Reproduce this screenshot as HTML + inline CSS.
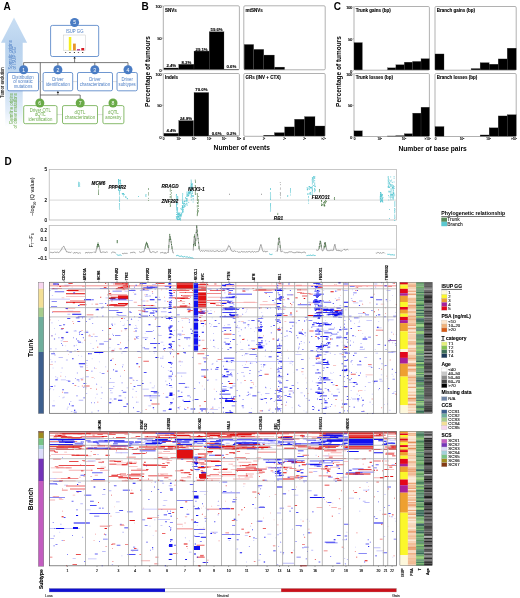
<!DOCTYPE html>
<html><head><meta charset="utf-8"><title>Figure</title>
<style>html,body{margin:0;padding:0;background:#fff;overflow:hidden}svg{display:block}text{font-family:"Liberation Sans", Arial, sans-serif}</style>
</head><body>
<svg width="520" height="598" viewBox="0 0 520 598">
<rect width="520" height="598" fill="#fff"/>
<text x="3.50" y="9.60" font-size="10" fill="#000" font-weight="bold">A</text>
<defs><linearGradient id="ag" x1="0" y1="0" x2="0" y2="1"><stop offset="0" stop-color="#cadff4"/><stop offset="0.25" stop-color="#b9d3ee"/><stop offset="0.6" stop-color="#c2d9f0"/><stop offset="0.85" stop-color="#e2edf9"/><stop offset="1" stop-color="#ffffff"/></linearGradient></defs>
<polygon points="14,17.4 27.1,42.8 22.7,42.8 22.7,127 5.2,127 5.2,42.8 1,42.8" fill="url(#ag)"/>
<text x="11.80" y="69.50" font-size="5.0" fill="#4a7cc4" transform="rotate(-90 11.8 69.5) translate(11.80 69.50) scale(0.86 1) translate(-11.80 -69.50)">Somatic origins</text>
<text x="16.20" y="69.50" font-size="5.0" fill="#4a7cc4" transform="rotate(-90 16.2 69.5) translate(16.20 69.50) scale(0.86 1) translate(-16.20 -69.50)">of ISUP GG</text>
<text x="12.60" y="124.30" font-size="5.0" fill="#6aaa48" transform="rotate(-90 12.6 124.3) translate(12.60 124.30) scale(0.86 1) translate(-12.60 -124.30)">Germline origins</text>
<text x="17.10" y="128.50" font-size="5.0" fill="#6aaa48" transform="rotate(-90 17.1 128.5) translate(17.10 128.50) scale(0.86 1) translate(-17.10 -128.50)">of driver mutations</text>
<text x="3.90" y="98.00" font-size="5.0" fill="#222" transform="rotate(-90 3.9 98.0) translate(3.90 98.00) scale(0.86 1) translate(-3.90 -98.00)" stroke="#222" stroke-width="0.14">Tumor evolution</text>
<line x1="23.60" y1="62.60" x2="128.00" y2="62.60" stroke="#444" stroke-width="0.7"/>
<line x1="23.60" y1="62.60" x2="23.60" y2="66.00" stroke="#444" stroke-width="0.7"/>
<line x1="57.90" y1="62.60" x2="57.90" y2="66.00" stroke="#444" stroke-width="0.7"/>
<line x1="94.80" y1="62.60" x2="94.80" y2="66.00" stroke="#444" stroke-width="0.7"/>
<line x1="128.00" y1="62.60" x2="128.00" y2="66.00" stroke="#444" stroke-width="0.7"/>
<line x1="74.60" y1="62.60" x2="74.60" y2="57.20" stroke="#444" stroke-width="0.7"/>
<polygon points="74.6,56.4 73.4,58.6 75.8,58.6" fill="#222"/>
<line x1="40.30" y1="62.60" x2="40.30" y2="99.50" stroke="#444" stroke-width="0.7"/>
<line x1="40.30" y1="95.00" x2="80.20" y2="95.00" stroke="#444" stroke-width="0.7"/>
<line x1="80.20" y1="95.00" x2="80.20" y2="99.50" stroke="#444" stroke-width="0.7"/>
<line x1="57.90" y1="95.00" x2="57.90" y2="91.60" stroke="#444" stroke-width="0.7"/>
<polygon points="57.9,90.9 56.7,93.0 59.1,93.0" fill="#222"/>
<line x1="38.50" y1="81.60" x2="43.10" y2="81.60" stroke="#c8c8c8" stroke-width="0.6"/>
<line x1="72.70" y1="81.60" x2="77.50" y2="81.60" stroke="#c8c8c8" stroke-width="0.6"/>
<line x1="112.50" y1="81.60" x2="117.00" y2="81.60" stroke="#c8c8c8" stroke-width="0.6"/>
<line x1="57.00" y1="114.60" x2="62.50" y2="114.60" stroke="#c8c8c8" stroke-width="0.6"/>
<line x1="97.50" y1="114.60" x2="102.90" y2="114.60" stroke="#c8c8c8" stroke-width="0.6"/>
<rect x="7.50" y="72.50" width="31.00" height="18.30" fill="#fff" stroke="#4a7cc4" stroke-width="0.8" rx="1.6"/>
<text x="23.00" y="79.05" font-size="5.0" fill="#4a7cc4" text-anchor="middle" transform="translate(23.00 79.05) scale(0.86 1) translate(-23.00 -79.05)">Distribution</text>
<text x="23.00" y="83.45" font-size="5.0" fill="#4a7cc4" text-anchor="middle" transform="translate(23.00 83.45) scale(0.86 1) translate(-23.00 -83.45)">of somatic</text>
<text x="23.00" y="87.85" font-size="5.0" fill="#4a7cc4" text-anchor="middle" transform="translate(23.00 87.85) scale(0.86 1) translate(-23.00 -87.85)">mutations</text>
<rect x="43.10" y="72.50" width="29.60" height="18.30" fill="#fff" stroke="#4a7cc4" stroke-width="0.8" rx="1.6"/>
<text x="57.90" y="81.25" font-size="5.0" fill="#4a7cc4" text-anchor="middle" transform="translate(57.90 81.25) scale(0.86 1) translate(-57.90 -81.25)">Driver</text>
<text x="57.90" y="85.65" font-size="5.0" fill="#4a7cc4" text-anchor="middle" transform="translate(57.90 85.65) scale(0.86 1) translate(-57.90 -85.65)">identification</text>
<rect x="77.50" y="72.50" width="35.00" height="18.30" fill="#fff" stroke="#4a7cc4" stroke-width="0.8" rx="1.6"/>
<text x="95.00" y="81.25" font-size="5.0" fill="#4a7cc4" text-anchor="middle" transform="translate(95.00 81.25) scale(0.86 1) translate(-95.00 -81.25)">Driver</text>
<text x="95.00" y="85.65" font-size="5.0" fill="#4a7cc4" text-anchor="middle" transform="translate(95.00 85.65) scale(0.86 1) translate(-95.00 -85.65)">characterization</text>
<rect x="117.00" y="72.50" width="20.30" height="18.30" fill="#fff" stroke="#4a7cc4" stroke-width="0.8" rx="1.6"/>
<text x="127.15" y="81.25" font-size="5.0" fill="#4a7cc4" text-anchor="middle" transform="translate(127.15 81.25) scale(0.86 1) translate(-127.15 -81.25)">Driver</text>
<text x="127.15" y="85.65" font-size="5.0" fill="#4a7cc4" text-anchor="middle" transform="translate(127.15 85.65) scale(0.86 1) translate(-127.15 -85.65)">subtypes</text>
<rect x="23.70" y="105.60" width="33.30" height="18.10" fill="#fff" stroke="#6aaa48" stroke-width="0.8" rx="1.6"/>
<text x="40.35" y="112.05" font-size="5.0" fill="#6aaa48" text-anchor="middle" transform="translate(40.35 112.05) scale(0.86 1) translate(-40.35 -112.05)">Driver QTL</text>
<text x="40.35" y="116.45" font-size="5.0" fill="#6aaa48" text-anchor="middle" transform="translate(40.35 116.45) scale(0.86 1) translate(-40.35 -116.45)">dQTL</text>
<text x="40.35" y="120.85" font-size="5.0" fill="#6aaa48" text-anchor="middle" transform="translate(40.35 120.85) scale(0.86 1) translate(-40.35 -120.85)">identification</text>
<rect x="62.50" y="105.60" width="35.00" height="18.10" fill="#fff" stroke="#6aaa48" stroke-width="0.8" rx="1.6"/>
<text x="80.00" y="114.25" font-size="5.0" fill="#6aaa48" text-anchor="middle" transform="translate(80.00 114.25) scale(0.86 1) translate(-80.00 -114.25)">dQTL</text>
<text x="80.00" y="118.65" font-size="5.0" fill="#6aaa48" text-anchor="middle" transform="translate(80.00 118.65) scale(0.86 1) translate(-80.00 -118.65)">characterization</text>
<rect x="102.90" y="105.60" width="21.00" height="18.10" fill="#fff" stroke="#6aaa48" stroke-width="0.8" rx="1.6"/>
<text x="113.40" y="114.25" font-size="5.0" fill="#6aaa48" text-anchor="middle" transform="translate(113.40 114.25) scale(0.86 1) translate(-113.40 -114.25)">dQTL</text>
<text x="113.40" y="118.65" font-size="5.0" fill="#6aaa48" text-anchor="middle" transform="translate(113.40 118.65) scale(0.86 1) translate(-113.40 -118.65)">ancestry</text>
<rect x="50.60" y="25.40" width="48.10" height="31.10" fill="#fff" stroke="#4a7cc4" stroke-width="0.8" rx="1.8"/>
<text x="74.60" y="33.20" font-size="5.0" fill="#4a7cc4" text-anchor="middle" transform="translate(74.60 33.20) scale(0.86 1) translate(-74.60 -33.20)">ISUP GG</text>
<rect x="63.50" y="35.00" width="22.10" height="15.40" fill="#fff" stroke="#bbb" stroke-width="0.4"/>
<rect x="64.60" y="49.60" width="2.00" height="0.80" fill="#f8f4d0"/>
<rect x="68.80" y="37.00" width="2.50" height="13.40" fill="#f5ee20"/>
<rect x="73.00" y="43.60" width="2.80" height="6.80" fill="#e8952a"/>
<rect x="77.00" y="49.20" width="3.00" height="1.20" fill="#a8208c"/>
<rect x="81.30" y="48.00" width="2.90" height="2.40" fill="#d8161e"/>
<text x="65.60" y="53.40" font-size="2.4" fill="#333" text-anchor="middle" stroke="#333" stroke-width="0.14">1</text>
<text x="70.00" y="53.40" font-size="2.4" fill="#333" text-anchor="middle" stroke="#333" stroke-width="0.14">2</text>
<text x="74.40" y="53.40" font-size="2.4" fill="#333" text-anchor="middle" stroke="#333" stroke-width="0.14">3</text>
<text x="78.50" y="53.40" font-size="2.4" fill="#333" text-anchor="middle" stroke="#333" stroke-width="0.14">4</text>
<text x="82.70" y="53.40" font-size="2.4" fill="#333" text-anchor="middle" stroke="#333" stroke-width="0.14">5</text>
<circle cx="23.6" cy="69.8" r="4.5" fill="#4a7cc4"/>
<text x="23.60" y="71.60" font-size="5.2" fill="#fff" text-anchor="middle">1</text>
<circle cx="57.9" cy="69.8" r="4.5" fill="#4a7cc4"/>
<text x="57.90" y="71.60" font-size="5.2" fill="#fff" text-anchor="middle">2</text>
<circle cx="94.8" cy="69.8" r="4.5" fill="#4a7cc4"/>
<text x="94.80" y="71.60" font-size="5.2" fill="#fff" text-anchor="middle">3</text>
<circle cx="128.0" cy="69.8" r="4.5" fill="#4a7cc4"/>
<text x="128.00" y="71.60" font-size="5.2" fill="#fff" text-anchor="middle">4</text>
<circle cx="74.6" cy="22.5" r="4.5" fill="#4a7cc4"/>
<text x="74.60" y="24.30" font-size="5.2" fill="#fff" text-anchor="middle">5</text>
<circle cx="39.8" cy="103.0" r="4.5" fill="#6aaa48"/>
<text x="39.80" y="104.80" font-size="5.2" fill="#fff" text-anchor="middle">6</text>
<circle cx="80.2" cy="103.0" r="4.5" fill="#6aaa48"/>
<text x="80.20" y="104.80" font-size="5.2" fill="#fff" text-anchor="middle">7</text>
<circle cx="113.0" cy="103.0" r="4.5" fill="#6aaa48"/>
<text x="113.00" y="104.80" font-size="5.2" fill="#fff" text-anchor="middle">8</text>
<text x="141.50" y="9.60" font-size="10" fill="#000" font-weight="bold">B</text>
<rect x="163.30" y="5.80" width="76.10" height="64.00" fill="#fff" stroke="#a8a8a8" stroke-width="0.9" rx="1.2"/>
<rect x="163.90" y="67.98" width="14.80" height="1.52" fill="#000" stroke="#555" stroke-width="0.25"/>
<rect x="178.70" y="64.24" width="15.30" height="5.26" fill="#000" stroke="#555" stroke-width="0.25"/>
<rect x="194.00" y="51.05" width="15.20" height="18.45" fill="#000" stroke="#555" stroke-width="0.25"/>
<rect x="209.20" y="31.71" width="14.80" height="37.79" fill="#000" stroke="#555" stroke-width="0.25"/>
<rect x="224.00" y="69.12" width="14.80" height="0.38" fill="#000" stroke="#555" stroke-width="0.25"/>
<text x="165.10" y="11.50" font-size="4.5" fill="#000" font-weight="bold" stroke="#000" stroke-width="0.1">SNVs</text>
<text x="171.30" y="66.80" font-size="4.3" fill="#000" font-weight="bold" text-anchor="middle" stroke="#000" stroke-width="0.1">2.4%</text>
<text x="186.40" y="63.80" font-size="4.3" fill="#000" font-weight="bold" text-anchor="middle" stroke="#000" stroke-width="0.1">8.3%</text>
<text x="201.60" y="50.50" font-size="4.3" fill="#000" font-weight="bold" text-anchor="middle" stroke="#000" stroke-width="0.1">29.1%</text>
<text x="216.60" y="31.00" font-size="4.3" fill="#000" font-weight="bold" text-anchor="middle" stroke="#000" stroke-width="0.1">59.6%</text>
<text x="231.40" y="67.60" font-size="4.3" fill="#000" font-weight="bold" text-anchor="middle" stroke="#000" stroke-width="0.1">0.6%</text>
<text x="161.50" y="7.90" font-size="3.6" fill="#000" text-anchor="end" stroke="#000" stroke-width="0.18">100</text>
<line x1="162.00" y1="6.00" x2="163.30" y2="6.00" stroke="#333" stroke-width="0.3"/>
<text x="161.50" y="40.10" font-size="3.6" fill="#000" text-anchor="end" stroke="#000" stroke-width="0.18">50</text>
<line x1="162.00" y1="38.20" x2="163.30" y2="38.20" stroke="#333" stroke-width="0.3"/>
<text x="161.50" y="72.10" font-size="3.6" fill="#000" text-anchor="end" stroke="#000" stroke-width="0.18">0</text>
<line x1="162.00" y1="70.20" x2="163.30" y2="70.20" stroke="#333" stroke-width="0.3"/>
<rect x="243.80" y="5.80" width="81.40" height="64.00" fill="#fff" stroke="#a8a8a8" stroke-width="0.9" rx="1.2"/>
<rect x="244.20" y="44.46" width="9.50" height="25.04" fill="#000" stroke="#555" stroke-width="0.25"/>
<rect x="253.70" y="49.34" width="10.10" height="20.16" fill="#000" stroke="#555" stroke-width="0.25"/>
<rect x="263.80" y="55.04" width="10.60" height="14.46" fill="#000" stroke="#555" stroke-width="0.25"/>
<rect x="274.40" y="67.09" width="10.20" height="2.41" fill="#000" stroke="#555" stroke-width="0.25"/>
<text x="245.60" y="11.50" font-size="4.5" fill="#000" font-weight="bold" stroke="#000" stroke-width="0.1">mtSNVs</text>
<rect x="163.30" y="73.50" width="76.10" height="62.80" fill="#fff" stroke="#a8a8a8" stroke-width="0.9" rx="1.2"/>
<rect x="163.90" y="133.26" width="14.80" height="2.74" fill="#000" stroke="#555" stroke-width="0.25"/>
<rect x="178.70" y="120.57" width="14.90" height="15.43" fill="#000" stroke="#555" stroke-width="0.25"/>
<rect x="194.00" y="92.46" width="14.80" height="43.54" fill="#000" stroke="#555" stroke-width="0.25"/>
<rect x="209.20" y="135.63" width="14.80" height="0.37" fill="#000" stroke="#555" stroke-width="0.25"/>
<rect x="224.00" y="135.88" width="14.80" height="0.12" fill="#000" stroke="#555" stroke-width="0.25"/>
<text x="165.10" y="79.20" font-size="4.5" fill="#000" font-weight="bold" stroke="#000" stroke-width="0.1">Indels</text>
<text x="171.30" y="131.60" font-size="4.3" fill="#000" font-weight="bold" text-anchor="middle" stroke="#000" stroke-width="0.1">4.4%</text>
<text x="186.00" y="119.80" font-size="4.3" fill="#000" font-weight="bold" text-anchor="middle" stroke="#000" stroke-width="0.1">24.8%</text>
<text x="201.40" y="91.00" font-size="4.3" fill="#000" font-weight="bold" text-anchor="middle" stroke="#000" stroke-width="0.1">70.0%</text>
<text x="216.60" y="134.60" font-size="4.3" fill="#000" font-weight="bold" text-anchor="middle" stroke="#000" stroke-width="0.1">0.6%</text>
<text x="231.40" y="134.80" font-size="4.3" fill="#000" font-weight="bold" text-anchor="middle" stroke="#000" stroke-width="0.1">0.2%</text>
<text x="161.50" y="75.60" font-size="3.6" fill="#000" text-anchor="end" stroke="#000" stroke-width="0.18">100</text>
<line x1="162.00" y1="73.70" x2="163.30" y2="73.70" stroke="#333" stroke-width="0.3"/>
<text x="161.50" y="107.20" font-size="3.6" fill="#000" text-anchor="end" stroke="#000" stroke-width="0.18">50</text>
<line x1="162.00" y1="105.30" x2="163.30" y2="105.30" stroke="#333" stroke-width="0.3"/>
<text x="161.50" y="138.60" font-size="3.6" fill="#000" text-anchor="end" stroke="#000" stroke-width="0.18">0</text>
<line x1="162.00" y1="136.70" x2="163.30" y2="136.70" stroke="#333" stroke-width="0.3"/>
<rect x="243.80" y="73.50" width="81.40" height="62.80" fill="#fff" stroke="#a8a8a8" stroke-width="0.9" rx="1.2"/>
<rect x="263.80" y="135.19" width="10.60" height="0.81" fill="#000" stroke="#555" stroke-width="0.25"/>
<rect x="274.40" y="132.64" width="10.20" height="3.36" fill="#000" stroke="#555" stroke-width="0.25"/>
<rect x="284.60" y="126.92" width="9.90" height="9.08" fill="#000" stroke="#555" stroke-width="0.25"/>
<rect x="294.50" y="119.21" width="10.00" height="16.79" fill="#000" stroke="#555" stroke-width="0.25"/>
<rect x="304.50" y="116.59" width="10.50" height="19.41" fill="#000" stroke="#555" stroke-width="0.25"/>
<rect x="315.00" y="125.99" width="9.90" height="10.01" fill="#000" stroke="#555" stroke-width="0.25"/>
<text x="245.60" y="79.20" font-size="4.5" fill="#000" font-weight="bold" stroke="#000" stroke-width="0.1">GRs (INV + CTX)</text>
<text x="163.50" y="140.20" font-size="3.0" fill="#000" text-anchor="middle" stroke="#000" stroke-width="0.14">0</text>
<text x="178.70" y="140.20" font-size="3.0" fill="#000" text-anchor="middle" stroke="#000" stroke-width="0.14">10<tspan dy="-1" font-size="1.8">1</tspan></text>
<text x="194.00" y="140.20" font-size="3.0" fill="#000" text-anchor="middle" stroke="#000" stroke-width="0.14">10<tspan dy="-1" font-size="1.8">2</tspan></text>
<text x="209.20" y="140.20" font-size="3.0" fill="#000" text-anchor="middle" stroke="#000" stroke-width="0.14">10<tspan dy="-1" font-size="1.8">3</tspan></text>
<text x="224.00" y="140.20" font-size="3.0" fill="#000" text-anchor="middle" stroke="#000" stroke-width="0.14">10<tspan dy="-1" font-size="1.8">4</tspan></text>
<text x="238.80" y="140.20" font-size="3.0" fill="#000" text-anchor="middle" stroke="#000" stroke-width="0.14">10<tspan dy="-1" font-size="1.8">5</tspan></text>
<text x="244.20" y="140.20" font-size="3.0" fill="#000" text-anchor="middle" stroke="#000" stroke-width="0.14">0</text>
<text x="264.00" y="140.20" font-size="3.0" fill="#000" text-anchor="middle" stroke="#000" stroke-width="0.14">2<tspan dy="-1" font-size="1.8">1</tspan></text>
<text x="284.50" y="140.20" font-size="3.0" fill="#000" text-anchor="middle" stroke="#000" stroke-width="0.14">2<tspan dy="-1" font-size="1.8">3</tspan></text>
<text x="304.50" y="140.20" font-size="3.0" fill="#000" text-anchor="middle" stroke="#000" stroke-width="0.14">2<tspan dy="-1" font-size="1.8">5</tspan></text>
<text x="323.50" y="140.20" font-size="3.0" fill="#000" text-anchor="middle" stroke="#000" stroke-width="0.14">&gt;2<tspan dy="-1" font-size="1.8">7</tspan></text>
<text x="241.80" y="150.00" font-size="6.7" fill="#000" font-weight="bold" text-anchor="middle">Number of events</text>
<text x="150.30" y="71.50" font-size="6.5" fill="#000" font-weight="bold" text-anchor="middle" transform="rotate(-90 150.3 71.5)">Percentage of tumours</text>
<text x="333.80" y="9.60" font-size="10" fill="#000" font-weight="bold">C</text>
<rect x="354.00" y="6.50" width="75.40" height="63.70" fill="#fff" stroke="#a8a8a8" stroke-width="0.9" rx="1.2"/>
<rect x="354.00" y="42.58" width="8.38" height="27.32" fill="#000" stroke="#555" stroke-width="0.25"/>
<rect x="387.51" y="67.82" width="8.38" height="2.08" fill="#000" stroke="#555" stroke-width="0.25"/>
<rect x="395.89" y="64.73" width="8.38" height="5.17" fill="#000" stroke="#555" stroke-width="0.25"/>
<rect x="404.27" y="62.14" width="8.38" height="7.76" fill="#000" stroke="#555" stroke-width="0.25"/>
<rect x="412.64" y="61.38" width="8.38" height="8.52" fill="#000" stroke="#555" stroke-width="0.25"/>
<rect x="421.02" y="58.67" width="8.38" height="11.23" fill="#000" stroke="#555" stroke-width="0.25"/>
<text x="355.80" y="12.20" font-size="4.5" fill="#000" font-weight="bold" stroke="#000" stroke-width="0.1">Trunk gains (bp)</text>
<text x="352.20" y="8.60" font-size="3.6" fill="#000" text-anchor="end" stroke="#000" stroke-width="0.18">100</text>
<line x1="352.70" y1="6.70" x2="354.00" y2="6.70" stroke="#333" stroke-width="0.3"/>
<text x="352.20" y="40.65" font-size="3.6" fill="#000" text-anchor="end" stroke="#000" stroke-width="0.18">50</text>
<line x1="352.70" y1="38.75" x2="354.00" y2="38.75" stroke="#333" stroke-width="0.3"/>
<text x="352.20" y="72.50" font-size="3.6" fill="#000" text-anchor="end" stroke="#000" stroke-width="0.18">0</text>
<line x1="352.70" y1="70.60" x2="354.00" y2="70.60" stroke="#333" stroke-width="0.3"/>
<rect x="435.00" y="6.50" width="81.20" height="63.70" fill="#fff" stroke="#a8a8a8" stroke-width="0.9" rx="1.2"/>
<rect x="435.00" y="53.94" width="9.02" height="15.96" fill="#000" stroke="#555" stroke-width="0.25"/>
<rect x="471.09" y="68.51" width="9.02" height="1.39" fill="#000" stroke="#555" stroke-width="0.25"/>
<rect x="480.11" y="62.64" width="9.02" height="7.26" fill="#000" stroke="#555" stroke-width="0.25"/>
<rect x="489.13" y="64.16" width="9.02" height="5.74" fill="#000" stroke="#555" stroke-width="0.25"/>
<rect x="498.16" y="58.92" width="9.02" height="10.98" fill="#000" stroke="#555" stroke-width="0.25"/>
<rect x="507.18" y="48.13" width="9.02" height="21.77" fill="#000" stroke="#555" stroke-width="0.25"/>
<text x="436.80" y="12.20" font-size="4.5" fill="#000" font-weight="bold" stroke="#000" stroke-width="0.1">Branch gains (bp)</text>
<rect x="354.00" y="73.50" width="75.40" height="63.00" fill="#fff" stroke="#a8a8a8" stroke-width="0.9" rx="1.2"/>
<rect x="354.00" y="130.83" width="8.38" height="5.37" fill="#000" stroke="#555" stroke-width="0.25"/>
<rect x="387.51" y="135.95" width="8.38" height="0.25" fill="#000" stroke="#555" stroke-width="0.25"/>
<rect x="395.89" y="135.58" width="8.38" height="0.62" fill="#000" stroke="#555" stroke-width="0.25"/>
<rect x="404.27" y="133.70" width="8.38" height="2.50" fill="#000" stroke="#555" stroke-width="0.25"/>
<rect x="412.64" y="113.11" width="8.38" height="23.09" fill="#000" stroke="#555" stroke-width="0.25"/>
<rect x="421.02" y="107.18" width="8.38" height="29.02" fill="#000" stroke="#555" stroke-width="0.25"/>
<text x="355.80" y="79.20" font-size="4.5" fill="#000" font-weight="bold" stroke="#000" stroke-width="0.1">Trunk losses (bp)</text>
<text x="352.20" y="75.60" font-size="3.6" fill="#000" text-anchor="end" stroke="#000" stroke-width="0.18">100</text>
<line x1="352.70" y1="73.70" x2="354.00" y2="73.70" stroke="#333" stroke-width="0.3"/>
<text x="352.20" y="107.30" font-size="3.6" fill="#000" text-anchor="end" stroke="#000" stroke-width="0.18">50</text>
<line x1="352.70" y1="105.40" x2="354.00" y2="105.40" stroke="#333" stroke-width="0.3"/>
<text x="352.20" y="138.80" font-size="3.6" fill="#000" text-anchor="end" stroke="#000" stroke-width="0.18">0</text>
<line x1="352.70" y1="136.90" x2="354.00" y2="136.90" stroke="#333" stroke-width="0.3"/>
<rect x="435.00" y="73.50" width="81.20" height="63.00" fill="#fff" stroke="#a8a8a8" stroke-width="0.9" rx="1.2"/>
<rect x="435.00" y="126.53" width="9.02" height="9.67" fill="#000" stroke="#555" stroke-width="0.25"/>
<rect x="480.11" y="134.95" width="9.02" height="1.25" fill="#000" stroke="#555" stroke-width="0.25"/>
<rect x="489.13" y="127.78" width="9.02" height="8.42" fill="#000" stroke="#555" stroke-width="0.25"/>
<rect x="498.16" y="115.92" width="9.02" height="20.28" fill="#000" stroke="#555" stroke-width="0.25"/>
<rect x="507.18" y="114.67" width="9.02" height="21.53" fill="#000" stroke="#555" stroke-width="0.25"/>
<text x="436.80" y="79.20" font-size="4.5" fill="#000" font-weight="bold" stroke="#000" stroke-width="0.1">Branch losses (bp)</text>
<text x="354.60" y="140.20" font-size="3.0" fill="#000" text-anchor="middle" stroke="#000" stroke-width="0.14">0</text>
<text x="379.70" y="140.20" font-size="3.0" fill="#000" text-anchor="middle" stroke="#000" stroke-width="0.14">10<tspan dy="-1" font-size="1.8">5</tspan></text>
<text x="404.00" y="140.20" font-size="3.0" fill="#000" text-anchor="middle" stroke="#000" stroke-width="0.14">10<tspan dy="-1" font-size="1.8">6</tspan></text>
<text x="427.60" y="140.20" font-size="3.0" fill="#000" text-anchor="middle" stroke="#000" stroke-width="0.14">&gt;10<tspan dy="-1" font-size="1.8">7</tspan></text>
<text x="435.60" y="140.20" font-size="3.0" fill="#000" text-anchor="middle" stroke="#000" stroke-width="0.14">0</text>
<text x="462.00" y="140.20" font-size="3.0" fill="#000" text-anchor="middle" stroke="#000" stroke-width="0.14">10<tspan dy="-1" font-size="1.8">5</tspan></text>
<text x="488.50" y="140.20" font-size="3.0" fill="#000" text-anchor="middle" stroke="#000" stroke-width="0.14">10<tspan dy="-1" font-size="1.8">6</tspan></text>
<text x="514.00" y="140.20" font-size="3.0" fill="#000" text-anchor="middle" stroke="#000" stroke-width="0.14">&gt;10<tspan dy="-1" font-size="1.8">7</tspan></text>
<text x="432.60" y="151.20" font-size="6.7" fill="#000" font-weight="bold" text-anchor="middle">Number of base pairs</text>
<text x="341.00" y="71.50" font-size="6.5" fill="#000" font-weight="bold" text-anchor="middle" transform="rotate(-90 341.0 71.5)">Percentage of tumours</text>
<text x="4.50" y="165.00" font-size="10" fill="#000" font-weight="bold">D</text>
<rect x="49.20" y="169.50" width="347.20" height="50.50" fill="none" stroke="#b0b0b0" stroke-width="0.7"/>
<line x1="49.20" y1="200.10" x2="396.40" y2="200.10" stroke="#bdbdbd" stroke-width="0.6"/>
<text x="47.00" y="171.10" font-size="4.6" fill="#000" text-anchor="end" stroke="#000" stroke-width="0.14">5</text>
<text x="47.00" y="201.70" font-size="4.6" fill="#000" text-anchor="end" stroke="#000" stroke-width="0.14">2</text>
<text x="47.00" y="221.60" font-size="4.6" fill="#000" text-anchor="end" stroke="#000" stroke-width="0.14">0</text>
<text x="34.50" y="196.70" font-size="5.6" fill="#000" text-anchor="middle" transform="rotate(-90 34.5 196.7)">−log<tspan dy="1.2" font-size="3.2">10</tspan><tspan dy="-1.2"> (Q value)</tspan></text>
<rect x="49.20" y="225.50" width="347.20" height="33.00" fill="none" stroke="#b0b0b0" stroke-width="0.7"/>
<line x1="49.20" y1="249.20" x2="396.40" y2="249.20" stroke="#c8c8c8" stroke-width="0.5"/>
<text x="47.00" y="231.80" font-size="4.6" fill="#000" text-anchor="end" stroke="#000" stroke-width="0.14">0.2</text>
<text x="47.00" y="241.30" font-size="4.6" fill="#000" text-anchor="end" stroke="#000" stroke-width="0.14">0.1</text>
<text x="47.00" y="250.80" font-size="4.6" fill="#000" text-anchor="end" stroke="#000" stroke-width="0.14">0</text>
<text x="47.00" y="260.20" font-size="4.6" fill="#000" text-anchor="end" stroke="#000" stroke-width="0.14">−0.1</text>
<text x="32.80" y="240.30" font-size="5.6" fill="#000" text-anchor="middle" transform="rotate(-90 32.8 240.3)">F<tspan dy="1.2" font-size="3.2">T</tspan><tspan dy="-1.2">−F</tspan><tspan dy="1.2" font-size="3.2">B</tspan></text>
<rect x="78.15" y="181.80" width="0.90" height="0.80" fill="#4fc3cf"/>
<rect x="78.12" y="182.90" width="0.90" height="0.80" fill="#4fc3cf"/>
<rect x="78.21" y="184.00" width="0.90" height="0.80" fill="#4fc3cf"/>
<rect x="78.25" y="185.10" width="0.90" height="0.80" fill="#4fc3cf"/>
<rect x="78.23" y="186.20" width="0.90" height="0.80" fill="#4fc3cf"/>
<rect x="79.03" y="182.50" width="0.90" height="0.80" fill="#4fc3cf"/>
<rect x="79.25" y="183.60" width="0.90" height="0.80" fill="#4fc3cf"/>
<rect x="79.07" y="184.70" width="0.90" height="0.80" fill="#4fc3cf"/>
<rect x="79.28" y="185.80" width="0.90" height="0.80" fill="#4fc3cf"/>
<rect x="98.12" y="183.00" width="0.90" height="0.80" fill="#4d7a45"/>
<rect x="98.26" y="185.20" width="0.90" height="0.80" fill="#4d7a45"/>
<rect x="98.04" y="186.30" width="0.90" height="0.80" fill="#4d7a45"/>
<rect x="98.09" y="187.40" width="0.90" height="0.80" fill="#4d7a45"/>
<rect x="98.17" y="189.60" width="0.90" height="0.80" fill="#4d7a45"/>
<rect x="98.11" y="190.70" width="0.90" height="0.80" fill="#4d7a45"/>
<rect x="98.02" y="191.80" width="0.90" height="0.80" fill="#4d7a45"/>
<rect x="98.06" y="192.90" width="0.90" height="0.80" fill="#4d7a45"/>
<rect x="98.13" y="194.00" width="0.90" height="0.80" fill="#4d7a45"/>
<rect x="118.13" y="179.00" width="1.00" height="0.80" fill="#4fc3cf"/>
<rect x="118.04" y="180.10" width="1.00" height="0.80" fill="#4fc3cf"/>
<rect x="118.16" y="181.20" width="1.00" height="0.80" fill="#4fc3cf"/>
<rect x="118.12" y="182.30" width="1.00" height="0.80" fill="#4fc3cf"/>
<rect x="118.21" y="183.40" width="1.00" height="0.80" fill="#4fc3cf"/>
<rect x="118.04" y="184.50" width="1.00" height="0.80" fill="#4fc3cf"/>
<rect x="118.08" y="186.70" width="1.00" height="0.80" fill="#4fc3cf"/>
<rect x="118.00" y="187.80" width="1.00" height="0.80" fill="#4fc3cf"/>
<rect x="117.96" y="188.90" width="1.00" height="0.80" fill="#4fc3cf"/>
<rect x="118.18" y="190.00" width="1.00" height="0.80" fill="#4fc3cf"/>
<rect x="119.81" y="180.00" width="1.00" height="0.80" fill="#4fc3cf"/>
<rect x="119.76" y="181.10" width="1.00" height="0.80" fill="#4fc3cf"/>
<rect x="119.72" y="182.20" width="1.00" height="0.80" fill="#4fc3cf"/>
<rect x="119.80" y="183.30" width="1.00" height="0.80" fill="#4fc3cf"/>
<rect x="119.75" y="185.50" width="1.00" height="0.80" fill="#4fc3cf"/>
<rect x="119.76" y="186.60" width="1.00" height="0.80" fill="#4fc3cf"/>
<rect x="119.85" y="187.70" width="1.00" height="0.80" fill="#4fc3cf"/>
<rect x="119.67" y="189.90" width="1.00" height="0.80" fill="#4fc3cf"/>
<rect x="118.91" y="190.00" width="0.90" height="0.80" fill="#4fc3cf"/>
<rect x="118.95" y="191.10" width="0.90" height="0.80" fill="#4fc3cf"/>
<rect x="118.92" y="192.20" width="0.90" height="0.80" fill="#4fc3cf"/>
<rect x="118.94" y="193.30" width="0.90" height="0.80" fill="#4fc3cf"/>
<rect x="119.02" y="194.40" width="0.90" height="0.80" fill="#4fc3cf"/>
<rect x="119.03" y="196.60" width="0.90" height="0.80" fill="#4fc3cf"/>
<rect x="119.17" y="197.70" width="0.90" height="0.80" fill="#4fc3cf"/>
<rect x="119.16" y="198.80" width="0.90" height="0.80" fill="#4fc3cf"/>
<rect x="119.02" y="199.90" width="0.90" height="0.80" fill="#4fc3cf"/>
<rect x="119.17" y="201.00" width="0.90" height="0.80" fill="#4fc3cf"/>
<rect x="118.95" y="203.20" width="0.90" height="0.80" fill="#4fc3cf"/>
<rect x="118.97" y="204.30" width="0.90" height="0.80" fill="#4fc3cf"/>
<rect x="119.08" y="205.40" width="0.90" height="0.80" fill="#4fc3cf"/>
<rect x="118.90" y="206.50" width="0.90" height="0.80" fill="#4fc3cf"/>
<rect x="119.01" y="207.60" width="0.90" height="0.80" fill="#4fc3cf"/>
<rect x="119.19" y="208.70" width="0.90" height="0.80" fill="#4fc3cf"/>
<rect x="120.07" y="184.67" width="0.90" height="0.80" fill="#4fc3cf"/>
<rect x="119.85" y="186.44" width="0.90" height="0.80" fill="#4fc3cf"/>
<rect x="118.16" y="188.89" width="0.90" height="0.80" fill="#4fc3cf"/>
<rect x="120.34" y="188.62" width="0.90" height="0.80" fill="#4fc3cf"/>
<rect x="120.39" y="183.32" width="0.90" height="0.80" fill="#4fc3cf"/>
<rect x="119.20" y="180.14" width="0.90" height="0.80" fill="#4fc3cf"/>
<rect x="119.90" y="179.68" width="0.90" height="0.80" fill="#4fc3cf"/>
<rect x="118.20" y="181.30" width="0.90" height="0.80" fill="#4fc3cf"/>
<rect x="118.49" y="182.74" width="0.90" height="0.80" fill="#4fc3cf"/>
<rect x="118.16" y="179.00" width="0.90" height="0.80" fill="#4fc3cf"/>
<rect x="122.12" y="193.61" width="0.90" height="0.80" fill="#4fc3cf"/>
<rect x="122.73" y="193.32" width="0.90" height="0.80" fill="#4fc3cf"/>
<rect x="122.35" y="193.57" width="0.90" height="0.80" fill="#4fc3cf"/>
<rect x="123.22" y="195.56" width="0.90" height="0.80" fill="#4fc3cf"/>
<rect x="126.91" y="198.44" width="0.90" height="0.80" fill="#4fc3cf"/>
<rect x="121.79" y="193.22" width="0.90" height="0.80" fill="#4fc3cf"/>
<rect x="123.85" y="193.91" width="0.90" height="0.80" fill="#4fc3cf"/>
<rect x="122.84" y="193.17" width="0.90" height="0.80" fill="#4fc3cf"/>
<rect x="122.80" y="193.05" width="0.90" height="0.80" fill="#4fc3cf"/>
<rect x="125.41" y="196.49" width="0.90" height="0.80" fill="#4fc3cf"/>
<rect x="125.10" y="196.62" width="0.90" height="0.80" fill="#4fc3cf"/>
<rect x="123.27" y="193.97" width="0.90" height="0.80" fill="#4fc3cf"/>
<rect x="125.62" y="196.84" width="0.90" height="0.80" fill="#4fc3cf"/>
<rect x="126.83" y="198.03" width="0.90" height="0.80" fill="#4fc3cf"/>
<rect x="138.07" y="196.20" width="0.90" height="0.80" fill="#4fc3cf"/>
<rect x="145.51" y="194.00" width="0.90" height="0.80" fill="#4fc3cf"/>
<rect x="145.41" y="195.10" width="0.90" height="0.80" fill="#4fc3cf"/>
<rect x="145.48" y="196.20" width="0.90" height="0.80" fill="#4fc3cf"/>
<rect x="148.29" y="188.00" width="0.70" height="0.80" fill="#4d7a45"/>
<rect x="148.28" y="189.10" width="0.70" height="0.80" fill="#4d7a45"/>
<rect x="148.07" y="192.40" width="0.70" height="0.80" fill="#4d7a45"/>
<rect x="148.06" y="193.50" width="0.70" height="0.80" fill="#4d7a45"/>
<rect x="148.19" y="194.60" width="0.70" height="0.80" fill="#4d7a45"/>
<rect x="148.20" y="197.90" width="0.70" height="0.80" fill="#4d7a45"/>
<rect x="148.20" y="200.10" width="0.70" height="0.80" fill="#4d7a45"/>
<rect x="169.93" y="188.50" width="0.90" height="0.80" fill="#4d7a45"/>
<rect x="169.75" y="189.60" width="0.90" height="0.80" fill="#4d7a45"/>
<rect x="169.80" y="190.70" width="0.90" height="0.80" fill="#4d7a45"/>
<rect x="169.82" y="194.00" width="0.90" height="0.80" fill="#4d7a45"/>
<rect x="169.75" y="196.20" width="0.90" height="0.80" fill="#4d7a45"/>
<rect x="169.75" y="197.30" width="0.90" height="0.80" fill="#4d7a45"/>
<rect x="169.95" y="200.60" width="0.90" height="0.80" fill="#4d7a45"/>
<rect x="169.81" y="202.80" width="0.90" height="0.80" fill="#4d7a45"/>
<rect x="169.74" y="203.90" width="0.90" height="0.80" fill="#4d7a45"/>
<rect x="169.99" y="205.00" width="0.90" height="0.80" fill="#4d7a45"/>
<rect x="169.86" y="206.10" width="0.90" height="0.80" fill="#4d7a45"/>
<rect x="171.06" y="190.00" width="0.70" height="0.80" fill="#4d7a45"/>
<rect x="170.88" y="192.20" width="0.70" height="0.80" fill="#4d7a45"/>
<rect x="170.87" y="193.30" width="0.70" height="0.80" fill="#4d7a45"/>
<rect x="170.93" y="195.50" width="0.70" height="0.80" fill="#4d7a45"/>
<rect x="171.07" y="196.60" width="0.70" height="0.80" fill="#4d7a45"/>
<rect x="170.94" y="197.70" width="0.70" height="0.80" fill="#4d7a45"/>
<rect x="171.08" y="201.00" width="0.70" height="0.80" fill="#4d7a45"/>
<rect x="175.98" y="194.20" width="1.00" height="0.80" fill="#4fc3cf"/>
<rect x="175.85" y="195.30" width="1.00" height="0.80" fill="#4fc3cf"/>
<rect x="175.90" y="196.40" width="1.00" height="0.80" fill="#4fc3cf"/>
<rect x="176.07" y="197.50" width="1.00" height="0.80" fill="#4fc3cf"/>
<rect x="175.95" y="198.60" width="1.00" height="0.80" fill="#4fc3cf"/>
<rect x="176.02" y="199.70" width="1.00" height="0.80" fill="#4fc3cf"/>
<rect x="175.88" y="200.80" width="1.00" height="0.80" fill="#4fc3cf"/>
<rect x="175.92" y="201.90" width="1.00" height="0.80" fill="#4fc3cf"/>
<rect x="176.08" y="203.00" width="1.00" height="0.80" fill="#4fc3cf"/>
<rect x="176.02" y="204.10" width="1.00" height="0.80" fill="#4fc3cf"/>
<rect x="176.12" y="205.20" width="1.00" height="0.80" fill="#4fc3cf"/>
<rect x="176.03" y="206.30" width="1.00" height="0.80" fill="#4fc3cf"/>
<rect x="176.00" y="207.40" width="1.00" height="0.80" fill="#4fc3cf"/>
<rect x="175.99" y="208.50" width="1.00" height="0.80" fill="#4fc3cf"/>
<rect x="175.99" y="209.60" width="1.00" height="0.80" fill="#4fc3cf"/>
<rect x="176.11" y="211.80" width="1.00" height="0.80" fill="#4fc3cf"/>
<rect x="176.02" y="214.00" width="1.00" height="0.80" fill="#4fc3cf"/>
<rect x="175.89" y="216.20" width="1.00" height="0.80" fill="#4fc3cf"/>
<rect x="175.98" y="217.30" width="1.00" height="0.80" fill="#4fc3cf"/>
<rect x="175.92" y="218.40" width="1.00" height="0.80" fill="#4fc3cf"/>
<rect x="177.15" y="196.00" width="1.00" height="0.80" fill="#4fc3cf"/>
<rect x="177.22" y="197.10" width="1.00" height="0.80" fill="#4fc3cf"/>
<rect x="177.16" y="198.20" width="1.00" height="0.80" fill="#4fc3cf"/>
<rect x="176.99" y="199.30" width="1.00" height="0.80" fill="#4fc3cf"/>
<rect x="177.24" y="202.60" width="1.00" height="0.80" fill="#4fc3cf"/>
<rect x="177.10" y="203.70" width="1.00" height="0.80" fill="#4fc3cf"/>
<rect x="177.08" y="207.00" width="1.00" height="0.80" fill="#4fc3cf"/>
<rect x="177.05" y="208.10" width="1.00" height="0.80" fill="#4fc3cf"/>
<rect x="177.05" y="209.20" width="1.00" height="0.80" fill="#4fc3cf"/>
<rect x="176.96" y="210.30" width="1.00" height="0.80" fill="#4fc3cf"/>
<rect x="177.08" y="211.40" width="1.00" height="0.80" fill="#4fc3cf"/>
<rect x="177.05" y="212.50" width="1.00" height="0.80" fill="#4fc3cf"/>
<rect x="177.10" y="213.60" width="1.00" height="0.80" fill="#4fc3cf"/>
<rect x="177.25" y="214.70" width="1.00" height="0.80" fill="#4fc3cf"/>
<rect x="177.24" y="215.80" width="1.00" height="0.80" fill="#4fc3cf"/>
<rect x="177.03" y="216.90" width="1.00" height="0.80" fill="#4fc3cf"/>
<rect x="177.18" y="218.00" width="1.00" height="0.80" fill="#4fc3cf"/>
<rect x="176.99" y="219.10" width="1.00" height="0.80" fill="#4fc3cf"/>
<rect x="179.02" y="219.15" width="0.90" height="0.80" fill="#4fc3cf"/>
<rect x="180.72" y="214.39" width="0.90" height="0.80" fill="#4fc3cf"/>
<rect x="177.84" y="219.21" width="0.90" height="0.80" fill="#4fc3cf"/>
<rect x="179.65" y="217.61" width="0.90" height="0.80" fill="#4fc3cf"/>
<rect x="177.58" y="212.92" width="0.90" height="0.80" fill="#4fc3cf"/>
<rect x="180.16" y="215.60" width="0.90" height="0.80" fill="#4fc3cf"/>
<rect x="177.51" y="219.35" width="0.90" height="0.80" fill="#4fc3cf"/>
<rect x="179.93" y="218.35" width="0.90" height="0.80" fill="#4fc3cf"/>
<rect x="177.56" y="218.75" width="0.90" height="0.80" fill="#4fc3cf"/>
<rect x="177.49" y="218.80" width="0.90" height="0.80" fill="#4fc3cf"/>
<rect x="179.15" y="214.98" width="0.90" height="0.80" fill="#4fc3cf"/>
<rect x="179.58" y="219.26" width="0.90" height="0.80" fill="#4fc3cf"/>
<rect x="178.35" y="213.44" width="0.90" height="0.80" fill="#4fc3cf"/>
<rect x="179.47" y="214.24" width="0.90" height="0.80" fill="#4fc3cf"/>
<rect x="177.67" y="213.68" width="0.90" height="0.80" fill="#4fc3cf"/>
<rect x="177.42" y="213.97" width="0.90" height="0.80" fill="#4fc3cf"/>
<rect x="178.54" y="214.73" width="0.90" height="0.80" fill="#4fc3cf"/>
<rect x="180.47" y="214.62" width="0.90" height="0.80" fill="#4fc3cf"/>
<rect x="179.35" y="213.80" width="0.90" height="0.80" fill="#4fc3cf"/>
<rect x="178.69" y="212.63" width="0.90" height="0.80" fill="#4fc3cf"/>
<rect x="178.28" y="212.61" width="0.90" height="0.80" fill="#4fc3cf"/>
<rect x="180.35" y="216.52" width="0.90" height="0.80" fill="#4fc3cf"/>
<rect x="178.01" y="215.97" width="0.90" height="0.80" fill="#4fc3cf"/>
<rect x="181.22" y="213.28" width="0.90" height="0.80" fill="#4fc3cf"/>
<rect x="180.72" y="215.65" width="0.90" height="0.80" fill="#4fc3cf"/>
<rect x="179.33" y="218.59" width="0.90" height="0.80" fill="#4fc3cf"/>
<rect x="178.89" y="216.20" width="0.90" height="0.80" fill="#4fc3cf"/>
<rect x="180.16" y="219.67" width="0.90" height="0.80" fill="#4fc3cf"/>
<rect x="184.06" y="206.27" width="0.90" height="0.80" fill="#4fc3cf"/>
<rect x="186.82" y="195.59" width="0.90" height="0.80" fill="#4fc3cf"/>
<rect x="178.20" y="214.00" width="0.90" height="0.80" fill="#4fc3cf"/>
<rect x="187.82" y="191.61" width="0.90" height="0.80" fill="#4fc3cf"/>
<rect x="180.60" y="215.25" width="0.90" height="0.80" fill="#4fc3cf"/>
<rect x="186.94" y="194.15" width="0.90" height="0.80" fill="#4fc3cf"/>
<rect x="182.34" y="206.37" width="0.90" height="0.80" fill="#4fc3cf"/>
<rect x="183.86" y="203.58" width="0.90" height="0.80" fill="#4fc3cf"/>
<rect x="191.76" y="184.19" width="0.90" height="0.80" fill="#4fc3cf"/>
<rect x="191.00" y="184.73" width="0.90" height="0.80" fill="#4fc3cf"/>
<rect x="178.18" y="216.89" width="0.90" height="0.80" fill="#4fc3cf"/>
<rect x="184.45" y="200.42" width="0.90" height="0.80" fill="#4fc3cf"/>
<rect x="177.91" y="215.69" width="0.90" height="0.80" fill="#4fc3cf"/>
<rect x="182.61" y="202.48" width="0.90" height="0.80" fill="#4fc3cf"/>
<rect x="181.86" y="207.20" width="0.90" height="0.80" fill="#4fc3cf"/>
<rect x="186.35" y="199.98" width="0.90" height="0.80" fill="#4fc3cf"/>
<rect x="189.23" y="193.06" width="0.90" height="0.80" fill="#4fc3cf"/>
<rect x="184.26" y="205.26" width="0.90" height="0.80" fill="#4fc3cf"/>
<rect x="188.68" y="191.83" width="0.90" height="0.80" fill="#4fc3cf"/>
<rect x="190.87" y="189.79" width="0.90" height="0.80" fill="#4fc3cf"/>
<rect x="189.28" y="191.77" width="0.90" height="0.80" fill="#4fc3cf"/>
<rect x="185.58" y="200.65" width="0.90" height="0.80" fill="#4fc3cf"/>
<rect x="190.28" y="190.68" width="0.90" height="0.80" fill="#4fc3cf"/>
<rect x="191.07" y="188.08" width="0.90" height="0.80" fill="#4fc3cf"/>
<rect x="180.29" y="208.38" width="0.90" height="0.80" fill="#4fc3cf"/>
<rect x="182.26" y="206.04" width="0.90" height="0.80" fill="#4fc3cf"/>
<rect x="186.40" y="198.92" width="0.90" height="0.80" fill="#4fc3cf"/>
<rect x="187.66" y="193.15" width="0.90" height="0.80" fill="#4fc3cf"/>
<rect x="189.96" y="190.68" width="0.90" height="0.80" fill="#4fc3cf"/>
<rect x="186.17" y="198.12" width="0.90" height="0.80" fill="#4fc3cf"/>
<rect x="187.75" y="191.49" width="0.90" height="0.80" fill="#4fc3cf"/>
<rect x="182.73" y="207.41" width="0.90" height="0.80" fill="#4fc3cf"/>
<rect x="189.82" y="192.57" width="0.90" height="0.80" fill="#4fc3cf"/>
<rect x="183.61" y="204.89" width="0.90" height="0.80" fill="#4fc3cf"/>
<rect x="189.18" y="192.09" width="0.90" height="0.80" fill="#4fc3cf"/>
<rect x="178.56" y="213.75" width="0.90" height="0.80" fill="#4fc3cf"/>
<rect x="187.99" y="192.66" width="0.90" height="0.80" fill="#4fc3cf"/>
<rect x="177.44" y="215.94" width="0.90" height="0.80" fill="#4fc3cf"/>
<rect x="188.11" y="195.32" width="0.90" height="0.80" fill="#4fc3cf"/>
<rect x="182.47" y="207.30" width="0.90" height="0.80" fill="#4fc3cf"/>
<rect x="183.73" y="202.71" width="0.90" height="0.80" fill="#4fc3cf"/>
<rect x="182.53" y="211.65" width="0.90" height="0.80" fill="#4fc3cf"/>
<rect x="178.62" y="217.32" width="0.90" height="0.80" fill="#4fc3cf"/>
<rect x="191.43" y="184.40" width="0.90" height="0.80" fill="#4fc3cf"/>
<rect x="182.58" y="209.27" width="0.90" height="0.80" fill="#4fc3cf"/>
<rect x="185.35" y="197.88" width="0.90" height="0.80" fill="#4fc3cf"/>
<rect x="190.33" y="186.46" width="0.90" height="0.80" fill="#4fc3cf"/>
<rect x="186.45" y="200.78" width="0.90" height="0.80" fill="#4fc3cf"/>
<rect x="182.74" y="209.33" width="0.90" height="0.80" fill="#4fc3cf"/>
<rect x="177.45" y="216.16" width="0.90" height="0.80" fill="#4fc3cf"/>
<rect x="184.03" y="201.12" width="0.90" height="0.80" fill="#4fc3cf"/>
<rect x="182.63" y="206.60" width="0.90" height="0.80" fill="#4fc3cf"/>
<rect x="179.23" y="217.89" width="0.90" height="0.80" fill="#4fc3cf"/>
<rect x="181.31" y="213.64" width="0.90" height="0.80" fill="#4fc3cf"/>
<rect x="190.08" y="186.89" width="0.90" height="0.80" fill="#4fc3cf"/>
<rect x="185.20" y="204.28" width="0.90" height="0.80" fill="#4fc3cf"/>
<rect x="183.17" y="204.47" width="0.90" height="0.80" fill="#4fc3cf"/>
<rect x="178.04" y="216.34" width="0.90" height="0.80" fill="#4fc3cf"/>
<rect x="183.58" y="206.87" width="0.90" height="0.80" fill="#4fc3cf"/>
<rect x="182.12" y="207.36" width="0.90" height="0.80" fill="#4fc3cf"/>
<rect x="184.82" y="205.76" width="0.90" height="0.80" fill="#4fc3cf"/>
<rect x="189.83" y="191.36" width="0.90" height="0.80" fill="#4fc3cf"/>
<rect x="191.34" y="186.57" width="0.90" height="0.80" fill="#4fc3cf"/>
<rect x="179.82" y="215.23" width="0.90" height="0.80" fill="#4fc3cf"/>
<rect x="189.07" y="191.56" width="0.90" height="0.80" fill="#4fc3cf"/>
<rect x="180.36" y="214.34" width="0.90" height="0.80" fill="#4fc3cf"/>
<rect x="184.44" y="200.85" width="0.90" height="0.80" fill="#4fc3cf"/>
<rect x="189.81" y="191.94" width="0.90" height="0.80" fill="#4fc3cf"/>
<rect x="186.80" y="195.51" width="0.90" height="0.80" fill="#4fc3cf"/>
<rect x="182.89" y="203.04" width="0.90" height="0.80" fill="#4fc3cf"/>
<rect x="182.44" y="210.13" width="0.90" height="0.80" fill="#4fc3cf"/>
<rect x="182.61" y="211.13" width="0.90" height="0.80" fill="#4fc3cf"/>
<rect x="183.57" y="201.29" width="0.90" height="0.80" fill="#4fc3cf"/>
<rect x="179.28" y="212.86" width="0.90" height="0.80" fill="#4fc3cf"/>
<rect x="181.05" y="209.30" width="0.90" height="0.80" fill="#4fc3cf"/>
<rect x="191.18" y="187.48" width="0.90" height="0.80" fill="#4fc3cf"/>
<rect x="184.16" y="203.00" width="0.90" height="0.80" fill="#4fc3cf"/>
<rect x="181.84" y="205.22" width="0.90" height="0.80" fill="#4fc3cf"/>
<rect x="190.52" y="185.08" width="0.90" height="0.80" fill="#4fc3cf"/>
<rect x="188.02" y="195.43" width="0.90" height="0.80" fill="#4fc3cf"/>
<rect x="181.45" y="207.78" width="0.90" height="0.80" fill="#4fc3cf"/>
<rect x="185.79" y="203.26" width="0.90" height="0.80" fill="#4fc3cf"/>
<rect x="188.95" y="186.88" width="0.90" height="0.80" fill="#4fc3cf"/>
<rect x="189.19" y="193.51" width="0.90" height="0.80" fill="#4fc3cf"/>
<rect x="185.03" y="197.32" width="0.90" height="0.80" fill="#4fc3cf"/>
<rect x="191.92" y="187.41" width="0.90" height="0.80" fill="#4fc3cf"/>
<rect x="190.92" y="183.82" width="0.90" height="0.80" fill="#4fc3cf"/>
<rect x="180.65" y="212.42" width="0.90" height="0.80" fill="#4fc3cf"/>
<rect x="191.83" y="186.34" width="0.90" height="0.80" fill="#4fc3cf"/>
<rect x="188.71" y="191.91" width="0.90" height="0.80" fill="#4fc3cf"/>
<rect x="182.23" y="193.30" width="0.90" height="0.80" fill="#4fc3cf"/>
<rect x="182.28" y="194.40" width="0.90" height="0.80" fill="#4fc3cf"/>
<rect x="182.09" y="195.50" width="0.90" height="0.80" fill="#4fc3cf"/>
<rect x="182.08" y="196.60" width="0.90" height="0.80" fill="#4fc3cf"/>
<rect x="182.21" y="197.70" width="0.90" height="0.80" fill="#4fc3cf"/>
<rect x="182.02" y="198.80" width="0.90" height="0.80" fill="#4fc3cf"/>
<rect x="182.17" y="199.90" width="0.90" height="0.80" fill="#4fc3cf"/>
<rect x="182.07" y="201.00" width="0.90" height="0.80" fill="#4fc3cf"/>
<rect x="182.00" y="202.10" width="0.90" height="0.80" fill="#4fc3cf"/>
<rect x="182.14" y="203.20" width="0.90" height="0.80" fill="#4fc3cf"/>
<rect x="182.27" y="205.40" width="0.90" height="0.80" fill="#4fc3cf"/>
<rect x="182.07" y="206.50" width="0.90" height="0.80" fill="#4fc3cf"/>
<rect x="182.29" y="207.60" width="0.90" height="0.80" fill="#4fc3cf"/>
<rect x="182.09" y="208.70" width="0.90" height="0.80" fill="#4fc3cf"/>
<rect x="182.15" y="209.80" width="0.90" height="0.80" fill="#4fc3cf"/>
<rect x="182.13" y="210.90" width="0.90" height="0.80" fill="#4fc3cf"/>
<rect x="182.20" y="212.00" width="0.90" height="0.80" fill="#4fc3cf"/>
<rect x="186.41" y="191.70" width="0.90" height="0.80" fill="#4fc3cf"/>
<rect x="186.53" y="192.80" width="0.90" height="0.80" fill="#4fc3cf"/>
<rect x="186.46" y="193.90" width="0.90" height="0.80" fill="#4fc3cf"/>
<rect x="186.62" y="195.00" width="0.90" height="0.80" fill="#4fc3cf"/>
<rect x="186.46" y="196.10" width="0.90" height="0.80" fill="#4fc3cf"/>
<rect x="186.65" y="198.30" width="0.90" height="0.80" fill="#4fc3cf"/>
<rect x="186.47" y="199.40" width="0.90" height="0.80" fill="#4fc3cf"/>
<rect x="186.49" y="200.50" width="0.90" height="0.80" fill="#4fc3cf"/>
<rect x="186.46" y="202.70" width="0.90" height="0.80" fill="#4fc3cf"/>
<rect x="186.53" y="203.80" width="0.90" height="0.80" fill="#4fc3cf"/>
<rect x="186.68" y="204.90" width="0.90" height="0.80" fill="#4fc3cf"/>
<rect x="188.32" y="192.00" width="0.90" height="0.80" fill="#4fc3cf"/>
<rect x="188.49" y="193.10" width="0.90" height="0.80" fill="#4fc3cf"/>
<rect x="188.22" y="194.20" width="0.90" height="0.80" fill="#4fc3cf"/>
<rect x="188.32" y="195.30" width="0.90" height="0.80" fill="#4fc3cf"/>
<rect x="188.26" y="201.90" width="0.90" height="0.80" fill="#4fc3cf"/>
<rect x="190.66" y="179.70" width="1.00" height="0.80" fill="#4fc3cf"/>
<rect x="190.76" y="180.80" width="1.00" height="0.80" fill="#4fc3cf"/>
<rect x="190.75" y="181.90" width="1.00" height="0.80" fill="#4fc3cf"/>
<rect x="190.65" y="183.00" width="1.00" height="0.80" fill="#4fc3cf"/>
<rect x="190.76" y="184.10" width="1.00" height="0.80" fill="#4fc3cf"/>
<rect x="190.94" y="186.30" width="1.00" height="0.80" fill="#4fc3cf"/>
<rect x="190.76" y="187.40" width="1.00" height="0.80" fill="#4fc3cf"/>
<rect x="190.90" y="188.50" width="1.00" height="0.80" fill="#4fc3cf"/>
<rect x="190.66" y="189.60" width="1.00" height="0.80" fill="#4fc3cf"/>
<rect x="190.76" y="190.70" width="1.00" height="0.80" fill="#4fc3cf"/>
<rect x="190.76" y="192.90" width="1.00" height="0.80" fill="#4fc3cf"/>
<rect x="190.66" y="194.00" width="1.00" height="0.80" fill="#4fc3cf"/>
<rect x="190.89" y="195.10" width="1.00" height="0.80" fill="#4fc3cf"/>
<rect x="190.66" y="196.20" width="1.00" height="0.80" fill="#4fc3cf"/>
<rect x="190.67" y="197.30" width="1.00" height="0.80" fill="#4fc3cf"/>
<rect x="190.87" y="199.50" width="1.00" height="0.80" fill="#4fc3cf"/>
<rect x="191.78" y="183.10" width="0.90" height="0.80" fill="#4fc3cf"/>
<rect x="191.78" y="185.30" width="0.90" height="0.80" fill="#4fc3cf"/>
<rect x="191.78" y="187.50" width="0.90" height="0.80" fill="#4fc3cf"/>
<rect x="191.93" y="188.60" width="0.90" height="0.80" fill="#4fc3cf"/>
<rect x="191.98" y="190.80" width="0.90" height="0.80" fill="#4fc3cf"/>
<rect x="191.77" y="191.90" width="0.90" height="0.80" fill="#4fc3cf"/>
<rect x="191.99" y="193.00" width="0.90" height="0.80" fill="#4fc3cf"/>
<rect x="191.78" y="195.20" width="0.90" height="0.80" fill="#4fc3cf"/>
<rect x="191.85" y="196.30" width="0.90" height="0.80" fill="#4fc3cf"/>
<rect x="192.84" y="195.00" width="0.90" height="0.80" fill="#4fc3cf"/>
<rect x="192.85" y="196.10" width="0.90" height="0.80" fill="#4fc3cf"/>
<rect x="192.70" y="198.30" width="0.90" height="0.80" fill="#4fc3cf"/>
<rect x="192.71" y="199.40" width="0.90" height="0.80" fill="#4fc3cf"/>
<rect x="192.66" y="201.60" width="0.90" height="0.80" fill="#4fc3cf"/>
<rect x="194.82" y="179.70" width="0.90" height="0.80" fill="#4d7a45"/>
<rect x="194.97" y="180.80" width="0.90" height="0.80" fill="#4d7a45"/>
<rect x="195.09" y="181.90" width="0.90" height="0.80" fill="#4d7a45"/>
<rect x="194.83" y="185.20" width="0.90" height="0.80" fill="#4d7a45"/>
<rect x="194.95" y="186.30" width="0.90" height="0.80" fill="#4d7a45"/>
<rect x="194.93" y="187.40" width="0.90" height="0.80" fill="#4d7a45"/>
<rect x="194.93" y="188.50" width="0.90" height="0.80" fill="#4d7a45"/>
<rect x="195.00" y="189.60" width="0.90" height="0.80" fill="#4d7a45"/>
<rect x="195.05" y="190.70" width="0.90" height="0.80" fill="#4d7a45"/>
<rect x="194.84" y="191.80" width="0.90" height="0.80" fill="#4d7a45"/>
<rect x="194.89" y="192.90" width="0.90" height="0.80" fill="#4d7a45"/>
<rect x="194.91" y="194.00" width="0.90" height="0.80" fill="#4d7a45"/>
<rect x="196.81" y="193.30" width="1.00" height="0.80" fill="#4d7a45"/>
<rect x="196.82" y="194.40" width="1.00" height="0.80" fill="#4d7a45"/>
<rect x="197.02" y="195.50" width="1.00" height="0.80" fill="#4d7a45"/>
<rect x="196.85" y="196.60" width="1.00" height="0.80" fill="#4d7a45"/>
<rect x="197.05" y="197.70" width="1.00" height="0.80" fill="#4d7a45"/>
<rect x="196.82" y="198.80" width="1.00" height="0.80" fill="#4d7a45"/>
<rect x="196.95" y="199.90" width="1.00" height="0.80" fill="#4d7a45"/>
<rect x="196.89" y="202.10" width="1.00" height="0.80" fill="#4d7a45"/>
<rect x="197.00" y="203.20" width="1.00" height="0.80" fill="#4d7a45"/>
<rect x="196.84" y="205.40" width="1.00" height="0.80" fill="#4d7a45"/>
<rect x="196.81" y="206.50" width="1.00" height="0.80" fill="#4d7a45"/>
<rect x="197.03" y="208.70" width="1.00" height="0.80" fill="#4d7a45"/>
<rect x="197.01" y="209.80" width="1.00" height="0.80" fill="#4d7a45"/>
<rect x="196.83" y="210.90" width="1.00" height="0.80" fill="#4d7a45"/>
<rect x="197.03" y="212.00" width="1.00" height="0.80" fill="#4d7a45"/>
<rect x="196.93" y="213.10" width="1.00" height="0.80" fill="#4d7a45"/>
<rect x="196.82" y="214.20" width="1.00" height="0.80" fill="#4d7a45"/>
<rect x="196.79" y="215.30" width="1.00" height="0.80" fill="#4d7a45"/>
<rect x="197.93" y="196.00" width="0.80" height="0.80" fill="#4d7a45"/>
<rect x="197.85" y="199.30" width="0.80" height="0.80" fill="#4d7a45"/>
<rect x="198.05" y="200.40" width="0.80" height="0.80" fill="#4d7a45"/>
<rect x="197.94" y="201.50" width="0.80" height="0.80" fill="#4d7a45"/>
<rect x="198.09" y="202.60" width="0.80" height="0.80" fill="#4d7a45"/>
<rect x="197.88" y="204.80" width="0.80" height="0.80" fill="#4d7a45"/>
<rect x="198.02" y="205.90" width="0.80" height="0.80" fill="#4d7a45"/>
<rect x="197.90" y="208.10" width="0.80" height="0.80" fill="#4d7a45"/>
<rect x="197.93" y="210.30" width="0.80" height="0.80" fill="#4d7a45"/>
<rect x="198.14" y="211.40" width="0.80" height="0.80" fill="#4d7a45"/>
<rect x="229.00" y="193.80" width="0.80" height="0.80" fill="#555"/>
<rect x="261.00" y="193.80" width="0.80" height="0.80" fill="#555"/>
<rect x="270.07" y="188.00" width="0.90" height="0.80" fill="#4fc3cf"/>
<rect x="270.02" y="189.10" width="0.90" height="0.80" fill="#4fc3cf"/>
<rect x="269.96" y="192.40" width="0.90" height="0.80" fill="#4fc3cf"/>
<rect x="269.96" y="193.50" width="0.90" height="0.80" fill="#4fc3cf"/>
<rect x="270.17" y="194.60" width="0.90" height="0.80" fill="#4fc3cf"/>
<rect x="270.15" y="195.70" width="0.90" height="0.80" fill="#4fc3cf"/>
<rect x="270.16" y="196.80" width="0.90" height="0.80" fill="#4fc3cf"/>
<rect x="269.95" y="197.90" width="0.90" height="0.80" fill="#4fc3cf"/>
<rect x="270.07" y="199.00" width="0.90" height="0.80" fill="#4fc3cf"/>
<rect x="270.17" y="203.00" width="0.90" height="0.80" fill="#4fc3cf"/>
<rect x="270.09" y="204.10" width="0.90" height="0.80" fill="#4fc3cf"/>
<rect x="270.05" y="205.20" width="0.90" height="0.80" fill="#4fc3cf"/>
<rect x="269.98" y="206.30" width="0.90" height="0.80" fill="#4fc3cf"/>
<rect x="270.18" y="207.40" width="0.90" height="0.80" fill="#4fc3cf"/>
<rect x="270.05" y="208.50" width="0.90" height="0.80" fill="#4fc3cf"/>
<rect x="270.19" y="209.60" width="0.90" height="0.80" fill="#4fc3cf"/>
<rect x="269.94" y="210.70" width="0.90" height="0.80" fill="#4fc3cf"/>
<rect x="279.87" y="182.10" width="0.60" height="0.80" fill="#666"/>
<rect x="280.12" y="184.30" width="0.60" height="0.80" fill="#666"/>
<rect x="280.09" y="187.60" width="0.60" height="0.80" fill="#666"/>
<rect x="279.97" y="188.70" width="0.60" height="0.80" fill="#666"/>
<rect x="279.92" y="192.00" width="0.60" height="0.80" fill="#666"/>
<rect x="280.01" y="193.10" width="0.60" height="0.80" fill="#666"/>
<rect x="279.89" y="194.20" width="0.60" height="0.80" fill="#666"/>
<rect x="280.07" y="195.30" width="0.60" height="0.80" fill="#666"/>
<rect x="280.02" y="197.50" width="0.60" height="0.80" fill="#666"/>
<rect x="277.35" y="212.90" width="0.90" height="0.80" fill="#4d7a45"/>
<rect x="277.28" y="214.00" width="0.90" height="0.80" fill="#4d7a45"/>
<rect x="287.29" y="195.00" width="0.90" height="0.80" fill="#4fc3cf"/>
<rect x="287.23" y="196.10" width="0.90" height="0.80" fill="#4fc3cf"/>
<rect x="290.08" y="188.00" width="0.80" height="0.80" fill="#4fc3cf"/>
<rect x="290.08" y="189.10" width="0.80" height="0.80" fill="#4fc3cf"/>
<rect x="289.96" y="190.20" width="0.80" height="0.80" fill="#4fc3cf"/>
<rect x="290.10" y="191.30" width="0.80" height="0.80" fill="#4fc3cf"/>
<rect x="290.18" y="192.40" width="0.80" height="0.80" fill="#4fc3cf"/>
<rect x="290.00" y="194.60" width="0.80" height="0.80" fill="#4fc3cf"/>
<rect x="308.63" y="186.68" width="0.90" height="0.80" fill="#4fc3cf"/>
<rect x="307.08" y="189.33" width="0.90" height="0.80" fill="#4fc3cf"/>
<rect x="306.91" y="189.42" width="0.90" height="0.80" fill="#4fc3cf"/>
<rect x="308.80" y="186.13" width="0.90" height="0.80" fill="#4fc3cf"/>
<rect x="309.36" y="186.47" width="0.90" height="0.80" fill="#4fc3cf"/>
<rect x="309.80" y="192.18" width="0.90" height="0.80" fill="#4fc3cf"/>
<rect x="308.80" y="186.24" width="0.90" height="0.80" fill="#4fc3cf"/>
<rect x="308.77" y="188.90" width="0.90" height="0.80" fill="#4fc3cf"/>
<rect x="310.78" y="186.92" width="0.90" height="0.80" fill="#4fc3cf"/>
<rect x="310.36" y="193.97" width="0.90" height="0.80" fill="#4fc3cf"/>
<rect x="309.79" y="192.48" width="0.90" height="0.80" fill="#4fc3cf"/>
<rect x="307.37" y="193.85" width="0.90" height="0.80" fill="#4fc3cf"/>
<rect x="308.71" y="193.64" width="0.90" height="0.80" fill="#4fc3cf"/>
<rect x="310.62" y="187.15" width="0.90" height="0.80" fill="#4fc3cf"/>
<rect x="310.05" y="193.43" width="0.90" height="0.80" fill="#4fc3cf"/>
<rect x="306.79" y="188.68" width="0.90" height="0.80" fill="#4fc3cf"/>
<rect x="309.90" y="187.10" width="0.90" height="0.80" fill="#4fc3cf"/>
<rect x="310.53" y="188.05" width="0.90" height="0.80" fill="#4fc3cf"/>
<rect x="310.17" y="186.98" width="0.90" height="0.80" fill="#4fc3cf"/>
<rect x="308.76" y="193.34" width="0.90" height="0.80" fill="#4fc3cf"/>
<rect x="307.44" y="187.96" width="0.90" height="0.80" fill="#4fc3cf"/>
<rect x="308.78" y="188.42" width="0.90" height="0.80" fill="#4fc3cf"/>
<rect x="306.67" y="187.29" width="0.90" height="0.80" fill="#4fc3cf"/>
<rect x="307.23" y="193.48" width="0.90" height="0.80" fill="#4fc3cf"/>
<rect x="308.19" y="196.20" width="0.80" height="0.80" fill="#4fc3cf"/>
<rect x="308.11" y="197.30" width="0.80" height="0.80" fill="#4fc3cf"/>
<rect x="308.21" y="199.50" width="0.80" height="0.80" fill="#4fc3cf"/>
<rect x="308.12" y="200.60" width="0.80" height="0.80" fill="#4fc3cf"/>
<rect x="308.25" y="202.80" width="0.80" height="0.80" fill="#4fc3cf"/>
<rect x="311.89" y="177.00" width="1.00" height="0.80" fill="#4fc3cf"/>
<rect x="311.95" y="178.10" width="1.00" height="0.80" fill="#4fc3cf"/>
<rect x="311.76" y="179.20" width="1.00" height="0.80" fill="#4fc3cf"/>
<rect x="311.78" y="180.30" width="1.00" height="0.80" fill="#4fc3cf"/>
<rect x="311.87" y="181.40" width="1.00" height="0.80" fill="#4fc3cf"/>
<rect x="311.90" y="182.50" width="1.00" height="0.80" fill="#4fc3cf"/>
<rect x="311.84" y="183.60" width="1.00" height="0.80" fill="#4fc3cf"/>
<rect x="311.85" y="185.80" width="1.00" height="0.80" fill="#4fc3cf"/>
<rect x="311.65" y="186.90" width="1.00" height="0.80" fill="#4fc3cf"/>
<rect x="311.69" y="188.00" width="1.00" height="0.80" fill="#4fc3cf"/>
<rect x="311.78" y="189.10" width="1.00" height="0.80" fill="#4fc3cf"/>
<rect x="311.92" y="190.20" width="1.00" height="0.80" fill="#4fc3cf"/>
<rect x="311.72" y="191.30" width="1.00" height="0.80" fill="#4fc3cf"/>
<rect x="311.66" y="192.40" width="1.00" height="0.80" fill="#4fc3cf"/>
<rect x="311.76" y="193.50" width="1.00" height="0.80" fill="#4fc3cf"/>
<rect x="311.76" y="194.60" width="1.00" height="0.80" fill="#4fc3cf"/>
<rect x="313.08" y="176.20" width="0.90" height="0.80" fill="#4fc3cf"/>
<rect x="312.96" y="177.30" width="0.90" height="0.80" fill="#4fc3cf"/>
<rect x="313.04" y="178.40" width="0.90" height="0.80" fill="#4fc3cf"/>
<rect x="313.18" y="179.50" width="0.90" height="0.80" fill="#4fc3cf"/>
<rect x="312.94" y="180.60" width="0.90" height="0.80" fill="#4fc3cf"/>
<rect x="313.09" y="181.70" width="0.90" height="0.80" fill="#4fc3cf"/>
<rect x="312.98" y="185.00" width="0.90" height="0.80" fill="#4fc3cf"/>
<rect x="314.24" y="176.00" width="1.00" height="0.80" fill="#4fc3cf"/>
<rect x="314.16" y="177.10" width="1.00" height="0.80" fill="#4fc3cf"/>
<rect x="314.18" y="178.20" width="1.00" height="0.80" fill="#4fc3cf"/>
<rect x="314.12" y="180.40" width="1.00" height="0.80" fill="#4fc3cf"/>
<rect x="314.21" y="182.60" width="1.00" height="0.80" fill="#4fc3cf"/>
<rect x="314.12" y="183.70" width="1.00" height="0.80" fill="#4fc3cf"/>
<rect x="314.28" y="184.80" width="1.00" height="0.80" fill="#4fc3cf"/>
<rect x="314.22" y="185.90" width="1.00" height="0.80" fill="#4fc3cf"/>
<rect x="314.11" y="188.10" width="1.00" height="0.80" fill="#4fc3cf"/>
<rect x="314.20" y="189.20" width="1.00" height="0.80" fill="#4fc3cf"/>
<rect x="314.29" y="190.30" width="1.00" height="0.80" fill="#4fc3cf"/>
<rect x="314.14" y="191.40" width="1.00" height="0.80" fill="#4fc3cf"/>
<rect x="315.11" y="186.30" width="0.90" height="0.80" fill="#4fc3cf"/>
<rect x="315.10" y="189.60" width="0.90" height="0.80" fill="#4fc3cf"/>
<rect x="319.04" y="189.20" width="0.90" height="0.80" fill="#4d7a45"/>
<rect x="319.04" y="190.30" width="0.90" height="0.80" fill="#4d7a45"/>
<rect x="318.93" y="191.40" width="0.90" height="0.80" fill="#4d7a45"/>
<rect x="321.01" y="199.93" width="0.90" height="1.10" fill="#4d7a45"/>
<rect x="321.68" y="204.05" width="0.90" height="1.10" fill="#4d7a45"/>
<rect x="324.02" y="204.60" width="0.90" height="1.10" fill="#4d7a45"/>
<rect x="324.13" y="201.24" width="0.90" height="1.10" fill="#4d7a45"/>
<rect x="323.10" y="202.23" width="0.90" height="1.10" fill="#4d7a45"/>
<rect x="324.62" y="202.73" width="0.90" height="1.10" fill="#4d7a45"/>
<rect x="321.22" y="203.42" width="0.90" height="1.10" fill="#4d7a45"/>
<rect x="325.77" y="200.96" width="0.90" height="1.10" fill="#4d7a45"/>
<rect x="325.22" y="199.79" width="0.90" height="1.10" fill="#4d7a45"/>
<rect x="321.19" y="201.07" width="0.90" height="1.10" fill="#4d7a45"/>
<rect x="324.34" y="205.18" width="0.90" height="1.10" fill="#4d7a45"/>
<rect x="324.35" y="201.60" width="0.90" height="1.10" fill="#4d7a45"/>
<rect x="325.22" y="201.61" width="0.90" height="1.10" fill="#4d7a45"/>
<rect x="321.05" y="204.96" width="0.90" height="1.10" fill="#4d7a45"/>
<rect x="323.60" y="203.72" width="0.90" height="1.10" fill="#4d7a45"/>
<rect x="323.82" y="205.38" width="0.90" height="1.10" fill="#4d7a45"/>
<rect x="322.55" y="204.57" width="0.90" height="1.10" fill="#4d7a45"/>
<rect x="324.03" y="204.67" width="0.90" height="1.10" fill="#4d7a45"/>
<rect x="334.02" y="197.00" width="0.90" height="0.80" fill="#4d7a45"/>
<rect x="333.89" y="198.10" width="0.90" height="0.80" fill="#4d7a45"/>
<rect x="333.99" y="199.20" width="0.90" height="0.80" fill="#4d7a45"/>
<rect x="380.11" y="201.37" width="0.90" height="0.80" fill="#4fc3cf"/>
<rect x="380.29" y="192.18" width="0.90" height="0.80" fill="#4fc3cf"/>
<rect x="380.19" y="201.56" width="0.90" height="0.80" fill="#4fc3cf"/>
<rect x="380.83" y="193.38" width="0.90" height="0.80" fill="#4fc3cf"/>
<rect x="379.98" y="192.33" width="0.90" height="0.80" fill="#4fc3cf"/>
<rect x="381.77" y="198.49" width="0.90" height="0.80" fill="#4fc3cf"/>
<rect x="381.78" y="199.56" width="0.90" height="0.80" fill="#4fc3cf"/>
<rect x="380.08" y="198.04" width="0.90" height="0.80" fill="#4fc3cf"/>
<rect x="380.88" y="200.40" width="0.90" height="0.80" fill="#4fc3cf"/>
<rect x="382.11" y="201.17" width="0.90" height="0.80" fill="#4fc3cf"/>
<rect x="380.08" y="200.93" width="0.90" height="0.80" fill="#4fc3cf"/>
<rect x="382.37" y="201.72" width="0.90" height="0.80" fill="#4fc3cf"/>
<rect x="380.19" y="194.04" width="0.90" height="0.80" fill="#4fc3cf"/>
<rect x="380.20" y="192.26" width="0.90" height="0.80" fill="#4fc3cf"/>
<rect x="382.19" y="200.34" width="0.90" height="0.80" fill="#4fc3cf"/>
<rect x="381.61" y="200.48" width="0.90" height="0.80" fill="#4fc3cf"/>
<rect x="381.61" y="194.89" width="0.90" height="0.80" fill="#4fc3cf"/>
<rect x="380.17" y="192.92" width="0.90" height="0.80" fill="#4fc3cf"/>
<rect x="381.94" y="194.03" width="0.90" height="0.80" fill="#4fc3cf"/>
<rect x="380.76" y="196.31" width="0.90" height="0.80" fill="#4fc3cf"/>
<rect x="379.96" y="194.57" width="0.90" height="0.80" fill="#4fc3cf"/>
<rect x="380.66" y="199.34" width="0.90" height="0.80" fill="#4fc3cf"/>
<rect x="380.89" y="195.24" width="0.90" height="0.80" fill="#4fc3cf"/>
<rect x="382.50" y="197.14" width="0.90" height="0.80" fill="#4fc3cf"/>
<rect x="382.20" y="198.33" width="0.90" height="0.80" fill="#4fc3cf"/>
<rect x="379.98" y="196.19" width="0.90" height="0.80" fill="#4fc3cf"/>
<rect x="379.98" y="194.00" width="1.20" height="0.80" fill="#4fc3cf"/>
<rect x="379.96" y="195.10" width="1.20" height="0.80" fill="#4fc3cf"/>
<rect x="379.81" y="196.20" width="1.20" height="0.80" fill="#4fc3cf"/>
<rect x="379.78" y="197.30" width="1.20" height="0.80" fill="#4fc3cf"/>
<rect x="379.80" y="198.40" width="1.20" height="0.80" fill="#4fc3cf"/>
<rect x="379.81" y="199.50" width="1.20" height="0.80" fill="#4fc3cf"/>
<rect x="380.04" y="200.60" width="1.20" height="0.80" fill="#4fc3cf"/>
<rect x="381.20" y="194.00" width="1.20" height="0.80" fill="#4fc3cf"/>
<rect x="381.29" y="195.10" width="1.20" height="0.80" fill="#4fc3cf"/>
<rect x="381.20" y="196.20" width="1.20" height="0.80" fill="#4fc3cf"/>
<rect x="381.30" y="197.30" width="1.20" height="0.80" fill="#4fc3cf"/>
<rect x="381.33" y="198.40" width="1.20" height="0.80" fill="#4fc3cf"/>
<rect x="381.11" y="199.50" width="1.20" height="0.80" fill="#4fc3cf"/>
<rect x="381.20" y="200.60" width="1.20" height="0.80" fill="#4fc3cf"/>
<rect x="388.35" y="191.49" width="0.90" height="0.80" fill="#4fc3cf"/>
<rect x="388.15" y="195.24" width="0.90" height="0.80" fill="#4fc3cf"/>
<rect x="392.34" y="195.22" width="0.90" height="0.80" fill="#4fc3cf"/>
<rect x="391.87" y="184.52" width="0.90" height="0.80" fill="#4fc3cf"/>
<rect x="390.33" y="185.49" width="0.90" height="0.80" fill="#4fc3cf"/>
<rect x="393.65" y="177.84" width="0.90" height="0.80" fill="#4fc3cf"/>
<rect x="393.64" y="176.32" width="0.90" height="0.80" fill="#4fc3cf"/>
<rect x="389.00" y="182.23" width="0.90" height="0.80" fill="#4fc3cf"/>
<rect x="393.73" y="188.13" width="0.90" height="0.80" fill="#4fc3cf"/>
<rect x="390.18" y="197.62" width="0.90" height="0.80" fill="#4fc3cf"/>
<rect x="389.19" y="187.13" width="0.90" height="0.80" fill="#4fc3cf"/>
<rect x="391.21" y="194.41" width="0.90" height="0.80" fill="#4fc3cf"/>
<rect x="392.72" y="191.73" width="0.90" height="0.80" fill="#4fc3cf"/>
<rect x="389.97" y="183.80" width="0.90" height="0.80" fill="#4fc3cf"/>
<rect x="388.66" y="196.61" width="0.90" height="0.80" fill="#4fc3cf"/>
<rect x="392.10" y="194.10" width="0.90" height="0.80" fill="#4fc3cf"/>
<rect x="388.75" y="186.58" width="0.90" height="0.80" fill="#4fc3cf"/>
<rect x="392.86" y="190.06" width="0.90" height="0.80" fill="#4fc3cf"/>
<rect x="388.46" y="187.16" width="0.90" height="0.80" fill="#4fc3cf"/>
<rect x="393.62" y="181.60" width="0.90" height="0.80" fill="#4fc3cf"/>
<rect x="388.90" y="183.18" width="0.90" height="0.80" fill="#4fc3cf"/>
<rect x="392.38" y="196.62" width="0.90" height="0.80" fill="#4fc3cf"/>
<rect x="388.65" y="179.57" width="0.90" height="0.80" fill="#4fc3cf"/>
<rect x="389.28" y="183.80" width="0.90" height="0.80" fill="#4fc3cf"/>
<rect x="391.15" y="179.69" width="0.90" height="0.80" fill="#4fc3cf"/>
<rect x="389.83" y="180.39" width="0.90" height="0.80" fill="#4fc3cf"/>
<rect x="394.23" y="193.77" width="0.90" height="0.80" fill="#4fc3cf"/>
<rect x="388.29" y="199.57" width="0.90" height="0.80" fill="#4fc3cf"/>
<rect x="388.29" y="185.23" width="0.90" height="0.80" fill="#4fc3cf"/>
<rect x="394.29" y="195.41" width="0.90" height="0.80" fill="#4fc3cf"/>
<rect x="392.59" y="186.49" width="0.90" height="0.80" fill="#4fc3cf"/>
<rect x="388.93" y="191.52" width="0.90" height="0.80" fill="#4fc3cf"/>
<rect x="388.33" y="180.82" width="0.90" height="0.80" fill="#4fc3cf"/>
<rect x="390.24" y="176.54" width="0.90" height="0.80" fill="#4fc3cf"/>
<rect x="390.31" y="195.32" width="0.90" height="0.80" fill="#4fc3cf"/>
<rect x="392.32" y="188.11" width="0.90" height="0.80" fill="#4fc3cf"/>
<rect x="391.90" y="187.19" width="0.90" height="0.80" fill="#4fc3cf"/>
<rect x="388.56" y="190.67" width="0.90" height="0.80" fill="#4fc3cf"/>
<rect x="390.35" y="194.08" width="0.90" height="0.80" fill="#4fc3cf"/>
<rect x="393.77" y="186.36" width="0.90" height="0.80" fill="#4fc3cf"/>
<rect x="391.50" y="194.28" width="0.90" height="0.80" fill="#4fc3cf"/>
<rect x="390.46" y="181.37" width="0.90" height="0.80" fill="#4fc3cf"/>
<rect x="392.51" y="197.53" width="0.90" height="0.80" fill="#4fc3cf"/>
<rect x="392.86" y="193.06" width="0.90" height="0.80" fill="#4fc3cf"/>
<rect x="393.40" y="192.55" width="0.90" height="0.80" fill="#4fc3cf"/>
<rect x="391.96" y="186.96" width="0.90" height="0.80" fill="#4fc3cf"/>
<rect x="389.73" y="191.28" width="0.90" height="0.80" fill="#4fc3cf"/>
<rect x="388.27" y="186.11" width="0.90" height="0.80" fill="#4fc3cf"/>
<rect x="392.92" y="193.39" width="0.90" height="0.80" fill="#4fc3cf"/>
<rect x="391.88" y="181.90" width="0.90" height="0.80" fill="#4fc3cf"/>
<rect x="387.74" y="176.00" width="0.90" height="0.80" fill="#4fc3cf"/>
<rect x="387.72" y="177.10" width="0.90" height="0.80" fill="#4fc3cf"/>
<rect x="387.88" y="178.20" width="0.90" height="0.80" fill="#4fc3cf"/>
<rect x="387.80" y="179.30" width="0.90" height="0.80" fill="#4fc3cf"/>
<rect x="387.72" y="180.40" width="0.90" height="0.80" fill="#4fc3cf"/>
<rect x="387.89" y="181.50" width="0.90" height="0.80" fill="#4fc3cf"/>
<rect x="387.76" y="182.60" width="0.90" height="0.80" fill="#4fc3cf"/>
<rect x="387.83" y="183.70" width="0.90" height="0.80" fill="#4fc3cf"/>
<rect x="387.63" y="185.90" width="0.90" height="0.80" fill="#4fc3cf"/>
<rect x="387.76" y="187.00" width="0.90" height="0.80" fill="#4fc3cf"/>
<rect x="390.50" y="184.00" width="1.00" height="0.80" fill="#4fc3cf"/>
<rect x="390.60" y="185.10" width="1.00" height="0.80" fill="#4fc3cf"/>
<rect x="390.47" y="186.20" width="1.00" height="0.80" fill="#4fc3cf"/>
<rect x="390.56" y="188.40" width="1.00" height="0.80" fill="#4fc3cf"/>
<rect x="390.58" y="189.50" width="1.00" height="0.80" fill="#4fc3cf"/>
<rect x="390.65" y="190.60" width="1.00" height="0.80" fill="#4fc3cf"/>
<rect x="390.37" y="191.70" width="1.00" height="0.80" fill="#4fc3cf"/>
<rect x="390.47" y="192.80" width="1.00" height="0.80" fill="#4fc3cf"/>
<rect x="390.48" y="193.90" width="1.00" height="0.80" fill="#4fc3cf"/>
<rect x="390.56" y="195.00" width="1.00" height="0.80" fill="#4fc3cf"/>
<rect x="390.43" y="196.10" width="1.00" height="0.80" fill="#4fc3cf"/>
<rect x="390.57" y="197.20" width="1.00" height="0.80" fill="#4fc3cf"/>
<rect x="390.42" y="199.40" width="1.00" height="0.80" fill="#4fc3cf"/>
<rect x="392.67" y="185.00" width="1.00" height="0.80" fill="#4fc3cf"/>
<rect x="392.59" y="186.10" width="1.00" height="0.80" fill="#4fc3cf"/>
<rect x="392.79" y="187.20" width="1.00" height="0.80" fill="#4fc3cf"/>
<rect x="392.69" y="188.30" width="1.00" height="0.80" fill="#4fc3cf"/>
<rect x="392.62" y="189.40" width="1.00" height="0.80" fill="#4fc3cf"/>
<rect x="392.74" y="191.60" width="1.00" height="0.80" fill="#4fc3cf"/>
<rect x="392.79" y="192.70" width="1.00" height="0.80" fill="#4fc3cf"/>
<rect x="392.64" y="193.80" width="1.00" height="0.80" fill="#4fc3cf"/>
<rect x="392.59" y="194.90" width="1.00" height="0.80" fill="#4fc3cf"/>
<rect x="392.66" y="196.00" width="1.00" height="0.80" fill="#4fc3cf"/>
<rect x="392.63" y="197.10" width="1.00" height="0.80" fill="#4fc3cf"/>
<rect x="392.63" y="198.20" width="1.00" height="0.80" fill="#4fc3cf"/>
<rect x="392.61" y="199.30" width="1.00" height="0.80" fill="#4fc3cf"/>
<rect x="394.37" y="201.40" width="1.00" height="0.80" fill="#4fc3cf"/>
<rect x="394.22" y="202.50" width="1.00" height="0.80" fill="#4fc3cf"/>
<rect x="394.29" y="203.60" width="1.00" height="0.80" fill="#4fc3cf"/>
<rect x="394.34" y="204.70" width="1.00" height="0.80" fill="#4fc3cf"/>
<rect x="394.26" y="205.80" width="1.00" height="0.80" fill="#4fc3cf"/>
<rect x="394.17" y="208.00" width="1.00" height="0.80" fill="#4fc3cf"/>
<rect x="394.42" y="209.10" width="1.00" height="0.80" fill="#4fc3cf"/>
<rect x="394.19" y="210.20" width="1.00" height="0.80" fill="#4fc3cf"/>
<rect x="394.34" y="211.30" width="1.00" height="0.80" fill="#4fc3cf"/>
<rect x="394.15" y="212.40" width="1.00" height="0.80" fill="#4fc3cf"/>
<rect x="394.23" y="214.60" width="1.00" height="0.80" fill="#4fc3cf"/>
<rect x="394.19" y="215.70" width="1.00" height="0.80" fill="#4fc3cf"/>
<rect x="394.38" y="216.80" width="1.00" height="0.80" fill="#4fc3cf"/>
<rect x="394.20" y="217.90" width="1.00" height="0.80" fill="#4fc3cf"/>
<rect x="394.20" y="220.10" width="1.00" height="0.80" fill="#4fc3cf"/>
<rect x="389.00" y="209.00" width="0.80" height="0.80" fill="#4fc3cf"/>
<rect x="389.00" y="218.00" width="0.80" height="0.80" fill="#4fc3cf"/>
<text x="91.60" y="185.00" font-size="4.65" fill="#000" font-weight="bold" font-style="italic" stroke="#000" stroke-width="0.1">MCM6</text>
<text x="108.40" y="189.40" font-size="4.65" fill="#000" font-weight="bold" font-style="italic" stroke="#000" stroke-width="0.1">PPP4R2</text>
<text x="161.50" y="187.80" font-size="4.65" fill="#000" font-weight="bold" font-style="italic" stroke="#000" stroke-width="0.1">RRAGD</text>
<text x="161.50" y="203.10" font-size="4.65" fill="#000" font-weight="bold" font-style="italic" stroke="#000" stroke-width="0.1">ZNF292</text>
<text x="188.00" y="190.80" font-size="4.65" fill="#000" font-weight="bold" font-style="italic" stroke="#000" stroke-width="0.1">NKX3-1</text>
<text x="273.80" y="220.20" font-size="4.65" fill="#000" font-weight="bold" font-style="italic" stroke="#000" stroke-width="0.1">RB1</text>
<text x="311.80" y="198.50" font-size="4.65" fill="#000" font-weight="bold" font-style="italic" stroke="#000" stroke-width="0.1">FBXO31</text>
<polyline points="49.8,252.7 50.5,252.3 51.2,252.5 51.9,252.4 52.6,252.7 53.3,252.5 54.0,252.6 54.7,251.8 55.4,252.4 56.1,252.2 56.8,252.5 57.5,252.1 58.2,252.7 58.9,252.3 59.6,251.9 60.3,251.3 61.0,250.0 61.7,249.2 62.4,247.4 63.1,246.7 63.8,246.1 64.5,247.8 65.2,249.0 65.9,250.3 66.6,251.9 67.3,251.6 68.0,252.6 68.7,252.2 69.4,252.3 70.1,252.4 70.8,252.6 71.5,252.0" fill="none" stroke="#8c8c8c" stroke-width="0.8" stroke-linejoin="round"/>
<polyline points="73.0,252.7 73.7,253.4 74.4,252.3 75.1,253.0 75.8,253.0 76.5,252.2 77.2,252.9 77.9,253.0 78.6,253.3 79.3,252.6 80.0,253.4 80.7,252.8" fill="none" stroke="#8c8c8c" stroke-width="0.8" stroke-linejoin="round"/>
<polyline points="85.0,252.6 85.7,253.1 86.4,252.0 87.1,252.9 87.8,252.8 88.5,252.4 89.2,253.0 89.9,252.4 90.6,252.6 91.3,252.6 92.0,252.9 92.7,252.3" fill="none" stroke="#8c8c8c" stroke-width="0.8" stroke-linejoin="round"/>
<polyline points="93.5,252.1 94.2,252.1 94.9,252.3 95.6,252.6 96.3,249.8 97.0,247.5 97.7,244.0 98.4,244.3 99.1,246.5 99.8,249.3 100.5,252.4 101.2,252.4 101.9,252.6 102.6,252.0 103.3,252.0 104.0,252.0 104.7,252.3 105.4,252.4 106.1,252.5 106.8,251.6 107.5,252.5" fill="none" stroke="#8c8c8c" stroke-width="0.8" stroke-linejoin="round"/>
<polyline points="111.0,253.1 111.7,252.7 112.4,252.1 113.1,252.4 113.8,252.0 114.5,252.2 115.2,253.1 115.9,252.7" fill="none" stroke="#8c8c8c" stroke-width="0.8" stroke-linejoin="round"/>
<polyline points="122.0,253.4 122.7,253.5 123.4,253.7 124.1,253.3 124.8,253.3 125.5,253.4 126.2,253.4 126.9,253.3 127.6,253.4" fill="none" stroke="#8c8c8c" stroke-width="0.8" stroke-linejoin="round"/>
<polyline points="130.0,252.3 130.7,252.8 131.4,252.5 132.1,252.9 132.8,252.1 133.5,252.2 134.2,252.0 134.9,252.9 135.6,253.1" fill="none" stroke="#8c8c8c" stroke-width="0.8" stroke-linejoin="round"/>
<polyline points="139.0,252.2 139.7,251.8 140.4,252.4 141.1,252.3 141.8,252.1 142.5,251.7 143.2,251.8 143.9,251.9 144.6,249.1 145.3,246.5 146.0,244.1 146.7,243.1 147.4,244.0 148.1,246.7 148.8,248.0 149.5,250.1 150.2,252.4 150.9,252.1 151.6,252.5 152.3,251.9 153.0,251.4 153.7,251.9 154.4,252.1 155.1,252.5 155.8,252.6 156.5,252.0 157.2,251.9 157.9,251.5" fill="none" stroke="#8c8c8c" stroke-width="0.8" stroke-linejoin="round"/>
<polyline points="160.0,253.2 160.7,252.7 161.4,252.6 162.1,252.4 162.8,252.4 163.5,253.2 164.2,252.5 164.9,253.6 165.6,252.5 166.3,253.4 167.0,252.6" fill="none" stroke="#8c8c8c" stroke-width="0.8" stroke-linejoin="round"/>
<polyline points="167.5,252.0 168.2,252.9 168.9,245.2 169.6,235.8 170.3,237.2 171.0,241.1 171.7,246.0 172.4,250.0 173.1,253.0 173.8,252.9" fill="none" stroke="#8c8c8c" stroke-width="0.8" stroke-linejoin="round"/>
<polyline points="193.2,250.7 193.9,240.2 194.6,236.1 195.3,245.6 196.0,236.3 196.7,225.7 197.4,232.9 198.1,238.9 198.8,244.3 199.5,250.6" fill="none" stroke="#8c8c8c" stroke-width="0.8" stroke-linejoin="round"/>
<polyline points="200.0,251.2 200.7,251.4 201.4,250.5 202.1,250.8 202.8,251.3 203.5,250.6 204.2,251.4 204.9,251.0 205.6,250.5 206.3,250.8 207.0,251.1 207.7,250.9 208.4,251.2 209.1,250.6 209.8,251.4 210.5,250.8 211.2,251.2 211.9,251.2 212.6,250.9 213.3,250.9 214.0,251.3 214.7,251.5 215.4,251.3 216.1,251.1 216.8,250.8 217.5,250.5 218.2,251.6 218.9,251.2 219.6,251.4 220.3,250.8 221.0,251.1 221.7,251.6 222.4,251.4 223.1,251.1 223.8,250.8 224.5,250.9 225.2,251.5 225.9,250.9 226.6,250.5 227.3,248.6 228.0,247.3 228.7,245.4 229.4,246.0 230.1,247.4 230.8,249.5 231.5,250.9 232.2,251.1 232.9,251.4 233.6,251.5 234.3,250.5 235.0,251.4 235.7,251.4 236.4,251.4" fill="none" stroke="#8c8c8c" stroke-width="0.8" stroke-linejoin="round"/>
<polyline points="237.0,251.9 237.7,251.5 238.4,252.2 239.1,252.2 239.8,252.0 240.5,252.3 241.2,251.6 241.9,251.3 242.6,251.9 243.3,252.2 244.0,251.4 244.7,252.1 245.4,252.3 246.1,251.5 246.8,251.9 247.5,252.0 248.2,251.8 248.9,251.4 249.6,251.5 250.3,252.1 251.0,252.1 251.7,251.8 252.4,251.3 253.1,252.2 253.8,252.1 254.5,251.5 255.2,251.9 255.9,252.3" fill="none" stroke="#8c8c8c" stroke-width="0.8" stroke-linejoin="round"/>
<polyline points="256.0,252.1 256.7,251.6 257.4,251.6 258.1,251.7 258.8,251.2 259.5,249.0 260.2,246.4 260.9,244.4 261.6,246.6 262.3,249.5 263.0,251.5 263.7,251.6 264.4,251.2 265.1,251.1 265.8,252.2 266.5,251.4 267.2,251.1 267.9,251.8" fill="none" stroke="#8c8c8c" stroke-width="0.8" stroke-linejoin="round"/>
<polyline points="276.0,251.5 276.7,250.8 277.4,251.3 278.1,244.5 278.8,238.1 279.5,239.8 280.2,245.6 280.9,251.8 281.6,251.6 282.3,251.2 283.0,251.3" fill="none" stroke="#8c8c8c" stroke-width="0.8" stroke-linejoin="round"/>
<polyline points="283.5,252.0 284.2,252.6 284.9,252.2 285.6,252.8 286.3,252.6 287.0,252.7 287.7,252.9 288.4,252.0 289.1,251.7 289.8,251.9 290.5,251.9 291.2,251.8 291.9,251.8 292.6,252.4 293.3,252.7 294.0,252.2 294.7,252.8 295.4,252.8 296.1,251.8 296.8,252.4 297.5,252.2 298.2,251.8 298.9,252.9 299.6,252.0 300.3,252.4 301.0,252.5 301.7,252.8 302.4,252.5 303.1,252.2 303.8,252.2 304.5,251.9 305.2,252.9 305.9,252.9" fill="none" stroke="#8c8c8c" stroke-width="0.8" stroke-linejoin="round"/>
<polyline points="316.0,250.3 316.7,250.0 317.4,250.3 318.1,250.4 318.8,249.0 319.5,245.3 320.2,241.5 320.9,242.8 321.6,248.3 322.3,250.9 323.0,250.8 323.7,249.6 324.4,244.7 325.1,242.0 325.8,245.7 326.5,249.0 327.2,250.8 327.9,250.4 328.6,250.7 329.3,250.9 330.0,250.1 330.7,250.4 331.4,250.3 332.1,250.1 332.8,250.6 333.5,250.2 334.2,246.3 334.9,244.2 335.6,247.8 336.3,250.0 337.0,250.9 337.7,250.2 338.4,250.0 339.1,251.1 339.8,250.3 340.5,251.1 341.2,251.0 341.9,251.1 342.6,250.2" fill="none" stroke="#8c8c8c" stroke-width="0.8" stroke-linejoin="round"/>
<polyline points="343.5,249.5 344.2,249.1 344.9,250.1 345.6,250.0 346.3,249.8 347.0,249.5 347.7,249.4 348.4,250.0" fill="none" stroke="#8c8c8c" stroke-width="0.8" stroke-linejoin="round"/>
<polyline points="375.8,253.0 376.5,253.2 377.2,252.6 377.9,252.7 378.6,252.5 379.3,253.3 380.0,253.1 380.7,252.6 381.4,253.4 382.1,252.7 382.8,252.9 383.5,252.6 384.2,252.7 384.9,253.4" fill="none" stroke="#8c8c8c" stroke-width="0.8" stroke-linejoin="round"/>
<rect x="96.70" y="245.85" width="0.90" height="1.10" fill="#3d6b3a"/>
<rect x="96.70" y="247.25" width="0.90" height="1.00" fill="#4a7a46"/>
<rect x="97.15" y="243.97" width="0.90" height="1.10" fill="#3d6b3a"/>
<rect x="97.15" y="245.37" width="0.90" height="1.00" fill="#4a7a46"/>
<rect x="97.60" y="242.48" width="0.90" height="1.10" fill="#3d6b3a"/>
<rect x="97.60" y="243.88" width="0.90" height="1.00" fill="#4a7a46"/>
<rect x="98.05" y="244.07" width="0.90" height="1.10" fill="#3d6b3a"/>
<rect x="98.05" y="245.47" width="0.90" height="1.00" fill="#4a7a46"/>
<rect x="98.50" y="245.66" width="0.90" height="1.10" fill="#3d6b3a"/>
<rect x="144.80" y="246.31" width="0.90" height="1.10" fill="#3d6b3a"/>
<rect x="144.80" y="247.71" width="0.90" height="1.00" fill="#4a7a46"/>
<rect x="145.25" y="244.58" width="0.90" height="1.10" fill="#3d6b3a"/>
<rect x="145.70" y="242.85" width="0.90" height="1.10" fill="#3d6b3a"/>
<rect x="145.70" y="244.25" width="0.90" height="1.00" fill="#4a7a46"/>
<rect x="146.15" y="241.79" width="0.90" height="1.10" fill="#3d6b3a"/>
<rect x="146.60" y="243.07" width="0.90" height="1.10" fill="#3d6b3a"/>
<rect x="147.05" y="244.36" width="0.90" height="1.10" fill="#3d6b3a"/>
<rect x="147.05" y="245.76" width="0.90" height="1.00" fill="#4a7a46"/>
<rect x="147.50" y="245.64" width="0.90" height="1.10" fill="#3d6b3a"/>
<rect x="147.50" y="247.04" width="0.90" height="1.00" fill="#4a7a46"/>
<rect x="168.40" y="245.30" width="0.90" height="1.10" fill="#3d6b3a"/>
<rect x="168.40" y="246.70" width="0.90" height="1.00" fill="#4a7a46"/>
<rect x="168.85" y="239.11" width="0.90" height="1.10" fill="#3d6b3a"/>
<rect x="168.85" y="240.51" width="0.90" height="1.00" fill="#4a7a46"/>
<rect x="169.30" y="233.88" width="0.90" height="1.10" fill="#3d6b3a"/>
<rect x="169.30" y="235.28" width="0.90" height="1.00" fill="#4a7a46"/>
<rect x="169.75" y="236.40" width="0.90" height="1.10" fill="#3d6b3a"/>
<rect x="169.75" y="237.80" width="0.90" height="1.00" fill="#4a7a46"/>
<rect x="170.20" y="238.91" width="0.90" height="1.10" fill="#3d6b3a"/>
<rect x="170.65" y="241.43" width="0.90" height="1.10" fill="#3d6b3a"/>
<rect x="171.10" y="243.95" width="0.90" height="1.10" fill="#3d6b3a"/>
<rect x="171.55" y="246.47" width="0.90" height="1.10" fill="#3d6b3a"/>
<rect x="171.55" y="247.87" width="0.90" height="1.00" fill="#4a7a46"/>
<rect x="193.20" y="244.00" width="0.90" height="1.10" fill="#3d6b3a"/>
<rect x="193.20" y="245.40" width="0.90" height="1.00" fill="#4a7a46"/>
<rect x="193.65" y="236.50" width="0.90" height="1.10" fill="#3d6b3a"/>
<rect x="194.10" y="234.50" width="0.90" height="1.10" fill="#3d6b3a"/>
<rect x="194.10" y="235.90" width="0.90" height="1.00" fill="#4a7a46"/>
<rect x="194.55" y="243.50" width="0.90" height="1.10" fill="#3d6b3a"/>
<rect x="194.45" y="241.50" width="0.90" height="1.10" fill="#3d6b3a"/>
<rect x="194.45" y="242.90" width="0.90" height="1.00" fill="#4a7a46"/>
<rect x="194.90" y="245.00" width="0.90" height="1.10" fill="#3d6b3a"/>
<rect x="195.35" y="238.50" width="0.90" height="1.10" fill="#3d6b3a"/>
<rect x="195.35" y="239.90" width="0.90" height="1.00" fill="#4a7a46"/>
<rect x="195.80" y="232.00" width="0.90" height="1.10" fill="#3d6b3a"/>
<rect x="196.25" y="225.50" width="0.90" height="1.10" fill="#3d6b3a"/>
<rect x="196.25" y="226.90" width="0.90" height="1.00" fill="#4a7a46"/>
<rect x="196.70" y="229.68" width="0.90" height="1.10" fill="#3d6b3a"/>
<rect x="196.70" y="231.08" width="0.90" height="1.00" fill="#4a7a46"/>
<rect x="197.15" y="233.86" width="0.90" height="1.10" fill="#3d6b3a"/>
<rect x="197.15" y="235.26" width="0.90" height="1.00" fill="#4a7a46"/>
<rect x="197.60" y="238.04" width="0.90" height="1.10" fill="#3d6b3a"/>
<rect x="198.05" y="242.21" width="0.90" height="1.10" fill="#3d6b3a"/>
<rect x="198.50" y="246.39" width="0.90" height="1.10" fill="#3d6b3a"/>
<rect x="198.50" y="247.79" width="0.90" height="1.00" fill="#4a7a46"/>
<rect x="277.85" y="242.61" width="0.90" height="1.10" fill="#3d6b3a"/>
<rect x="277.85" y="244.01" width="0.90" height="1.00" fill="#4a7a46"/>
<rect x="278.30" y="238.17" width="0.90" height="1.10" fill="#3d6b3a"/>
<rect x="278.75" y="237.46" width="0.90" height="1.10" fill="#3d6b3a"/>
<rect x="278.75" y="238.86" width="0.90" height="1.00" fill="#4a7a46"/>
<rect x="279.20" y="241.41" width="0.90" height="1.10" fill="#3d6b3a"/>
<rect x="279.65" y="245.36" width="0.90" height="1.10" fill="#3d6b3a"/>
<rect x="279.65" y="246.76" width="0.90" height="1.00" fill="#4a7a46"/>
<rect x="318.85" y="246.10" width="0.90" height="1.10" fill="#3d6b3a"/>
<rect x="318.85" y="247.50" width="0.90" height="1.00" fill="#4a7a46"/>
<rect x="319.30" y="243.40" width="0.90" height="1.10" fill="#3d6b3a"/>
<rect x="319.75" y="240.70" width="0.90" height="1.10" fill="#3d6b3a"/>
<rect x="320.20" y="241.37" width="0.90" height="1.10" fill="#3d6b3a"/>
<rect x="320.20" y="242.77" width="0.90" height="1.00" fill="#4a7a46"/>
<rect x="320.65" y="244.75" width="0.90" height="1.10" fill="#3d6b3a"/>
<rect x="320.65" y="246.15" width="0.90" height="1.00" fill="#4a7a46"/>
<rect x="323.85" y="245.88" width="0.90" height="1.10" fill="#3d6b3a"/>
<rect x="323.85" y="247.28" width="0.90" height="1.00" fill="#4a7a46"/>
<rect x="324.30" y="243.06" width="0.90" height="1.10" fill="#3d6b3a"/>
<rect x="324.75" y="242.50" width="0.90" height="1.10" fill="#3d6b3a"/>
<rect x="324.75" y="243.90" width="0.90" height="1.00" fill="#4a7a46"/>
<rect x="325.20" y="244.75" width="0.90" height="1.10" fill="#3d6b3a"/>
<rect x="325.20" y="246.15" width="0.90" height="1.00" fill="#4a7a46"/>
<rect x="116.75" y="240.00" width="0.90" height="3.20" fill="#3d6b3a"/>
<polyline points="116.5,254.3 117.2,254.8 117.9,255.1 118.6,255.3 119.3,255.2 120.0,254.9 120.7,254.9 121.4,255.7" fill="none" stroke="#4fc3cf" stroke-width="0.9" stroke-linejoin="round"/>
<polyline points="176.0,255.3 176.7,255.7 177.4,255.2 178.1,256.0 178.8,255.7 179.5,256.3 180.2,256.4 180.9,256.2 181.6,255.8 182.3,256.8 183.0,256.5 183.7,257.0 184.4,256.5 185.1,256.5 185.8,257.3 186.5,256.9 187.2,256.8 187.9,257.1 188.6,257.5 189.3,257.0 190.0,257.6 190.7,257.6 191.4,257.8 192.1,257.5 192.8,258.2 193.5,258.4" fill="none" stroke="#4fc3cf" stroke-width="0.9" stroke-linejoin="round"/>
<polyline points="269.0,254.4 269.7,253.9 270.4,254.5 271.1,254.2 271.8,254.7 272.5,254.2" fill="none" stroke="#4fc3cf" stroke-width="0.9" stroke-linejoin="round"/>
<polyline points="306.5,255.6 307.2,255.7 307.9,255.3 308.6,255.3 309.3,255.4 310.0,255.4 310.7,254.9 311.4,255.9 312.1,255.2 312.8,255.2 313.5,255.1 314.2,255.3 314.9,255.9 315.6,255.1" fill="none" stroke="#4fc3cf" stroke-width="0.9" stroke-linejoin="round"/>
<polyline points="387.3,254.1 388.0,254.7 388.7,254.3 389.4,254.1 390.1,254.8 390.8,254.8 391.5,254.8 392.2,255.0 392.9,254.4 393.6,255.2 394.3,255.1 395.0,254.5" fill="none" stroke="#4fc3cf" stroke-width="0.9" stroke-linejoin="round"/>
<text x="441.30" y="215.40" font-size="5.26" fill="#000" font-weight="bold" text-decoration="underline">Phylogenetic relationship</text>
<rect x="441.30" y="217.60" width="5.70" height="4.20" fill="#5a8a5a"/>
<text x="447.30" y="221.10" font-size="4.9" fill="#333" stroke="#333" stroke-width="0.14">Trunk</text>
<rect x="441.30" y="221.80" width="5.70" height="4.40" fill="#5cc8d0"/>
<text x="447.30" y="225.60" font-size="4.9" fill="#333" stroke="#333" stroke-width="0.14">Branch</text>
<g>
<path fill="#f6b4b4" d="M52.0 283.54h2.2v0.85h-2.2zM49.5 283.54h6.4v0.85h-6.4zM59.9 286.02h8.7v0.85h-8.7zM82.0 286.02h2.9v0.85h-2.9zM56.8 286.02h0.7v0.85h-0.7zM71.8 286.64h0.7v0.85h-0.7zM89.5 287.88h0.9v0.85h-0.9zM124.5 284.78h2.7v0.85h-2.7zM108.6 285.40h0.7v0.85h-0.7zM121.9 286.64h6.9v0.85h-6.9zM122.3 286.64h3.2v0.85h-3.2zM106.5 287.88h10.9v0.85h-10.9zM142.1 282.30h0.7v0.85h-0.7zM172.8 286.64h0.7v0.85h-0.7zM176.5 283.54h16.9v0.85h-16.9zM199.6 282.92h5.5v0.85h-5.5zM199.3 286.02h4.6v0.85h-4.6zM198.5 287.26h8.4v0.85h-8.4zM244.0 287.88h1.1v0.85h-1.1zM271.5 283.54h0.7v0.85h-0.7zM279.1 283.54h3.0v0.85h-3.0zM296.1 284.78h5.8v0.85h-5.8zM335.8 284.16h1.1v0.85h-1.1zM334.0 284.16h1.4v0.85h-1.4zM344.6 282.30h1.9v0.85h-1.9zM356.2 286.02h6.0v0.85h-6.0zM61.6 297.48h2.7v0.85h-2.7zM75.4 293.14h8.7v0.85h-8.7zM90.5 299.96h0.7v0.85h-0.7zM91.5 303.68h1.4v0.85h-1.4zM121.7 288.80h3.2v0.85h-3.2zM115.6 289.42h9.8v0.85h-9.8zM110.1 295.00h1.5v0.85h-1.5zM121.0 303.06h6.0v0.85h-6.0zM132.9 291.90h0.7v0.85h-0.7zM140.8 299.34h1.3v0.85h-1.3zM133.7 301.82h3.2v0.85h-3.2zM144.2 294.38h1.8v0.85h-1.8zM146.3 300.58h2.2v0.85h-2.2zM148.2 304.92h7.1v0.85h-7.1zM164.0 296.86h1.0v0.85h-1.0zM180.1 288.80h6.0v0.85h-6.0zM178.7 289.42h4.3v0.85h-4.3zM184.2 295.00h12.1v0.85h-12.1zM181.7 295.62h9.5v0.85h-9.5zM184.8 295.62h0.9v0.85h-0.9zM177.8 301.20h7.4v0.85h-7.4zM182.4 303.06h2.5v0.85h-2.5zM188.9 304.30h1.5v0.85h-1.5zM184.7 304.92h3.4v0.85h-3.4zM184.0 306.78h11.3v0.85h-11.3zM198.1 291.90h8.4v0.85h-8.4zM207.6 296.86h15.0v0.85h-15.0zM213.5 303.68h5.7v0.85h-5.7zM223.5 301.82h6.1v0.85h-6.1zM242.6 290.04h2.3v0.85h-2.3zM243.6 301.82h11.7v0.85h-11.7zM243.0 307.40h13.8v0.85h-13.8zM252.9 290.04h18.8v0.85h-18.8zM262.6 301.20h5.0v0.85h-5.0zM259.6 304.30h18.8v0.85h-18.8zM279.7 298.72h3.4v0.85h-3.4zM290.7 294.38h3.5v0.85h-3.5zM282.9 299.34h2.0v0.85h-2.0zM290.4 306.78h1.5v0.85h-1.5zM299.4 307.40h11.4v0.85h-11.4zM309.1 302.44h7.3v0.85h-7.3zM340.2 295.00h0.7v0.85h-0.7zM322.1 298.72h0.9v0.85h-0.9zM336.3 299.34h3.8v0.85h-3.8zM357.4 290.04h0.7v0.85h-0.7zM369.4 302.44h1.1v0.85h-1.1zM380.7 303.68h3.6v0.85h-3.6zM65.6 308.22h9.6v0.85h-9.6zM66.6 308.84h1.1v0.85h-1.1zM138.2 310.08h4.7v0.85h-4.7zM186.6 309.46h1.2v0.85h-1.2zM199.6 315.04h3.3v0.85h-3.3zM214.3 311.32h0.7v0.85h-0.7zM236.8 315.66h5.0v0.85h-5.0zM277.5 314.42h0.7v0.85h-0.7zM282.6 308.84h2.8v0.85h-2.8zM291.7 316.28h3.8v0.85h-3.8zM308.4 315.04h2.4v0.85h-2.4zM49.5 319.38h1.5v0.85h-1.5zM63.2 341.08h4.8v0.85h-4.8zM92.8 333.64h1.8v0.85h-1.8zM122.0 317.52h0.7v0.85h-0.7zM120.9 330.54h1.3v0.85h-1.3zM140.9 345.42h0.7v0.85h-0.7zM168.5 329.30h0.7v0.85h-0.7zM181.1 318.14h7.7v0.85h-7.7zM181.7 334.26h3.3v0.85h-3.3zM203.1 321.24h1.6v0.85h-1.6zM200.1 323.10h2.7v0.85h-2.7zM201.6 339.84h2.9v0.85h-2.9zM198.2 344.80h2.2v0.85h-2.2zM200.4 349.76h4.7v0.85h-4.7zM234.9 316.90h4.1v0.85h-4.1zM241.1 321.24h2.7v0.85h-2.7zM242.9 338.60h2.0v0.85h-2.0zM239.2 351.00h0.7v0.85h-0.7zM284.4 321.24h1.9v0.85h-1.9zM287.1 349.76h0.7v0.85h-0.7zM359.4 329.92h2.2v0.85h-2.2zM374.3 316.90h1.7v0.85h-1.7zM68.1 353.98h0.7v0.85h-0.7zM49.5 363.90h3.4v0.85h-3.4zM86.7 367.00h0.7v0.85h-0.7zM95.5 368.24h1.0v0.85h-1.0zM91.4 376.92h2.3v0.85h-2.3zM90.0 388.08h1.7v0.85h-1.7zM85.4 388.70h0.9v0.85h-0.9zM107.9 397.38h0.7v0.85h-0.7zM112.3 358.32h1.4v0.85h-1.4zM138.0 357.08h3.4v0.85h-3.4zM132.5 379.40h1.2v0.85h-1.2zM130.3 383.12h1.3v0.85h-1.3zM135.8 396.76h0.7v0.85h-0.7zM163.1 393.04h0.7v0.85h-0.7zM178.8 360.80h2.1v0.85h-2.1zM179.6 406.06h0.7v0.85h-0.7zM177.4 410.40h0.7v0.85h-0.7zM202.9 358.32h4.9v0.85h-4.9zM198.3 363.28h3.0v0.85h-3.0zM201.9 385.60h0.7v0.85h-0.7zM213.8 388.70h0.9v0.85h-0.9zM210.7 407.92h2.9v0.85h-2.9zM232.9 401.72h1.8v0.85h-1.8zM250.8 381.88h2.8v0.85h-2.8zM270.5 368.24h0.8v0.85h-0.8zM269.5 408.54h1.0v0.85h-1.0zM290.2 390.56h2.1v0.85h-2.1zM301.1 371.34h2.3v0.85h-2.3zM305.5 377.54h0.7v0.85h-0.7zM333.0 365.14h3.1v0.85h-3.1zM329.7 391.18h0.8v0.85h-0.8zM341.5 399.86h0.7v0.85h-0.7zM334.7 405.44h1.3v0.85h-1.3zM344.6 386.84h2.6v0.85h-2.6zM365.6 374.44h7.2v0.85h-7.2zM359.2 389.94h3.3v0.85h-3.3zM371.5 398.62h1.8v0.85h-1.8zM362.9 410.40h1.5v0.85h-1.5zM386.2 375.68h1.2v0.85h-1.2zM68.0 290.80h17.5v0.80h-17.5zM66.0 296.20h19.5v0.80h-19.5zM206.5 302.20h51.2v0.80h-51.2zM56.6 433.42h1.3v0.85h-1.3zM72.9 433.42h14.1v0.85h-14.1zM63.1 433.42h6.8v0.85h-6.8zM49.5 435.28h12.4v0.85h-12.4zM65.2 436.52h8.0v0.85h-8.0zM92.8 435.90h10.3v0.85h-10.3zM124.4 434.04h4.9v0.85h-4.9zM131.6 432.80h13.3v0.85h-13.3zM130.7 437.14h5.9v0.85h-5.9zM139.0 432.80h15.9v0.85h-15.9zM170.5 435.90h0.7v0.85h-0.7zM193.3 435.90h13.1v0.85h-13.1zM209.0 432.80h15.0v0.85h-15.0zM231.3 432.80h6.3v0.85h-6.3zM225.9 434.04h1.3v0.85h-1.3zM227.6 437.76h5.5v0.85h-5.5zM238.5 432.80h21.9v0.85h-21.9zM247.0 436.52h5.4v0.85h-5.4zM232.3 436.52h19.5v0.85h-19.5zM258.6 435.90h15.5v0.85h-15.5zM275.7 435.90h6.1v0.85h-6.1zM283.4 437.76h11.4v0.85h-11.4zM293.3 438.38h1.5v0.85h-1.5zM293.6 435.28h7.3v0.85h-7.3zM303.6 437.76h2.4v0.85h-2.4zM311.8 432.80h14.6v0.85h-14.6zM305.6 435.90h14.6v0.85h-14.6zM323.8 432.80h4.1v0.85h-4.1zM336.2 438.38h4.1v0.85h-4.1zM348.5 434.04h25.0v0.85h-25.0zM348.5 434.66h25.0v0.85h-25.0zM348.5 435.90h25.0v0.85h-25.0zM381.8 434.04h1.2v0.85h-1.2zM373.7 435.90h9.9v0.85h-9.9zM372.4 437.76h9.9v0.85h-9.9zM388.0 434.04h8.5v0.85h-8.5zM387.3 435.90h8.7v0.85h-8.7zM162.4 438.50h7.2v0.85h-7.2zM282.6 439.74h10.3v0.85h-10.3zM318.8 444.70h14.0v0.85h-14.0zM49.5 446.54h14.5v0.85h-14.5zM72.3 448.40h8.5v0.85h-8.5zM106.4 445.30h1.5v0.85h-1.5zM91.0 445.30h13.3v0.85h-13.3zM85.1 449.02h23.0v0.85h-23.0zM108.0 445.92h20.0v0.85h-20.0zM106.6 447.16h8.8v0.85h-8.8zM113.6 448.40h4.2v0.85h-4.2zM135.5 447.78h2.9v0.85h-2.9zM136.0 449.02h7.7v0.85h-7.7zM149.4 448.40h2.3v0.85h-2.3zM155.6 445.92h17.8v0.85h-17.8zM181.8 448.40h5.3v0.85h-5.3zM181.8 448.40h7.2v0.85h-7.2zM213.1 447.16h3.1v0.85h-3.1zM210.1 447.16h0.7v0.85h-0.7zM222.6 447.78h7.4v0.85h-7.4zM244.3 446.54h5.4v0.85h-5.4zM239.5 446.54h16.9v0.85h-16.9zM306.6 445.92h3.7v0.85h-3.7zM310.5 446.54h14.6v0.85h-14.6zM311.5 447.16h2.4v0.85h-2.4zM313.6 449.02h4.9v0.85h-4.9zM323.2 448.40h6.3v0.85h-6.3zM318.2 449.02h16.7v0.85h-16.7zM342.2 445.30h4.5v0.85h-4.5zM348.5 445.30h25.0v0.85h-25.0zM348.5 446.54h25.0v0.85h-25.0zM348.5 448.40h25.0v0.85h-25.0zM348.5 449.02h25.0v0.85h-25.0zM384.1 446.54h4.3v0.85h-4.3zM383.5 448.40h4.3v0.85h-4.3zM64.2 451.68h2.9v0.85h-2.9zM51.2 454.16h23.4v0.85h-23.4zM90.6 451.06h1.4v0.85h-1.4zM85.1 455.40h6.4v0.85h-6.4zM120.4 452.30h1.8v0.85h-1.8zM163.2 451.06h6.8v0.85h-6.8zM158.1 451.68h4.1v0.85h-4.1zM157.6 452.92h18.8v0.85h-18.8zM158.3 454.78h0.7v0.85h-0.7zM157.7 456.64h10.2v0.85h-10.2zM153.9 457.88h18.8v0.85h-18.8zM161.6 458.50h0.7v0.85h-0.7zM176.5 449.20h16.9v0.85h-16.9zM204.1 449.82h0.7v0.85h-0.7zM220.9 454.16h0.7v0.85h-0.7zM245.0 452.92h4.7v0.85h-4.7zM240.2 457.88h9.5v0.85h-9.5zM256.5 457.26h4.6v0.85h-4.6zM288.2 458.50h4.1v0.85h-4.1zM297.8 452.92h2.5v0.85h-2.5zM294.5 458.50h3.0v0.85h-3.0zM331.4 450.44h14.7v0.85h-14.7zM330.6 452.30h11.1v0.85h-11.1zM328.2 453.54h1.2v0.85h-1.2zM322.5 455.40h21.1v0.85h-21.1zM357.0 449.20h1.2v0.85h-1.2zM385.8 452.30h8.8v0.85h-8.8zM81.9 459.94h1.9v0.85h-1.9zM55.7 466.76h7.9v0.85h-7.9zM51.1 467.38h6.8v0.85h-6.8zM50.7 467.38h8.1v0.85h-8.1zM66.1 467.38h3.6v0.85h-3.6zM71.5 469.86h19.8v0.85h-19.8zM68.7 469.86h4.6v0.85h-4.6zM52.5 471.72h9.9v0.85h-9.9zM83.4 476.06h1.5v0.85h-1.5zM79.0 476.68h1.8v0.85h-1.8zM53.8 477.92h7.3v0.85h-7.3zM68.1 477.92h2.7v0.85h-2.7zM49.5 480.40h26.2v0.85h-26.2zM83.2 461.18h10.3v0.85h-10.3zM100.5 466.76h5.6v0.85h-5.6zM100.1 469.86h9.4v0.85h-9.4zM84.7 469.86h7.4v0.85h-7.4zM94.7 474.82h3.2v0.85h-3.2zM90.3 476.06h1.8v0.85h-1.8zM108.3 460.56h14.4v0.85h-14.4zM117.0 462.42h13.1v0.85h-13.1zM116.5 464.28h9.2v0.85h-9.2zM124.6 479.78h3.5v0.85h-3.5zM134.0 458.70h6.7v0.85h-6.7zM133.4 461.80h3.7v0.85h-3.7zM128.0 466.14h9.6v0.85h-9.6zM136.8 468.62h5.5v0.85h-5.5zM128.6 479.16h0.7v0.85h-0.7zM129.8 479.16h3.5v0.85h-3.5zM137.2 479.78h15.9v0.85h-15.9zM166.7 459.94h5.4v0.85h-5.4zM165.6 461.80h1.2v0.85h-1.2zM157.8 464.28h3.4v0.85h-3.4zM164.9 466.76h1.1v0.85h-1.1zM159.8 473.58h8.3v0.85h-8.3zM160.8 474.20h2.7v0.85h-2.7zM170.4 474.82h1.1v0.85h-1.1zM168.5 479.16h2.4v0.85h-2.4zM187.1 476.06h3.5v0.85h-3.5zM181.0 477.30h10.0v0.85h-10.0zM195.8 477.30h1.3v0.85h-1.3zM197.5 459.32h7.9v0.85h-7.9zM198.8 460.56h0.9v0.85h-0.9zM199.4 463.66h7.9v0.85h-7.9zM201.7 474.20h2.2v0.85h-2.2zM205.4 460.56h6.4v0.85h-6.4zM206.4 466.14h12.6v0.85h-12.6zM213.3 468.62h3.1v0.85h-3.1zM218.9 472.34h0.7v0.85h-0.7zM211.2 475.44h10.5v0.85h-10.5zM206.5 477.92h15.0v0.85h-15.0zM204.7 479.78h15.0v0.85h-15.0zM221.3 461.18h14.3v0.85h-14.3zM228.5 463.66h3.0v0.85h-3.0zM217.8 471.72h14.3v0.85h-14.3zM221.6 475.44h14.3v0.85h-14.3zM233.9 478.54h0.7v0.85h-0.7zM253.2 460.56h5.4v0.85h-5.4zM238.4 461.80h13.0v0.85h-13.0zM243.3 461.80h0.7v0.85h-0.7zM244.5 461.80h4.7v0.85h-4.7zM232.6 465.52h21.9v0.85h-21.9zM230.7 469.24h18.9v0.85h-18.9zM246.9 473.58h7.0v0.85h-7.0zM249.4 475.44h3.2v0.85h-3.2zM244.6 476.68h8.5v0.85h-8.5zM238.7 477.30h0.9v0.85h-0.9zM232.9 478.54h16.6v0.85h-16.6zM258.0 458.70h1.6v0.85h-1.6zM265.6 466.76h6.1v0.85h-6.1zM261.9 470.48h1.6v0.85h-1.6zM256.6 472.96h5.9v0.85h-5.9zM266.2 480.40h1.8v0.85h-1.8zM289.9 476.06h6.3v0.85h-6.3zM289.8 476.06h0.7v0.85h-0.7zM287.6 477.30h9.8v0.85h-9.8zM295.1 475.44h13.1v0.85h-13.1zM299.1 479.16h1.6v0.85h-1.6zM319.7 460.56h3.6v0.85h-3.6zM308.8 468.00h14.6v0.85h-14.6zM332.5 461.80h7.2v0.85h-7.2zM330.0 466.76h9.9v0.85h-9.9zM324.0 467.38h4.5v0.85h-4.5zM340.2 477.30h3.0v0.85h-3.0zM333.5 478.54h2.6v0.85h-2.6zM343.1 461.18h5.1v0.85h-5.1zM354.2 458.70h4.5v0.85h-4.5zM358.4 470.48h15.6v0.85h-15.6zM373.7 477.30h9.9v0.85h-9.9zM384.5 460.56h4.3v0.85h-4.3zM384.4 464.28h4.3v0.85h-4.3zM391.6 464.90h1.8v0.85h-1.8zM385.3 469.24h8.8v0.85h-8.8zM72.7 494.64h2.5v0.85h-2.5zM58.8 498.36h3.1v0.85h-3.1zM59.3 498.98h4.1v0.85h-4.1zM49.5 499.60h5.6v0.85h-5.6zM84.9 520.06h0.7v0.85h-0.7zM93.4 539.90h1.4v0.85h-1.4zM105.3 546.10h1.8v0.85h-1.8zM114.1 506.42h0.7v0.85h-0.7zM110.0 515.72h1.8v0.85h-1.8zM120.2 525.02h4.4v0.85h-4.4zM108.3 525.02h3.9v0.85h-3.9zM134.1 522.54h0.7v0.85h-0.7zM128.5 528.74h0.9v0.85h-0.9zM132.5 551.06h0.7v0.85h-0.7zM151.4 482.24h0.7v0.85h-0.7zM143.0 507.66h1.2v0.85h-1.2zM147.2 516.96h11.8v0.85h-11.8zM154.9 530.60h2.1v0.85h-2.1zM140.9 560.36h9.2v0.85h-9.2zM184.9 516.34h2.3v0.85h-2.3zM184.3 522.54h1.5v0.85h-1.5zM176.5 523.78h6.2v0.85h-6.2zM182.1 525.64h0.7v0.85h-0.7zM187.3 547.96h0.7v0.85h-0.7zM203.2 505.80h0.7v0.85h-0.7zM201.0 507.66h0.7v0.85h-0.7zM199.1 528.74h6.5v0.85h-6.5zM200.1 554.78h3.9v0.85h-3.9zM211.3 505.80h0.8v0.85h-0.8zM225.0 500.84h0.7v0.85h-0.7zM226.2 507.66h2.7v0.85h-2.7zM243.0 483.48h2.5v0.85h-2.5zM235.7 497.12h1.0v0.85h-1.0zM274.6 494.02h2.3v0.85h-2.3zM269.0 495.88h0.9v0.85h-0.9zM270.0 512.62h0.8v0.85h-0.8zM263.2 517.58h0.7v0.85h-0.7zM273.7 519.44h0.7v0.85h-0.7zM277.0 524.40h1.7v0.85h-1.7zM288.5 490.30h0.7v0.85h-0.7zM287.5 505.80h3.3v0.85h-3.3zM296.2 486.58h0.7v0.85h-0.7zM316.6 507.04h5.7v0.85h-5.7zM307.8 528.74h1.9v0.85h-1.9zM332.5 502.70h0.7v0.85h-0.7zM331.3 507.04h5.5v0.85h-5.5zM338.0 508.28h3.1v0.85h-3.1zM368.2 485.96h0.7v0.85h-0.7zM387.6 489.06h0.7v0.85h-0.7zM387.6 526.26h0.7v0.85h-0.7z"/>
<path fill="#bcbcfa" d="M64.4 284.78h6.1v0.85h-6.1zM110.7 282.30h7.3v0.85h-7.3zM152.0 284.16h4.3v0.85h-4.3zM150.0 286.02h2.9v0.85h-2.9zM150.4 286.64h2.4v0.85h-2.4zM155.5 287.26h1.0v0.85h-1.0zM142.5 287.26h15.2v0.85h-15.2zM169.1 282.30h2.3v0.85h-2.3zM193.4 283.54h4.7v0.85h-4.7zM220.8 287.26h0.7v0.85h-0.7zM219.9 288.50h1.9v0.85h-1.9zM233.8 284.16h0.7v0.85h-0.7zM259.3 286.64h3.0v0.85h-3.0zM277.1 282.92h6.1v0.85h-6.1zM277.7 282.92h6.1v0.85h-6.1zM288.5 282.30h1.3v0.85h-1.3zM283.6 287.88h2.3v0.85h-2.3zM315.3 287.26h4.8v0.85h-4.8zM313.4 287.88h7.3v0.85h-7.3zM320.8 288.50h1.2v0.85h-1.2zM370.5 287.88h2.1v0.85h-2.1zM374.3 283.54h3.0v0.85h-3.0zM392.2 282.92h0.7v0.85h-0.7zM51.9 295.00h1.2v0.85h-1.2zM66.0 302.44h1.6v0.85h-1.6zM105.4 297.48h2.6v0.85h-2.6zM99.3 303.06h3.8v0.85h-3.8zM96.7 307.40h0.9v0.85h-0.9zM124.4 290.66h4.0v0.85h-4.0zM107.8 299.96h20.0v0.85h-20.0zM130.9 289.42h4.2v0.85h-4.2zM128.8 299.96h4.0v0.85h-4.0zM154.5 288.80h1.7v0.85h-1.7zM139.9 290.04h9.3v0.85h-9.3zM148.6 295.62h2.4v0.85h-2.4zM144.9 296.24h3.5v0.85h-3.5zM142.3 300.58h3.2v0.85h-3.2zM155.0 301.82h1.7v0.85h-1.7zM149.5 306.78h6.7v0.85h-6.7zM159.2 296.86h0.7v0.85h-0.7zM164.3 300.58h1.3v0.85h-1.3zM169.9 288.80h0.7v0.85h-0.7zM169.1 294.38h2.9v0.85h-2.9zM169.9 296.24h3.0v0.85h-3.0zM169.6 300.58h0.7v0.85h-0.7zM171.3 295.00h3.3v0.85h-3.3zM175.4 298.72h0.7v0.85h-0.7zM193.4 293.14h4.7v0.85h-4.7zM193.4 295.00h4.7v0.85h-4.7zM193.4 299.34h4.7v0.85h-4.7zM207.9 288.80h3.7v0.85h-3.7zM224.1 292.52h1.5v0.85h-1.5zM229.6 300.58h3.6v0.85h-3.6zM228.7 303.06h4.7v0.85h-4.7zM233.0 304.30h1.5v0.85h-1.5zM242.0 289.42h7.0v0.85h-7.0zM273.6 302.44h2.0v0.85h-2.0zM265.0 307.40h4.2v0.85h-4.2zM278.4 303.06h5.1v0.85h-5.1zM282.1 306.16h4.1v0.85h-4.1zM307.8 301.82h2.9v0.85h-2.9zM321.0 303.06h0.7v0.85h-0.7zM319.4 304.30h3.6v0.85h-3.6zM321.6 306.78h0.7v0.85h-0.7zM342.1 288.80h0.7v0.85h-0.7zM323.4 290.04h0.7v0.85h-0.7zM335.1 290.66h2.3v0.85h-2.3zM338.2 297.48h1.9v0.85h-1.9zM334.9 298.10h0.7v0.85h-0.7zM339.4 304.92h1.8v0.85h-1.8zM333.9 306.16h0.7v0.85h-0.7zM324.5 306.16h1.9v0.85h-1.9zM342.6 290.04h5.1v0.85h-5.1zM352.1 289.42h0.7v0.85h-0.7zM350.9 298.10h1.3v0.85h-1.3zM359.1 300.58h3.3v0.85h-3.3zM353.2 302.44h5.1v0.85h-5.1zM386.7 301.20h1.4v0.85h-1.4zM386.6 290.04h3.9v0.85h-3.9zM392.2 295.00h0.7v0.85h-0.7zM389.6 299.96h0.8v0.85h-0.8zM67.5 310.70h5.8v0.85h-5.8zM67.4 313.80h2.9v0.85h-2.9zM96.5 316.28h1.3v0.85h-1.3zM118.1 315.04h8.3v0.85h-8.3zM140.5 310.70h0.7v0.85h-0.7zM144.6 308.22h4.3v0.85h-4.3zM155.8 310.08h2.2v0.85h-2.2zM152.1 310.08h4.9v0.85h-4.9zM146.2 311.32h1.3v0.85h-1.3zM160.9 311.32h5.7v0.85h-5.7zM162.3 311.32h0.7v0.85h-0.7zM164.8 315.66h2.6v0.85h-2.6zM174.6 307.60h1.3v0.85h-1.3zM188.5 307.60h0.7v0.85h-0.7zM188.6 308.84h0.7v0.85h-0.7zM193.4 315.04h4.7v0.85h-4.7zM210.6 310.08h0.7v0.85h-0.7zM225.9 311.94h6.4v0.85h-6.4zM231.7 315.04h5.7v0.85h-5.7zM224.0 316.28h14.3v0.85h-14.3zM246.7 308.84h0.7v0.85h-0.7zM246.2 310.70h0.8v0.85h-0.8zM245.5 311.94h0.7v0.85h-0.7zM261.3 311.94h0.9v0.85h-0.9zM277.7 308.84h6.1v0.85h-6.1zM280.0 313.18h2.7v0.85h-2.7zM292.7 309.46h0.7v0.85h-0.7zM319.3 310.70h0.7v0.85h-0.7zM318.3 311.32h5.3v0.85h-5.3zM316.1 311.94h4.9v0.85h-4.9zM322.6 307.60h3.2v0.85h-3.2zM326.7 307.60h1.1v0.85h-1.1zM333.3 312.56h0.7v0.85h-0.7zM333.2 314.42h2.0v0.85h-2.0zM336.1 315.04h8.4v0.85h-8.4zM332.7 316.28h7.7v0.85h-7.7zM345.1 309.46h1.4v0.85h-1.4zM358.0 313.18h5.8v0.85h-5.8zM358.6 315.66h1.6v0.85h-1.6zM395.0 311.94h0.7v0.85h-0.7zM393.6 316.28h1.5v0.85h-1.5zM49.6 316.90h0.8v0.85h-0.8zM75.4 317.52h0.7v0.85h-0.7zM58.1 320.00h0.7v0.85h-0.7zM51.2 322.48h1.5v0.85h-1.5zM54.0 328.06h0.7v0.85h-0.7zM75.0 329.92h0.7v0.85h-0.7zM73.7 330.54h3.0v0.85h-3.0zM58.0 337.36h1.7v0.85h-1.7zM60.6 340.46h2.1v0.85h-2.1zM81.8 342.32h0.7v0.85h-0.7zM75.9 344.80h0.7v0.85h-0.7zM65.4 345.42h0.7v0.85h-0.7zM74.2 350.38h1.6v0.85h-1.6zM90.5 317.52h2.8v0.85h-2.8zM86.7 330.54h0.7v0.85h-0.7zM89.1 334.26h1.0v0.85h-1.0zM90.9 336.12h2.0v0.85h-2.0zM94.5 336.12h3.2v0.85h-3.2zM103.8 341.08h5.3v0.85h-5.3zM90.5 342.94h0.7v0.85h-0.7zM104.3 351.00h0.7v0.85h-0.7zM91.8 351.00h0.7v0.85h-0.7zM112.5 317.52h0.7v0.85h-0.7zM126.9 320.00h1.7v0.85h-1.7zM120.0 321.24h0.7v0.85h-0.7zM114.3 323.72h1.1v0.85h-1.1zM124.1 323.72h0.7v0.85h-0.7zM122.6 324.96h1.8v0.85h-1.8zM124.7 329.30h0.8v0.85h-0.8zM109.5 347.28h0.8v0.85h-0.8zM114.5 348.52h0.7v0.85h-0.7zM112.0 349.76h2.7v0.85h-2.7zM128.1 317.52h1.7v0.85h-1.7zM140.5 317.52h1.5v0.85h-1.5zM137.9 320.00h0.7v0.85h-0.7zM135.2 324.96h1.1v0.85h-1.1zM135.9 326.82h0.7v0.85h-0.7zM134.1 328.06h3.5v0.85h-3.5zM128.3 336.12h0.7v0.85h-0.7zM135.6 336.12h3.5v0.85h-3.5zM136.8 337.98h2.1v0.85h-2.1zM134.9 339.22h0.9v0.85h-0.9zM141.1 345.42h0.7v0.85h-0.7zM140.9 345.42h0.7v0.85h-0.7zM147.8 331.16h1.8v0.85h-1.8zM144.8 333.02h0.7v0.85h-0.7zM142.3 337.36h5.6v0.85h-5.6zM143.0 337.36h5.2v0.85h-5.2zM153.6 337.98h1.3v0.85h-1.3zM142.0 347.28h2.9v0.85h-2.9zM164.6 316.90h1.6v0.85h-1.6zM158.2 333.64h0.7v0.85h-0.7zM158.1 334.88h1.4v0.85h-1.4zM159.6 334.88h2.2v0.85h-2.2zM160.7 341.70h2.6v0.85h-2.6zM163.5 344.80h0.7v0.85h-0.7zM167.4 348.52h0.7v0.85h-0.7zM165.3 351.00h3.3v0.85h-3.3zM170.2 326.20h0.7v0.85h-0.7zM169.8 333.02h0.7v0.85h-0.7zM170.7 333.02h1.4v0.85h-1.4zM170.0 348.52h1.7v0.85h-1.7zM173.9 329.92h1.3v0.85h-1.3zM171.8 344.18h0.7v0.85h-0.7zM185.4 316.90h0.9v0.85h-0.9zM191.5 316.90h0.8v0.85h-0.8zM181.9 320.00h0.7v0.85h-0.7zM176.2 329.30h1.1v0.85h-1.1zM179.2 334.88h2.3v0.85h-2.3zM176.4 335.50h1.3v0.85h-1.3zM189.4 338.60h0.7v0.85h-0.7zM178.4 344.80h1.0v0.85h-1.0zM188.1 345.42h2.3v0.85h-2.3zM193.4 316.90h4.7v0.85h-4.7zM193.4 318.14h4.7v0.85h-4.7zM193.4 328.68h4.7v0.85h-4.7zM193.4 329.92h4.7v0.85h-4.7zM193.4 333.02h4.7v0.85h-4.7zM193.4 344.80h4.7v0.85h-4.7zM193.4 350.38h4.7v0.85h-4.7zM202.8 325.58h1.0v0.85h-1.0zM204.0 348.52h0.7v0.85h-0.7zM211.8 317.52h0.7v0.85h-0.7zM211.4 324.34h0.7v0.85h-0.7zM210.1 326.20h1.1v0.85h-1.1zM213.0 333.02h1.0v0.85h-1.0zM210.1 339.84h0.7v0.85h-0.7zM214.6 347.28h0.7v0.85h-0.7zM217.6 347.90h1.1v0.85h-1.1zM227.4 324.34h2.8v0.85h-2.8zM224.2 324.96h0.7v0.85h-0.7zM224.4 337.98h4.8v0.85h-4.8zM222.3 347.90h0.7v0.85h-0.7zM256.2 318.76h2.1v0.85h-2.1zM247.8 320.00h2.4v0.85h-2.4zM239.0 321.24h1.5v0.85h-1.5zM238.3 321.24h0.7v0.85h-0.7zM237.0 324.96h1.0v0.85h-1.0zM248.2 326.20h0.7v0.85h-0.7zM237.8 327.44h2.4v0.85h-2.4zM250.4 328.06h0.9v0.85h-0.9zM238.4 331.16h0.8v0.85h-0.8zM254.0 331.16h0.7v0.85h-0.7zM247.2 339.84h0.7v0.85h-0.7zM251.1 340.46h3.8v0.85h-3.8zM240.1 341.70h0.8v0.85h-0.8zM248.6 344.80h1.2v0.85h-1.2zM248.4 348.52h2.7v0.85h-2.7zM240.4 349.14h2.9v0.85h-2.9zM259.2 318.14h4.3v0.85h-4.3zM259.5 335.50h0.8v0.85h-0.8zM268.8 341.08h1.2v0.85h-1.2zM265.7 343.56h1.5v0.85h-1.5zM279.4 317.52h1.0v0.85h-1.0zM276.7 320.00h4.4v0.85h-4.4zM276.5 323.10h1.7v0.85h-1.7zM278.0 328.68h2.8v0.85h-2.8zM278.5 329.92h2.4v0.85h-2.4zM281.5 332.40h1.2v0.85h-1.2zM276.6 346.66h3.9v0.85h-3.9zM276.6 347.28h4.0v0.85h-4.0zM279.8 351.00h3.2v0.85h-3.2zM292.9 318.76h0.7v0.85h-0.7zM284.2 336.12h1.7v0.85h-1.7zM293.0 351.00h0.7v0.85h-0.7zM301.3 334.26h2.3v0.85h-2.3zM304.6 335.50h1.3v0.85h-1.3zM303.8 342.32h0.9v0.85h-0.9zM300.8 342.94h0.7v0.85h-0.7zM302.1 349.14h1.2v0.85h-1.2zM311.7 326.20h6.7v0.85h-6.7zM307.6 328.68h0.8v0.85h-0.8zM318.1 324.96h5.8v0.85h-5.8zM317.9 328.68h5.8v0.85h-5.8zM321.8 348.52h0.7v0.85h-0.7zM325.0 320.00h0.7v0.85h-0.7zM322.6 330.54h6.0v0.85h-6.0zM325.5 338.60h0.7v0.85h-0.7zM327.6 348.52h0.7v0.85h-0.7zM330.3 328.68h0.7v0.85h-0.7zM340.7 329.92h0.7v0.85h-0.7zM336.3 333.02h0.7v0.85h-0.7zM330.4 334.88h1.7v0.85h-1.7zM339.7 334.88h0.8v0.85h-0.8zM336.4 337.36h0.7v0.85h-0.7zM336.0 337.98h4.3v0.85h-4.3zM341.7 341.70h0.7v0.85h-0.7zM329.6 344.18h1.1v0.85h-1.1zM342.8 344.80h2.6v0.85h-2.6zM353.8 317.52h6.1v0.85h-6.1zM366.4 320.00h5.6v0.85h-5.6zM359.0 320.62h0.7v0.85h-0.7zM358.7 321.86h0.7v0.85h-0.7zM354.0 323.10h0.7v0.85h-0.7zM362.4 333.02h0.7v0.85h-0.7zM352.1 335.50h2.2v0.85h-2.2zM352.6 336.12h0.7v0.85h-0.7zM355.0 336.12h0.7v0.85h-0.7zM364.1 348.52h0.7v0.85h-0.7zM359.6 349.14h4.9v0.85h-4.9zM378.2 321.24h1.0v0.85h-1.0zM377.0 327.44h4.6v0.85h-4.6zM382.3 329.92h0.8v0.85h-0.8zM374.8 349.14h0.9v0.85h-0.9zM385.0 349.14h2.1v0.85h-2.1zM387.0 319.38h6.7v0.85h-6.7zM388.2 320.62h0.7v0.85h-0.7zM391.0 331.78h1.3v0.85h-1.3zM395.8 334.26h0.7v0.85h-0.7zM389.1 338.60h0.7v0.85h-0.7zM388.2 341.08h1.3v0.85h-1.3zM389.2 341.70h0.7v0.85h-0.7zM392.3 342.32h0.7v0.85h-0.7zM390.9 351.00h2.9v0.85h-2.9zM54.2 354.60h1.6v0.85h-1.6zM78.3 355.22h0.7v0.85h-0.7zM81.4 355.84h0.7v0.85h-0.7zM58.6 357.08h4.3v0.85h-4.3zM50.5 358.94h0.7v0.85h-0.7zM65.9 359.56h2.0v0.85h-2.0zM51.0 361.42h1.8v0.85h-1.8zM79.6 365.76h1.1v0.85h-1.1zM52.7 367.62h0.7v0.85h-0.7zM61.5 367.62h1.3v0.85h-1.3zM60.7 371.96h0.7v0.85h-0.7zM55.2 376.30h1.0v0.85h-1.0zM65.1 376.30h0.9v0.85h-0.9zM82.7 377.54h0.7v0.85h-0.7zM56.8 377.54h1.4v0.85h-1.4zM80.4 378.16h2.1v0.85h-2.1zM60.8 379.40h5.1v0.85h-5.1zM66.2 380.02h2.3v0.85h-2.3zM54.0 385.60h1.5v0.85h-1.5zM77.7 386.22h1.6v0.85h-1.6zM50.4 388.08h0.7v0.85h-0.7zM53.4 389.32h0.7v0.85h-0.7zM58.9 396.14h0.7v0.85h-0.7zM63.3 396.76h1.5v0.85h-1.5zM62.2 397.38h1.5v0.85h-1.5zM78.7 399.86h4.5v0.85h-4.5zM53.6 400.48h0.7v0.85h-0.7zM70.3 401.10h1.0v0.85h-1.0zM69.8 405.44h0.7v0.85h-0.7zM67.3 406.68h1.4v0.85h-1.4zM66.7 408.54h1.2v0.85h-1.2zM70.8 411.02h1.6v0.85h-1.6zM99.4 353.36h0.7v0.85h-0.7zM91.8 358.32h0.7v0.85h-0.7zM98.9 361.42h0.9v0.85h-0.9zM85.7 362.66h1.4v0.85h-1.4zM86.6 365.14h0.7v0.85h-0.7zM105.5 366.38h0.7v0.85h-0.7zM105.1 366.38h0.7v0.85h-0.7zM99.6 371.96h1.0v0.85h-1.0zM85.3 376.30h3.6v0.85h-3.6zM94.1 378.16h0.7v0.85h-0.7zM100.8 386.84h1.0v0.85h-1.0zM85.0 387.46h2.1v0.85h-2.1zM85.6 393.04h1.6v0.85h-1.6zM95.2 397.38h0.7v0.85h-0.7zM100.7 398.00h1.2v0.85h-1.2zM112.7 351.50h0.8v0.85h-0.8zM110.9 351.50h2.0v0.85h-2.0zM121.2 352.74h1.3v0.85h-1.3zM108.2 381.88h6.5v0.85h-6.5zM108.0 381.88h2.6v0.85h-2.6zM126.6 387.46h1.5v0.85h-1.5zM108.2 388.08h3.9v0.85h-3.9zM111.6 388.08h1.7v0.85h-1.7zM110.4 392.42h2.4v0.85h-2.4zM124.6 397.38h1.4v0.85h-1.4zM109.6 398.62h2.1v0.85h-2.1zM112.4 400.48h0.7v0.85h-0.7zM119.5 412.26h0.7v0.85h-0.7zM153.9 352.74h0.7v0.85h-0.7zM142.2 380.02h0.7v0.85h-0.7zM149.7 382.50h1.6v0.85h-1.6zM154.2 385.60h0.8v0.85h-0.8zM151.7 387.46h2.7v0.85h-2.7zM142.4 388.70h6.4v0.85h-6.4zM149.2 397.38h7.7v0.85h-7.7zM148.3 405.44h2.8v0.85h-2.8zM153.6 409.16h0.7v0.85h-0.7zM142.3 410.40h0.7v0.85h-0.7zM162.5 355.84h0.9v0.85h-0.9zM162.9 367.00h1.1v0.85h-1.1zM167.9 370.10h0.7v0.85h-0.7zM165.0 380.64h1.4v0.85h-1.4zM170.0 361.42h0.7v0.85h-0.7zM168.5 377.54h3.0v0.85h-3.0zM169.6 384.98h0.8v0.85h-0.8zM170.6 386.84h1.9v0.85h-1.9zM169.5 404.20h2.1v0.85h-2.1zM178.4 361.42h3.1v0.85h-3.1zM180.0 365.14h0.7v0.85h-0.7zM176.5 372.58h5.3v0.85h-5.3zM179.7 372.58h6.7v0.85h-6.7zM187.5 386.84h1.7v0.85h-1.7zM176.5 396.76h3.4v0.85h-3.4zM188.9 399.86h0.7v0.85h-0.7zM178.9 408.54h0.7v0.85h-0.7zM202.8 357.08h4.1v0.85h-4.1zM204.1 357.70h1.9v0.85h-1.9zM211.9 363.28h1.6v0.85h-1.6zM211.6 363.90h1.4v0.85h-1.4zM215.4 379.40h1.8v0.85h-1.8zM206.7 379.40h2.4v0.85h-2.4zM220.8 387.46h0.7v0.85h-0.7zM218.7 407.30h0.7v0.85h-0.7zM209.7 409.16h8.2v0.85h-8.2zM213.3 412.88h0.7v0.85h-0.7zM225.8 361.42h5.3v0.85h-5.3zM226.2 369.48h8.6v0.85h-8.6zM228.6 370.72h0.7v0.85h-0.7zM231.6 383.12h4.4v0.85h-4.4zM232.0 385.60h3.8v0.85h-3.8zM227.7 386.84h0.7v0.85h-0.7zM225.9 412.26h1.8v0.85h-1.8zM235.6 352.12h1.3v0.85h-1.3zM244.1 354.60h0.7v0.85h-0.7zM255.4 358.32h1.0v0.85h-1.0zM251.3 362.66h1.2v0.85h-1.2zM245.0 363.90h0.7v0.85h-0.7zM242.0 365.14h0.7v0.85h-0.7zM241.1 371.96h2.9v0.85h-2.9zM240.4 382.50h1.3v0.85h-1.3zM255.5 386.22h0.7v0.85h-0.7zM248.9 393.66h2.1v0.85h-2.1zM242.4 407.30h1.7v0.85h-1.7zM251.2 407.92h0.7v0.85h-0.7zM264.9 355.84h0.7v0.85h-0.7zM264.4 364.52h1.8v0.85h-1.8zM261.3 366.38h0.7v0.85h-0.7zM260.5 369.48h0.7v0.85h-0.7zM259.9 370.10h2.2v0.85h-2.2zM270.3 388.08h0.7v0.85h-0.7zM259.4 391.80h0.8v0.85h-0.8zM266.4 393.04h3.1v0.85h-3.1zM266.5 393.04h0.7v0.85h-0.7zM260.9 394.28h0.7v0.85h-0.7zM259.6 398.62h4.6v0.85h-4.6zM273.7 401.10h1.2v0.85h-1.2zM271.9 412.26h1.9v0.85h-1.9zM258.6 412.26h1.0v0.85h-1.0zM281.1 354.60h0.7v0.85h-0.7zM281.1 355.22h1.3v0.85h-1.3zM279.8 357.70h3.2v0.85h-3.2zM276.1 371.96h4.9v0.85h-4.9zM277.1 371.96h4.3v0.85h-4.3zM278.3 373.82h1.7v0.85h-1.7zM280.0 375.68h2.7v0.85h-2.7zM275.9 407.92h6.1v0.85h-6.1zM290.7 360.80h1.2v0.85h-1.2zM289.5 362.66h2.0v0.85h-2.0zM292.2 364.52h0.7v0.85h-0.7zM293.8 371.96h0.7v0.85h-0.7zM293.8 390.56h0.7v0.85h-0.7zM288.4 390.56h5.0v0.85h-5.0zM283.5 391.80h0.7v0.85h-0.7zM291.8 407.30h0.7v0.85h-0.7zM295.3 353.98h6.2v0.85h-6.2zM302.6 373.82h0.7v0.85h-0.7zM306.2 382.50h0.7v0.85h-0.7zM296.9 382.50h1.4v0.85h-1.4zM300.4 392.42h2.3v0.85h-2.3zM305.8 398.00h2.2v0.85h-2.2zM303.6 410.40h0.7v0.85h-0.7zM305.7 411.64h1.2v0.85h-1.2zM309.1 357.70h0.7v0.85h-0.7zM312.5 365.14h2.3v0.85h-2.3zM312.1 380.64h0.7v0.85h-0.7zM310.2 388.70h1.9v0.85h-1.9zM317.9 361.42h5.8v0.85h-5.8zM319.1 380.02h2.9v0.85h-2.9zM316.5 381.88h5.0v0.85h-5.0zM315.5 382.50h4.9v0.85h-4.9zM317.4 383.12h4.8v0.85h-4.8zM316.8 391.18h0.7v0.85h-0.7zM322.0 351.50h4.0v0.85h-4.0zM323.7 353.98h2.6v0.85h-2.6zM324.5 358.32h1.2v0.85h-1.2zM324.7 388.08h1.9v0.85h-1.9zM324.2 406.68h4.7v0.85h-4.7zM339.4 353.36h2.8v0.85h-2.8zM333.1 371.96h0.8v0.85h-0.8zM330.2 372.58h1.0v0.85h-1.0zM331.6 373.20h0.7v0.85h-0.7zM331.6 379.40h0.7v0.85h-0.7zM332.5 384.36h2.0v0.85h-2.0zM336.6 388.70h2.7v0.85h-2.7zM338.4 391.80h1.6v0.85h-1.6zM346.8 358.94h0.7v0.85h-0.7zM344.2 370.10h5.1v0.85h-5.1zM344.0 371.34h2.6v0.85h-2.6zM364.3 357.08h2.8v0.85h-2.8zM352.0 363.90h0.7v0.85h-0.7zM368.3 365.76h3.6v0.85h-3.6zM373.0 370.72h0.7v0.85h-0.7zM349.1 371.34h0.7v0.85h-0.7zM348.5 371.34h0.7v0.85h-0.7zM355.9 371.96h1.0v0.85h-1.0zM365.8 376.30h1.0v0.85h-1.0zM367.9 381.88h2.8v0.85h-2.8zM349.4 381.88h3.6v0.85h-3.6zM364.6 389.94h0.7v0.85h-0.7zM350.6 389.94h1.2v0.85h-1.2zM356.7 393.66h1.0v0.85h-1.0zM371.8 393.66h1.1v0.85h-1.1zM351.3 397.38h0.7v0.85h-0.7zM348.3 398.62h0.7v0.85h-0.7zM352.1 398.62h4.0v0.85h-4.0zM349.9 399.24h0.7v0.85h-0.7zM372.3 404.20h0.7v0.85h-0.7zM375.5 352.74h2.5v0.85h-2.5zM380.8 374.44h1.4v0.85h-1.4zM379.1 378.78h2.7v0.85h-2.7zM379.7 380.64h3.5v0.85h-3.5zM375.4 381.26h1.3v0.85h-1.3zM378.2 389.32h0.7v0.85h-0.7zM384.4 365.76h0.7v0.85h-0.7zM386.8 378.16h0.7v0.85h-0.7zM383.4 398.62h0.7v0.85h-0.7zM384.0 404.20h0.8v0.85h-0.8zM383.1 412.88h0.9v0.85h-0.9zM390.5 352.12h2.8v0.85h-2.8zM388.0 352.12h2.7v0.85h-2.7zM391.7 373.82h0.9v0.85h-0.9zM392.8 375.68h0.7v0.85h-0.7zM392.3 378.78h2.3v0.85h-2.3zM394.5 391.18h1.6v0.85h-1.6zM393.4 391.80h0.7v0.85h-0.7zM391.9 393.04h2.5v0.85h-2.5zM389.4 409.78h1.0v0.85h-1.0zM49.5 288.00h200.5v0.60h-200.5zM49.5 298.80h20.5v0.80h-20.5zM221.5 361.20h73.1v0.80h-73.1zM57.4 437.76h6.0v0.85h-6.0zM80.7 437.76h19.4v0.85h-19.4zM325.2 434.04h4.9v0.85h-4.9zM371.6 435.28h9.9v0.85h-9.9zM59.4 438.50h36.0v0.85h-36.0zM49.5 438.50h33.2v0.85h-33.2zM51.2 439.12h0.7v0.85h-0.7zM49.5 439.74h15.9v0.85h-15.9zM80.2 441.60h1.5v0.85h-1.5zM49.5 442.22h32.6v0.85h-32.6zM60.1 444.08h12.0v0.85h-12.0zM95.4 439.74h7.7v0.85h-7.7zM96.5 440.98h15.5v0.85h-15.5zM97.2 444.08h3.0v0.85h-3.0zM110.6 439.74h0.7v0.85h-0.7zM132.4 442.22h11.6v0.85h-11.6zM128.5 442.84h3.9v0.85h-3.9zM132.1 442.84h6.7v0.85h-6.7zM128.2 444.08h13.3v0.85h-13.3zM145.1 440.36h15.9v0.85h-15.9zM151.6 441.60h7.4v0.85h-7.4zM143.8 441.60h2.6v0.85h-2.6zM140.1 444.08h15.9v0.85h-15.9zM152.4 440.98h18.8v0.85h-18.8zM175.4 440.36h16.9v0.85h-16.9zM183.0 441.60h6.9v0.85h-6.9zM181.4 442.84h16.9v0.85h-16.9zM202.8 440.98h15.0v0.85h-15.0zM234.4 440.36h0.7v0.85h-0.7zM229.8 440.36h7.3v0.85h-7.3zM222.6 440.98h0.7v0.85h-0.7zM225.7 442.84h4.0v0.85h-4.0zM243.9 439.12h18.6v0.85h-18.6zM233.6 439.74h21.9v0.85h-21.9zM236.4 440.36h17.0v0.85h-17.0zM242.0 441.60h4.2v0.85h-4.2zM234.6 443.46h21.9v0.85h-21.9zM248.0 444.08h2.5v0.85h-2.5zM263.7 440.36h16.4v0.85h-16.4zM270.3 441.60h4.5v0.85h-4.5zM257.2 442.22h7.9v0.85h-7.9zM264.4 442.84h17.0v0.85h-17.0zM277.9 441.60h6.1v0.85h-6.1zM275.3 443.46h6.1v0.85h-6.1zM280.2 443.46h3.4v0.85h-3.4zM288.2 443.46h5.6v0.85h-5.6zM304.6 438.50h1.8v0.85h-1.8zM313.7 440.36h9.3v0.85h-9.3zM317.8 441.60h5.4v0.85h-5.4zM311.0 442.84h2.7v0.85h-2.7zM310.0 444.70h14.6v0.85h-14.6zM335.2 438.50h2.6v0.85h-2.6zM340.8 440.36h2.9v0.85h-2.9zM324.7 442.84h4.1v0.85h-4.1zM322.9 442.84h5.6v0.85h-5.6zM343.3 438.50h3.3v0.85h-3.3zM348.5 443.46h25.0v0.85h-25.0zM372.4 438.50h9.9v0.85h-9.9zM374.0 439.12h4.2v0.85h-4.2zM383.0 440.36h4.3v0.85h-4.3zM389.3 439.74h7.2v0.85h-7.2zM385.1 442.22h8.8v0.85h-8.8zM393.1 442.84h2.8v0.85h-2.8zM391.5 444.70h4.8v0.85h-4.8zM89.1 447.78h8.5v0.85h-8.5zM235.0 445.30h14.3v0.85h-14.3zM265.8 447.16h6.5v0.85h-6.5zM54.5 454.16h0.7v0.85h-0.7zM97.1 454.16h1.8v0.85h-1.8zM115.5 452.30h12.8v0.85h-12.8zM131.6 453.54h8.3v0.85h-8.3zM195.2 454.16h1.9v0.85h-1.9zM222.2 457.88h10.9v0.85h-10.9zM315.7 454.78h0.8v0.85h-0.8zM324.7 455.40h4.3v0.85h-4.3zM369.5 457.88h0.7v0.85h-0.7zM49.5 477.92h7.0v0.85h-7.0zM87.6 460.56h8.0v0.85h-8.0zM101.1 462.42h0.7v0.85h-0.7zM191.4 463.66h1.4v0.85h-1.4zM192.3 459.32h5.2v0.85h-5.2zM196.9 462.42h0.7v0.85h-0.7zM194.5 463.66h2.0v0.85h-2.0zM195.7 470.48h3.3v0.85h-3.3zM199.3 477.92h4.4v0.85h-4.4zM238.8 469.86h6.4v0.85h-6.4zM268.1 467.38h1.0v0.85h-1.0zM255.5 469.24h10.6v0.85h-10.6zM271.9 471.72h3.9v0.85h-3.9zM258.0 480.40h0.7v0.85h-0.7zM277.1 460.56h0.7v0.85h-0.7zM280.4 463.04h0.8v0.85h-0.8zM283.9 460.56h12.0v0.85h-12.0zM313.3 471.10h4.0v0.85h-4.0zM337.7 468.00h2.1v0.85h-2.1zM336.8 476.68h0.9v0.85h-0.9zM333.4 479.78h9.0v0.85h-9.0zM342.4 476.68h5.1v0.85h-5.1zM391.6 464.28h3.6v0.85h-3.6zM78.0 482.24h3.0v0.85h-3.0zM55.5 484.10h2.4v0.85h-2.4zM64.2 484.72h3.7v0.85h-3.7zM83.0 489.68h0.7v0.85h-0.7zM54.4 496.50h0.7v0.85h-0.7zM80.3 503.32h2.6v0.85h-2.6zM60.1 523.78h1.5v0.85h-1.5zM59.4 531.84h0.7v0.85h-0.7zM50.3 538.04h3.7v0.85h-3.7zM72.6 557.88h3.2v0.85h-3.2zM102.0 494.02h3.4v0.85h-3.4zM86.4 509.52h0.8v0.85h-0.8zM87.2 509.52h3.3v0.85h-3.3zM102.1 551.06h3.6v0.85h-3.6zM85.4 554.16h0.8v0.85h-0.8zM88.0 558.50h8.5v0.85h-8.5zM108.6 490.30h2.8v0.85h-2.8zM116.0 501.46h3.7v0.85h-3.7zM115.4 512.00h4.3v0.85h-4.3zM121.4 555.40h1.0v0.85h-1.0zM111.8 564.08h1.3v0.85h-1.3zM137.5 548.58h0.7v0.85h-0.7zM154.1 519.44h1.3v0.85h-1.3zM149.4 525.64h1.2v0.85h-1.2zM141.8 530.60h0.7v0.85h-0.7zM152.8 534.94h0.7v0.85h-0.7zM152.0 549.20h1.4v0.85h-1.4zM162.1 482.86h2.0v0.85h-2.0zM163.4 500.22h3.9v0.85h-3.9zM162.7 505.18h2.9v0.85h-2.9zM157.3 515.10h1.8v0.85h-1.8zM160.5 525.02h1.9v0.85h-1.9zM168.7 485.34h3.0v0.85h-3.0zM170.7 540.52h0.7v0.85h-0.7zM187.3 508.90h0.7v0.85h-0.7zM188.9 540.52h1.0v0.85h-1.0zM188.9 551.68h2.7v0.85h-2.7zM196.1 497.74h2.8v0.85h-2.8zM196.9 525.02h0.7v0.85h-0.7zM193.4 547.96h5.2v0.85h-5.2zM193.8 560.98h0.7v0.85h-0.7zM199.7 490.92h7.9v0.85h-7.9zM204.2 494.02h1.5v0.85h-1.5zM205.0 507.66h0.7v0.85h-0.7zM203.4 527.50h0.8v0.85h-0.8zM198.6 533.08h4.7v0.85h-4.7zM219.1 482.24h0.7v0.85h-0.7zM217.1 505.18h2.3v0.85h-2.3zM210.6 531.84h7.1v0.85h-7.1zM213.9 533.08h2.2v0.85h-2.2zM230.6 490.92h1.4v0.85h-1.4zM228.6 539.90h1.6v0.85h-1.6zM243.5 485.96h0.7v0.85h-0.7zM254.5 507.66h2.0v0.85h-2.0zM235.2 520.06h2.2v0.85h-2.2zM250.1 525.64h1.0v0.85h-1.0zM244.8 534.94h3.0v0.85h-3.0zM255.1 538.04h2.1v0.85h-2.1zM253.2 539.90h1.0v0.85h-1.0zM236.4 548.58h1.7v0.85h-1.7zM246.3 561.60h0.7v0.85h-0.7zM274.1 481.00h1.0v0.85h-1.0zM257.7 486.58h2.0v0.85h-2.0zM267.4 533.70h3.9v0.85h-3.9zM275.5 537.42h1.3v0.85h-1.3zM258.1 559.74h2.2v0.85h-2.2zM279.9 509.52h0.7v0.85h-0.7zM276.8 512.62h4.3v0.85h-4.3zM281.4 519.44h0.7v0.85h-0.7zM279.5 533.08h1.9v0.85h-1.9zM276.8 534.32h2.3v0.85h-2.3zM278.0 546.10h1.1v0.85h-1.1zM276.8 564.08h1.4v0.85h-1.4zM293.5 549.82h0.7v0.85h-0.7zM282.2 562.84h12.0v0.85h-12.0zM303.5 481.62h1.4v0.85h-1.4zM293.8 494.64h4.5v0.85h-4.5zM300.6 519.44h0.7v0.85h-0.7zM307.2 490.30h4.5v0.85h-4.5zM309.0 520.68h0.7v0.85h-0.7zM311.2 549.82h2.0v0.85h-2.0zM324.0 498.98h0.9v0.85h-0.9zM343.4 506.42h0.7v0.85h-0.7zM346.5 531.84h0.8v0.85h-0.8zM342.3 539.28h4.4v0.85h-4.4zM343.4 547.96h0.9v0.85h-0.9zM344.1 557.88h1.1v0.85h-1.1zM346.9 559.12h1.1v0.85h-1.1zM368.3 489.06h0.9v0.85h-0.9zM363.0 489.68h6.1v0.85h-6.1zM348.3 497.74h5.7v0.85h-5.7zM362.8 500.84h2.8v0.85h-2.8zM364.4 502.08h5.2v0.85h-5.2zM359.0 510.76h1.3v0.85h-1.3zM355.1 546.72h0.7v0.85h-0.7zM379.8 510.14h0.7v0.85h-0.7zM373.5 547.34h7.0v0.85h-7.0zM376.4 550.44h6.5v0.85h-6.5zM384.2 494.02h1.6v0.85h-1.6zM383.4 536.18h1.8v0.85h-1.8zM390.7 516.34h2.2v0.85h-2.2zM394.5 518.20h0.8v0.85h-0.8zM395.0 520.68h0.7v0.85h-0.7zM392.5 556.64h0.7v0.85h-0.7zM49.5 528.00h30.5v0.80h-30.5zM142.0 508.80h15.7v0.80h-15.7zM157.7 519.00h12.3v0.80h-12.3z"/>
<path fill="#ec6464" d="M52.3 287.88h9.6v0.85h-9.6zM120.1 287.88h0.7v0.85h-0.7zM139.2 283.54h1.7v0.85h-1.7zM142.3 284.16h0.7v0.85h-0.7zM165.8 288.50h1.5v0.85h-1.5zM199.6 282.30h8.4v0.85h-8.4zM200.0 284.16h8.4v0.85h-8.4zM205.0 285.40h1.6v0.85h-1.6zM214.3 283.54h2.2v0.85h-2.2zM252.3 287.88h1.7v0.85h-1.7zM257.3 285.40h4.9v0.85h-4.9zM278.4 282.92h2.7v0.85h-2.7zM295.3 285.40h5.3v0.85h-5.3zM366.7 286.02h0.8v0.85h-0.8zM355.6 286.64h0.8v0.85h-0.8zM356.7 287.26h1.5v0.85h-1.5zM393.2 282.92h1.9v0.85h-1.9zM387.5 286.02h4.5v0.85h-4.5zM95.3 303.68h2.9v0.85h-2.9zM118.7 294.38h4.0v0.85h-4.0zM107.2 294.38h20.0v0.85h-20.0zM119.1 299.34h0.7v0.85h-0.7zM107.3 304.30h20.0v0.85h-20.0zM113.8 305.54h10.9v0.85h-10.9zM151.9 291.28h0.9v0.85h-0.9zM137.7 304.92h15.9v0.85h-15.9zM161.4 289.42h0.7v0.85h-0.7zM167.0 301.20h1.4v0.85h-1.4zM172.5 290.04h16.9v0.85h-16.9zM179.4 291.90h16.9v0.85h-16.9zM182.9 295.62h6.7v0.85h-6.7zM190.1 296.86h0.7v0.85h-0.7zM175.0 298.10h14.7v0.85h-14.7zM172.9 306.78h16.9v0.85h-16.9zM198.1 288.80h8.4v0.85h-8.4zM198.1 290.04h8.4v0.85h-8.4zM198.1 306.78h8.4v0.85h-8.4zM209.9 290.04h15.0v0.85h-15.0zM216.0 304.92h7.8v0.85h-7.8zM258.2 289.42h18.8v0.85h-18.8zM265.4 293.14h1.5v0.85h-1.5zM259.6 307.40h2.4v0.85h-2.4zM287.4 298.10h1.4v0.85h-1.4zM282.8 305.54h0.9v0.85h-0.9zM300.4 289.42h6.8v0.85h-6.8zM297.1 291.90h5.2v0.85h-5.2zM303.4 292.52h0.7v0.85h-0.7zM300.1 293.14h10.5v0.85h-10.5zM302.1 295.62h5.6v0.85h-5.6zM300.2 303.06h0.7v0.85h-0.7zM309.4 293.76h3.5v0.85h-3.5zM337.3 289.42h3.8v0.85h-3.8zM328.9 299.96h0.7v0.85h-0.7zM336.0 307.40h0.7v0.85h-0.7zM352.6 301.20h3.3v0.85h-3.3zM373.7 293.76h0.7v0.85h-0.7zM385.2 307.40h0.7v0.85h-0.7zM52.3 311.32h28.1v0.85h-28.1zM86.7 314.42h6.7v0.85h-6.7zM188.4 310.08h4.5v0.85h-4.5zM204.2 311.94h0.7v0.85h-0.7zM198.8 311.94h8.4v0.85h-8.4zM230.7 316.28h5.3v0.85h-5.3zM283.3 315.04h4.3v0.85h-4.3zM323.7 310.08h18.3v0.85h-18.3zM325.7 311.32h1.1v0.85h-1.1zM385.3 313.18h0.7v0.85h-0.7zM72.5 321.24h0.7v0.85h-0.7zM73.0 323.10h0.7v0.85h-0.7zM61.1 328.06h2.8v0.85h-2.8zM81.6 329.92h0.9v0.85h-0.9zM51.6 335.50h0.7v0.85h-0.7zM61.0 337.36h0.8v0.85h-0.8zM84.5 339.84h0.9v0.85h-0.9zM79.4 351.00h0.7v0.85h-0.7zM88.5 335.50h2.2v0.85h-2.2zM125.6 329.30h0.7v0.85h-0.7zM108.5 334.26h0.7v0.85h-0.7zM108.6 338.60h2.5v0.85h-2.5zM120.3 342.32h0.7v0.85h-0.7zM118.9 348.52h0.7v0.85h-0.7zM133.8 331.16h0.7v0.85h-0.7zM134.1 338.60h1.5v0.85h-1.5zM164.1 350.38h0.9v0.85h-0.9zM182.4 326.82h0.7v0.85h-0.7zM200.0 320.62h2.5v0.85h-2.5zM204.8 323.72h1.6v0.85h-1.6zM198.5 345.42h1.3v0.85h-1.3zM250.7 347.90h6.7v0.85h-6.7zM258.2 326.20h0.7v0.85h-0.7zM263.3 335.50h0.7v0.85h-0.7zM272.5 338.60h1.8v0.85h-1.8zM278.9 326.82h0.7v0.85h-0.7zM309.4 330.54h4.2v0.85h-4.2zM315.1 336.12h1.8v0.85h-1.8zM375.7 334.88h2.0v0.85h-2.0zM393.2 333.64h0.7v0.85h-0.7zM60.4 375.68h0.8v0.85h-0.8zM80.9 379.40h2.3v0.85h-2.3zM74.5 384.98h1.7v0.85h-1.7zM81.9 385.60h0.8v0.85h-0.8zM62.2 391.80h0.7v0.85h-0.7zM85.8 370.10h2.7v0.85h-2.7zM84.2 385.60h5.4v0.85h-5.4zM124.3 370.10h0.7v0.85h-0.7zM143.4 360.80h5.5v0.85h-5.5zM143.8 395.52h0.7v0.85h-0.7zM151.5 403.58h8.0v0.85h-8.0zM175.2 375.68h0.7v0.85h-0.7zM173.6 394.28h0.8v0.85h-0.8zM187.3 407.30h1.1v0.85h-1.1zM197.5 353.36h6.8v0.85h-6.8zM203.9 401.10h2.1v0.85h-2.1zM199.3 405.44h1.6v0.85h-1.6zM205.0 410.40h0.7v0.85h-0.7zM198.8 412.26h0.7v0.85h-0.7zM217.6 358.94h4.8v0.85h-4.8zM225.7 399.24h0.7v0.85h-0.7zM246.3 361.42h0.7v0.85h-0.7zM253.3 383.74h0.7v0.85h-0.7zM264.5 373.82h4.2v0.85h-4.2zM259.7 410.40h3.0v0.85h-3.0zM285.5 404.82h0.7v0.85h-0.7zM307.6 393.04h0.7v0.85h-0.7zM341.8 353.98h2.1v0.85h-2.1zM335.2 399.24h1.7v0.85h-1.7zM341.2 406.68h2.1v0.85h-2.1zM368.0 363.90h3.7v0.85h-3.7zM350.8 373.82h5.0v0.85h-5.0zM358.1 390.56h0.7v0.85h-0.7zM381.1 368.86h0.7v0.85h-0.7zM381.4 407.30h0.7v0.85h-0.7zM389.8 359.56h0.7v0.85h-0.7zM49.5 285.50h347.0v0.80h-347.0zM68.0 289.60h17.5v0.70h-17.5zM115.0 282.60h13.5v2.20h-13.5zM70.0 300.40h15.5v0.80h-15.5zM206.5 293.00h15.0v0.80h-15.0zM206.5 300.20h15.0v0.80h-15.0zM376.0 329.80h7.4v0.70h-7.4zM85.5 432.02h23.0v0.85h-23.0zM128.5 431.40h13.3v0.85h-13.3zM176.5 431.40h16.9v0.85h-16.9zM322.3 431.40h21.1v0.85h-21.1zM77.6 433.42h4.5v0.85h-4.5zM61.8 435.90h9.9v0.85h-9.9zM89.7 432.80h0.7v0.85h-0.7zM86.6 432.80h0.7v0.85h-0.7zM88.7 433.42h23.0v0.85h-23.0zM97.4 434.04h5.4v0.85h-5.4zM92.4 434.66h2.3v0.85h-2.3zM107.6 434.04h8.1v0.85h-8.1zM170.4 434.04h4.3v0.85h-4.3zM164.9 434.66h4.2v0.85h-4.2zM179.4 437.76h7.7v0.85h-7.7zM174.1 437.76h16.9v0.85h-16.9zM203.9 432.80h15.0v0.85h-15.0zM204.8 432.80h15.0v0.85h-15.0zM210.2 432.80h15.0v0.85h-15.0zM206.7 433.42h8.4v0.85h-8.4zM218.1 433.42h14.3v0.85h-14.3zM219.6 434.04h14.3v0.85h-14.3zM218.2 437.14h13.5v0.85h-13.5zM235.2 433.42h6.5v0.85h-6.5zM229.6 435.28h21.9v0.85h-21.9zM245.1 435.90h9.7v0.85h-9.7zM237.9 436.52h21.9v0.85h-21.9zM265.6 432.80h9.8v0.85h-9.8zM275.4 432.80h6.1v0.85h-6.1zM280.3 433.42h8.7v0.85h-8.7zM284.3 435.90h8.2v0.85h-8.2zM281.3 436.52h11.3v0.85h-11.3zM301.2 434.66h1.7v0.85h-1.7zM324.8 433.42h8.5v0.85h-8.5zM324.3 435.28h2.3v0.85h-2.3zM344.7 437.76h5.1v0.85h-5.1zM348.5 437.76h25.0v0.85h-25.0zM372.5 434.66h9.9v0.85h-9.9zM370.6 435.28h9.9v0.85h-9.9zM49.5 440.98h27.7v0.85h-27.7zM68.7 445.30h14.6v0.85h-14.6zM79.9 448.40h3.9v0.85h-3.9zM94.0 447.16h2.9v0.85h-2.9zM94.5 449.02h13.6v0.85h-13.6zM110.0 445.30h18.0v0.85h-18.0zM104.3 445.30h20.0v0.85h-20.0zM117.0 447.78h4.3v0.85h-4.3zM124.2 447.78h2.5v0.85h-2.5zM118.9 447.78h1.8v0.85h-1.8zM102.6 448.40h20.0v0.85h-20.0zM145.0 448.40h10.0v0.85h-10.0zM167.8 447.78h5.0v0.85h-5.0zM180.3 446.54h8.4v0.85h-8.4zM189.7 445.92h12.8v0.85h-12.8zM212.2 447.16h7.8v0.85h-7.8zM219.9 449.02h1.5v0.85h-1.5zM218.9 448.40h14.3v0.85h-14.3zM247.8 445.30h8.3v0.85h-8.3zM231.0 445.30h21.9v0.85h-21.9zM232.4 447.16h12.2v0.85h-12.2zM257.9 447.16h3.9v0.85h-3.9zM276.5 445.30h6.1v0.85h-6.1zM292.4 445.30h13.1v0.85h-13.1zM297.9 446.54h13.1v0.85h-13.1zM334.0 449.02h1.3v0.85h-1.3zM327.1 449.02h21.1v0.85h-21.1zM345.9 445.92h2.2v0.85h-2.2zM348.5 447.16h25.0v0.85h-25.0zM371.9 449.02h9.9v0.85h-9.9zM385.2 446.54h8.8v0.85h-8.8zM392.7 448.40h0.8v0.85h-0.8zM75.3 449.20h5.2v0.85h-5.2zM54.0 451.06h1.5v0.85h-1.5zM76.2 454.78h3.2v0.85h-3.2zM49.5 455.40h1.1v0.85h-1.1zM93.1 454.16h3.0v0.85h-3.0zM126.7 456.64h9.1v0.85h-9.1zM170.6 457.26h6.8v0.85h-6.8zM207.6 452.30h4.5v0.85h-4.5zM233.1 452.92h2.5v0.85h-2.5zM225.6 454.16h2.8v0.85h-2.8zM236.7 451.06h3.4v0.85h-3.4zM234.5 457.26h11.3v0.85h-11.3zM257.5 451.68h18.8v0.85h-18.8zM302.6 454.78h6.2v0.85h-6.2zM325.2 457.88h21.1v0.85h-21.1zM53.1 458.70h7.7v0.85h-7.7zM82.2 459.94h3.1v0.85h-3.1zM80.4 464.28h0.7v0.85h-0.7zM54.8 466.14h3.4v0.85h-3.4zM56.3 467.38h15.4v0.85h-15.4zM60.9 477.92h17.5v0.85h-17.5zM95.6 458.70h5.0v0.85h-5.0zM102.2 461.18h1.9v0.85h-1.9zM98.4 461.80h5.6v0.85h-5.6zM90.8 480.40h14.4v0.85h-14.4zM109.6 460.56h5.8v0.85h-5.8zM108.3 471.72h0.7v0.85h-0.7zM119.8 473.58h6.2v0.85h-6.2zM117.1 474.20h3.6v0.85h-3.6zM120.1 475.44h6.8v0.85h-6.8zM108.0 476.06h14.9v0.85h-14.9zM121.8 480.40h7.4v0.85h-7.4zM127.2 461.80h5.2v0.85h-5.2zM126.3 463.04h10.0v0.85h-10.0zM131.0 469.86h11.9v0.85h-11.9zM131.0 473.58h13.3v0.85h-13.3zM126.9 474.20h13.3v0.85h-13.3zM142.6 464.28h15.9v0.85h-15.9zM139.5 469.86h8.4v0.85h-8.4zM162.3 463.04h2.4v0.85h-2.4zM158.3 473.58h0.7v0.85h-0.7zM164.2 477.30h4.2v0.85h-4.2zM186.3 461.18h5.5v0.85h-5.5zM189.7 461.18h5.0v0.85h-5.0zM175.2 470.48h5.9v0.85h-5.9zM180.8 472.34h4.3v0.85h-4.3zM200.8 463.66h5.7v0.85h-5.7zM204.4 479.16h0.7v0.85h-0.7zM205.0 466.76h5.9v0.85h-5.9zM209.7 474.20h9.3v0.85h-9.3zM221.5 476.06h0.8v0.85h-0.8zM237.1 459.32h1.2v0.85h-1.2zM236.6 468.00h21.9v0.85h-21.9zM237.0 471.10h0.7v0.85h-0.7zM237.7 475.44h9.7v0.85h-9.7zM270.7 467.38h5.3v0.85h-5.3zM254.0 468.62h12.9v0.85h-12.9zM270.6 470.48h2.6v0.85h-2.6zM275.9 463.66h6.1v0.85h-6.1zM280.0 466.76h12.0v0.85h-12.0zM289.4 468.00h6.8v0.85h-6.8zM284.5 469.24h2.5v0.85h-2.5zM294.2 469.86h7.1v0.85h-7.1zM297.3 475.44h0.7v0.85h-0.7zM293.8 477.30h9.5v0.85h-9.5zM300.7 477.92h1.1v0.85h-1.1zM308.8 471.72h3.9v0.85h-3.9zM336.0 464.28h8.1v0.85h-8.1zM321.2 468.62h9.6v0.85h-9.6zM327.3 471.10h2.8v0.85h-2.8zM318.7 475.44h12.2v0.85h-12.2zM328.1 476.06h2.8v0.85h-2.8zM361.9 458.70h1.5v0.85h-1.5zM362.8 463.66h0.7v0.85h-0.7zM348.9 473.58h7.7v0.85h-7.7zM372.9 460.56h7.9v0.85h-7.9zM387.7 464.90h8.8v0.85h-8.8zM62.3 488.44h0.7v0.85h-0.7zM61.9 489.68h5.8v0.85h-5.8zM76.8 491.54h2.0v0.85h-2.0zM52.7 496.50h6.4v0.85h-6.4zM62.3 510.76h0.7v0.85h-0.7zM63.3 539.90h1.4v0.85h-1.4zM50.9 556.64h0.7v0.85h-0.7zM50.0 556.64h2.4v0.85h-2.4zM72.5 564.08h4.5v0.85h-4.5zM99.8 525.64h10.3v0.85h-10.3zM95.1 533.70h0.7v0.85h-0.7zM119.7 524.40h4.2v0.85h-4.2zM111.9 543.62h3.4v0.85h-3.4zM125.0 544.24h3.4v0.85h-3.4zM111.0 544.24h1.7v0.85h-1.7zM112.2 547.96h0.7v0.85h-0.7zM112.3 560.98h1.1v0.85h-1.1zM131.4 489.68h0.8v0.85h-0.8zM139.4 554.16h1.8v0.85h-1.8zM155.3 556.64h3.1v0.85h-3.1zM154.3 563.46h3.9v0.85h-3.9zM162.0 533.08h3.4v0.85h-3.4zM174.4 484.72h1.1v0.85h-1.1zM172.9 552.92h4.5v0.85h-4.5zM191.0 519.44h2.9v0.85h-2.9zM204.7 516.34h0.7v0.85h-0.7zM196.6 544.86h7.9v0.85h-7.9zM200.0 544.86h2.1v0.85h-2.1zM213.3 532.46h0.7v0.85h-0.7zM218.6 540.52h0.9v0.85h-0.9zM231.8 520.06h2.9v0.85h-2.9zM225.4 532.46h3.6v0.85h-3.6zM252.3 491.54h4.1v0.85h-4.1zM255.4 497.12h0.7v0.85h-0.7zM251.0 523.16h1.2v0.85h-1.2zM247.5 531.84h2.1v0.85h-2.1zM245.0 532.46h3.8v0.85h-3.8zM253.8 560.98h1.7v0.85h-1.7zM262.8 528.12h3.2v0.85h-3.2zM272.9 545.48h2.5v0.85h-2.5zM302.0 544.24h2.9v0.85h-2.9zM310.0 532.46h1.7v0.85h-1.7zM341.1 490.30h0.7v0.85h-0.7zM338.9 498.36h0.9v0.85h-0.9zM326.0 501.46h0.7v0.85h-0.7zM329.4 505.18h0.7v0.85h-0.7zM341.7 546.72h2.0v0.85h-2.0zM323.7 550.44h1.6v0.85h-1.6zM325.2 550.44h2.4v0.85h-2.4zM353.2 490.30h0.7v0.85h-0.7zM354.9 551.06h0.7v0.85h-0.7zM376.4 481.62h2.5v0.85h-2.5zM379.8 538.66h2.8v0.85h-2.8zM382.9 549.82h0.7v0.85h-0.7zM382.4 513.86h4.0v0.85h-4.0zM389.0 515.72h0.7v0.85h-0.7zM66.0 485.60h19.5v0.80h-19.5zM70.0 488.60h15.5v0.80h-15.5zM158.0 508.80h18.5v0.80h-18.5zM206.5 508.80h15.0v0.80h-15.0zM176.5 528.40h16.9v0.80h-16.9z"/>
<path fill="#6464f2" d="M51.5 288.50h6.2v0.85h-6.2zM99.9 287.88h9.0v0.85h-9.0zM135.5 284.78h1.5v0.85h-1.5zM146.7 286.02h1.3v0.85h-1.3zM143.4 287.26h4.2v0.85h-4.2zM148.2 287.26h6.8v0.85h-6.8zM148.5 287.88h0.7v0.85h-0.7zM149.7 288.50h0.7v0.85h-0.7zM164.7 286.02h5.7v0.85h-5.7zM227.1 284.16h4.6v0.85h-4.6zM222.5 284.78h0.7v0.85h-0.7zM232.6 286.02h0.7v0.85h-0.7zM243.2 287.88h1.3v0.85h-1.3zM276.7 285.40h1.5v0.85h-1.5zM288.2 283.54h1.5v0.85h-1.5zM282.5 284.16h0.8v0.85h-0.8zM318.1 284.16h4.2v0.85h-4.2zM319.0 286.02h2.8v0.85h-2.8zM343.1 283.54h5.1v0.85h-5.1zM349.9 286.02h4.7v0.85h-4.7zM381.4 282.30h0.7v0.85h-0.7zM375.4 286.64h0.7v0.85h-0.7zM49.6 290.04h0.7v0.85h-0.7zM54.7 291.28h9.5v0.85h-9.5zM51.6 301.20h5.3v0.85h-5.3zM51.0 306.16h6.1v0.85h-6.1zM91.7 299.34h2.1v0.85h-2.1zM105.0 303.06h1.3v0.85h-1.3zM102.2 306.78h1.8v0.85h-1.8zM112.5 290.66h9.3v0.85h-9.3zM128.9 290.04h6.6v0.85h-6.6zM134.2 293.76h2.0v0.85h-2.0zM152.4 293.14h0.7v0.85h-0.7zM146.0 294.38h1.8v0.85h-1.8zM157.0 299.34h3.8v0.85h-3.8zM169.9 304.92h1.5v0.85h-1.5zM225.1 289.42h0.7v0.85h-0.7zM228.8 290.04h4.2v0.85h-4.2zM231.6 296.86h5.1v0.85h-5.1zM225.6 296.86h4.4v0.85h-4.4zM220.1 297.48h14.3v0.85h-14.3zM219.2 299.96h9.8v0.85h-9.8zM227.0 301.20h4.9v0.85h-4.9zM264.2 291.90h8.6v0.85h-8.6zM277.5 292.52h0.7v0.85h-0.7zM280.4 298.10h2.0v0.85h-2.0zM282.0 298.10h0.7v0.85h-0.7zM276.0 298.10h6.1v0.85h-6.1zM274.9 298.72h6.1v0.85h-6.1zM277.9 298.72h1.3v0.85h-1.3zM286.9 294.38h6.0v0.85h-6.0zM287.4 298.72h2.0v0.85h-2.0zM292.8 301.82h0.7v0.85h-0.7zM297.7 304.30h12.8v0.85h-12.8zM313.7 293.76h7.3v0.85h-7.3zM323.6 301.82h7.6v0.85h-7.6zM332.7 303.06h1.3v0.85h-1.3zM353.2 292.52h3.5v0.85h-3.5zM353.2 294.38h0.7v0.85h-0.7zM351.8 299.96h0.7v0.85h-0.7zM376.0 299.34h6.2v0.85h-6.2zM376.0 303.68h1.7v0.85h-1.7zM385.7 299.34h1.6v0.85h-1.6zM52.3 311.94h0.7v0.85h-0.7zM77.8 316.28h8.5v0.85h-8.5zM102.0 315.66h0.7v0.85h-0.7zM116.6 314.42h1.9v0.85h-1.9zM129.3 311.32h1.4v0.85h-1.4zM129.6 311.94h2.2v0.85h-2.2zM140.6 315.04h0.7v0.85h-0.7zM134.4 316.28h0.7v0.85h-0.7zM143.8 311.32h4.4v0.85h-4.4zM163.1 307.60h2.6v0.85h-2.6zM164.6 307.60h0.7v0.85h-0.7zM157.5 307.60h2.3v0.85h-2.3zM170.4 311.32h0.7v0.85h-0.7zM187.2 308.84h3.6v0.85h-3.6zM176.6 314.42h3.1v0.85h-3.1zM207.2 310.70h1.1v0.85h-1.1zM208.2 313.18h3.9v0.85h-3.9zM221.2 309.46h12.0v0.85h-12.0zM224.1 315.66h1.9v0.85h-1.9zM239.3 308.22h0.7v0.85h-0.7zM242.4 313.80h0.7v0.85h-0.7zM258.9 307.60h1.2v0.85h-1.2zM270.4 307.60h0.7v0.85h-0.7zM262.0 315.66h1.2v0.85h-1.2zM278.2 313.18h6.1v0.85h-6.1zM277.8 315.66h0.7v0.85h-0.7zM289.6 314.42h2.6v0.85h-2.6zM317.9 311.94h0.7v0.85h-0.7zM314.7 313.18h7.3v0.85h-7.3zM318.3 315.04h2.9v0.85h-2.9zM313.8 315.66h7.3v0.85h-7.3zM313.0 316.28h7.3v0.85h-7.3zM326.2 308.84h8.1v0.85h-8.1zM329.0 310.08h5.0v0.85h-5.0zM323.2 311.94h4.3v0.85h-4.3zM332.3 312.56h11.6v0.85h-11.6zM327.4 313.80h8.2v0.85h-8.2zM326.4 314.42h4.3v0.85h-4.3zM333.0 316.28h4.3v0.85h-4.3zM344.4 316.28h0.7v0.85h-0.7zM364.5 313.18h1.2v0.85h-1.2zM365.1 314.42h3.9v0.85h-3.9zM348.5 315.66h3.0v0.85h-3.0zM360.8 315.66h0.7v0.85h-0.7zM376.2 315.04h0.8v0.85h-0.8zM384.3 316.28h1.5v0.85h-1.5zM393.2 315.66h3.3v0.85h-3.3zM63.0 324.34h2.1v0.85h-2.1zM59.0 324.96h2.5v0.85h-2.5zM60.8 328.68h2.3v0.85h-2.3zM79.5 331.16h1.8v0.85h-1.8zM54.9 333.64h0.7v0.85h-0.7zM51.3 335.50h1.4v0.85h-1.4zM73.1 337.36h0.7v0.85h-0.7zM62.6 338.60h0.7v0.85h-0.7zM53.9 338.60h1.2v0.85h-1.2zM77.0 340.46h2.2v0.85h-2.2zM62.1 344.80h1.0v0.85h-1.0zM73.7 345.42h1.2v0.85h-1.2zM55.6 348.52h0.7v0.85h-0.7zM66.8 350.38h1.6v0.85h-1.6zM88.7 318.76h1.8v0.85h-1.8zM85.9 321.24h1.1v0.85h-1.1zM92.4 323.10h0.7v0.85h-0.7zM84.8 331.78h3.5v0.85h-3.5zM96.0 340.46h0.7v0.85h-0.7zM99.3 343.56h4.6v0.85h-4.6zM92.8 347.90h0.7v0.85h-0.7zM123.9 318.14h0.8v0.85h-0.8zM111.1 323.72h1.9v0.85h-1.9zM124.3 328.06h2.9v0.85h-2.9zM112.4 333.64h0.7v0.85h-0.7zM115.0 334.88h5.5v0.85h-5.5zM109.2 339.22h1.9v0.85h-1.9zM117.3 344.18h2.1v0.85h-2.1zM124.0 347.90h0.9v0.85h-0.9zM120.0 348.52h1.8v0.85h-1.8zM138.4 316.90h2.4v0.85h-2.4zM135.1 330.54h1.8v0.85h-1.8zM155.1 317.52h3.3v0.85h-3.3zM153.2 329.92h0.7v0.85h-0.7zM145.8 331.16h6.8v0.85h-6.8zM144.0 347.28h0.7v0.85h-0.7zM144.6 348.52h4.6v0.85h-4.6zM161.4 316.90h1.5v0.85h-1.5zM163.2 349.14h1.0v0.85h-1.0zM168.6 328.06h1.9v0.85h-1.9zM168.9 334.26h1.4v0.85h-1.4zM174.1 316.90h2.8v0.85h-2.8zM173.4 334.88h0.7v0.85h-0.7zM171.9 341.08h2.9v0.85h-2.9zM173.5 349.76h0.7v0.85h-0.7zM188.8 319.38h1.3v0.85h-1.3zM178.4 321.24h0.7v0.85h-0.7zM188.9 321.86h0.9v0.85h-0.9zM190.0 328.68h2.1v0.85h-2.1zM181.9 330.54h0.7v0.85h-0.7zM177.4 333.64h4.0v0.85h-4.0zM184.0 337.36h6.4v0.85h-6.4zM178.3 339.22h1.9v0.85h-1.9zM183.3 347.90h0.7v0.85h-0.7zM193.4 317.52h4.7v0.85h-4.7zM193.4 337.98h4.7v0.85h-4.7zM193.4 344.18h4.7v0.85h-4.7zM198.5 339.84h2.0v0.85h-2.0zM218.5 323.10h1.0v0.85h-1.0zM209.5 323.10h0.7v0.85h-0.7zM213.3 326.20h4.0v0.85h-4.0zM213.6 346.04h0.7v0.85h-0.7zM232.7 318.14h3.1v0.85h-3.1zM232.4 334.26h2.4v0.85h-2.4zM223.8 341.70h2.3v0.85h-2.3zM227.3 349.14h1.8v0.85h-1.8zM242.9 322.48h3.2v0.85h-3.2zM247.5 324.34h1.8v0.85h-1.8zM235.5 326.82h2.0v0.85h-2.0zM240.9 329.30h0.7v0.85h-0.7zM239.2 335.50h1.5v0.85h-1.5zM236.7 344.18h0.7v0.85h-0.7zM248.1 344.80h1.2v0.85h-1.2zM261.4 316.90h0.7v0.85h-0.7zM260.1 318.14h1.5v0.85h-1.5zM258.0 318.14h4.7v0.85h-4.7zM260.8 324.34h1.2v0.85h-1.2zM258.3 329.30h1.2v0.85h-1.2zM259.3 336.74h0.7v0.85h-0.7zM257.5 337.36h3.4v0.85h-3.4zM260.1 347.28h1.1v0.85h-1.1zM270.7 326.20h0.9v0.85h-0.9zM270.8 332.40h1.2v0.85h-1.2zM265.4 340.46h0.7v0.85h-0.7zM263.2 345.42h1.3v0.85h-1.3zM264.9 349.76h1.1v0.85h-1.1zM277.7 328.06h2.0v0.85h-2.0zM281.9 337.36h0.7v0.85h-0.7zM281.7 339.84h1.2v0.85h-1.2zM289.2 321.86h5.8v0.85h-5.8zM290.3 328.06h1.2v0.85h-1.2zM286.3 330.54h1.4v0.85h-1.4zM288.9 331.16h2.0v0.85h-2.0zM304.8 316.90h2.9v0.85h-2.9zM306.1 319.38h0.7v0.85h-0.7zM298.1 320.00h1.9v0.85h-1.9zM295.8 322.48h0.7v0.85h-0.7zM298.6 331.78h3.5v0.85h-3.5zM304.3 332.40h1.8v0.85h-1.8zM302.3 334.26h1.7v0.85h-1.7zM296.2 334.88h1.0v0.85h-1.0zM300.8 341.08h0.7v0.85h-0.7zM308.4 320.00h3.9v0.85h-3.9zM311.1 336.12h1.2v0.85h-1.2zM316.6 348.52h2.2v0.85h-2.2zM321.8 322.48h5.9v0.85h-5.9zM324.6 323.10h1.1v0.85h-1.1zM327.8 336.12h0.7v0.85h-0.7zM326.4 336.74h2.7v0.85h-2.7zM338.2 316.90h4.0v0.85h-4.0zM340.1 326.82h0.7v0.85h-0.7zM334.1 327.44h0.7v0.85h-0.7zM328.4 328.68h5.8v0.85h-5.8zM331.2 333.02h1.0v0.85h-1.0zM331.5 333.64h5.9v0.85h-5.9zM330.4 335.50h0.7v0.85h-0.7zM344.4 320.00h0.9v0.85h-0.9zM346.2 339.22h1.7v0.85h-1.7zM344.5 345.42h0.7v0.85h-0.7zM354.0 317.52h4.5v0.85h-4.5zM357.6 326.20h2.6v0.85h-2.6zM352.1 334.88h1.9v0.85h-1.9zM368.1 336.74h2.8v0.85h-2.8zM350.1 340.46h0.7v0.85h-0.7zM353.2 341.70h0.7v0.85h-0.7zM360.7 342.94h0.7v0.85h-0.7zM359.9 346.66h3.0v0.85h-3.0zM377.5 344.18h2.7v0.85h-2.7zM394.9 342.94h0.8v0.85h-0.8zM395.5 344.80h0.7v0.85h-0.7zM51.1 353.36h3.9v0.85h-3.9zM54.8 361.42h0.7v0.85h-0.7zM80.1 366.38h3.1v0.85h-3.1zM76.9 372.58h0.7v0.85h-0.7zM75.3 378.16h0.7v0.85h-0.7zM76.7 379.40h2.6v0.85h-2.6zM78.6 380.64h0.7v0.85h-0.7zM83.4 383.12h2.9v0.85h-2.9zM72.4 383.12h1.4v0.85h-1.4zM83.3 386.84h1.0v0.85h-1.0zM62.1 389.32h1.9v0.85h-1.9zM49.5 389.32h0.6v0.85h-0.6zM63.9 392.42h4.4v0.85h-4.4zM76.3 395.52h1.4v0.85h-1.4zM83.2 397.38h1.9v0.85h-1.9zM52.1 405.44h3.0v0.85h-3.0zM73.7 411.64h3.1v0.85h-3.1zM89.9 353.36h2.1v0.85h-2.1zM86.5 360.18h1.1v0.85h-1.1zM94.3 367.62h0.7v0.85h-0.7zM91.3 370.72h1.2v0.85h-1.2zM101.7 373.20h2.8v0.85h-2.8zM101.5 392.42h1.2v0.85h-1.2zM96.7 393.66h0.7v0.85h-0.7zM91.0 402.34h0.7v0.85h-0.7zM94.3 402.34h0.7v0.85h-0.7zM97.7 410.40h1.4v0.85h-1.4zM91.6 411.64h0.7v0.85h-0.7zM122.7 364.52h0.7v0.85h-0.7zM113.4 369.48h0.7v0.85h-0.7zM120.3 375.68h0.7v0.85h-0.7zM110.2 378.16h0.7v0.85h-0.7zM113.5 386.22h0.7v0.85h-0.7zM121.6 389.94h1.3v0.85h-1.3zM110.5 389.94h0.7v0.85h-0.7zM122.7 391.80h3.6v0.85h-3.6zM118.7 395.52h2.6v0.85h-2.6zM113.8 398.62h2.7v0.85h-2.7zM123.3 406.06h3.2v0.85h-3.2zM140.0 351.50h0.7v0.85h-0.7zM129.4 377.54h3.0v0.85h-3.0zM133.5 380.02h0.7v0.85h-0.7zM136.5 380.02h1.0v0.85h-1.0zM137.1 384.98h4.0v0.85h-4.0zM132.6 388.70h0.8v0.85h-0.8zM135.8 391.18h0.7v0.85h-0.7zM132.4 396.76h0.7v0.85h-0.7zM137.6 401.72h0.7v0.85h-0.7zM136.1 401.72h0.7v0.85h-0.7zM136.7 411.02h2.8v0.85h-2.8zM140.5 412.26h0.7v0.85h-0.7zM144.2 395.52h15.9v0.85h-15.9zM162.3 357.70h1.0v0.85h-1.0zM161.0 365.76h0.7v0.85h-0.7zM166.5 384.36h1.1v0.85h-1.1zM162.8 410.40h3.2v0.85h-3.2zM168.9 394.90h1.1v0.85h-1.1zM172.2 372.58h0.8v0.85h-0.8zM172.8 398.62h0.7v0.85h-0.7zM183.2 352.12h2.7v0.85h-2.7zM184.3 352.74h1.7v0.85h-1.7zM192.3 357.08h1.0v0.85h-1.0zM181.8 361.42h0.7v0.85h-0.7zM181.4 375.68h0.7v0.85h-0.7zM178.7 383.12h6.4v0.85h-6.4zM184.8 386.84h2.4v0.85h-2.4zM177.6 390.56h1.9v0.85h-1.9zM181.3 391.80h1.0v0.85h-1.0zM187.2 395.52h2.6v0.85h-2.6zM189.9 396.76h0.8v0.85h-0.8zM192.7 399.86h0.9v0.85h-0.9zM177.6 407.30h1.8v0.85h-1.8zM190.5 408.54h3.8v0.85h-3.8zM184.1 408.54h0.9v0.85h-0.9zM184.8 409.16h1.5v0.85h-1.5zM192.5 411.64h0.7v0.85h-0.7zM201.3 375.68h3.0v0.85h-3.0zM204.2 388.70h0.7v0.85h-0.7zM205.8 355.22h3.1v0.85h-3.1zM216.6 360.80h0.7v0.85h-0.7zM215.1 368.86h3.2v0.85h-3.2zM210.8 368.86h0.9v0.85h-0.9zM216.0 391.18h0.7v0.85h-0.7zM212.3 406.68h1.0v0.85h-1.0zM208.0 412.26h0.7v0.85h-0.7zM212.7 412.26h0.7v0.85h-0.7zM207.2 412.88h0.7v0.85h-0.7zM231.4 362.04h0.7v0.85h-0.7zM231.1 372.58h0.7v0.85h-0.7zM221.9 374.44h1.1v0.85h-1.1zM222.6 386.22h4.0v0.85h-4.0zM220.9 388.70h5.7v0.85h-5.7zM233.6 396.14h2.7v0.85h-2.7zM232.2 398.00h1.8v0.85h-1.8zM231.7 405.44h3.6v0.85h-3.6zM245.2 353.36h1.6v0.85h-1.6zM247.5 353.36h0.7v0.85h-0.7zM249.4 353.98h7.2v0.85h-7.2zM241.9 355.22h0.7v0.85h-0.7zM255.9 355.84h1.6v0.85h-1.6zM256.5 362.04h0.7v0.85h-0.7zM243.5 367.00h5.2v0.85h-5.2zM237.4 373.20h0.7v0.85h-0.7zM237.0 379.40h0.7v0.85h-0.7zM248.7 412.26h3.4v0.85h-3.4zM260.8 363.90h0.7v0.85h-0.7zM263.3 366.38h0.7v0.85h-0.7zM259.1 375.06h3.0v0.85h-3.0zM257.9 375.68h0.7v0.85h-0.7zM265.0 386.84h0.7v0.85h-0.7zM265.7 387.46h0.7v0.85h-0.7zM257.3 391.80h1.3v0.85h-1.3zM265.6 393.04h0.7v0.85h-0.7zM274.7 393.04h0.9v0.85h-0.9zM266.3 402.34h0.7v0.85h-0.7zM268.5 409.78h1.1v0.85h-1.1zM261.8 410.40h1.3v0.85h-1.3zM277.0 358.94h1.5v0.85h-1.5zM276.1 368.86h2.8v0.85h-2.8zM277.5 376.30h5.7v0.85h-5.7zM276.8 403.58h0.7v0.85h-0.7zM277.2 410.40h1.7v0.85h-1.7zM288.1 357.70h0.7v0.85h-0.7zM292.4 361.42h0.7v0.85h-0.7zM285.9 380.02h2.5v0.85h-2.5zM291.5 384.98h2.5v0.85h-2.5zM283.8 386.84h3.9v0.85h-3.9zM292.8 392.42h1.2v0.85h-1.2zM284.4 394.90h2.5v0.85h-2.5zM290.1 396.76h1.6v0.85h-1.6zM297.5 351.50h0.7v0.85h-0.7zM301.0 358.94h2.6v0.85h-2.6zM301.7 368.24h2.2v0.85h-2.2zM295.9 369.48h2.1v0.85h-2.1zM297.1 388.08h1.6v0.85h-1.6zM306.3 388.08h0.7v0.85h-0.7zM299.6 406.06h0.7v0.85h-0.7zM313.9 407.30h0.7v0.85h-0.7zM317.0 351.50h5.8v0.85h-5.8zM315.1 372.58h5.8v0.85h-5.8zM320.7 378.16h0.7v0.85h-0.7zM320.3 391.80h2.2v0.85h-2.2zM320.9 394.90h0.9v0.85h-0.9zM321.3 402.96h1.3v0.85h-1.3zM324.9 351.50h4.4v0.85h-4.4zM323.4 367.62h1.2v0.85h-1.2zM322.2 380.64h0.7v0.85h-0.7zM329.9 352.74h0.7v0.85h-0.7zM334.6 353.98h0.7v0.85h-0.7zM331.6 393.66h0.7v0.85h-0.7zM331.1 404.20h1.1v0.85h-1.1zM329.9 406.06h0.7v0.85h-0.7zM338.9 412.26h2.0v0.85h-2.0zM347.1 378.16h1.0v0.85h-1.0zM354.0 352.74h2.8v0.85h-2.8zM350.5 361.42h1.3v0.85h-1.3zM356.9 364.52h4.6v0.85h-4.6zM370.9 367.00h1.5v0.85h-1.5zM358.2 375.06h1.7v0.85h-1.7zM352.9 386.22h1.9v0.85h-1.9zM364.9 386.22h0.7v0.85h-0.7zM359.1 394.90h0.7v0.85h-0.7zM361.3 397.38h0.7v0.85h-0.7zM369.7 401.72h0.7v0.85h-0.7zM362.6 404.20h1.0v0.85h-1.0zM361.8 405.44h1.2v0.85h-1.2zM349.4 406.06h0.7v0.85h-0.7zM361.2 411.02h3.3v0.85h-3.3zM366.9 412.88h1.1v0.85h-1.1zM379.5 358.32h1.5v0.85h-1.5zM381.6 363.28h0.8v0.85h-0.8zM378.8 368.24h1.0v0.85h-1.0zM373.3 382.50h1.1v0.85h-1.1zM379.0 388.08h0.9v0.85h-0.9zM384.7 365.14h1.9v0.85h-1.9zM387.1 403.58h0.7v0.85h-0.7zM391.7 351.50h3.9v0.85h-3.9zM391.8 368.86h1.2v0.85h-1.2zM395.2 371.96h1.3v0.85h-1.3zM393.7 378.78h0.7v0.85h-0.7zM108.5 310.20h10.0v0.90h-10.0zM108.3 433.42h0.8v0.85h-0.8zM208.1 438.38h10.2v0.85h-10.2zM323.3 433.42h9.6v0.85h-9.6zM78.4 439.12h0.7v0.85h-0.7zM57.9 440.36h16.4v0.85h-16.4zM63.5 440.98h10.9v0.85h-10.9zM80.9 441.60h3.1v0.85h-3.1zM59.3 442.22h7.9v0.85h-7.9zM72.1 444.70h12.3v0.85h-12.3zM79.9 444.70h2.4v0.85h-2.4zM98.5 440.36h8.3v0.85h-8.3zM85.3 440.36h5.3v0.85h-5.3zM87.5 441.60h22.5v0.85h-22.5zM96.7 442.84h2.4v0.85h-2.4zM146.8 440.36h6.2v0.85h-6.2zM155.7 440.36h11.4v0.85h-11.4zM165.2 440.36h0.7v0.85h-0.7zM176.9 438.50h2.4v0.85h-2.4zM192.9 438.50h13.1v0.85h-13.1zM190.1 439.74h13.1v0.85h-13.1zM193.5 439.74h13.1v0.85h-13.1zM197.3 442.84h5.9v0.85h-5.9zM206.8 438.50h11.7v0.85h-11.7zM209.4 444.08h15.0v0.85h-15.0zM218.8 439.12h14.3v0.85h-14.3zM222.8 439.74h14.3v0.85h-14.3zM231.7 444.70h3.6v0.85h-3.6zM239.4 438.50h21.9v0.85h-21.9zM236.9 439.12h15.3v0.85h-15.3zM244.0 442.84h16.2v0.85h-16.2zM239.0 443.46h19.4v0.85h-19.4zM240.2 444.70h20.6v0.85h-20.6zM267.9 440.36h4.9v0.85h-4.9zM261.8 443.46h2.8v0.85h-2.8zM268.6 443.46h0.7v0.85h-0.7zM282.2 439.12h12.0v0.85h-12.0zM284.1 441.60h12.0v0.85h-12.0zM302.8 438.50h4.2v0.85h-4.2zM292.9 443.46h8.2v0.85h-8.2zM318.6 442.22h1.0v0.85h-1.0zM326.8 439.12h21.1v0.85h-21.1zM328.9 440.36h15.4v0.85h-15.4zM322.8 440.98h21.1v0.85h-21.1zM321.0 440.98h10.0v0.85h-10.0zM328.0 442.84h3.3v0.85h-3.3zM326.0 444.08h19.5v0.85h-19.5zM327.8 444.08h5.7v0.85h-5.7zM320.7 444.70h7.3v0.85h-7.3zM343.1 442.84h5.1v0.85h-5.1zM377.9 439.12h2.0v0.85h-2.0zM383.0 444.08h4.3v0.85h-4.3zM389.6 438.50h0.7v0.85h-0.7zM391.6 442.22h0.7v0.85h-0.7zM220.8 447.16h2.9v0.85h-2.9zM62.0 457.26h0.7v0.85h-0.7zM194.6 456.64h5.2v0.85h-5.2zM196.3 458.50h0.7v0.85h-0.7zM209.0 454.78h15.0v0.85h-15.0zM384.5 458.50h0.7v0.85h-0.7zM80.5 474.82h4.3v0.85h-4.3zM92.0 472.34h10.6v0.85h-10.6zM159.7 480.40h3.6v0.85h-3.6zM263.2 459.32h18.8v0.85h-18.8zM268.1 459.94h0.7v0.85h-0.7zM268.3 467.38h10.3v0.85h-10.3zM264.1 479.78h2.6v0.85h-2.6zM276.4 458.70h4.1v0.85h-4.1zM278.9 462.42h3.0v0.85h-3.0zM275.2 475.44h6.1v0.85h-6.1zM276.9 478.54h6.1v0.85h-6.1zM283.9 461.18h3.6v0.85h-3.6zM287.6 467.38h0.7v0.85h-0.7zM286.5 470.48h0.9v0.85h-0.9zM296.7 459.94h7.9v0.85h-7.9zM301.1 461.18h1.8v0.85h-1.8zM293.8 462.42h3.4v0.85h-3.4zM300.0 469.24h3.6v0.85h-3.6zM300.4 476.06h7.3v0.85h-7.3zM297.6 477.30h1.7v0.85h-1.7zM302.9 480.40h4.0v0.85h-4.0zM309.7 460.56h14.6v0.85h-14.6zM314.1 465.52h5.7v0.85h-5.7zM316.7 466.14h4.7v0.85h-4.7zM322.0 459.94h21.1v0.85h-21.1zM331.2 461.18h1.9v0.85h-1.9zM319.3 462.42h13.3v0.85h-13.3zM328.2 476.68h4.5v0.85h-4.5zM352.4 468.62h11.2v0.85h-11.2zM355.4 471.72h19.0v0.85h-19.0zM346.0 472.34h16.6v0.85h-16.6zM352.8 473.58h5.1v0.85h-5.1zM355.0 474.20h8.8v0.85h-8.8zM375.6 464.28h3.1v0.85h-3.1zM373.5 467.38h3.4v0.85h-3.4zM53.2 481.00h8.7v0.85h-8.7zM71.6 500.84h1.9v0.85h-1.9zM52.7 521.92h1.1v0.85h-1.1zM54.2 528.12h0.7v0.85h-0.7zM53.7 535.56h0.9v0.85h-0.9zM82.4 536.80h0.7v0.85h-0.7zM55.5 544.24h2.0v0.85h-2.0zM53.4 545.48h1.4v0.85h-1.4zM103.3 489.06h2.0v0.85h-2.0zM90.0 500.84h3.8v0.85h-3.8zM98.8 507.66h2.2v0.85h-2.2zM94.1 515.72h5.2v0.85h-5.2zM104.9 534.32h1.4v0.85h-1.4zM103.0 538.66h4.7v0.85h-4.7zM94.8 553.54h3.0v0.85h-3.0zM113.9 485.34h2.6v0.85h-2.6zM122.7 531.84h0.7v0.85h-0.7zM116.7 544.86h3.7v0.85h-3.7zM127.1 511.38h5.6v0.85h-5.6zM133.0 546.72h2.2v0.85h-2.2zM130.8 549.82h7.4v0.85h-7.4zM148.0 498.98h1.7v0.85h-1.7zM142.0 519.44h3.2v0.85h-3.2zM144.7 525.02h2.9v0.85h-2.9zM146.0 541.76h2.0v0.85h-2.0zM150.1 549.82h0.7v0.85h-0.7zM157.4 489.06h1.7v0.85h-1.7zM161.5 508.90h0.7v0.85h-0.7zM165.0 521.30h2.0v0.85h-2.0zM169.9 521.92h3.0v0.85h-3.0zM173.9 544.86h2.2v0.85h-2.2zM189.8 484.10h4.0v0.85h-4.0zM186.5 513.86h2.8v0.85h-2.8zM184.9 537.42h0.7v0.85h-0.7zM193.1 505.80h1.5v0.85h-1.5zM204.5 518.20h2.6v0.85h-2.6zM204.9 520.68h1.0v0.85h-1.0zM199.9 541.14h1.9v0.85h-1.9zM217.9 500.84h0.7v0.85h-0.7zM207.5 509.52h1.1v0.85h-1.1zM217.7 514.48h0.9v0.85h-0.9zM214.0 521.30h1.4v0.85h-1.4zM222.4 481.62h4.8v0.85h-4.8zM232.9 498.98h3.8v0.85h-3.8zM232.1 525.02h3.1v0.85h-3.1zM236.6 539.28h2.1v0.85h-2.1zM248.9 546.10h0.7v0.85h-0.7zM257.8 485.34h4.4v0.85h-4.4zM260.0 488.44h1.1v0.85h-1.1zM259.5 506.42h4.9v0.85h-4.9zM258.6 507.04h6.4v0.85h-6.4zM279.6 507.66h4.3v0.85h-4.3zM291.6 489.06h4.1v0.85h-4.1zM291.0 507.66h2.0v0.85h-2.0zM289.2 510.76h1.7v0.85h-1.7zM291.9 528.74h0.7v0.85h-0.7zM282.6 552.30h1.5v0.85h-1.5zM282.6 553.54h0.7v0.85h-0.7zM306.9 518.82h0.7v0.85h-0.7zM295.6 525.02h6.3v0.85h-6.3zM300.5 526.26h0.9v0.85h-0.9zM303.4 534.32h0.7v0.85h-0.7zM295.4 541.14h1.3v0.85h-1.3zM304.0 546.72h4.6v0.85h-4.6zM302.3 547.34h1.3v0.85h-1.3zM307.0 551.06h1.0v0.85h-1.0zM296.5 556.64h4.3v0.85h-4.3zM305.7 558.50h1.4v0.85h-1.4zM318.6 561.60h1.7v0.85h-1.7zM327.5 502.08h3.9v0.85h-3.9zM338.7 513.24h0.7v0.85h-0.7zM326.1 542.38h11.5v0.85h-11.5zM336.3 562.84h4.1v0.85h-4.1zM344.0 523.78h5.1v0.85h-5.1zM344.6 535.56h2.6v0.85h-2.6zM366.7 482.24h0.7v0.85h-0.7zM359.4 498.36h0.7v0.85h-0.7zM369.8 541.76h1.2v0.85h-1.2zM365.6 543.62h3.5v0.85h-3.5zM358.5 552.92h8.4v0.85h-8.4zM373.6 516.34h1.5v0.85h-1.5zM375.4 518.20h2.2v0.85h-2.2zM384.1 507.04h0.7v0.85h-0.7zM382.8 552.30h4.3v0.85h-4.3zM387.0 486.58h4.0v0.85h-4.0zM391.9 531.22h1.7v0.85h-1.7zM393.7 538.66h2.8v0.85h-2.8zM49.5 497.00h15.5v0.80h-15.5zM194.0 529.00h11.0v0.90h-11.0zM221.5 492.40h18.5v0.80h-18.5zM221.5 534.00h18.5v0.80h-18.5zM176.5 500.00h16.9v0.80h-16.9z"/>
<path fill="#7a3ab0" d="M388.0 340.20h8.5v0.80h-8.5z"/>
<path fill="#e01010" d="M68.4 282.92h4.3v0.85h-4.3zM57.7 284.16h1.3v0.85h-1.3zM59.3 286.02h1.6v0.85h-1.6zM52.6 287.88h1.7v0.85h-1.7zM105.1 282.92h1.1v0.85h-1.1zM107.8 283.54h0.7v0.85h-0.7zM103.8 287.26h2.6v0.85h-2.6zM122.2 282.92h1.2v0.85h-1.2zM125.5 283.54h2.0v0.85h-2.0zM113.6 283.54h0.7v0.85h-0.7zM122.8 285.40h7.2v0.85h-7.2zM126.9 286.02h2.3v0.85h-2.3zM120.5 286.64h9.5v0.85h-9.5zM117.8 287.26h5.2v0.85h-5.2zM115.9 287.88h8.0v0.85h-8.0zM123.1 288.50h5.7v0.85h-5.7zM142.2 288.50h6.4v0.85h-6.4zM155.7 282.92h8.9v0.85h-8.9zM176.5 282.30h16.9v0.85h-16.9zM176.5 282.92h16.9v0.85h-16.9zM176.5 284.16h16.9v0.85h-16.9zM176.5 284.78h16.9v0.85h-16.9zM176.5 285.40h16.9v0.85h-16.9zM176.5 286.02h16.9v0.85h-16.9zM176.5 286.64h16.9v0.85h-16.9zM176.5 287.26h16.9v0.85h-16.9zM176.5 287.88h16.9v0.85h-16.9zM176.5 288.50h16.9v0.85h-16.9zM199.5 284.16h8.4v0.85h-8.4zM196.2 284.16h7.7v0.85h-7.7zM200.9 286.64h5.7v0.85h-5.7zM197.6 286.64h3.1v0.85h-3.1zM198.0 286.64h2.8v0.85h-2.8zM201.2 287.88h5.5v0.85h-5.5zM317.9 287.26h5.0v0.85h-5.0zM339.3 282.30h0.7v0.85h-0.7zM66.6 290.04h11.9v0.85h-11.9zM72.8 302.44h2.1v0.85h-2.1zM79.6 304.30h6.7v0.85h-6.7zM100.3 296.86h0.9v0.85h-0.9zM108.3 290.66h1.6v0.85h-1.6zM108.0 293.14h3.2v0.85h-3.2zM110.8 296.86h7.9v0.85h-7.9zM111.9 298.72h0.7v0.85h-0.7zM111.6 300.58h0.7v0.85h-0.7zM125.2 304.30h2.3v0.85h-2.3zM110.4 304.30h6.9v0.85h-6.9zM112.0 304.92h8.1v0.85h-8.1zM106.9 304.92h18.8v0.85h-18.8zM151.1 304.92h2.1v0.85h-2.1zM173.6 291.90h1.2v0.85h-1.2zM192.3 290.04h1.3v0.85h-1.3zM185.0 291.90h0.8v0.85h-0.8zM181.0 295.00h1.4v0.85h-1.4zM171.6 297.48h16.5v0.85h-16.5zM180.6 298.10h4.1v0.85h-4.1zM180.1 299.96h1.6v0.85h-1.6zM188.9 303.06h0.8v0.85h-0.8zM179.8 305.54h6.9v0.85h-6.9zM173.4 306.78h16.9v0.85h-16.9zM198.1 289.42h8.4v0.85h-8.4zM198.1 292.52h8.4v0.85h-8.4zM198.1 293.14h8.4v0.85h-8.4zM198.1 293.76h8.4v0.85h-8.4zM198.1 294.38h8.4v0.85h-8.4zM198.1 295.62h8.4v0.85h-8.4zM198.1 296.24h8.4v0.85h-8.4zM198.1 296.86h8.4v0.85h-8.4zM198.1 297.48h8.4v0.85h-8.4zM198.1 298.10h8.4v0.85h-8.4zM198.1 298.72h8.4v0.85h-8.4zM198.1 299.34h8.4v0.85h-8.4zM198.1 299.96h8.4v0.85h-8.4zM198.1 301.20h8.4v0.85h-8.4zM198.1 301.82h8.4v0.85h-8.4zM198.1 302.44h8.4v0.85h-8.4zM198.1 303.68h8.4v0.85h-8.4zM198.1 304.30h8.4v0.85h-8.4zM198.1 304.92h8.4v0.85h-8.4zM198.1 306.16h8.4v0.85h-8.4zM198.1 307.40h8.4v0.85h-8.4zM210.1 303.06h5.4v0.85h-5.4zM228.5 292.52h2.7v0.85h-2.7zM224.9 307.40h2.6v0.85h-2.6zM242.4 290.66h3.1v0.85h-3.1zM255.5 289.42h10.8v0.85h-10.8zM290.3 303.06h0.7v0.85h-0.7zM291.5 304.30h0.7v0.85h-0.7zM297.0 289.42h4.0v0.85h-4.0zM295.3 297.48h2.4v0.85h-2.4zM303.7 298.10h1.5v0.85h-1.5zM309.9 304.30h0.8v0.85h-0.8zM330.5 291.28h3.2v0.85h-3.2zM355.6 290.04h0.7v0.85h-0.7zM362.4 303.68h0.7v0.85h-0.7zM373.4 294.38h0.7v0.85h-0.7zM395.9 304.30h0.6v0.85h-0.6zM141.7 310.70h3.6v0.85h-3.6zM187.8 311.32h2.6v0.85h-2.6zM199.7 309.46h2.5v0.85h-2.5zM205.8 310.08h0.7v0.85h-0.7zM196.5 311.32h6.8v0.85h-6.8zM198.9 311.94h1.1v0.85h-1.1zM200.1 313.18h5.4v0.85h-5.4zM290.1 312.56h1.7v0.85h-1.7zM296.3 310.70h1.1v0.85h-1.1zM307.6 315.04h6.0v0.85h-6.0zM317.8 309.46h4.4v0.85h-4.4zM316.5 311.94h6.2v0.85h-6.2zM336.4 310.08h2.8v0.85h-2.8zM332.2 313.80h4.7v0.85h-4.7zM362.9 311.94h1.6v0.85h-1.6zM378.3 309.46h0.7v0.85h-0.7zM374.3 311.32h0.7v0.85h-0.7zM77.2 351.00h1.8v0.85h-1.8zM97.3 346.66h0.9v0.85h-0.9zM121.0 318.14h1.8v0.85h-1.8zM108.7 328.06h2.4v0.85h-2.4zM111.4 350.38h2.8v0.85h-2.8zM154.9 318.76h0.7v0.85h-0.7zM172.3 349.14h0.7v0.85h-0.7zM179.5 345.42h0.7v0.85h-0.7zM199.0 316.90h2.2v0.85h-2.2zM203.7 320.00h3.2v0.85h-3.2zM198.1 320.00h0.7v0.85h-0.7zM199.0 336.12h0.7v0.85h-0.7zM202.6 347.90h4.8v0.85h-4.8zM223.7 333.64h7.8v0.85h-7.8zM242.0 339.22h2.2v0.85h-2.2zM277.2 329.30h3.6v0.85h-3.6zM302.3 329.30h0.7v0.85h-0.7zM323.2 336.12h0.7v0.85h-0.7zM330.0 338.60h1.2v0.85h-1.2zM343.4 346.66h5.1v0.85h-5.1zM358.0 329.92h0.7v0.85h-0.7zM107.2 370.72h1.2v0.85h-1.2zM96.0 388.70h0.7v0.85h-0.7zM97.5 401.72h0.7v0.85h-0.7zM115.3 363.90h0.7v0.85h-0.7zM138.7 366.38h1.2v0.85h-1.2zM145.7 409.16h0.7v0.85h-0.7zM173.3 356.46h0.7v0.85h-0.7zM176.7 353.36h2.5v0.85h-2.5zM203.9 375.68h1.8v0.85h-1.8zM203.9 376.92h2.9v0.85h-2.9zM228.9 383.12h3.8v0.85h-3.8zM231.7 398.62h3.3v0.85h-3.3zM244.5 380.02h1.0v0.85h-1.0zM277.1 388.70h0.8v0.85h-0.8zM279.9 396.76h0.7v0.85h-0.7zM281.6 404.20h1.3v0.85h-1.3zM315.7 357.70h4.3v0.85h-4.3zM335.5 384.98h2.3v0.85h-2.3zM395.5 393.66h1.0v0.85h-1.0zM66.0 293.30h19.5v0.90h-19.5zM66.0 301.80h19.5v0.90h-19.5zM118.0 295.40h10.5v3.90h-10.5zM118.0 303.00h10.5v1.00h-10.5zM49.5 431.40h36.0v0.85h-36.0zM49.5 432.64h36.0v0.85h-36.0zM85.5 431.40h23.0v0.85h-23.0zM85.5 432.64h23.0v0.85h-23.0zM108.5 431.40h20.0v0.85h-20.0zM108.5 432.02h20.0v0.85h-20.0zM108.5 432.64h20.0v0.85h-20.0zM128.5 432.02h13.3v0.85h-13.3zM141.8 431.40h15.9v0.85h-15.9zM141.8 432.02h15.9v0.85h-15.9zM141.8 432.64h15.9v0.85h-15.9zM157.7 431.40h18.8v0.85h-18.8zM157.7 432.02h18.8v0.85h-18.8zM157.7 432.64h18.8v0.85h-18.8zM176.5 432.02h16.9v0.85h-16.9zM176.5 432.64h16.9v0.85h-16.9zM193.4 431.40h13.1v0.85h-13.1zM193.4 432.02h13.1v0.85h-13.1zM193.4 432.64h13.1v0.85h-13.1zM206.5 431.40h15.0v0.85h-15.0zM206.5 432.02h15.0v0.85h-15.0zM206.5 432.64h15.0v0.85h-15.0zM221.5 431.40h14.3v0.85h-14.3zM221.5 432.02h14.3v0.85h-14.3zM221.5 432.64h14.3v0.85h-14.3zM235.8 431.40h21.9v0.85h-21.9zM235.8 432.02h21.9v0.85h-21.9zM235.8 432.64h21.9v0.85h-21.9zM257.7 431.40h18.8v0.85h-18.8zM257.7 432.02h18.8v0.85h-18.8zM257.7 432.64h18.8v0.85h-18.8zM276.5 431.40h6.1v0.85h-6.1zM276.5 432.02h6.1v0.85h-6.1zM276.5 432.64h6.1v0.85h-6.1zM282.6 431.40h12.0v0.85h-12.0zM282.6 432.02h12.0v0.85h-12.0zM282.6 432.64h12.0v0.85h-12.0zM294.6 431.40h13.1v0.85h-13.1zM294.6 432.02h13.1v0.85h-13.1zM294.6 432.64h13.1v0.85h-13.1zM307.7 431.40h14.6v0.85h-14.6zM307.7 432.02h14.6v0.85h-14.6zM307.7 432.64h14.6v0.85h-14.6zM322.3 432.02h21.1v0.85h-21.1zM322.3 432.64h21.1v0.85h-21.1zM343.4 431.40h5.1v0.85h-5.1zM343.4 432.02h5.1v0.85h-5.1zM343.4 432.64h5.1v0.85h-5.1zM348.5 431.40h25.0v0.85h-25.0zM348.5 432.02h25.0v0.85h-25.0zM348.5 432.64h25.0v0.85h-25.0zM373.5 431.40h9.9v0.85h-9.9zM373.5 432.02h9.9v0.85h-9.9zM373.5 432.64h9.9v0.85h-9.9zM383.4 431.40h4.3v0.85h-4.3zM383.4 432.02h4.3v0.85h-4.3zM383.4 432.64h4.3v0.85h-4.3zM387.7 431.40h8.8v0.85h-8.8zM387.7 432.02h8.8v0.85h-8.8zM387.7 432.64h8.8v0.85h-8.8zM60.7 432.80h1.8v0.85h-1.8zM59.8 432.80h17.0v0.85h-17.0zM62.3 433.42h28.3v0.85h-28.3zM55.0 434.66h10.4v0.85h-10.4zM58.1 435.28h3.3v0.85h-3.3zM57.2 435.90h8.3v0.85h-8.3zM53.8 435.90h13.1v0.85h-13.1zM60.8 437.14h17.7v0.85h-17.7zM61.5 437.14h20.1v0.85h-20.1zM67.8 437.76h12.8v0.85h-12.8zM53.3 437.76h3.9v0.85h-3.9zM71.4 438.38h8.5v0.85h-8.5zM101.8 435.90h5.6v0.85h-5.6zM80.7 436.52h23.0v0.85h-23.0zM112.9 437.14h0.7v0.85h-0.7zM116.0 437.14h9.6v0.85h-9.6zM135.6 435.90h4.8v0.85h-4.8zM146.8 435.90h1.0v0.85h-1.0zM144.6 436.52h15.4v0.85h-15.4zM156.9 434.66h18.8v0.85h-18.8zM155.7 437.14h18.8v0.85h-18.8zM158.7 437.14h17.8v0.85h-17.8zM170.7 438.38h1.4v0.85h-1.4zM174.5 432.80h10.1v0.85h-10.1zM173.7 434.66h15.6v0.85h-15.6zM173.6 435.28h16.9v0.85h-16.9zM198.3 435.28h1.9v0.85h-1.9zM196.8 435.90h13.1v0.85h-13.1zM189.5 436.52h13.1v0.85h-13.1zM204.7 433.42h15.0v0.85h-15.0zM205.4 434.66h15.0v0.85h-15.0zM209.7 435.28h10.2v0.85h-10.2zM215.5 435.28h2.7v0.85h-2.7zM208.9 437.76h4.1v0.85h-4.1zM232.9 433.42h0.7v0.85h-0.7zM226.8 435.28h11.3v0.85h-11.3zM217.5 435.90h14.3v0.85h-14.3zM243.1 432.80h14.0v0.85h-14.0zM245.5 433.42h9.7v0.85h-9.7zM237.8 433.42h16.3v0.85h-16.3zM229.8 434.04h21.9v0.85h-21.9zM240.9 435.90h4.2v0.85h-4.2zM259.4 433.42h18.8v0.85h-18.8zM260.3 438.38h1.9v0.85h-1.9zM278.0 437.14h6.1v0.85h-6.1zM280.8 436.52h12.0v0.85h-12.0zM285.2 437.14h3.8v0.85h-3.8zM286.0 438.38h11.6v0.85h-11.6zM280.3 438.38h10.5v0.85h-10.5zM300.1 435.28h4.5v0.85h-4.5zM301.7 436.52h2.0v0.85h-2.0zM295.0 438.38h4.5v0.85h-4.5zM311.7 437.76h14.6v0.85h-14.6zM332.2 432.80h15.2v0.85h-15.2zM319.5 433.42h11.6v0.85h-11.6zM322.3 433.42h21.1v0.85h-21.1zM328.8 434.66h0.7v0.85h-0.7zM322.1 434.66h5.2v0.85h-5.2zM319.3 435.28h21.1v0.85h-21.1zM334.1 436.52h1.8v0.85h-1.8zM330.4 437.14h5.9v0.85h-5.9zM327.3 438.38h3.3v0.85h-3.3zM328.6 438.38h1.6v0.85h-1.6zM348.5 432.80h25.0v0.85h-25.0zM348.5 433.42h25.0v0.85h-25.0zM348.5 435.28h25.0v0.85h-25.0zM348.5 436.52h25.0v0.85h-25.0zM348.5 437.14h25.0v0.85h-25.0zM348.5 438.38h25.0v0.85h-25.0zM373.9 432.80h9.9v0.85h-9.9zM379.0 434.04h1.8v0.85h-1.8zM376.0 434.66h9.7v0.85h-9.7zM382.9 437.76h4.3v0.85h-4.3zM384.2 438.38h4.3v0.85h-4.3zM395.4 433.42h0.8v0.85h-0.8zM394.7 438.38h1.1v0.85h-1.1zM144.1 438.50h2.8v0.85h-2.8zM162.2 440.98h15.5v0.85h-15.5zM177.5 442.84h2.9v0.85h-2.9zM205.5 442.84h13.3v0.85h-13.3zM238.2 444.08h21.9v0.85h-21.9zM263.1 444.08h1.5v0.85h-1.5zM58.2 445.30h27.0v0.85h-27.0zM49.5 445.92h21.9v0.85h-21.9zM54.8 445.92h27.1v0.85h-27.1zM72.8 446.54h0.7v0.85h-0.7zM58.4 447.16h1.6v0.85h-1.6zM56.4 447.16h15.6v0.85h-15.6zM66.1 447.16h13.6v0.85h-13.6zM78.6 447.78h2.9v0.85h-2.9zM49.5 448.40h18.6v0.85h-18.6zM56.0 449.02h18.0v0.85h-18.0zM103.2 445.30h1.8v0.85h-1.8zM97.5 445.30h5.6v0.85h-5.6zM86.1 447.78h6.9v0.85h-6.9zM110.1 445.30h15.6v0.85h-15.6zM104.9 448.40h20.0v0.85h-20.0zM108.4 449.02h20.0v0.85h-20.0zM128.3 447.16h5.2v0.85h-5.2zM137.2 447.78h0.7v0.85h-0.7zM131.8 449.02h5.1v0.85h-5.1zM146.4 445.30h0.7v0.85h-0.7zM143.8 446.54h15.9v0.85h-15.9zM138.9 446.54h15.9v0.85h-15.9zM153.4 448.40h2.8v0.85h-2.8zM140.3 449.02h15.9v0.85h-15.9zM163.1 445.92h8.3v0.85h-8.3zM160.5 445.92h18.5v0.85h-18.5zM170.1 445.92h6.0v0.85h-6.0zM167.8 446.54h5.8v0.85h-5.8zM159.0 446.54h6.0v0.85h-6.0zM160.3 448.40h18.8v0.85h-18.8zM157.5 448.40h6.3v0.85h-6.3zM164.4 449.02h8.4v0.85h-8.4zM176.7 445.30h6.4v0.85h-6.4zM186.1 445.30h6.2v0.85h-6.2zM174.5 447.16h7.9v0.85h-7.9zM181.7 447.16h3.9v0.85h-3.9zM196.4 449.02h2.9v0.85h-2.9zM194.1 449.02h4.8v0.85h-4.8zM209.7 445.30h15.0v0.85h-15.0zM211.8 445.92h0.9v0.85h-0.9zM204.5 447.16h14.0v0.85h-14.0zM208.8 447.78h12.0v0.85h-12.0zM226.1 445.30h4.9v0.85h-4.9zM221.3 445.92h14.3v0.85h-14.3zM221.1 445.92h14.2v0.85h-14.2zM218.4 446.54h14.3v0.85h-14.3zM224.6 448.40h14.3v0.85h-14.3zM227.3 448.40h7.7v0.85h-7.7zM231.6 449.02h5.3v0.85h-5.3zM236.2 445.30h11.0v0.85h-11.0zM252.4 445.92h1.8v0.85h-1.8zM242.1 447.16h21.9v0.85h-21.9zM232.7 447.78h21.9v0.85h-21.9zM254.1 448.40h1.6v0.85h-1.6zM258.6 446.54h11.7v0.85h-11.7zM256.1 447.16h12.0v0.85h-12.0zM260.9 448.40h2.7v0.85h-2.7zM284.2 447.78h12.0v0.85h-12.0zM293.9 445.30h13.1v0.85h-13.1zM318.5 447.16h4.8v0.85h-4.8zM307.9 447.78h14.6v0.85h-14.6zM314.9 448.40h7.9v0.85h-7.9zM318.3 449.02h5.7v0.85h-5.7zM329.1 445.30h9.0v0.85h-9.0zM329.1 445.30h10.5v0.85h-10.5zM323.4 445.30h7.6v0.85h-7.6zM341.3 445.92h0.7v0.85h-0.7zM319.1 445.92h14.2v0.85h-14.2zM326.3 445.92h12.0v0.85h-12.0zM329.2 447.16h6.7v0.85h-6.7zM325.1 447.16h4.2v0.85h-4.2zM327.3 447.16h4.6v0.85h-4.6zM343.2 446.54h5.1v0.85h-5.1zM345.3 447.16h2.3v0.85h-2.3zM348.5 445.92h25.0v0.85h-25.0zM348.5 447.78h25.0v0.85h-25.0zM373.7 449.02h6.1v0.85h-6.1zM378.3 449.02h2.1v0.85h-2.1zM383.4 449.02h4.3v0.85h-4.3zM390.3 445.30h6.2v0.85h-6.2zM391.4 446.54h5.1v0.85h-5.1zM391.8 447.78h0.7v0.85h-0.7zM387.2 447.78h8.8v0.85h-8.8zM388.7 449.02h7.8v0.85h-7.8zM49.7 450.44h5.3v0.85h-5.3zM54.7 451.68h3.3v0.85h-3.3zM71.6 454.78h16.5v0.85h-16.5zM105.5 454.78h4.1v0.85h-4.1zM116.1 450.44h0.7v0.85h-0.7zM132.9 452.92h12.7v0.85h-12.7zM146.3 452.30h0.7v0.85h-0.7zM157.8 457.26h4.6v0.85h-4.6zM161.9 458.50h7.4v0.85h-7.4zM176.5 449.82h16.9v0.85h-16.9zM176.5 450.44h16.9v0.85h-16.9zM176.5 451.06h16.9v0.85h-16.9zM176.5 451.68h16.9v0.85h-16.9zM176.5 452.30h16.9v0.85h-16.9zM176.5 452.92h16.9v0.85h-16.9zM176.5 453.54h16.9v0.85h-16.9zM176.5 454.16h16.9v0.85h-16.9zM176.5 454.78h16.9v0.85h-16.9zM176.5 455.40h16.9v0.85h-16.9zM176.5 456.02h16.9v0.85h-16.9zM176.5 456.64h16.9v0.85h-16.9zM176.5 457.26h16.9v0.85h-16.9zM176.5 457.88h16.9v0.85h-16.9zM176.5 458.50h16.9v0.85h-16.9zM202.7 453.54h4.8v0.85h-4.8zM197.8 453.54h7.9v0.85h-7.9zM204.4 455.40h2.7v0.85h-2.7zM198.1 456.64h7.9v0.85h-7.9zM198.3 457.26h3.1v0.85h-3.1zM207.3 451.06h5.8v0.85h-5.8zM215.0 454.78h6.8v0.85h-6.8zM235.0 449.20h1.0v0.85h-1.0zM229.2 452.30h5.7v0.85h-5.7zM223.3 457.26h1.5v0.85h-1.5zM306.9 449.20h0.7v0.85h-0.7zM318.1 456.02h0.7v0.85h-0.7zM307.9 457.88h0.7v0.85h-0.7zM324.1 450.44h12.2v0.85h-12.2zM328.8 456.64h3.9v0.85h-3.9zM368.8 450.44h2.5v0.85h-2.5zM363.5 458.50h2.4v0.85h-2.4zM385.4 453.54h8.8v0.85h-8.8zM392.1 455.40h3.5v0.85h-3.5zM69.1 461.18h9.4v0.85h-9.4zM58.6 464.90h36.0v0.85h-36.0zM80.9 470.48h2.6v0.85h-2.6zM84.1 474.20h1.9v0.85h-1.9zM67.8 477.30h2.4v0.85h-2.4zM59.1 480.40h3.9v0.85h-3.9zM97.0 468.00h7.2v0.85h-7.2zM91.6 469.86h0.7v0.85h-0.7zM114.2 461.18h6.8v0.85h-6.8zM109.3 463.66h7.2v0.85h-7.2zM121.7 464.28h6.0v0.85h-6.0zM111.4 474.82h6.5v0.85h-6.5zM118.4 477.30h12.3v0.85h-12.3zM130.4 463.04h1.4v0.85h-1.4zM128.7 475.44h13.3v0.85h-13.3zM127.8 475.44h13.3v0.85h-13.3zM127.0 477.92h12.0v0.85h-12.0zM139.4 479.78h2.2v0.85h-2.2zM144.1 461.80h1.6v0.85h-1.6zM143.0 463.66h0.7v0.85h-0.7zM144.2 464.28h0.7v0.85h-0.7zM143.7 464.90h15.9v0.85h-15.9zM143.3 464.90h15.9v0.85h-15.9zM146.0 469.24h2.5v0.85h-2.5zM148.2 475.44h13.5v0.85h-13.5zM142.0 476.06h1.9v0.85h-1.9zM148.1 478.54h0.7v0.85h-0.7zM166.9 462.42h2.8v0.85h-2.8zM157.4 464.90h10.6v0.85h-10.6zM161.6 466.76h4.1v0.85h-4.1zM157.2 475.44h15.1v0.85h-15.1zM175.1 479.78h1.7v0.85h-1.7zM157.5 479.78h1.8v0.85h-1.8zM190.2 469.24h1.5v0.85h-1.5zM190.7 469.86h2.8v0.85h-2.8zM180.5 469.86h2.9v0.85h-2.9zM184.5 472.34h4.8v0.85h-4.8zM186.4 472.34h3.8v0.85h-3.8zM188.7 474.20h2.8v0.85h-2.8zM179.7 479.78h3.6v0.85h-3.6zM181.7 480.40h3.8v0.85h-3.8zM192.7 461.80h5.2v0.85h-5.2zM196.4 462.42h7.9v0.85h-7.9zM200.1 466.76h4.0v0.85h-4.0zM200.4 466.76h7.9v0.85h-7.9zM198.3 466.76h2.1v0.85h-2.1zM197.5 467.38h7.4v0.85h-7.4zM200.7 470.48h2.5v0.85h-2.5zM202.0 471.72h3.2v0.85h-3.2zM201.5 472.34h2.6v0.85h-2.6zM201.6 472.96h5.5v0.85h-5.5zM199.6 474.82h6.0v0.85h-6.0zM200.0 477.92h7.9v0.85h-7.9zM196.7 479.78h7.9v0.85h-7.9zM204.6 460.56h15.0v0.85h-15.0zM211.0 461.18h10.1v0.85h-10.1zM213.4 469.24h5.8v0.85h-5.8zM205.9 475.44h4.7v0.85h-4.7zM211.6 479.78h0.8v0.85h-0.8zM231.7 463.66h0.7v0.85h-0.7zM222.9 468.62h4.8v0.85h-4.8zM220.7 469.24h6.3v0.85h-6.3zM221.8 474.20h14.3v0.85h-14.3zM246.3 458.70h0.7v0.85h-0.7zM248.5 464.28h2.2v0.85h-2.2zM251.5 464.28h6.1v0.85h-6.1zM241.6 464.90h7.2v0.85h-7.2zM239.8 465.52h1.2v0.85h-1.2zM245.6 466.76h10.4v0.85h-10.4zM235.4 469.86h14.1v0.85h-14.1zM247.4 469.86h14.6v0.85h-14.6zM245.9 473.58h0.8v0.85h-0.8zM246.0 475.44h2.1v0.85h-2.1zM273.8 462.42h1.2v0.85h-1.2zM258.8 471.72h6.0v0.85h-6.0zM259.2 476.06h0.7v0.85h-0.7zM262.5 479.78h2.0v0.85h-2.0zM287.1 461.18h10.1v0.85h-10.1zM283.2 461.80h1.4v0.85h-1.4zM283.7 466.76h1.2v0.85h-1.2zM283.3 467.38h4.4v0.85h-4.4zM282.9 472.34h3.7v0.85h-3.7zM284.5 478.54h9.9v0.85h-9.9zM282.1 478.54h12.0v0.85h-12.0zM291.7 461.80h13.1v0.85h-13.1zM301.8 464.28h4.1v0.85h-4.1zM296.0 475.44h3.3v0.85h-3.3zM319.0 462.42h0.7v0.85h-0.7zM332.8 463.04h0.9v0.85h-0.9zM324.6 466.14h3.2v0.85h-3.2zM325.1 468.00h1.9v0.85h-1.9zM326.8 469.86h2.4v0.85h-2.4zM335.4 477.92h3.8v0.85h-3.8zM337.1 479.78h4.3v0.85h-4.3zM369.6 461.80h2.3v0.85h-2.3zM367.8 466.76h2.7v0.85h-2.7zM358.2 469.24h13.4v0.85h-13.4zM355.4 472.34h4.6v0.85h-4.6zM345.5 473.58h25.0v0.85h-25.0zM382.1 460.56h0.8v0.85h-0.8zM373.4 469.86h1.6v0.85h-1.6zM376.4 469.86h1.3v0.85h-1.3zM382.2 470.48h0.8v0.85h-0.8zM379.9 477.30h4.3v0.85h-4.3zM384.3 469.24h4.3v0.85h-4.3zM384.5 476.06h4.3v0.85h-4.3zM395.1 463.04h0.9v0.85h-0.9zM389.3 466.76h3.0v0.85h-3.0zM390.2 476.06h3.0v0.85h-3.0zM61.6 516.34h2.0v0.85h-2.0zM75.9 554.16h4.9v0.85h-4.9zM66.1 565.32h0.7v0.85h-0.7zM98.2 502.08h0.7v0.85h-0.7zM104.6 528.12h2.3v0.85h-2.3zM103.9 533.70h1.0v0.85h-1.0zM108.6 482.24h0.7v0.85h-0.7zM111.3 494.64h0.7v0.85h-0.7zM130.1 492.78h3.5v0.85h-3.5zM129.6 520.06h5.3v0.85h-5.3zM134.0 547.96h2.5v0.85h-2.5zM147.2 518.20h4.9v0.85h-4.9zM172.1 512.00h2.1v0.85h-2.1zM185.2 501.46h2.0v0.85h-2.0zM176.7 518.20h0.7v0.85h-0.7zM183.8 543.62h3.7v0.85h-3.7zM186.4 546.10h1.0v0.85h-1.0zM201.9 513.86h0.7v0.85h-0.7zM200.1 555.40h3.5v0.85h-3.5zM196.8 556.64h7.9v0.85h-7.9zM203.8 562.22h1.1v0.85h-1.1zM198.1 565.32h2.3v0.85h-2.3zM218.3 513.24h0.9v0.85h-0.9zM207.6 559.74h0.7v0.85h-0.7zM225.8 485.34h0.7v0.85h-0.7zM230.6 508.28h3.4v0.85h-3.4zM244.0 507.04h0.7v0.85h-0.7zM241.2 509.52h1.3v0.85h-1.3zM238.4 514.48h0.9v0.85h-0.9zM241.4 528.74h2.5v0.85h-2.5zM249.0 536.18h1.6v0.85h-1.6zM257.4 492.78h1.9v0.85h-1.9zM290.9 552.30h1.8v0.85h-1.8zM294.4 505.18h2.7v0.85h-2.7zM302.7 520.68h0.7v0.85h-0.7zM304.4 536.80h0.7v0.85h-0.7zM300.0 565.32h6.8v0.85h-6.8zM314.9 559.12h0.7v0.85h-0.7zM324.6 484.72h4.8v0.85h-4.8zM331.8 515.72h1.1v0.85h-1.1zM359.6 487.20h0.7v0.85h-0.7zM365.8 490.92h1.1v0.85h-1.1zM354.3 492.16h2.8v0.85h-2.8zM356.6 532.46h0.7v0.85h-0.7zM356.2 556.64h1.0v0.85h-1.0zM364.7 560.36h2.8v0.85h-2.8zM373.9 496.50h0.7v0.85h-0.7zM381.3 523.78h1.0v0.85h-1.0zM388.2 488.44h0.7v0.85h-0.7zM394.2 497.74h0.7v0.85h-0.7zM391.9 514.48h1.7v0.85h-1.7zM393.7 555.40h0.7v0.85h-0.7zM199.0 474.00h7.5v4.00h-7.5z"/>
<path fill="#a80c0c" d="M108.5 297.60h7.0v1.30h-7.0z"/>
<path fill="#1010f0" d="M53.1 283.54h5.7v0.85h-5.7zM134.2 286.64h0.7v0.85h-0.7zM140.2 282.92h6.3v0.85h-6.3zM146.9 286.64h10.8v0.85h-10.8zM146.7 287.88h5.8v0.85h-5.8zM168.7 282.92h1.9v0.85h-1.9zM169.1 283.54h1.1v0.85h-1.1zM168.3 283.54h3.0v0.85h-3.0zM170.1 286.02h1.3v0.85h-1.3zM168.9 286.64h2.1v0.85h-2.1zM169.6 287.26h1.4v0.85h-1.4zM193.4 282.92h4.7v0.85h-4.7zM193.4 284.16h4.7v0.85h-4.7zM193.4 284.78h4.7v0.85h-4.7zM193.4 285.40h4.7v0.85h-4.7zM193.4 286.02h4.7v0.85h-4.7zM193.4 286.64h4.7v0.85h-4.7zM193.4 287.26h4.7v0.85h-4.7zM193.4 287.88h4.7v0.85h-4.7zM193.4 288.50h4.7v0.85h-4.7zM219.8 287.88h1.9v0.85h-1.9zM228.7 282.92h0.7v0.85h-0.7zM229.2 283.54h1.2v0.85h-1.2zM224.9 284.16h3.9v0.85h-3.9zM229.9 284.16h4.0v0.85h-4.0zM225.1 284.78h0.7v0.85h-0.7zM221.6 284.78h3.9v0.85h-3.9zM223.5 285.40h2.6v0.85h-2.6zM220.0 287.88h14.3v0.85h-14.3zM233.6 288.50h0.7v0.85h-0.7zM229.2 288.50h0.7v0.85h-0.7zM277.5 284.78h0.7v0.85h-0.7zM277.4 287.26h0.7v0.85h-0.7zM277.2 287.88h1.0v0.85h-1.0zM279.5 288.50h3.2v0.85h-3.2zM311.4 286.02h1.4v0.85h-1.4zM313.3 282.92h7.0v0.85h-7.0zM319.5 282.92h0.7v0.85h-0.7zM316.4 283.54h0.7v0.85h-0.7zM317.6 283.54h0.7v0.85h-0.7zM317.1 286.02h0.7v0.85h-0.7zM314.3 286.02h4.2v0.85h-4.2zM314.8 286.02h3.8v0.85h-3.8zM315.0 286.64h2.8v0.85h-2.8zM316.5 287.26h0.7v0.85h-0.7zM338.2 282.30h2.6v0.85h-2.6zM384.5 285.40h2.3v0.85h-2.3zM73.2 292.52h1.9v0.85h-1.9zM78.0 304.92h1.6v0.85h-1.6zM84.1 299.34h7.2v0.85h-7.2zM101.1 307.40h1.5v0.85h-1.5zM110.2 298.72h16.2v0.85h-16.2zM142.8 288.80h1.8v0.85h-1.8zM155.0 296.86h2.4v0.85h-2.4zM149.8 299.34h4.7v0.85h-4.7zM143.4 304.92h1.8v0.85h-1.8zM168.9 290.04h2.7v0.85h-2.7zM169.2 290.04h2.8v0.85h-2.8zM169.5 291.90h0.7v0.85h-0.7zM168.8 292.52h3.0v0.85h-3.0zM169.6 293.14h3.0v0.85h-3.0zM170.9 294.38h0.7v0.85h-0.7zM169.4 295.00h3.0v0.85h-3.0zM168.8 297.48h3.0v0.85h-3.0zM171.0 299.96h0.7v0.85h-0.7zM169.9 301.20h0.7v0.85h-0.7zM168.9 301.82h3.0v0.85h-3.0zM168.8 303.68h3.0v0.85h-3.0zM170.8 303.68h0.7v0.85h-0.7zM169.0 304.30h1.3v0.85h-1.3zM168.7 306.16h3.0v0.85h-3.0zM193.4 288.80h4.7v0.85h-4.7zM193.4 289.42h4.7v0.85h-4.7zM193.4 290.04h4.7v0.85h-4.7zM193.4 290.66h4.7v0.85h-4.7zM193.4 291.28h4.7v0.85h-4.7zM193.4 291.90h4.7v0.85h-4.7zM193.4 292.52h4.7v0.85h-4.7zM193.4 293.76h4.7v0.85h-4.7zM193.4 294.38h4.7v0.85h-4.7zM193.4 295.62h4.7v0.85h-4.7zM193.4 296.24h4.7v0.85h-4.7zM193.4 296.86h4.7v0.85h-4.7zM193.4 298.10h4.7v0.85h-4.7zM193.4 298.72h4.7v0.85h-4.7zM193.4 300.58h4.7v0.85h-4.7zM193.4 301.20h4.7v0.85h-4.7zM193.4 301.82h4.7v0.85h-4.7zM193.4 302.44h4.7v0.85h-4.7zM193.4 303.06h4.7v0.85h-4.7zM193.4 303.68h4.7v0.85h-4.7zM193.4 304.30h4.7v0.85h-4.7zM193.4 304.92h4.7v0.85h-4.7zM193.4 305.54h4.7v0.85h-4.7zM193.4 306.16h4.7v0.85h-4.7zM193.4 306.78h4.7v0.85h-4.7zM193.4 307.40h4.7v0.85h-4.7zM216.6 289.42h1.3v0.85h-1.3zM226.5 288.80h2.4v0.85h-2.4zM222.5 289.42h2.3v0.85h-2.3zM227.9 290.66h0.7v0.85h-0.7zM228.0 293.76h6.3v0.85h-6.3zM232.4 296.24h2.6v0.85h-2.6zM229.4 296.86h4.4v0.85h-4.4zM227.3 301.82h3.3v0.85h-3.3zM232.2 302.44h1.4v0.85h-1.4zM229.8 302.44h0.7v0.85h-0.7zM220.7 303.06h5.7v0.85h-5.7zM224.6 303.06h1.9v0.85h-1.9zM229.9 306.16h2.7v0.85h-2.7zM228.7 306.78h4.9v0.85h-4.9zM233.0 307.40h3.8v0.85h-3.8zM230.1 293.76h21.9v0.85h-21.9zM269.3 296.24h0.7v0.85h-0.7zM272.1 299.96h1.8v0.85h-1.8zM274.8 289.42h6.1v0.85h-6.1zM277.5 290.04h5.7v0.85h-5.7zM275.2 290.04h6.1v0.85h-6.1zM278.0 292.52h0.7v0.85h-0.7zM278.4 294.38h2.0v0.85h-2.0zM280.1 296.24h3.1v0.85h-3.1zM278.8 296.86h4.9v0.85h-4.9zM278.9 298.72h2.1v0.85h-2.1zM279.7 299.96h1.8v0.85h-1.8zM275.9 303.06h5.0v0.85h-5.0zM276.1 306.16h3.8v0.85h-3.8zM274.9 307.40h6.1v0.85h-6.1zM289.9 290.04h0.7v0.85h-0.7zM315.3 289.42h0.7v0.85h-0.7zM317.0 290.04h1.5v0.85h-1.5zM315.5 290.66h0.8v0.85h-0.8zM314.4 290.66h5.8v0.85h-5.8zM316.5 292.52h2.4v0.85h-2.4zM316.9 293.76h0.7v0.85h-0.7zM315.8 293.76h7.3v0.85h-7.3zM316.6 293.76h7.3v0.85h-7.3zM313.3 295.00h6.9v0.85h-6.9zM315.2 295.00h5.3v0.85h-5.3zM315.7 296.24h3.3v0.85h-3.3zM316.2 296.86h1.9v0.85h-1.9zM314.3 299.34h3.0v0.85h-3.0zM319.5 299.96h1.7v0.85h-1.7zM317.6 300.58h3.0v0.85h-3.0zM316.9 300.58h6.8v0.85h-6.8zM316.5 300.58h5.6v0.85h-5.6zM313.0 300.58h7.3v0.85h-7.3zM314.9 301.20h3.3v0.85h-3.3zM312.8 301.82h7.3v0.85h-7.3zM319.8 302.44h0.7v0.85h-0.7zM321.4 302.44h0.7v0.85h-0.7zM314.3 303.68h4.5v0.85h-4.5zM317.8 304.92h1.1v0.85h-1.1zM315.4 305.54h0.7v0.85h-0.7zM317.8 305.54h5.3v0.85h-5.3zM315.8 307.40h2.8v0.85h-2.8zM315.5 307.40h4.3v0.85h-4.3zM335.3 290.66h0.9v0.85h-0.9zM336.5 299.96h0.7v0.85h-0.7zM343.7 301.82h5.1v0.85h-5.1zM344.3 306.16h3.5v0.85h-3.5zM357.1 290.04h0.7v0.85h-0.7zM372.4 296.86h1.0v0.85h-1.0zM370.3 296.86h2.6v0.85h-2.6zM358.9 304.92h1.2v0.85h-1.2zM65.6 308.22h2.3v0.85h-2.3zM72.2 313.80h9.1v0.85h-9.1zM96.6 308.84h1.9v0.85h-1.9zM95.6 309.46h3.3v0.85h-3.3zM102.7 315.66h0.7v0.85h-0.7zM116.5 311.94h5.9v0.85h-5.9zM121.3 311.94h0.7v0.85h-0.7zM139.0 313.80h1.7v0.85h-1.7zM143.3 307.60h1.2v0.85h-1.2zM154.1 308.22h1.7v0.85h-1.7zM145.7 308.22h12.1v0.85h-12.1zM143.7 309.46h1.8v0.85h-1.8zM153.4 310.70h0.7v0.85h-0.7zM155.5 311.32h2.1v0.85h-2.1zM152.4 312.56h1.6v0.85h-1.6zM149.8 312.56h4.7v0.85h-4.7zM153.0 315.04h0.7v0.85h-0.7zM149.3 315.04h0.7v0.85h-0.7zM154.4 315.66h0.7v0.85h-0.7zM141.1 315.66h7.0v0.85h-7.0zM169.0 307.60h1.9v0.85h-1.9zM168.2 308.22h3.0v0.85h-3.0zM169.2 308.22h3.0v0.85h-3.0zM168.4 311.94h3.0v0.85h-3.0zM171.3 316.28h0.9v0.85h-0.9zM193.4 307.60h4.7v0.85h-4.7zM193.4 308.22h4.7v0.85h-4.7zM193.4 308.84h4.7v0.85h-4.7zM193.4 309.46h4.7v0.85h-4.7zM193.4 310.08h4.7v0.85h-4.7zM193.4 310.70h4.7v0.85h-4.7zM193.4 311.32h4.7v0.85h-4.7zM193.4 311.94h4.7v0.85h-4.7zM193.4 312.56h4.7v0.85h-4.7zM193.4 313.18h4.7v0.85h-4.7zM193.4 313.80h4.7v0.85h-4.7zM193.4 314.42h4.7v0.85h-4.7zM193.4 315.66h4.7v0.85h-4.7zM193.4 316.28h4.7v0.85h-4.7zM201.4 310.70h3.8v0.85h-3.8zM196.2 312.56h8.4v0.85h-8.4zM222.6 307.60h14.3v0.85h-14.3zM224.7 308.22h0.7v0.85h-0.7zM224.8 308.84h14.3v0.85h-14.3zM226.5 311.94h9.4v0.85h-9.4zM222.3 311.94h14.3v0.85h-14.3zM229.3 313.80h1.9v0.85h-1.9zM229.0 314.42h9.4v0.85h-9.4zM230.3 315.04h4.6v0.85h-4.6zM219.7 316.28h14.3v0.85h-14.3zM221.0 316.28h11.2v0.85h-11.2zM242.1 308.22h1.7v0.85h-1.7zM267.1 308.22h0.7v0.85h-0.7zM278.1 308.84h0.8v0.85h-0.8zM276.4 308.84h0.7v0.85h-0.7zM276.5 313.18h1.0v0.85h-1.0zM281.7 314.42h0.7v0.85h-0.7zM276.7 314.42h5.9v0.85h-5.9zM275.3 315.04h6.1v0.85h-6.1zM276.3 315.04h1.5v0.85h-1.5zM276.6 315.66h1.4v0.85h-1.4zM313.9 307.60h6.4v0.85h-6.4zM314.5 307.60h6.4v0.85h-6.4zM320.9 308.22h1.8v0.85h-1.8zM316.1 308.84h3.9v0.85h-3.9zM316.1 308.84h1.4v0.85h-1.4zM315.6 308.84h0.7v0.85h-0.7zM314.3 309.46h2.9v0.85h-2.9zM315.2 310.08h1.0v0.85h-1.0zM320.8 310.70h0.9v0.85h-0.9zM319.2 313.80h1.0v0.85h-1.0zM317.3 314.42h1.4v0.85h-1.4zM313.6 315.04h7.1v0.85h-7.1zM317.9 315.04h4.9v0.85h-4.9zM316.1 315.04h7.3v0.85h-7.3zM313.3 315.66h7.3v0.85h-7.3zM320.5 316.28h1.1v0.85h-1.1zM336.7 307.60h4.1v0.85h-4.1zM321.7 308.84h6.5v0.85h-6.5zM330.4 308.84h3.3v0.85h-3.3zM323.8 309.46h6.9v0.85h-6.9zM341.1 309.46h1.9v0.85h-1.9zM323.2 310.08h8.9v0.85h-8.9zM334.5 310.70h9.2v0.85h-9.2zM329.8 310.70h0.8v0.85h-0.8zM330.3 310.70h3.1v0.85h-3.1zM334.8 311.32h3.2v0.85h-3.2zM332.4 311.32h0.7v0.85h-0.7zM329.7 311.94h1.3v0.85h-1.3zM339.3 311.94h1.8v0.85h-1.8zM316.3 311.94h21.1v0.85h-21.1zM336.5 312.56h2.8v0.85h-2.8zM340.5 312.56h1.9v0.85h-1.9zM337.7 313.18h3.5v0.85h-3.5zM328.6 313.80h13.9v0.85h-13.9zM332.1 314.42h7.5v0.85h-7.5zM328.1 314.42h1.1v0.85h-1.1zM334.2 315.04h3.4v0.85h-3.4zM334.9 315.66h0.8v0.85h-0.8zM371.6 310.08h0.7v0.85h-0.7zM377.9 314.42h2.3v0.85h-2.3zM82.2 317.52h0.7v0.85h-0.7zM76.1 317.52h3.4v0.85h-3.4zM67.2 318.14h3.1v0.85h-3.1zM77.4 321.24h2.8v0.85h-2.8zM65.8 331.78h2.4v0.85h-2.4zM78.9 332.40h1.0v0.85h-1.0zM81.2 334.26h1.9v0.85h-1.9zM79.4 334.26h0.7v0.85h-0.7zM82.9 337.36h0.7v0.85h-0.7zM61.4 337.36h2.2v0.85h-2.2zM76.2 338.60h0.7v0.85h-0.7zM78.1 341.70h3.0v0.85h-3.0zM61.0 342.94h0.7v0.85h-0.7zM50.6 348.52h0.7v0.85h-0.7zM77.1 349.14h1.0v0.85h-1.0zM102.4 329.92h0.7v0.85h-0.7zM112.3 324.96h0.7v0.85h-0.7zM113.0 334.88h0.7v0.85h-0.7zM125.0 347.28h0.7v0.85h-0.7zM125.6 347.28h2.2v0.85h-2.2zM122.4 351.00h4.3v0.85h-4.3zM130.9 318.76h1.2v0.85h-1.2zM128.2 324.34h2.2v0.85h-2.2zM130.0 324.34h0.7v0.85h-0.7zM136.3 337.36h1.0v0.85h-1.0zM128.3 339.84h0.7v0.85h-0.7zM137.1 351.00h2.8v0.85h-2.8zM148.5 324.34h2.0v0.85h-2.0zM154.2 337.98h0.7v0.85h-0.7zM145.1 339.22h1.3v0.85h-1.3zM155.0 342.94h0.7v0.85h-0.7zM150.1 342.94h9.9v0.85h-9.9zM153.7 347.28h2.3v0.85h-2.3zM149.5 351.00h0.7v0.85h-0.7zM153.2 351.00h4.7v0.85h-4.7zM165.9 318.14h4.0v0.85h-4.0zM156.7 326.20h3.9v0.85h-3.9zM168.4 327.44h0.7v0.85h-0.7zM163.5 347.90h2.3v0.85h-2.3zM168.3 316.90h2.5v0.85h-2.5zM168.7 317.52h1.8v0.85h-1.8zM169.8 318.14h2.8v0.85h-2.8zM169.0 318.76h0.7v0.85h-0.7zM171.0 320.00h0.7v0.85h-0.7zM169.7 325.58h3.0v0.85h-3.0zM168.6 326.82h3.0v0.85h-3.0zM168.9 329.30h0.8v0.85h-0.8zM170.5 329.92h1.2v0.85h-1.2zM170.9 330.54h0.7v0.85h-0.7zM169.1 330.54h3.0v0.85h-3.0zM170.1 331.16h2.0v0.85h-2.0zM169.7 333.02h1.6v0.85h-1.6zM170.0 334.26h2.7v0.85h-2.7zM169.2 336.74h2.4v0.85h-2.4zM168.6 337.36h2.0v0.85h-2.0zM168.8 343.56h3.0v0.85h-3.0zM168.6 344.18h1.4v0.85h-1.4zM169.8 344.80h1.7v0.85h-1.7zM170.8 346.04h1.2v0.85h-1.2zM168.5 347.28h3.0v0.85h-3.0zM169.5 347.28h2.2v0.85h-2.2zM192.2 330.54h0.8v0.85h-0.8zM190.9 333.02h1.9v0.85h-1.9zM186.7 338.60h0.7v0.85h-0.7zM193.4 318.76h4.7v0.85h-4.7zM193.4 319.38h4.7v0.85h-4.7zM193.4 320.00h4.7v0.85h-4.7zM193.4 320.62h4.7v0.85h-4.7zM193.4 322.48h4.7v0.85h-4.7zM193.4 323.10h4.7v0.85h-4.7zM193.4 323.72h4.7v0.85h-4.7zM193.4 324.34h4.7v0.85h-4.7zM193.4 324.96h4.7v0.85h-4.7zM193.4 325.58h4.7v0.85h-4.7zM193.4 326.20h4.7v0.85h-4.7zM193.4 326.82h4.7v0.85h-4.7zM193.4 327.44h4.7v0.85h-4.7zM193.4 328.06h4.7v0.85h-4.7zM193.4 329.30h4.7v0.85h-4.7zM193.4 331.16h4.7v0.85h-4.7zM193.4 331.78h4.7v0.85h-4.7zM193.4 332.40h4.7v0.85h-4.7zM193.4 333.64h4.7v0.85h-4.7zM193.4 334.26h4.7v0.85h-4.7zM193.4 334.88h4.7v0.85h-4.7zM193.4 335.50h4.7v0.85h-4.7zM193.4 336.12h4.7v0.85h-4.7zM193.4 337.36h4.7v0.85h-4.7zM193.4 338.60h4.7v0.85h-4.7zM193.4 339.22h4.7v0.85h-4.7zM193.4 339.84h4.7v0.85h-4.7zM193.4 340.46h4.7v0.85h-4.7zM193.4 341.08h4.7v0.85h-4.7zM193.4 341.70h4.7v0.85h-4.7zM193.4 342.32h4.7v0.85h-4.7zM193.4 342.94h4.7v0.85h-4.7zM193.4 343.56h4.7v0.85h-4.7zM193.4 345.42h4.7v0.85h-4.7zM193.4 346.04h4.7v0.85h-4.7zM193.4 346.66h4.7v0.85h-4.7zM193.4 347.28h4.7v0.85h-4.7zM193.4 347.90h4.7v0.85h-4.7zM193.4 348.52h4.7v0.85h-4.7zM193.4 349.14h4.7v0.85h-4.7zM193.4 349.76h4.7v0.85h-4.7zM193.4 351.00h4.7v0.85h-4.7zM197.9 320.00h0.7v0.85h-0.7zM201.0 323.10h3.1v0.85h-3.1zM201.8 331.78h2.1v0.85h-2.1zM214.7 320.00h1.7v0.85h-1.7zM213.3 339.84h0.9v0.85h-0.9zM234.4 321.86h1.5v0.85h-1.5zM229.1 327.44h0.7v0.85h-0.7zM222.4 327.44h8.7v0.85h-8.7zM229.9 329.92h1.3v0.85h-1.3zM224.3 329.92h1.8v0.85h-1.8zM222.5 331.16h0.7v0.85h-0.7zM232.4 339.22h2.4v0.85h-2.4zM230.0 341.08h0.7v0.85h-0.7zM225.3 343.56h4.9v0.85h-4.9zM228.0 344.18h0.7v0.85h-0.7zM229.6 347.28h2.1v0.85h-2.1zM251.3 320.00h3.3v0.85h-3.3zM244.8 327.44h0.8v0.85h-0.8zM255.6 327.44h0.7v0.85h-0.7zM252.2 349.14h2.9v0.85h-2.9zM257.5 320.62h2.2v0.85h-2.2zM260.1 321.86h1.7v0.85h-1.7zM259.8 323.72h0.7v0.85h-0.7zM259.9 326.20h2.9v0.85h-2.9zM261.4 326.82h0.7v0.85h-0.7zM257.0 327.44h4.4v0.85h-4.4zM259.9 331.16h0.7v0.85h-0.7zM258.0 337.36h4.7v0.85h-4.7zM261.0 340.46h1.8v0.85h-1.8zM258.0 342.32h4.7v0.85h-4.7zM259.4 342.94h0.7v0.85h-0.7zM256.4 344.18h4.7v0.85h-4.7zM258.9 347.28h4.5v0.85h-4.5zM273.1 324.96h1.8v0.85h-1.8zM271.0 351.00h0.7v0.85h-0.7zM277.3 319.38h1.4v0.85h-1.4zM275.3 319.38h4.4v0.85h-4.4zM276.0 321.24h2.8v0.85h-2.8zM279.2 321.86h1.7v0.85h-1.7zM281.6 327.44h1.2v0.85h-1.2zM278.4 329.92h1.2v0.85h-1.2zM280.9 333.02h0.7v0.85h-0.7zM278.4 338.60h0.7v0.85h-0.7zM276.1 339.84h2.7v0.85h-2.7zM279.4 343.56h0.7v0.85h-0.7zM278.9 344.80h0.7v0.85h-0.7zM278.1 345.42h2.8v0.85h-2.8zM281.1 345.42h1.1v0.85h-1.1zM276.0 345.42h6.1v0.85h-6.1zM276.8 346.04h0.7v0.85h-0.7zM276.4 347.90h4.4v0.85h-4.4zM280.6 351.00h1.8v0.85h-1.8zM292.5 325.58h0.7v0.85h-0.7zM290.9 331.78h0.7v0.85h-0.7zM286.7 335.50h0.7v0.85h-0.7zM304.2 320.62h0.9v0.85h-0.9zM298.8 333.02h4.1v0.85h-4.1zM297.5 337.36h0.7v0.85h-0.7zM299.3 343.56h0.7v0.85h-0.7zM298.7 346.66h0.7v0.85h-0.7zM298.4 348.52h0.7v0.85h-0.7zM302.6 349.14h0.7v0.85h-0.7zM313.0 322.48h4.2v0.85h-4.2zM312.0 324.34h2.4v0.85h-2.4zM311.5 326.82h0.7v0.85h-0.7zM309.0 341.70h0.7v0.85h-0.7zM310.4 350.38h2.9v0.85h-2.9zM317.9 316.90h2.1v0.85h-2.1zM317.6 318.14h2.5v0.85h-2.5zM318.0 322.48h0.8v0.85h-0.8zM316.4 323.10h5.8v0.85h-5.8zM319.0 323.72h1.3v0.85h-1.3zM318.3 325.58h4.8v0.85h-4.8zM321.3 325.58h0.7v0.85h-0.7zM316.6 328.68h2.5v0.85h-2.5zM314.9 330.54h5.8v0.85h-5.8zM321.2 331.16h1.3v0.85h-1.3zM319.2 331.16h1.5v0.85h-1.5zM318.4 332.40h1.1v0.85h-1.1zM315.4 333.64h4.9v0.85h-4.9zM317.5 337.36h1.3v0.85h-1.3zM319.3 337.98h0.8v0.85h-0.8zM318.3 338.60h0.7v0.85h-0.7zM321.0 342.94h0.7v0.85h-0.7zM318.1 346.04h5.8v0.85h-5.8zM315.8 346.04h5.2v0.85h-5.2zM317.6 347.28h5.1v0.85h-5.1zM318.1 347.28h5.1v0.85h-5.1zM319.9 349.14h2.8v0.85h-2.8zM316.3 350.38h0.7v0.85h-0.7zM317.2 351.00h0.9v0.85h-0.9zM321.9 323.72h7.4v0.85h-7.4zM324.9 324.34h6.4v0.85h-6.4zM327.1 332.40h1.0v0.85h-1.0zM324.2 332.40h7.4v0.85h-7.4zM320.3 336.12h7.4v0.85h-7.4zM325.9 338.60h2.1v0.85h-2.1zM322.2 341.08h0.7v0.85h-0.7zM327.3 342.32h3.1v0.85h-3.1zM328.3 342.94h1.0v0.85h-1.0zM326.0 342.94h0.7v0.85h-0.7zM328.2 343.56h0.7v0.85h-0.7zM320.4 344.80h7.4v0.85h-7.4zM324.6 345.42h0.8v0.85h-0.8zM327.4 346.66h2.8v0.85h-2.8zM321.3 351.00h7.4v0.85h-7.4zM331.2 323.10h0.7v0.85h-0.7zM339.1 329.30h2.3v0.85h-2.3zM337.6 331.78h0.7v0.85h-0.7zM336.4 336.74h5.2v0.85h-5.2zM331.7 338.60h0.8v0.85h-0.8zM336.5 345.42h1.8v0.85h-1.8zM344.3 323.72h0.7v0.85h-0.7zM343.7 326.82h1.1v0.85h-1.1zM342.4 328.68h5.1v0.85h-5.1zM346.2 332.40h2.8v0.85h-2.8zM346.0 333.64h1.8v0.85h-1.8zM342.7 337.36h4.4v0.85h-4.4zM347.4 341.70h0.7v0.85h-0.7zM345.7 346.04h1.5v0.85h-1.5zM345.3 346.04h0.7v0.85h-0.7zM342.2 349.14h4.2v0.85h-4.2zM348.9 318.76h0.7v0.85h-0.7zM350.5 320.62h0.7v0.85h-0.7zM350.6 328.06h1.2v0.85h-1.2zM364.6 336.74h1.0v0.85h-1.0zM362.6 338.60h4.6v0.85h-4.6zM349.9 344.80h0.7v0.85h-0.7zM376.9 326.82h1.7v0.85h-1.7zM384.7 344.80h1.2v0.85h-1.2zM390.1 339.22h0.7v0.85h-0.7zM69.4 351.50h2.7v0.85h-2.7zM53.5 351.50h0.7v0.85h-0.7zM72.2 358.32h1.3v0.85h-1.3zM78.8 363.28h6.5v0.85h-6.5zM55.3 379.40h2.4v0.85h-2.4zM67.9 380.64h2.4v0.85h-2.4zM50.4 386.22h2.6v0.85h-2.6zM69.1 403.58h0.9v0.85h-0.9zM71.6 405.44h2.3v0.85h-2.3zM74.0 409.78h1.3v0.85h-1.3zM94.2 352.12h9.1v0.85h-9.1zM88.0 353.36h1.7v0.85h-1.7zM96.4 383.74h0.7v0.85h-0.7zM110.9 359.56h0.7v0.85h-0.7zM110.1 360.18h1.6v0.85h-1.6zM122.2 366.38h0.7v0.85h-0.7zM113.0 369.48h0.7v0.85h-0.7zM115.2 370.72h2.4v0.85h-2.4zM121.7 382.50h0.7v0.85h-0.7zM118.0 399.86h4.3v0.85h-4.3zM109.2 402.34h2.1v0.85h-2.1zM126.5 403.58h1.6v0.85h-1.6zM108.5 410.40h0.7v0.85h-0.7zM136.2 363.28h2.0v0.85h-2.0zM133.6 386.22h1.8v0.85h-1.8zM133.1 407.30h0.7v0.85h-0.7zM155.4 357.08h2.9v0.85h-2.9zM143.8 371.96h2.8v0.85h-2.8zM141.9 383.12h1.6v0.85h-1.6zM150.8 391.18h6.9v0.85h-6.9zM153.6 392.42h5.0v0.85h-5.0zM149.7 395.52h0.9v0.85h-0.9zM150.2 399.86h1.5v0.85h-1.5zM152.8 407.30h1.3v0.85h-1.3zM160.6 357.70h0.7v0.85h-0.7zM165.6 396.76h2.7v0.85h-2.7zM169.5 351.50h2.1v0.85h-2.1zM170.1 353.36h0.8v0.85h-0.8zM168.1 362.04h3.0v0.85h-3.0zM168.4 362.04h3.0v0.85h-3.0zM169.7 362.66h3.0v0.85h-3.0zM171.0 363.90h0.7v0.85h-0.7zM170.7 367.00h0.7v0.85h-0.7zM169.8 370.72h2.3v0.85h-2.3zM168.5 375.68h3.0v0.85h-3.0zM170.8 375.68h0.7v0.85h-0.7zM169.1 375.68h3.0v0.85h-3.0zM171.1 379.40h0.7v0.85h-0.7zM169.1 383.12h0.7v0.85h-0.7zM168.9 384.98h3.0v0.85h-3.0zM170.2 392.42h1.1v0.85h-1.1zM170.0 402.34h2.7v0.85h-2.7zM170.9 402.96h0.7v0.85h-0.7zM169.0 408.54h2.7v0.85h-2.7zM168.5 409.16h3.0v0.85h-3.0zM171.9 373.82h0.7v0.85h-0.7zM178.3 396.14h4.3v0.85h-4.3zM182.7 399.86h0.7v0.85h-0.7zM183.6 401.10h6.8v0.85h-6.8zM194.5 388.08h0.7v0.85h-0.7zM194.6 399.24h3.9v0.85h-3.9zM193.9 408.54h1.3v0.85h-1.3zM203.9 361.42h2.8v0.85h-2.8zM201.1 369.48h7.2v0.85h-7.2zM198.9 382.50h0.7v0.85h-0.7zM199.8 408.54h7.5v0.85h-7.5zM201.2 410.40h1.8v0.85h-1.8zM216.3 367.00h2.4v0.85h-2.4zM207.5 380.02h0.7v0.85h-0.7zM214.5 398.62h0.7v0.85h-0.7zM220.8 402.34h0.7v0.85h-0.7zM223.9 357.70h10.6v0.85h-10.6zM230.8 360.18h2.8v0.85h-2.8zM226.0 360.80h1.9v0.85h-1.9zM223.2 365.76h0.7v0.85h-0.7zM224.0 368.86h3.5v0.85h-3.5zM226.8 371.34h0.7v0.85h-0.7zM226.3 371.34h2.6v0.85h-2.6zM230.3 373.20h0.7v0.85h-0.7zM226.7 374.44h5.5v0.85h-5.5zM223.5 375.06h1.7v0.85h-1.7zM231.7 375.68h0.7v0.85h-0.7zM225.3 376.30h3.0v0.85h-3.0zM222.3 376.30h4.1v0.85h-4.1zM227.9 381.26h1.8v0.85h-1.8zM221.8 383.12h0.7v0.85h-0.7zM229.8 387.46h2.7v0.85h-2.7zM224.5 389.94h4.3v0.85h-4.3zM221.9 389.94h5.9v0.85h-5.9zM220.5 391.18h4.6v0.85h-4.6zM219.6 393.66h10.9v0.85h-10.9zM232.9 396.76h1.2v0.85h-1.2zM221.0 396.76h1.7v0.85h-1.7zM231.3 396.76h0.7v0.85h-0.7zM225.5 398.00h0.7v0.85h-0.7zM219.3 398.00h14.3v0.85h-14.3zM225.4 398.62h1.9v0.85h-1.9zM230.1 401.10h6.4v0.85h-6.4zM222.7 407.30h1.3v0.85h-1.3zM229.4 410.40h1.3v0.85h-1.3zM223.1 411.64h0.7v0.85h-0.7zM229.9 411.64h1.8v0.85h-1.8zM225.2 412.26h8.0v0.85h-8.0zM249.9 362.66h0.9v0.85h-0.9zM249.7 370.10h0.7v0.85h-0.7zM249.5 373.20h0.7v0.85h-0.7zM243.7 375.68h0.7v0.85h-0.7zM250.6 380.02h0.9v0.85h-0.9zM249.9 387.46h2.5v0.85h-2.5zM236.7 389.94h0.7v0.85h-0.7zM247.8 391.80h0.7v0.85h-0.7zM248.0 394.28h0.7v0.85h-0.7zM246.8 394.90h0.7v0.85h-0.7zM238.9 395.52h1.3v0.85h-1.3zM252.3 395.52h4.2v0.85h-4.2zM242.7 399.24h0.7v0.85h-0.7zM241.7 405.44h2.0v0.85h-2.0zM268.6 356.46h3.1v0.85h-3.1zM263.0 364.52h2.1v0.85h-2.1zM258.6 371.34h0.7v0.85h-0.7zM270.4 398.00h1.8v0.85h-1.8zM264.3 398.00h2.5v0.85h-2.5zM260.8 399.24h2.1v0.85h-2.1zM270.4 399.24h0.7v0.85h-0.7zM276.0 352.12h4.9v0.85h-4.9zM281.4 352.74h0.8v0.85h-0.8zM276.8 355.84h1.8v0.85h-1.8zM278.8 360.80h4.2v0.85h-4.2zM280.7 362.04h0.7v0.85h-0.7zM278.4 362.66h0.7v0.85h-0.7zM280.5 366.38h2.1v0.85h-2.1zM278.2 367.62h0.7v0.85h-0.7zM279.3 368.24h3.1v0.85h-3.1zM277.7 370.72h2.0v0.85h-2.0zM278.5 375.06h1.6v0.85h-1.6zM281.8 378.16h0.7v0.85h-0.7zM279.8 380.64h0.7v0.85h-0.7zM277.9 380.64h1.5v0.85h-1.5zM279.0 382.50h3.2v0.85h-3.2zM278.1 386.22h1.1v0.85h-1.1zM280.8 388.08h0.7v0.85h-0.7zM279.5 388.70h2.8v0.85h-2.8zM275.5 389.94h5.4v0.85h-5.4zM279.4 391.18h0.7v0.85h-0.7zM279.6 391.18h3.0v0.85h-3.0zM278.6 391.80h0.7v0.85h-0.7zM276.9 395.52h3.5v0.85h-3.5zM281.4 396.14h1.1v0.85h-1.1zM277.0 396.76h2.1v0.85h-2.1zM279.5 398.00h0.7v0.85h-0.7zM275.7 399.86h6.1v0.85h-6.1zM281.6 404.20h0.8v0.85h-0.8zM277.0 406.68h1.0v0.85h-1.0zM275.2 408.54h5.2v0.85h-5.2zM280.3 410.40h0.8v0.85h-0.8zM287.0 373.82h1.3v0.85h-1.3zM289.6 388.08h2.1v0.85h-2.1zM288.9 393.66h1.6v0.85h-1.6zM287.1 396.14h3.3v0.85h-3.3zM286.3 401.72h0.7v0.85h-0.7zM304.0 395.52h0.7v0.85h-0.7zM298.5 404.82h0.7v0.85h-0.7zM308.7 399.86h0.8v0.85h-0.8zM312.3 406.06h1.3v0.85h-1.3zM312.4 409.16h1.7v0.85h-1.7zM317.0 354.60h4.7v0.85h-4.7zM315.7 355.84h3.1v0.85h-3.1zM316.3 358.94h0.7v0.85h-0.7zM315.6 362.66h5.8v0.85h-5.8zM316.8 369.48h1.9v0.85h-1.9zM318.5 371.96h0.7v0.85h-0.7zM319.7 376.30h0.7v0.85h-0.7zM318.0 378.16h0.7v0.85h-0.7zM320.7 378.78h0.7v0.85h-0.7zM318.3 382.50h4.3v0.85h-4.3zM316.9 384.98h1.6v0.85h-1.6zM318.1 387.46h1.9v0.85h-1.9zM317.7 388.70h4.6v0.85h-4.6zM316.2 391.80h3.8v0.85h-3.8zM315.3 391.80h3.9v0.85h-3.9zM317.4 393.04h5.8v0.85h-5.8zM319.8 396.14h0.7v0.85h-0.7zM317.2 398.62h0.7v0.85h-0.7zM319.0 399.24h3.4v0.85h-3.4zM318.0 409.78h1.6v0.85h-1.6zM325.7 351.50h2.0v0.85h-2.0zM321.8 358.94h3.9v0.85h-3.9zM322.1 359.56h2.5v0.85h-2.5zM327.3 360.80h1.0v0.85h-1.0zM322.7 362.04h5.5v0.85h-5.5zM326.6 362.66h2.5v0.85h-2.5zM326.4 363.90h3.2v0.85h-3.2zM321.6 363.90h6.7v0.85h-6.7zM326.4 367.00h2.0v0.85h-2.0zM322.7 370.10h0.7v0.85h-0.7zM321.1 376.92h5.0v0.85h-5.0zM323.8 377.54h4.6v0.85h-4.6zM322.5 378.16h1.7v0.85h-1.7zM324.2 378.16h0.8v0.85h-0.8zM323.0 379.40h7.4v0.85h-7.4zM323.6 381.88h2.3v0.85h-2.3zM327.5 389.32h1.4v0.85h-1.4zM328.5 390.56h0.7v0.85h-0.7zM323.4 391.80h0.7v0.85h-0.7zM320.3 395.52h6.6v0.85h-6.6zM328.1 398.00h0.7v0.85h-0.7zM323.9 398.62h0.7v0.85h-0.7zM324.5 400.48h2.0v0.85h-2.0zM324.3 402.34h3.4v0.85h-3.4zM325.4 406.68h1.2v0.85h-1.2zM321.7 407.92h5.0v0.85h-5.0zM323.2 412.88h2.8v0.85h-2.8zM341.7 363.28h1.0v0.85h-1.0zM339.8 375.06h0.8v0.85h-0.8zM330.9 381.88h2.0v0.85h-2.0zM333.0 395.52h4.8v0.85h-4.8zM342.3 351.50h5.1v0.85h-5.1zM344.8 352.74h5.1v0.85h-5.1zM345.2 356.46h0.7v0.85h-0.7zM342.6 356.46h2.8v0.85h-2.8zM347.1 358.94h0.7v0.85h-0.7zM344.2 360.18h3.5v0.85h-3.5zM343.3 365.76h3.3v0.85h-3.3zM346.1 368.86h1.4v0.85h-1.4zM342.2 369.48h5.1v0.85h-5.1zM341.9 370.10h5.1v0.85h-5.1zM346.9 375.06h2.0v0.85h-2.0zM343.8 376.30h0.7v0.85h-0.7zM343.7 381.26h0.7v0.85h-0.7zM342.8 386.22h4.8v0.85h-4.8zM346.8 396.14h1.4v0.85h-1.4zM346.8 399.24h2.3v0.85h-2.3zM342.2 403.58h5.1v0.85h-5.1zM343.9 404.20h0.7v0.85h-0.7zM347.3 410.40h0.7v0.85h-0.7zM344.0 410.40h0.7v0.85h-0.7zM353.0 355.22h1.3v0.85h-1.3zM351.6 360.18h0.7v0.85h-0.7zM359.3 360.80h1.8v0.85h-1.8zM351.1 371.96h0.7v0.85h-0.7zM360.2 372.58h0.7v0.85h-0.7zM351.3 378.16h0.7v0.85h-0.7zM349.2 379.40h1.4v0.85h-1.4zM352.9 381.88h3.7v0.85h-3.7zM354.0 382.50h0.7v0.85h-0.7zM355.8 383.74h2.1v0.85h-2.1zM356.9 398.62h2.4v0.85h-2.4zM362.3 399.86h1.5v0.85h-1.5zM357.7 400.48h0.8v0.85h-0.8zM353.6 406.68h1.2v0.85h-1.2zM372.3 412.88h1.1v0.85h-1.1zM372.8 380.64h5.0v0.85h-5.0zM373.8 381.26h0.7v0.85h-0.7zM388.2 388.08h1.1v0.85h-1.1zM258.0 329.00h4.0v2.50h-4.0zM258.0 345.50h4.5v3.00h-4.5zM225.0 400.00h8.0v2.00h-8.0zM169.5 392.50h3.0v3.50h-3.0zM155.6 432.80h18.8v0.85h-18.8zM169.0 437.14h1.0v0.85h-1.0zM281.2 437.14h10.8v0.85h-10.8zM303.9 435.90h0.7v0.85h-0.7zM325.9 433.42h21.1v0.85h-21.1zM322.2 434.66h19.5v0.85h-19.5zM323.3 435.28h20.2v0.85h-20.2zM329.8 436.52h18.0v0.85h-18.0zM317.2 437.14h21.1v0.85h-21.1zM336.5 437.76h1.5v0.85h-1.5zM49.5 439.12h35.4v0.85h-35.4zM62.0 440.36h1.2v0.85h-1.2zM59.0 441.60h15.8v0.85h-15.8zM65.0 442.22h8.3v0.85h-8.3zM78.5 443.46h0.8v0.85h-0.8zM74.6 443.46h8.6v0.85h-8.6zM49.5 444.08h23.6v0.85h-23.6zM93.1 441.60h4.2v0.85h-4.2zM96.9 442.22h0.7v0.85h-0.7zM104.5 440.36h20.0v0.85h-20.0zM113.8 441.60h20.0v0.85h-20.0zM113.0 443.46h4.8v0.85h-4.8zM135.0 441.60h6.3v0.85h-6.3zM129.5 443.46h2.8v0.85h-2.8zM137.4 438.50h15.8v0.85h-15.8zM152.1 442.22h8.0v0.85h-8.0zM145.8 442.84h15.9v0.85h-15.9zM146.3 442.84h15.9v0.85h-15.9zM145.1 443.46h15.9v0.85h-15.9zM155.2 439.12h12.6v0.85h-12.6zM152.1 440.36h18.8v0.85h-18.8zM161.4 442.22h4.4v0.85h-4.4zM181.8 439.12h2.7v0.85h-2.7zM174.9 439.12h16.9v0.85h-16.9zM184.3 439.74h6.4v0.85h-6.4zM174.8 439.74h6.9v0.85h-6.9zM172.4 441.60h16.9v0.85h-16.9zM180.2 443.46h0.7v0.85h-0.7zM179.6 444.08h5.2v0.85h-5.2zM175.9 444.08h16.1v0.85h-16.1zM192.5 439.12h13.1v0.85h-13.1zM202.4 440.36h1.6v0.85h-1.6zM194.3 440.98h9.5v0.85h-9.5zM194.9 440.98h12.2v0.85h-12.2zM193.1 441.60h4.1v0.85h-4.1zM193.2 443.46h1.3v0.85h-1.3zM216.1 440.36h7.1v0.85h-7.1zM210.1 440.98h12.1v0.85h-12.1zM214.6 442.84h6.6v0.85h-6.6zM219.0 444.70h2.6v0.85h-2.6zM207.2 444.70h0.7v0.85h-0.7zM208.7 444.70h0.7v0.85h-0.7zM211.3 444.70h2.2v0.85h-2.2zM233.0 444.08h2.6v0.85h-2.6zM241.8 442.22h4.3v0.85h-4.3zM235.5 442.22h21.9v0.85h-21.9zM253.1 442.84h5.1v0.85h-5.1zM233.9 442.84h7.6v0.85h-7.6zM234.7 442.84h5.0v0.85h-5.0zM238.7 443.46h10.8v0.85h-10.8zM240.6 444.70h14.4v0.85h-14.4zM264.0 438.50h4.4v0.85h-4.4zM252.4 439.74h18.8v0.85h-18.8zM265.0 439.74h11.2v0.85h-11.2zM277.9 441.60h6.1v0.85h-6.1zM287.5 442.84h2.7v0.85h-2.7zM280.4 444.08h12.0v0.85h-12.0zM295.0 443.46h13.1v0.85h-13.1zM295.4 444.08h0.8v0.85h-0.8zM319.7 439.12h1.5v0.85h-1.5zM306.5 439.74h9.5v0.85h-9.5zM310.8 442.22h14.6v0.85h-14.6zM308.3 443.46h13.2v0.85h-13.2zM307.3 443.46h13.7v0.85h-13.7zM337.8 438.50h5.1v0.85h-5.1zM322.6 439.74h21.1v0.85h-21.1zM326.8 440.36h21.1v0.85h-21.1zM321.2 440.98h21.1v0.85h-21.1zM329.5 441.60h2.3v0.85h-2.3zM323.0 444.08h9.1v0.85h-9.1zM318.7 444.08h21.1v0.85h-21.1zM344.9 438.50h3.3v0.85h-3.3zM342.3 442.84h5.1v0.85h-5.1zM348.5 438.50h25.0v0.85h-25.0zM348.5 439.12h25.0v0.85h-25.0zM348.5 439.74h25.0v0.85h-25.0zM348.5 440.36h25.0v0.85h-25.0zM348.5 440.98h25.0v0.85h-25.0zM348.5 441.60h25.0v0.85h-25.0zM348.5 442.22h25.0v0.85h-25.0zM348.5 442.84h25.0v0.85h-25.0zM348.5 444.08h25.0v0.85h-25.0zM348.5 444.70h25.0v0.85h-25.0zM373.7 439.12h9.9v0.85h-9.9zM378.3 440.36h4.7v0.85h-4.7zM382.7 440.98h3.8v0.85h-3.8zM382.9 443.46h4.3v0.85h-4.3zM382.4 444.08h4.3v0.85h-4.3zM386.2 442.84h8.8v0.85h-8.8zM87.6 447.78h23.0v0.85h-23.0zM111.2 445.30h20.0v0.85h-20.0zM164.1 449.02h2.8v0.85h-2.8zM178.6 449.02h13.6v0.85h-13.6zM203.7 445.92h15.0v0.85h-15.0zM206.6 447.16h15.0v0.85h-15.0zM246.8 448.40h12.1v0.85h-12.1zM328.5 446.54h0.8v0.85h-0.8zM343.4 448.40h5.1v0.85h-5.1zM139.7 450.44h15.9v0.85h-15.9zM192.3 456.64h4.1v0.85h-4.1zM193.8 456.64h4.2v0.85h-4.2zM194.0 457.88h5.2v0.85h-5.2zM199.3 458.50h7.9v0.85h-7.9zM297.9 450.44h5.7v0.85h-5.7zM297.3 456.02h6.5v0.85h-6.5zM347.3 451.06h11.4v0.85h-11.4zM373.3 452.30h9.8v0.85h-9.8zM93.1 479.16h11.8v0.85h-11.8zM146.1 465.52h0.7v0.85h-0.7zM181.2 458.70h2.0v0.85h-2.0zM195.4 458.70h1.5v0.85h-1.5zM195.7 459.94h0.9v0.85h-0.9zM192.7 461.80h4.8v0.85h-4.8zM194.5 463.04h3.6v0.85h-3.6zM195.7 464.28h1.3v0.85h-1.3zM192.5 466.14h5.2v0.85h-5.2zM193.6 468.00h0.7v0.85h-0.7zM194.5 469.24h5.2v0.85h-5.2zM201.0 466.14h3.1v0.85h-3.1zM200.9 472.34h6.1v0.85h-6.1zM215.1 464.90h6.7v0.85h-6.7zM265.7 461.80h10.1v0.85h-10.1zM277.1 459.32h3.3v0.85h-3.3zM275.5 459.32h4.6v0.85h-4.6zM277.8 461.80h1.3v0.85h-1.3zM278.0 462.42h6.1v0.85h-6.1zM279.1 463.04h1.0v0.85h-1.0zM281.4 464.28h1.2v0.85h-1.2zM275.4 467.38h6.1v0.85h-6.1zM279.6 469.86h1.1v0.85h-1.1zM277.5 469.86h3.2v0.85h-3.2zM275.2 471.10h4.3v0.85h-4.3zM276.8 472.34h4.8v0.85h-4.8zM274.9 472.96h6.1v0.85h-6.1zM279.3 473.58h0.7v0.85h-0.7zM278.9 474.82h4.7v0.85h-4.7zM279.3 474.82h1.5v0.85h-1.5zM277.6 479.78h0.9v0.85h-0.9zM284.5 458.70h12.0v0.85h-12.0zM288.1 460.56h8.1v0.85h-8.1zM291.3 462.42h4.3v0.85h-4.3zM287.6 476.68h2.1v0.85h-2.1zM298.7 465.52h1.5v0.85h-1.5zM296.8 471.10h2.9v0.85h-2.9zM300.6 472.34h2.8v0.85h-2.8zM305.9 463.66h13.6v0.85h-13.6zM310.1 464.28h11.9v0.85h-11.9zM323.2 460.56h1.0v0.85h-1.0zM325.4 464.90h7.5v0.85h-7.5zM336.4 465.52h2.4v0.85h-2.4zM338.6 468.00h1.3v0.85h-1.3zM326.8 472.34h0.7v0.85h-0.7zM336.7 472.96h6.6v0.85h-6.6zM371.8 465.52h1.7v0.85h-1.7zM349.1 469.86h2.6v0.85h-2.6zM77.1 484.10h1.1v0.85h-1.1zM76.2 490.92h5.3v0.85h-5.3zM76.4 509.52h1.2v0.85h-1.2zM76.0 515.10h2.1v0.85h-2.1zM63.7 516.96h1.8v0.85h-1.8zM73.7 522.54h16.2v0.85h-16.2zM55.9 528.12h8.2v0.85h-8.2zM72.3 534.94h0.7v0.85h-0.7zM61.8 539.90h0.7v0.85h-0.7zM67.1 554.16h0.7v0.85h-0.7zM84.3 560.98h1.1v0.85h-1.1zM93.6 486.58h1.7v0.85h-1.7zM84.5 494.64h6.8v0.85h-6.8zM90.0 505.18h6.6v0.85h-6.6zM102.3 507.66h1.2v0.85h-1.2zM89.5 513.24h20.6v0.85h-20.6zM99.0 541.14h0.7v0.85h-0.7zM101.8 565.32h0.7v0.85h-0.7zM122.8 489.68h7.1v0.85h-7.1zM119.2 510.14h3.9v0.85h-3.9zM120.6 523.78h0.7v0.85h-0.7zM124.3 527.50h4.0v0.85h-4.0zM132.7 482.86h2.8v0.85h-2.8zM140.2 489.68h1.1v0.85h-1.1zM127.5 554.16h8.0v0.85h-8.0zM154.8 481.62h0.7v0.85h-0.7zM154.3 486.58h0.7v0.85h-0.7zM151.1 490.92h0.7v0.85h-0.7zM152.0 547.34h1.2v0.85h-1.2zM160.3 492.16h1.3v0.85h-1.3zM167.2 510.76h0.7v0.85h-0.7zM163.7 514.48h3.4v0.85h-3.4zM164.8 565.32h1.1v0.85h-1.1zM169.9 482.86h1.8v0.85h-1.8zM169.8 488.44h3.0v0.85h-3.0zM170.0 489.68h2.8v0.85h-2.8zM170.0 510.76h0.7v0.85h-0.7zM168.2 513.24h2.9v0.85h-2.9zM170.4 515.72h1.6v0.85h-1.6zM168.9 526.26h0.8v0.85h-0.8zM169.1 526.26h0.7v0.85h-0.7zM170.5 526.88h0.7v0.85h-0.7zM170.0 528.74h1.3v0.85h-1.3zM170.1 529.98h0.7v0.85h-0.7zM170.1 539.28h2.5v0.85h-2.5zM170.3 541.14h0.7v0.85h-0.7zM168.7 545.48h3.0v0.85h-3.0zM169.4 553.54h3.0v0.85h-3.0zM169.4 554.16h3.0v0.85h-3.0zM168.7 559.12h3.0v0.85h-3.0zM180.1 507.04h3.1v0.85h-3.1zM185.1 559.12h1.9v0.85h-1.9zM193.2 481.00h1.4v0.85h-1.4zM192.7 490.92h4.3v0.85h-4.3zM194.3 496.50h1.1v0.85h-1.1zM195.6 500.84h0.7v0.85h-0.7zM197.9 507.04h0.7v0.85h-0.7zM194.6 508.28h5.2v0.85h-5.2zM196.0 515.10h2.3v0.85h-2.3zM194.4 521.30h1.5v0.85h-1.5zM193.1 521.92h5.2v0.85h-5.2zM194.4 535.56h0.7v0.85h-0.7zM195.2 536.18h4.6v0.85h-4.6zM194.8 543.62h1.0v0.85h-1.0zM194.5 546.10h0.7v0.85h-0.7zM194.0 553.54h2.0v0.85h-2.0zM196.9 556.64h1.2v0.85h-1.2zM202.1 503.32h0.7v0.85h-0.7zM204.8 536.80h0.8v0.85h-0.8zM200.8 536.80h5.2v0.85h-5.2zM202.6 562.22h5.5v0.85h-5.5zM210.4 533.08h1.7v0.85h-1.7zM222.9 490.92h3.5v0.85h-3.5zM232.2 501.46h3.7v0.85h-3.7zM219.4 508.28h10.8v0.85h-10.8zM233.7 518.82h2.4v0.85h-2.4zM232.5 533.70h0.8v0.85h-0.8zM227.8 538.04h3.3v0.85h-3.3zM252.2 503.94h1.7v0.85h-1.7zM252.2 529.36h0.7v0.85h-0.7zM253.3 537.42h1.4v0.85h-1.4zM239.8 552.30h2.3v0.85h-2.3zM259.0 494.02h0.7v0.85h-0.7zM256.9 520.68h5.5v0.85h-5.5zM264.3 536.80h1.1v0.85h-1.1zM273.2 550.44h2.5v0.85h-2.5zM259.7 554.16h0.9v0.85h-0.9zM263.7 561.60h1.4v0.85h-1.4zM276.8 486.58h6.1v0.85h-6.1zM280.4 541.76h0.7v0.85h-0.7zM280.5 551.68h0.7v0.85h-0.7zM282.2 493.40h3.9v0.85h-3.9zM296.1 512.00h2.3v0.85h-2.3zM313.8 494.64h3.6v0.85h-3.6zM309.9 497.12h14.6v0.85h-14.6zM312.3 511.38h1.2v0.85h-1.2zM307.7 532.46h2.3v0.85h-2.3zM335.4 481.00h1.1v0.85h-1.1zM336.9 534.94h3.7v0.85h-3.7zM333.7 539.28h1.8v0.85h-1.8zM324.7 541.76h10.5v0.85h-10.5zM330.4 556.02h0.7v0.85h-0.7zM346.2 538.66h0.7v0.85h-0.7zM344.9 563.46h0.7v0.85h-0.7zM367.8 539.28h0.7v0.85h-0.7zM368.1 546.10h1.1v0.85h-1.1zM364.4 561.60h0.7v0.85h-0.7zM377.6 490.92h0.7v0.85h-0.7zM378.2 501.46h0.7v0.85h-0.7zM373.4 522.54h9.9v0.85h-9.9zM375.3 555.40h1.5v0.85h-1.5zM388.5 505.18h1.0v0.85h-1.0zM388.2 513.24h2.5v0.85h-2.5zM73.0 527.00h5.0v2.00h-5.0zM49.5 483.50h7.5v0.80h-7.5zM194.0 495.50h4.5v3.00h-4.5zM194.0 546.00h6.0v4.00h-6.0zM169.0 544.00h3.5v3.00h-3.5z"/>
</g>
<line x1="85.50" y1="282.30" x2="85.50" y2="413.30" stroke="#ababab" stroke-width="0.85"/>
<line x1="108.50" y1="282.30" x2="108.50" y2="413.30" stroke="#ababab" stroke-width="0.85"/>
<line x1="128.50" y1="282.30" x2="128.50" y2="413.30" stroke="#ababab" stroke-width="0.85"/>
<line x1="141.80" y1="282.30" x2="141.80" y2="413.30" stroke="#ababab" stroke-width="0.85"/>
<line x1="157.70" y1="282.30" x2="157.70" y2="413.30" stroke="#ababab" stroke-width="0.85"/>
<line x1="176.50" y1="282.30" x2="176.50" y2="413.30" stroke="#ababab" stroke-width="0.85"/>
<line x1="193.40" y1="282.30" x2="193.40" y2="413.30" stroke="#ababab" stroke-width="0.85"/>
<line x1="206.50" y1="282.30" x2="206.50" y2="413.30" stroke="#ababab" stroke-width="0.85"/>
<line x1="221.50" y1="282.30" x2="221.50" y2="413.30" stroke="#ababab" stroke-width="0.85"/>
<line x1="235.80" y1="282.30" x2="235.80" y2="413.30" stroke="#ababab" stroke-width="0.85"/>
<line x1="257.70" y1="282.30" x2="257.70" y2="413.30" stroke="#ababab" stroke-width="0.85"/>
<line x1="276.50" y1="282.30" x2="276.50" y2="413.30" stroke="#ababab" stroke-width="0.85"/>
<line x1="282.60" y1="282.30" x2="282.60" y2="413.30" stroke="#ababab" stroke-width="0.85"/>
<line x1="294.60" y1="282.30" x2="294.60" y2="413.30" stroke="#ababab" stroke-width="0.85"/>
<line x1="307.70" y1="282.30" x2="307.70" y2="413.30" stroke="#ababab" stroke-width="0.85"/>
<line x1="322.30" y1="282.30" x2="322.30" y2="413.30" stroke="#ababab" stroke-width="0.85"/>
<line x1="343.40" y1="282.30" x2="343.40" y2="413.30" stroke="#ababab" stroke-width="0.85"/>
<line x1="348.50" y1="282.30" x2="348.50" y2="413.30" stroke="#ababab" stroke-width="0.85"/>
<line x1="373.50" y1="282.30" x2="373.50" y2="413.30" stroke="#ababab" stroke-width="0.85"/>
<line x1="383.40" y1="282.30" x2="383.40" y2="413.30" stroke="#ababab" stroke-width="0.85"/>
<line x1="387.70" y1="282.30" x2="387.70" y2="413.30" stroke="#ababab" stroke-width="0.85"/>
<line x1="49.50" y1="288.80" x2="396.50" y2="288.80" stroke="#a8a8a8" stroke-width="0.7"/>
<line x1="49.50" y1="307.60" x2="396.50" y2="307.60" stroke="#a8a8a8" stroke-width="0.7"/>
<line x1="49.50" y1="316.90" x2="396.50" y2="316.90" stroke="#a8a8a8" stroke-width="0.7"/>
<line x1="49.50" y1="351.50" x2="396.50" y2="351.50" stroke="#a8a8a8" stroke-width="0.7"/>
<rect x="49.50" y="282.30" width="347.00" height="131.00" fill="none" stroke="#555" stroke-width="0.7"/>
<line x1="85.50" y1="431.40" x2="85.50" y2="565.80" stroke="#ababab" stroke-width="0.85"/>
<line x1="108.50" y1="431.40" x2="108.50" y2="565.80" stroke="#ababab" stroke-width="0.85"/>
<line x1="128.50" y1="431.40" x2="128.50" y2="565.80" stroke="#ababab" stroke-width="0.85"/>
<line x1="141.80" y1="431.40" x2="141.80" y2="565.80" stroke="#ababab" stroke-width="0.85"/>
<line x1="157.70" y1="431.40" x2="157.70" y2="565.80" stroke="#ababab" stroke-width="0.85"/>
<line x1="176.50" y1="431.40" x2="176.50" y2="565.80" stroke="#ababab" stroke-width="0.85"/>
<line x1="193.40" y1="431.40" x2="193.40" y2="565.80" stroke="#ababab" stroke-width="0.85"/>
<line x1="206.50" y1="431.40" x2="206.50" y2="565.80" stroke="#ababab" stroke-width="0.85"/>
<line x1="221.50" y1="431.40" x2="221.50" y2="565.80" stroke="#ababab" stroke-width="0.85"/>
<line x1="235.80" y1="431.40" x2="235.80" y2="565.80" stroke="#ababab" stroke-width="0.85"/>
<line x1="257.70" y1="431.40" x2="257.70" y2="565.80" stroke="#ababab" stroke-width="0.85"/>
<line x1="276.50" y1="431.40" x2="276.50" y2="565.80" stroke="#ababab" stroke-width="0.85"/>
<line x1="282.60" y1="431.40" x2="282.60" y2="565.80" stroke="#ababab" stroke-width="0.85"/>
<line x1="294.60" y1="431.40" x2="294.60" y2="565.80" stroke="#ababab" stroke-width="0.85"/>
<line x1="307.70" y1="431.40" x2="307.70" y2="565.80" stroke="#ababab" stroke-width="0.85"/>
<line x1="322.30" y1="431.40" x2="322.30" y2="565.80" stroke="#ababab" stroke-width="0.85"/>
<line x1="343.40" y1="431.40" x2="343.40" y2="565.80" stroke="#ababab" stroke-width="0.85"/>
<line x1="348.50" y1="431.40" x2="348.50" y2="565.80" stroke="#ababab" stroke-width="0.85"/>
<line x1="373.50" y1="431.40" x2="373.50" y2="565.80" stroke="#ababab" stroke-width="0.85"/>
<line x1="383.40" y1="431.40" x2="383.40" y2="565.80" stroke="#ababab" stroke-width="0.85"/>
<line x1="387.70" y1="431.40" x2="387.70" y2="565.80" stroke="#ababab" stroke-width="0.85"/>
<line x1="49.50" y1="432.80" x2="396.50" y2="432.80" stroke="#a8a8a8" stroke-width="0.7"/>
<line x1="49.50" y1="438.50" x2="396.50" y2="438.50" stroke="#a8a8a8" stroke-width="0.7"/>
<line x1="49.50" y1="445.30" x2="396.50" y2="445.30" stroke="#a8a8a8" stroke-width="0.7"/>
<line x1="49.50" y1="449.20" x2="396.50" y2="449.20" stroke="#a8a8a8" stroke-width="0.7"/>
<line x1="49.50" y1="458.70" x2="396.50" y2="458.70" stroke="#a8a8a8" stroke-width="0.7"/>
<line x1="49.50" y1="481.00" x2="396.50" y2="481.00" stroke="#a8a8a8" stroke-width="0.7"/>
<rect x="49.50" y="431.40" width="347.00" height="134.40" fill="none" stroke="#555" stroke-width="0.7"/>
<rect x="38.40" y="282.30" width="5.40" height="6.50" fill="#f8d6ee"/>
<rect x="38.40" y="288.80" width="5.40" height="18.80" fill="#f3df96"/>
<rect x="38.40" y="307.60" width="5.40" height="9.30" fill="#a6cc8c"/>
<rect x="38.40" y="316.90" width="5.40" height="35.10" fill="#6fae9c"/>
<rect x="38.40" y="352.00" width="5.40" height="61.50" fill="#3d5f8e"/>
<rect x="38.40" y="282.30" width="5.40" height="131.20" fill="none" stroke="#666" stroke-width="0.4"/>
<rect x="38.40" y="431.30" width="5.40" height="1.50" fill="#823812"/>
<rect x="38.40" y="432.80" width="5.40" height="5.70" fill="#a08c1e"/>
<rect x="38.40" y="438.50" width="5.40" height="6.80" fill="#78c485"/>
<rect x="38.40" y="445.30" width="5.40" height="3.90" fill="#a3d2da"/>
<rect x="38.40" y="449.20" width="5.40" height="9.50" fill="#dcdcfa"/>
<rect x="38.40" y="458.70" width="5.40" height="22.30" fill="#7433b8"/>
<rect x="38.40" y="481.00" width="5.40" height="85.20" fill="#c35cc0"/>
<rect x="38.40" y="431.30" width="5.40" height="134.90" fill="none" stroke="#666" stroke-width="0.4"/>
<text x="33.00" y="347.90" font-size="6.6" fill="#000" font-weight="bold" text-anchor="middle" transform="rotate(-90 33.0 347.9)">Trunk</text>
<text x="33.00" y="499.00" font-size="6.6" fill="#000" font-weight="bold" text-anchor="middle" transform="rotate(-90 33.0 499.0)">Branch</text>
<text x="43.20" y="589.00" font-size="5.0" fill="#000" font-weight="bold" transform="rotate(-90 43.2 589.0)" stroke="#000" stroke-width="0.1">Subtype</text>
<rect x="399.90" y="282.30" width="8.00" height="1.80" fill="#e3061b"/>
<rect x="399.90" y="284.10" width="8.00" height="1.20" fill="#eea030"/>
<rect x="399.90" y="285.30" width="8.00" height="3.50" fill="#fbf72a"/>
<rect x="399.90" y="288.80" width="8.00" height="4.40" fill="#e3061b"/>
<rect x="399.90" y="293.20" width="8.00" height="2.60" fill="#a8209a"/>
<rect x="399.90" y="295.80" width="8.00" height="6.20" fill="#eea030"/>
<rect x="399.90" y="302.00" width="8.00" height="5.00" fill="#fbf72a"/>
<rect x="399.90" y="307.00" width="8.00" height="2.80" fill="#e3061b"/>
<rect x="399.90" y="309.80" width="8.00" height="3.90" fill="#eea030"/>
<rect x="399.90" y="313.70" width="8.00" height="3.20" fill="#fbf72a"/>
<rect x="399.90" y="316.90" width="8.00" height="3.20" fill="#e3061b"/>
<rect x="399.90" y="320.10" width="8.00" height="3.00" fill="#a8209a"/>
<rect x="399.90" y="323.10" width="8.00" height="8.20" fill="#eea030"/>
<rect x="399.90" y="331.30" width="8.00" height="17.80" fill="#fbf72a"/>
<rect x="399.90" y="349.10" width="8.00" height="2.90" fill="#fdf8dc"/>
<rect x="399.90" y="352.00" width="8.00" height="5.90" fill="#e3061b"/>
<rect x="399.90" y="357.90" width="8.00" height="5.80" fill="#a8209a"/>
<rect x="399.90" y="363.70" width="8.00" height="12.90" fill="#eea030"/>
<rect x="399.90" y="376.60" width="8.00" height="28.70" fill="#fbf72a"/>
<rect x="399.90" y="405.30" width="8.00" height="8.00" fill="#fdf8dc"/>
<rect x="399.90" y="431.40" width="8.00" height="2.10" fill="#eea030"/>
<rect x="399.90" y="433.50" width="8.00" height="1.50" fill="#e3061b"/>
<rect x="399.90" y="435.00" width="8.00" height="2.50" fill="#fbf72a"/>
<rect x="399.90" y="437.50" width="8.00" height="1.30" fill="#eea030"/>
<rect x="399.90" y="438.80" width="8.00" height="1.90" fill="#e3061b"/>
<rect x="399.90" y="440.70" width="8.00" height="1.90" fill="#eea030"/>
<rect x="399.90" y="442.60" width="8.00" height="2.50" fill="#fbf72a"/>
<rect x="399.90" y="445.10" width="8.00" height="2.20" fill="#e3061b"/>
<rect x="399.90" y="447.30" width="8.00" height="1.50" fill="#fbf72a"/>
<rect x="399.90" y="448.80" width="8.00" height="1.30" fill="#eea030"/>
<rect x="399.90" y="450.10" width="8.00" height="1.90" fill="#e3061b"/>
<rect x="399.90" y="452.00" width="8.00" height="3.70" fill="#eea030"/>
<rect x="399.90" y="455.70" width="8.00" height="3.20" fill="#fbf72a"/>
<rect x="399.90" y="458.90" width="8.00" height="5.00" fill="#e3061b"/>
<rect x="399.90" y="463.90" width="8.00" height="2.70" fill="#a8209a"/>
<rect x="399.90" y="466.60" width="8.00" height="5.40" fill="#eea030"/>
<rect x="399.90" y="472.00" width="8.00" height="7.50" fill="#fbf72a"/>
<rect x="399.90" y="479.50" width="8.00" height="5.70" fill="#e3061b"/>
<rect x="399.90" y="485.20" width="8.00" height="7.50" fill="#a8209a"/>
<rect x="399.90" y="492.70" width="8.00" height="20.00" fill="#eea030"/>
<rect x="399.90" y="512.70" width="8.00" height="42.50" fill="#fbf72a"/>
<rect x="399.90" y="555.20" width="8.00" height="10.40" fill="#fdf8dc"/>
<rect x="407.9" y="282.30" width="8.2" height="1.81" fill="#f6d2b4"/>
<rect x="407.9" y="284.06" width="8.2" height="1.47" fill="#f2be96"/>
<rect x="407.9" y="285.47" width="8.2" height="1.31" fill="#e48e5a"/>
<rect x="407.9" y="286.74" width="8.2" height="1.19" fill="#f6d2b4"/>
<rect x="407.9" y="287.88" width="8.2" height="1.84" fill="#f6d2b4"/>
<rect x="407.9" y="289.66" width="8.2" height="0.98" fill="#fbe6d2"/>
<rect x="407.9" y="290.59" width="8.2" height="1.36" fill="#eca478"/>
<rect x="407.9" y="291.90" width="8.2" height="1.60" fill="#fbe6d2"/>
<rect x="407.9" y="293.45" width="8.2" height="1.83" fill="#eca478"/>
<rect x="407.9" y="295.22" width="8.2" height="1.25" fill="#fbe6d2"/>
<rect x="407.9" y="296.42" width="8.2" height="1.43" fill="#fbe6d2"/>
<rect x="407.9" y="297.80" width="8.2" height="1.15" fill="#f2be96"/>
<rect x="407.9" y="298.90" width="8.2" height="1.24" fill="#f2be96"/>
<rect x="407.9" y="300.09" width="8.2" height="1.63" fill="#f2be96"/>
<rect x="407.9" y="301.67" width="8.2" height="1.75" fill="#f2be96"/>
<rect x="407.9" y="303.37" width="8.2" height="1.29" fill="#fbe6d2"/>
<rect x="407.9" y="304.61" width="8.2" height="1.79" fill="#eca478"/>
<rect x="407.9" y="306.35" width="8.2" height="0.94" fill="#eca478"/>
<rect x="407.9" y="307.24" width="8.2" height="1.23" fill="#eca478"/>
<rect x="407.9" y="308.42" width="8.2" height="1.05" fill="#f2be96"/>
<rect x="407.9" y="309.41" width="8.2" height="0.81" fill="#f6d2b4"/>
<rect x="407.9" y="310.18" width="8.2" height="0.71" fill="#fbe6d2"/>
<rect x="407.9" y="310.83" width="8.2" height="0.91" fill="#eca478"/>
<rect x="407.9" y="311.69" width="8.2" height="1.78" fill="#f2be96"/>
<rect x="407.9" y="313.42" width="8.2" height="0.85" fill="#f6d2b4"/>
<rect x="407.9" y="314.22" width="8.2" height="1.35" fill="#f6d2b4"/>
<rect x="407.9" y="315.52" width="8.2" height="1.31" fill="#eca478"/>
<rect x="407.9" y="316.78" width="8.2" height="0.69" fill="#e48e5a"/>
<rect x="407.9" y="317.43" width="8.2" height="1.77" fill="#f2be96"/>
<rect x="407.9" y="319.14" width="8.2" height="1.08" fill="#eca478"/>
<rect x="407.9" y="320.17" width="8.2" height="1.64" fill="#f2be96"/>
<rect x="407.9" y="321.77" width="8.2" height="1.23" fill="#f6d2b4"/>
<rect x="407.9" y="322.94" width="8.2" height="1.45" fill="#f2be96"/>
<rect x="407.9" y="324.34" width="8.2" height="1.65" fill="#eca478"/>
<rect x="407.9" y="325.94" width="8.2" height="1.79" fill="#fbe6d2"/>
<rect x="407.9" y="327.68" width="8.2" height="1.82" fill="#eca478"/>
<rect x="407.9" y="329.45" width="8.2" height="1.12" fill="#f6d2b4"/>
<rect x="407.9" y="330.52" width="8.2" height="1.01" fill="#fbe6d2"/>
<rect x="407.9" y="331.48" width="8.2" height="1.62" fill="#f2be96"/>
<rect x="407.9" y="333.05" width="8.2" height="0.98" fill="#fbe6d2"/>
<rect x="407.9" y="333.98" width="8.2" height="0.70" fill="#f2be96"/>
<rect x="407.9" y="334.63" width="8.2" height="1.29" fill="#f6d2b4"/>
<rect x="407.9" y="335.87" width="8.2" height="1.62" fill="#f6d2b4"/>
<rect x="407.9" y="337.44" width="8.2" height="1.06" fill="#f2be96"/>
<rect x="407.9" y="338.45" width="8.2" height="1.21" fill="#f2be96"/>
<rect x="407.9" y="339.61" width="8.2" height="1.48" fill="#fbe6d2"/>
<rect x="407.9" y="341.04" width="8.2" height="1.48" fill="#f2be96"/>
<rect x="407.9" y="342.46" width="8.2" height="1.28" fill="#eca478"/>
<rect x="407.9" y="343.69" width="8.2" height="1.08" fill="#eca478"/>
<rect x="407.9" y="344.72" width="8.2" height="0.98" fill="#f6d2b4"/>
<rect x="407.9" y="345.65" width="8.2" height="0.77" fill="#fbe6d2"/>
<rect x="407.9" y="346.37" width="8.2" height="1.84" fill="#fbe6d2"/>
<rect x="407.9" y="348.16" width="8.2" height="0.75" fill="#eca478"/>
<rect x="407.9" y="348.86" width="8.2" height="1.51" fill="#f6d2b4"/>
<rect x="407.9" y="350.33" width="8.2" height="1.15" fill="#eca478"/>
<rect x="407.9" y="351.43" width="8.2" height="0.94" fill="#eca478"/>
<rect x="407.9" y="352.32" width="8.2" height="1.20" fill="#fbe6d2"/>
<rect x="407.9" y="353.47" width="8.2" height="0.98" fill="#f6d2b4"/>
<rect x="407.9" y="354.40" width="8.2" height="0.81" fill="#f6d2b4"/>
<rect x="407.9" y="355.16" width="8.2" height="0.97" fill="#f2be96"/>
<rect x="407.9" y="356.08" width="8.2" height="0.78" fill="#f2be96"/>
<rect x="407.9" y="356.81" width="8.2" height="0.91" fill="#f2be96"/>
<rect x="407.9" y="357.67" width="8.2" height="1.60" fill="#eca478"/>
<rect x="407.9" y="359.22" width="8.2" height="1.54" fill="#f2be96"/>
<rect x="407.9" y="360.71" width="8.2" height="0.94" fill="#fbe6d2"/>
<rect x="407.9" y="361.61" width="8.2" height="1.65" fill="#fbe6d2"/>
<rect x="407.9" y="363.21" width="8.2" height="1.26" fill="#eca478"/>
<rect x="407.9" y="364.42" width="8.2" height="1.84" fill="#e48e5a"/>
<rect x="407.9" y="366.21" width="8.2" height="0.82" fill="#f2be96"/>
<rect x="407.9" y="366.99" width="8.2" height="1.35" fill="#fbe6d2"/>
<rect x="407.9" y="368.29" width="8.2" height="0.67" fill="#f2be96"/>
<rect x="407.9" y="368.91" width="8.2" height="1.58" fill="#eca478"/>
<rect x="407.9" y="370.44" width="8.2" height="1.16" fill="#eca478"/>
<rect x="407.9" y="371.55" width="8.2" height="0.78" fill="#f2be96"/>
<rect x="407.9" y="372.28" width="8.2" height="1.36" fill="#fbe6d2"/>
<rect x="407.9" y="373.59" width="8.2" height="1.15" fill="#fbe6d2"/>
<rect x="407.9" y="374.69" width="8.2" height="1.81" fill="#f6d2b4"/>
<rect x="407.9" y="376.45" width="8.2" height="1.83" fill="#eca478"/>
<rect x="407.9" y="378.22" width="8.2" height="1.56" fill="#f2be96"/>
<rect x="407.9" y="379.74" width="8.2" height="0.81" fill="#f2be96"/>
<rect x="407.9" y="380.50" width="8.2" height="0.66" fill="#eca478"/>
<rect x="407.9" y="381.11" width="8.2" height="1.74" fill="#f6d2b4"/>
<rect x="407.9" y="382.80" width="8.2" height="1.83" fill="#f2be96"/>
<rect x="407.9" y="384.58" width="8.2" height="1.57" fill="#fbe6d2"/>
<rect x="407.9" y="386.10" width="8.2" height="0.90" fill="#f6d2b4"/>
<rect x="407.9" y="386.95" width="8.2" height="1.19" fill="#eca478"/>
<rect x="407.9" y="388.09" width="8.2" height="0.93" fill="#fbe6d2"/>
<rect x="407.9" y="388.97" width="8.2" height="1.64" fill="#fbe6d2"/>
<rect x="407.9" y="390.56" width="8.2" height="0.87" fill="#fbe6d2"/>
<rect x="407.9" y="391.38" width="8.2" height="1.68" fill="#f6d2b4"/>
<rect x="407.9" y="393.01" width="8.2" height="1.44" fill="#fbe6d2"/>
<rect x="407.9" y="394.41" width="8.2" height="0.91" fill="#f2be96"/>
<rect x="407.9" y="395.27" width="8.2" height="0.75" fill="#eca478"/>
<rect x="407.9" y="395.97" width="8.2" height="1.15" fill="#fbe6d2"/>
<rect x="407.9" y="397.06" width="8.2" height="0.90" fill="#f6d2b4"/>
<rect x="407.9" y="397.92" width="8.2" height="1.75" fill="#e48e5a"/>
<rect x="407.9" y="399.61" width="8.2" height="0.73" fill="#f2be96"/>
<rect x="407.9" y="400.30" width="8.2" height="1.29" fill="#eca478"/>
<rect x="407.9" y="401.54" width="8.2" height="0.71" fill="#f6d2b4"/>
<rect x="407.9" y="402.20" width="8.2" height="1.47" fill="#fbe6d2"/>
<rect x="407.9" y="403.62" width="8.2" height="1.49" fill="#eca478"/>
<rect x="407.9" y="405.06" width="8.2" height="1.57" fill="#f6d2b4"/>
<rect x="407.9" y="406.58" width="8.2" height="1.42" fill="#f6d2b4"/>
<rect x="407.9" y="407.95" width="8.2" height="1.67" fill="#fbe6d2"/>
<rect x="407.9" y="409.57" width="8.2" height="1.76" fill="#f6d2b4"/>
<rect x="407.9" y="411.29" width="8.2" height="0.78" fill="#fbe6d2"/>
<rect x="407.9" y="412.02" width="8.2" height="1.33" fill="#f6d2b4"/>
<rect x="416.1" y="282.30" width="8.0" height="0.82" fill="#5a9660"/>
<rect x="416.1" y="283.07" width="8.0" height="1.49" fill="#5a9660"/>
<rect x="416.1" y="284.51" width="8.0" height="1.12" fill="#5a9660"/>
<rect x="416.1" y="285.58" width="8.0" height="0.87" fill="#5a9660"/>
<rect x="416.1" y="286.40" width="8.0" height="1.60" fill="#72b068"/>
<rect x="416.1" y="287.95" width="8.0" height="0.69" fill="#3a6a5a"/>
<rect x="416.1" y="288.59" width="8.0" height="1.13" fill="#72b068"/>
<rect x="416.1" y="289.67" width="8.0" height="1.02" fill="#3a6a5a"/>
<rect x="416.1" y="290.64" width="8.0" height="0.89" fill="#72b068"/>
<rect x="416.1" y="291.47" width="8.0" height="1.78" fill="#467e5c"/>
<rect x="416.1" y="293.20" width="8.0" height="0.96" fill="#72b068"/>
<rect x="416.1" y="294.11" width="8.0" height="0.69" fill="#3a6a5a"/>
<rect x="416.1" y="294.75" width="8.0" height="1.52" fill="#5a9660"/>
<rect x="416.1" y="296.21" width="8.0" height="1.11" fill="#5a9660"/>
<rect x="416.1" y="297.27" width="8.0" height="0.79" fill="#5a9660"/>
<rect x="416.1" y="298.01" width="8.0" height="1.83" fill="#5a9660"/>
<rect x="416.1" y="299.79" width="8.0" height="1.48" fill="#467e5c"/>
<rect x="416.1" y="301.22" width="8.0" height="1.64" fill="#72b068"/>
<rect x="416.1" y="302.81" width="8.0" height="1.15" fill="#72b068"/>
<rect x="416.1" y="303.92" width="8.0" height="1.07" fill="#5a9660"/>
<rect x="416.1" y="304.93" width="8.0" height="1.20" fill="#3a6a5a"/>
<rect x="416.1" y="306.09" width="8.0" height="0.74" fill="#72b068"/>
<rect x="416.1" y="306.78" width="8.0" height="1.34" fill="#5a9660"/>
<rect x="416.1" y="308.07" width="8.0" height="1.55" fill="#72b068"/>
<rect x="416.1" y="309.57" width="8.0" height="1.82" fill="#3a6a5a"/>
<rect x="416.1" y="311.34" width="8.0" height="1.42" fill="#72b068"/>
<rect x="416.1" y="312.71" width="8.0" height="1.78" fill="#3a6a5a"/>
<rect x="416.1" y="314.44" width="8.0" height="0.75" fill="#5a9660"/>
<rect x="416.1" y="315.14" width="8.0" height="0.89" fill="#3a6a5a"/>
<rect x="416.1" y="315.98" width="8.0" height="1.15" fill="#8cc870"/>
<rect x="416.1" y="317.08" width="8.0" height="1.43" fill="#72b068"/>
<rect x="416.1" y="318.46" width="8.0" height="1.34" fill="#2c4e5a"/>
<rect x="416.1" y="319.75" width="8.0" height="1.19" fill="#3a6a5a"/>
<rect x="416.1" y="320.89" width="8.0" height="1.79" fill="#467e5c"/>
<rect x="416.1" y="322.63" width="8.0" height="1.57" fill="#5a9660"/>
<rect x="416.1" y="324.16" width="8.0" height="1.37" fill="#8cc870"/>
<rect x="416.1" y="325.47" width="8.0" height="1.41" fill="#8cc870"/>
<rect x="416.1" y="326.83" width="8.0" height="1.77" fill="#5a9660"/>
<rect x="416.1" y="328.56" width="8.0" height="0.84" fill="#3a6a5a"/>
<rect x="416.1" y="329.34" width="8.0" height="1.12" fill="#467e5c"/>
<rect x="416.1" y="330.41" width="8.0" height="0.69" fill="#3a6a5a"/>
<rect x="416.1" y="331.04" width="8.0" height="1.79" fill="#8cc870"/>
<rect x="416.1" y="332.78" width="8.0" height="1.60" fill="#8cc870"/>
<rect x="416.1" y="334.34" width="8.0" height="1.05" fill="#3a6a5a"/>
<rect x="416.1" y="335.34" width="8.0" height="0.92" fill="#3a6a5a"/>
<rect x="416.1" y="336.21" width="8.0" height="1.12" fill="#467e5c"/>
<rect x="416.1" y="337.28" width="8.0" height="1.50" fill="#467e5c"/>
<rect x="416.1" y="338.72" width="8.0" height="1.52" fill="#5a9660"/>
<rect x="416.1" y="340.20" width="8.0" height="1.03" fill="#5a9660"/>
<rect x="416.1" y="341.18" width="8.0" height="1.05" fill="#72b068"/>
<rect x="416.1" y="342.17" width="8.0" height="1.02" fill="#5a9660"/>
<rect x="416.1" y="343.14" width="8.0" height="1.43" fill="#3a6a5a"/>
<rect x="416.1" y="344.53" width="8.0" height="1.07" fill="#5a9660"/>
<rect x="416.1" y="345.55" width="8.0" height="1.81" fill="#8cc870"/>
<rect x="416.1" y="347.30" width="8.0" height="1.40" fill="#5a9660"/>
<rect x="416.1" y="348.65" width="8.0" height="1.13" fill="#72b068"/>
<rect x="416.1" y="349.73" width="8.0" height="1.37" fill="#8cc870"/>
<rect x="416.1" y="351.05" width="8.0" height="0.82" fill="#5a9660"/>
<rect x="416.1" y="351.81" width="8.0" height="1.47" fill="#72b068"/>
<rect x="416.1" y="353.24" width="8.0" height="1.40" fill="#467e5c"/>
<rect x="416.1" y="354.59" width="8.0" height="0.80" fill="#3a6a5a"/>
<rect x="416.1" y="355.34" width="8.0" height="1.00" fill="#8cc870"/>
<rect x="416.1" y="356.28" width="8.0" height="1.17" fill="#467e5c"/>
<rect x="416.1" y="357.40" width="8.0" height="0.92" fill="#467e5c"/>
<rect x="416.1" y="358.27" width="8.0" height="1.44" fill="#467e5c"/>
<rect x="416.1" y="359.66" width="8.0" height="1.17" fill="#5a9660"/>
<rect x="416.1" y="360.78" width="8.0" height="1.59" fill="#3a6a5a"/>
<rect x="416.1" y="362.32" width="8.0" height="1.70" fill="#8cc870"/>
<rect x="416.1" y="363.97" width="8.0" height="0.99" fill="#467e5c"/>
<rect x="416.1" y="364.91" width="8.0" height="0.97" fill="#467e5c"/>
<rect x="416.1" y="365.83" width="8.0" height="1.19" fill="#72b068"/>
<rect x="416.1" y="366.97" width="8.0" height="1.20" fill="#8cc870"/>
<rect x="416.1" y="368.12" width="8.0" height="1.15" fill="#5a9660"/>
<rect x="416.1" y="369.22" width="8.0" height="1.49" fill="#5a9660"/>
<rect x="416.1" y="370.66" width="8.0" height="0.83" fill="#467e5c"/>
<rect x="416.1" y="371.44" width="8.0" height="1.67" fill="#5a9660"/>
<rect x="416.1" y="373.05" width="8.0" height="1.13" fill="#8cc870"/>
<rect x="416.1" y="374.13" width="8.0" height="1.45" fill="#467e5c"/>
<rect x="416.1" y="375.53" width="8.0" height="0.71" fill="#8cc870"/>
<rect x="416.1" y="376.19" width="8.0" height="1.26" fill="#5a9660"/>
<rect x="416.1" y="377.40" width="8.0" height="0.83" fill="#3a6a5a"/>
<rect x="416.1" y="378.18" width="8.0" height="1.49" fill="#3a6a5a"/>
<rect x="416.1" y="379.62" width="8.0" height="1.79" fill="#3a6a5a"/>
<rect x="416.1" y="381.36" width="8.0" height="0.72" fill="#2c4e5a"/>
<rect x="416.1" y="382.03" width="8.0" height="1.79" fill="#5a9660"/>
<rect x="416.1" y="383.77" width="8.0" height="1.55" fill="#5a9660"/>
<rect x="416.1" y="385.27" width="8.0" height="1.00" fill="#3a6a5a"/>
<rect x="416.1" y="386.23" width="8.0" height="1.25" fill="#467e5c"/>
<rect x="416.1" y="387.43" width="8.0" height="1.74" fill="#8cc870"/>
<rect x="416.1" y="389.12" width="8.0" height="1.45" fill="#5a9660"/>
<rect x="416.1" y="390.52" width="8.0" height="1.70" fill="#5a9660"/>
<rect x="416.1" y="392.17" width="8.0" height="1.10" fill="#5a9660"/>
<rect x="416.1" y="393.22" width="8.0" height="1.07" fill="#72b068"/>
<rect x="416.1" y="394.24" width="8.0" height="1.06" fill="#5a9660"/>
<rect x="416.1" y="395.25" width="8.0" height="1.10" fill="#3a6a5a"/>
<rect x="416.1" y="396.30" width="8.0" height="1.59" fill="#467e5c"/>
<rect x="416.1" y="397.84" width="8.0" height="0.88" fill="#3a6a5a"/>
<rect x="416.1" y="398.66" width="8.0" height="0.86" fill="#5a9660"/>
<rect x="416.1" y="399.47" width="8.0" height="0.71" fill="#5a9660"/>
<rect x="416.1" y="400.13" width="8.0" height="0.94" fill="#3a6a5a"/>
<rect x="416.1" y="401.01" width="8.0" height="1.30" fill="#8cc870"/>
<rect x="416.1" y="402.26" width="8.0" height="1.13" fill="#5a9660"/>
<rect x="416.1" y="403.34" width="8.0" height="1.01" fill="#8cc870"/>
<rect x="416.1" y="404.30" width="8.0" height="0.99" fill="#72b068"/>
<rect x="416.1" y="405.24" width="8.0" height="0.86" fill="#5a9660"/>
<rect x="416.1" y="406.04" width="8.0" height="1.12" fill="#467e5c"/>
<rect x="416.1" y="407.11" width="8.0" height="0.93" fill="#3a6a5a"/>
<rect x="416.1" y="408.00" width="8.0" height="1.84" fill="#72b068"/>
<rect x="416.1" y="409.79" width="8.0" height="0.75" fill="#5a9660"/>
<rect x="416.1" y="410.49" width="8.0" height="1.61" fill="#3a6a5a"/>
<rect x="416.1" y="412.05" width="8.0" height="1.17" fill="#467e5c"/>
<rect x="416.1" y="413.17" width="8.0" height="0.18" fill="#5a9660"/>
<rect x="424.1" y="282.30" width="8.1" height="1.43" fill="#484848"/>
<rect x="424.1" y="283.68" width="8.1" height="0.92" fill="#2a2a2a"/>
<rect x="424.1" y="284.55" width="8.1" height="0.99" fill="#484848"/>
<rect x="424.1" y="285.49" width="8.1" height="1.32" fill="#3a3a3a"/>
<rect x="424.1" y="286.76" width="8.1" height="1.07" fill="#555555"/>
<rect x="424.1" y="287.78" width="8.1" height="1.43" fill="#888888"/>
<rect x="424.1" y="289.16" width="8.1" height="0.66" fill="#aaaaaa"/>
<rect x="424.1" y="289.77" width="8.1" height="0.73" fill="#1a1a1a"/>
<rect x="424.1" y="290.45" width="8.1" height="1.14" fill="#555555"/>
<rect x="424.1" y="291.54" width="8.1" height="0.74" fill="#2a2a2a"/>
<rect x="424.1" y="292.23" width="8.1" height="1.15" fill="#1a1a1a"/>
<rect x="424.1" y="293.33" width="8.1" height="1.74" fill="#6a6a6a"/>
<rect x="424.1" y="295.02" width="8.1" height="0.81" fill="#2a2a2a"/>
<rect x="424.1" y="295.78" width="8.1" height="1.16" fill="#2a2a2a"/>
<rect x="424.1" y="296.89" width="8.1" height="1.77" fill="#2a2a2a"/>
<rect x="424.1" y="298.61" width="8.1" height="0.95" fill="#1a1a1a"/>
<rect x="424.1" y="299.51" width="8.1" height="0.67" fill="#2a2a2a"/>
<rect x="424.1" y="300.13" width="8.1" height="1.80" fill="#1a1a1a"/>
<rect x="424.1" y="301.87" width="8.1" height="1.76" fill="#3a3a3a"/>
<rect x="424.1" y="303.58" width="8.1" height="1.74" fill="#6a6a6a"/>
<rect x="424.1" y="305.27" width="8.1" height="1.60" fill="#6a6a6a"/>
<rect x="424.1" y="306.82" width="8.1" height="1.72" fill="#3a3a3a"/>
<rect x="424.1" y="308.48" width="8.1" height="1.04" fill="#555555"/>
<rect x="424.1" y="309.47" width="8.1" height="1.30" fill="#555555"/>
<rect x="424.1" y="310.72" width="8.1" height="1.78" fill="#3a3a3a"/>
<rect x="424.1" y="312.45" width="8.1" height="1.35" fill="#2a2a2a"/>
<rect x="424.1" y="313.75" width="8.1" height="0.87" fill="#484848"/>
<rect x="424.1" y="314.57" width="8.1" height="1.56" fill="#484848"/>
<rect x="424.1" y="316.08" width="8.1" height="1.09" fill="#555555"/>
<rect x="424.1" y="317.12" width="8.1" height="1.04" fill="#888888"/>
<rect x="424.1" y="318.10" width="8.1" height="1.63" fill="#555555"/>
<rect x="424.1" y="319.68" width="8.1" height="1.59" fill="#555555"/>
<rect x="424.1" y="321.22" width="8.1" height="1.19" fill="#555555"/>
<rect x="424.1" y="322.36" width="8.1" height="1.71" fill="#2a2a2a"/>
<rect x="424.1" y="324.02" width="8.1" height="0.94" fill="#2a2a2a"/>
<rect x="424.1" y="324.90" width="8.1" height="0.74" fill="#2a2a2a"/>
<rect x="424.1" y="325.59" width="8.1" height="1.19" fill="#2a2a2a"/>
<rect x="424.1" y="326.73" width="8.1" height="1.75" fill="#3a3a3a"/>
<rect x="424.1" y="328.43" width="8.1" height="1.81" fill="#3a3a3a"/>
<rect x="424.1" y="330.19" width="8.1" height="1.17" fill="#3a3a3a"/>
<rect x="424.1" y="331.31" width="8.1" height="1.06" fill="#3a3a3a"/>
<rect x="424.1" y="332.32" width="8.1" height="1.60" fill="#555555"/>
<rect x="424.1" y="333.87" width="8.1" height="1.74" fill="#1a1a1a"/>
<rect x="424.1" y="335.56" width="8.1" height="1.38" fill="#1a1a1a"/>
<rect x="424.1" y="336.89" width="8.1" height="1.55" fill="#555555"/>
<rect x="424.1" y="338.39" width="8.1" height="0.79" fill="#6a6a6a"/>
<rect x="424.1" y="339.13" width="8.1" height="1.61" fill="#484848"/>
<rect x="424.1" y="340.68" width="8.1" height="0.65" fill="#2a2a2a"/>
<rect x="424.1" y="341.29" width="8.1" height="0.82" fill="#3a3a3a"/>
<rect x="424.1" y="342.06" width="8.1" height="0.89" fill="#1a1a1a"/>
<rect x="424.1" y="342.90" width="8.1" height="1.08" fill="#2a2a2a"/>
<rect x="424.1" y="343.93" width="8.1" height="1.22" fill="#484848"/>
<rect x="424.1" y="345.10" width="8.1" height="1.16" fill="#6a6a6a"/>
<rect x="424.1" y="346.21" width="8.1" height="0.91" fill="#2a2a2a"/>
<rect x="424.1" y="347.07" width="8.1" height="0.83" fill="#484848"/>
<rect x="424.1" y="347.85" width="8.1" height="0.83" fill="#484848"/>
<rect x="424.1" y="348.63" width="8.1" height="1.14" fill="#1a1a1a"/>
<rect x="424.1" y="349.72" width="8.1" height="1.80" fill="#3a3a3a"/>
<rect x="424.1" y="351.48" width="8.1" height="1.20" fill="#888888"/>
<rect x="424.1" y="352.62" width="8.1" height="1.76" fill="#2a2a2a"/>
<rect x="424.1" y="354.33" width="8.1" height="1.02" fill="#888888"/>
<rect x="424.1" y="355.30" width="8.1" height="0.94" fill="#6a6a6a"/>
<rect x="424.1" y="356.19" width="8.1" height="0.82" fill="#1a1a1a"/>
<rect x="424.1" y="356.96" width="8.1" height="0.89" fill="#484848"/>
<rect x="424.1" y="357.80" width="8.1" height="1.22" fill="#888888"/>
<rect x="424.1" y="358.96" width="8.1" height="1.33" fill="#484848"/>
<rect x="424.1" y="360.25" width="8.1" height="1.39" fill="#484848"/>
<rect x="424.1" y="361.59" width="8.1" height="0.86" fill="#555555"/>
<rect x="424.1" y="362.40" width="8.1" height="0.75" fill="#2a2a2a"/>
<rect x="424.1" y="363.11" width="8.1" height="0.87" fill="#3a3a3a"/>
<rect x="424.1" y="363.93" width="8.1" height="1.78" fill="#3a3a3a"/>
<rect x="424.1" y="365.66" width="8.1" height="0.67" fill="#2a2a2a"/>
<rect x="424.1" y="366.28" width="8.1" height="1.36" fill="#1a1a1a"/>
<rect x="424.1" y="367.59" width="8.1" height="1.13" fill="#1a1a1a"/>
<rect x="424.1" y="368.67" width="8.1" height="0.95" fill="#2a2a2a"/>
<rect x="424.1" y="369.57" width="8.1" height="1.21" fill="#484848"/>
<rect x="424.1" y="370.73" width="8.1" height="1.42" fill="#3a3a3a"/>
<rect x="424.1" y="372.10" width="8.1" height="1.56" fill="#484848"/>
<rect x="424.1" y="373.61" width="8.1" height="1.56" fill="#888888"/>
<rect x="424.1" y="375.12" width="8.1" height="1.77" fill="#1a1a1a"/>
<rect x="424.1" y="376.84" width="8.1" height="0.76" fill="#2a2a2a"/>
<rect x="424.1" y="377.56" width="8.1" height="1.45" fill="#3a3a3a"/>
<rect x="424.1" y="378.96" width="8.1" height="1.41" fill="#555555"/>
<rect x="424.1" y="380.32" width="8.1" height="1.64" fill="#484848"/>
<rect x="424.1" y="381.91" width="8.1" height="1.17" fill="#3a3a3a"/>
<rect x="424.1" y="383.03" width="8.1" height="1.24" fill="#484848"/>
<rect x="424.1" y="384.22" width="8.1" height="1.26" fill="#2a2a2a"/>
<rect x="424.1" y="385.43" width="8.1" height="1.52" fill="#484848"/>
<rect x="424.1" y="386.90" width="8.1" height="0.76" fill="#3a3a3a"/>
<rect x="424.1" y="387.60" width="8.1" height="1.49" fill="#555555"/>
<rect x="424.1" y="389.04" width="8.1" height="1.21" fill="#555555"/>
<rect x="424.1" y="390.20" width="8.1" height="1.59" fill="#3a3a3a"/>
<rect x="424.1" y="391.74" width="8.1" height="1.09" fill="#484848"/>
<rect x="424.1" y="392.79" width="8.1" height="1.38" fill="#555555"/>
<rect x="424.1" y="394.12" width="8.1" height="0.93" fill="#484848"/>
<rect x="424.1" y="394.99" width="8.1" height="1.11" fill="#484848"/>
<rect x="424.1" y="396.05" width="8.1" height="1.30" fill="#555555"/>
<rect x="424.1" y="397.31" width="8.1" height="0.99" fill="#3a3a3a"/>
<rect x="424.1" y="398.25" width="8.1" height="0.76" fill="#484848"/>
<rect x="424.1" y="398.95" width="8.1" height="1.61" fill="#888888"/>
<rect x="424.1" y="400.51" width="8.1" height="1.17" fill="#484848"/>
<rect x="424.1" y="401.63" width="8.1" height="1.28" fill="#484848"/>
<rect x="424.1" y="402.86" width="8.1" height="0.99" fill="#555555"/>
<rect x="424.1" y="403.80" width="8.1" height="1.61" fill="#555555"/>
<rect x="424.1" y="405.37" width="8.1" height="0.74" fill="#3a3a3a"/>
<rect x="424.1" y="406.06" width="8.1" height="1.77" fill="#3a3a3a"/>
<rect x="424.1" y="407.77" width="8.1" height="1.12" fill="#2a2a2a"/>
<rect x="424.1" y="408.85" width="8.1" height="1.32" fill="#484848"/>
<rect x="424.1" y="410.12" width="8.1" height="1.69" fill="#1a1a1a"/>
<rect x="424.1" y="411.76" width="8.1" height="0.89" fill="#484848"/>
<rect x="424.1" y="412.60" width="8.1" height="0.75" fill="#888888"/>
<rect x="399.90" y="282.30" width="32.30" height="131.00" fill="none" stroke="#444" stroke-width="0.4"/>
<rect x="407.9" y="431.40" width="8.2" height="0.89" fill="#f2be96"/>
<rect x="407.9" y="432.24" width="8.2" height="1.20" fill="#fbe6d2"/>
<rect x="407.9" y="433.39" width="8.2" height="0.87" fill="#e48e5a"/>
<rect x="407.9" y="434.21" width="8.2" height="1.82" fill="#f2be96"/>
<rect x="407.9" y="435.98" width="8.2" height="0.74" fill="#fbe6d2"/>
<rect x="407.9" y="436.67" width="8.2" height="1.21" fill="#fbe6d2"/>
<rect x="407.9" y="437.82" width="8.2" height="1.59" fill="#fbe6d2"/>
<rect x="407.9" y="439.37" width="8.2" height="1.12" fill="#f6d2b4"/>
<rect x="407.9" y="440.44" width="8.2" height="1.14" fill="#fbe6d2"/>
<rect x="407.9" y="441.53" width="8.2" height="1.85" fill="#e48e5a"/>
<rect x="407.9" y="443.33" width="8.2" height="0.93" fill="#f6d2b4"/>
<rect x="407.9" y="444.21" width="8.2" height="1.06" fill="#fbe6d2"/>
<rect x="407.9" y="445.22" width="8.2" height="0.89" fill="#eca478"/>
<rect x="407.9" y="446.05" width="8.2" height="0.76" fill="#f6d2b4"/>
<rect x="407.9" y="446.77" width="8.2" height="1.15" fill="#f6d2b4"/>
<rect x="407.9" y="447.87" width="8.2" height="1.83" fill="#e48e5a"/>
<rect x="407.9" y="449.65" width="8.2" height="1.27" fill="#f6d2b4"/>
<rect x="407.9" y="450.87" width="8.2" height="1.13" fill="#fbe6d2"/>
<rect x="407.9" y="451.94" width="8.2" height="1.11" fill="#fbe6d2"/>
<rect x="407.9" y="453.01" width="8.2" height="1.78" fill="#f6d2b4"/>
<rect x="407.9" y="454.73" width="8.2" height="1.36" fill="#f2be96"/>
<rect x="407.9" y="456.05" width="8.2" height="1.01" fill="#f6d2b4"/>
<rect x="407.9" y="457.01" width="8.2" height="1.23" fill="#f6d2b4"/>
<rect x="407.9" y="458.19" width="8.2" height="0.75" fill="#f2be96"/>
<rect x="407.9" y="458.89" width="8.2" height="0.77" fill="#f6d2b4"/>
<rect x="407.9" y="459.60" width="8.2" height="1.31" fill="#fbe6d2"/>
<rect x="407.9" y="460.86" width="8.2" height="1.49" fill="#f2be96"/>
<rect x="407.9" y="462.30" width="8.2" height="1.29" fill="#eca478"/>
<rect x="407.9" y="463.54" width="8.2" height="1.53" fill="#f6d2b4"/>
<rect x="407.9" y="465.02" width="8.2" height="1.65" fill="#f6d2b4"/>
<rect x="407.9" y="466.62" width="8.2" height="0.84" fill="#fbe6d2"/>
<rect x="407.9" y="467.40" width="8.2" height="1.21" fill="#eca478"/>
<rect x="407.9" y="468.56" width="8.2" height="1.46" fill="#eca478"/>
<rect x="407.9" y="469.97" width="8.2" height="0.75" fill="#eca478"/>
<rect x="407.9" y="470.67" width="8.2" height="1.54" fill="#eca478"/>
<rect x="407.9" y="472.16" width="8.2" height="1.24" fill="#f2be96"/>
<rect x="407.9" y="473.35" width="8.2" height="1.07" fill="#eca478"/>
<rect x="407.9" y="474.37" width="8.2" height="1.31" fill="#eca478"/>
<rect x="407.9" y="475.63" width="8.2" height="0.88" fill="#f6d2b4"/>
<rect x="407.9" y="476.46" width="8.2" height="1.08" fill="#f6d2b4"/>
<rect x="407.9" y="477.49" width="8.2" height="1.01" fill="#fbe6d2"/>
<rect x="407.9" y="478.45" width="8.2" height="1.77" fill="#fbe6d2"/>
<rect x="407.9" y="480.17" width="8.2" height="1.37" fill="#fbe6d2"/>
<rect x="407.9" y="481.50" width="8.2" height="1.22" fill="#fbe6d2"/>
<rect x="407.9" y="482.67" width="8.2" height="1.40" fill="#eca478"/>
<rect x="407.9" y="484.02" width="8.2" height="0.95" fill="#f6d2b4"/>
<rect x="407.9" y="484.91" width="8.2" height="1.10" fill="#f2be96"/>
<rect x="407.9" y="485.97" width="8.2" height="1.57" fill="#f2be96"/>
<rect x="407.9" y="487.48" width="8.2" height="1.77" fill="#eca478"/>
<rect x="407.9" y="489.21" width="8.2" height="1.26" fill="#fbe6d2"/>
<rect x="407.9" y="490.41" width="8.2" height="1.49" fill="#e48e5a"/>
<rect x="407.9" y="491.85" width="8.2" height="1.72" fill="#f6d2b4"/>
<rect x="407.9" y="493.52" width="8.2" height="1.05" fill="#f6d2b4"/>
<rect x="407.9" y="494.52" width="8.2" height="1.47" fill="#f2be96"/>
<rect x="407.9" y="495.94" width="8.2" height="1.24" fill="#fbe6d2"/>
<rect x="407.9" y="497.13" width="8.2" height="1.44" fill="#f2be96"/>
<rect x="407.9" y="498.52" width="8.2" height="1.57" fill="#f2be96"/>
<rect x="407.9" y="500.05" width="8.2" height="0.81" fill="#eca478"/>
<rect x="407.9" y="500.81" width="8.2" height="0.74" fill="#f6d2b4"/>
<rect x="407.9" y="501.50" width="8.2" height="0.65" fill="#fbe6d2"/>
<rect x="407.9" y="502.10" width="8.2" height="1.35" fill="#eca478"/>
<rect x="407.9" y="503.40" width="8.2" height="0.66" fill="#f2be96"/>
<rect x="407.9" y="504.01" width="8.2" height="0.92" fill="#eca478"/>
<rect x="407.9" y="504.88" width="8.2" height="1.38" fill="#eca478"/>
<rect x="407.9" y="506.21" width="8.2" height="1.25" fill="#f2be96"/>
<rect x="407.9" y="507.40" width="8.2" height="1.11" fill="#f6d2b4"/>
<rect x="407.9" y="508.46" width="8.2" height="1.52" fill="#fbe6d2"/>
<rect x="407.9" y="509.93" width="8.2" height="1.18" fill="#eca478"/>
<rect x="407.9" y="511.05" width="8.2" height="0.90" fill="#fbe6d2"/>
<rect x="407.9" y="511.90" width="8.2" height="0.81" fill="#f2be96"/>
<rect x="407.9" y="512.67" width="8.2" height="0.78" fill="#f2be96"/>
<rect x="407.9" y="513.39" width="8.2" height="1.81" fill="#eca478"/>
<rect x="407.9" y="515.15" width="8.2" height="1.46" fill="#fbe6d2"/>
<rect x="407.9" y="516.56" width="8.2" height="1.75" fill="#f2be96"/>
<rect x="407.9" y="518.27" width="8.2" height="0.81" fill="#f2be96"/>
<rect x="407.9" y="519.02" width="8.2" height="1.04" fill="#fbe6d2"/>
<rect x="407.9" y="520.01" width="8.2" height="1.17" fill="#f6d2b4"/>
<rect x="407.9" y="521.13" width="8.2" height="0.96" fill="#fbe6d2"/>
<rect x="407.9" y="522.04" width="8.2" height="1.20" fill="#fbe6d2"/>
<rect x="407.9" y="523.20" width="8.2" height="1.64" fill="#f6d2b4"/>
<rect x="407.9" y="524.79" width="8.2" height="1.16" fill="#f6d2b4"/>
<rect x="407.9" y="525.90" width="8.2" height="1.46" fill="#f6d2b4"/>
<rect x="407.9" y="527.31" width="8.2" height="0.94" fill="#f6d2b4"/>
<rect x="407.9" y="528.20" width="8.2" height="0.86" fill="#fbe6d2"/>
<rect x="407.9" y="529.01" width="8.2" height="1.58" fill="#f6d2b4"/>
<rect x="407.9" y="530.54" width="8.2" height="1.71" fill="#eca478"/>
<rect x="407.9" y="532.20" width="8.2" height="1.14" fill="#eca478"/>
<rect x="407.9" y="533.29" width="8.2" height="1.38" fill="#f6d2b4"/>
<rect x="407.9" y="534.62" width="8.2" height="1.19" fill="#f2be96"/>
<rect x="407.9" y="535.76" width="8.2" height="1.56" fill="#f2be96"/>
<rect x="407.9" y="537.27" width="8.2" height="0.84" fill="#f2be96"/>
<rect x="407.9" y="538.06" width="8.2" height="1.18" fill="#f2be96"/>
<rect x="407.9" y="539.18" width="8.2" height="1.02" fill="#f6d2b4"/>
<rect x="407.9" y="540.15" width="8.2" height="0.86" fill="#fbe6d2"/>
<rect x="407.9" y="540.96" width="8.2" height="1.77" fill="#f6d2b4"/>
<rect x="407.9" y="542.68" width="8.2" height="1.75" fill="#f2be96"/>
<rect x="407.9" y="544.38" width="8.2" height="1.03" fill="#eca478"/>
<rect x="407.9" y="545.36" width="8.2" height="1.82" fill="#f2be96"/>
<rect x="407.9" y="547.14" width="8.2" height="1.66" fill="#e48e5a"/>
<rect x="407.9" y="548.75" width="8.2" height="1.48" fill="#eca478"/>
<rect x="407.9" y="550.18" width="8.2" height="1.69" fill="#f6d2b4"/>
<rect x="407.9" y="551.82" width="8.2" height="1.03" fill="#fbe6d2"/>
<rect x="407.9" y="552.80" width="8.2" height="1.09" fill="#eca478"/>
<rect x="407.9" y="553.85" width="8.2" height="1.74" fill="#f2be96"/>
<rect x="407.9" y="555.54" width="8.2" height="0.86" fill="#f2be96"/>
<rect x="407.9" y="556.35" width="8.2" height="1.09" fill="#f2be96"/>
<rect x="407.9" y="557.39" width="8.2" height="1.76" fill="#f2be96"/>
<rect x="407.9" y="559.10" width="8.2" height="1.77" fill="#f2be96"/>
<rect x="407.9" y="560.82" width="8.2" height="1.16" fill="#f2be96"/>
<rect x="407.9" y="561.94" width="8.2" height="1.80" fill="#f2be96"/>
<rect x="407.9" y="563.69" width="8.2" height="0.78" fill="#e48e5a"/>
<rect x="407.9" y="564.42" width="8.2" height="1.23" fill="#f6d2b4"/>
<rect x="416.1" y="431.40" width="8.0" height="1.18" fill="#5a9660"/>
<rect x="416.1" y="432.53" width="8.0" height="1.16" fill="#3a6a5a"/>
<rect x="416.1" y="433.64" width="8.0" height="1.46" fill="#467e5c"/>
<rect x="416.1" y="435.05" width="8.0" height="1.15" fill="#467e5c"/>
<rect x="416.1" y="436.15" width="8.0" height="1.67" fill="#5a9660"/>
<rect x="416.1" y="437.77" width="8.0" height="1.81" fill="#8cc870"/>
<rect x="416.1" y="439.53" width="8.0" height="1.21" fill="#5a9660"/>
<rect x="416.1" y="440.69" width="8.0" height="1.39" fill="#467e5c"/>
<rect x="416.1" y="442.03" width="8.0" height="1.76" fill="#5a9660"/>
<rect x="416.1" y="443.73" width="8.0" height="1.00" fill="#72b068"/>
<rect x="416.1" y="444.68" width="8.0" height="1.70" fill="#5a9660"/>
<rect x="416.1" y="446.34" width="8.0" height="1.76" fill="#5a9660"/>
<rect x="416.1" y="448.05" width="8.0" height="0.70" fill="#72b068"/>
<rect x="416.1" y="448.70" width="8.0" height="1.19" fill="#5a9660"/>
<rect x="416.1" y="449.84" width="8.0" height="1.77" fill="#5a9660"/>
<rect x="416.1" y="451.56" width="8.0" height="0.73" fill="#72b068"/>
<rect x="416.1" y="452.24" width="8.0" height="1.32" fill="#3a6a5a"/>
<rect x="416.1" y="453.51" width="8.0" height="0.71" fill="#72b068"/>
<rect x="416.1" y="454.18" width="8.0" height="1.68" fill="#5a9660"/>
<rect x="416.1" y="455.81" width="8.0" height="1.84" fill="#467e5c"/>
<rect x="416.1" y="457.60" width="8.0" height="0.77" fill="#72b068"/>
<rect x="416.1" y="458.32" width="8.0" height="1.07" fill="#5a9660"/>
<rect x="416.1" y="459.34" width="8.0" height="0.70" fill="#5a9660"/>
<rect x="416.1" y="459.99" width="8.0" height="1.47" fill="#5a9660"/>
<rect x="416.1" y="461.41" width="8.0" height="1.45" fill="#72b068"/>
<rect x="416.1" y="462.81" width="8.0" height="1.29" fill="#72b068"/>
<rect x="416.1" y="464.05" width="8.0" height="1.68" fill="#5a9660"/>
<rect x="416.1" y="465.68" width="8.0" height="0.83" fill="#3a6a5a"/>
<rect x="416.1" y="466.46" width="8.0" height="1.04" fill="#72b068"/>
<rect x="416.1" y="467.45" width="8.0" height="0.93" fill="#5a9660"/>
<rect x="416.1" y="468.34" width="8.0" height="0.81" fill="#72b068"/>
<rect x="416.1" y="469.09" width="8.0" height="0.76" fill="#3a6a5a"/>
<rect x="416.1" y="469.81" width="8.0" height="1.62" fill="#3a6a5a"/>
<rect x="416.1" y="471.38" width="8.0" height="1.19" fill="#72b068"/>
<rect x="416.1" y="472.52" width="8.0" height="1.58" fill="#72b068"/>
<rect x="416.1" y="474.05" width="8.0" height="1.69" fill="#5a9660"/>
<rect x="416.1" y="475.69" width="8.0" height="0.72" fill="#8cc870"/>
<rect x="416.1" y="476.36" width="8.0" height="0.93" fill="#467e5c"/>
<rect x="416.1" y="477.25" width="8.0" height="1.30" fill="#8cc870"/>
<rect x="416.1" y="478.50" width="8.0" height="1.47" fill="#8cc870"/>
<rect x="416.1" y="479.92" width="8.0" height="0.70" fill="#5a9660"/>
<rect x="416.1" y="480.57" width="8.0" height="1.26" fill="#5a9660"/>
<rect x="416.1" y="481.78" width="8.0" height="1.32" fill="#467e5c"/>
<rect x="416.1" y="483.05" width="8.0" height="1.34" fill="#467e5c"/>
<rect x="416.1" y="484.34" width="8.0" height="0.92" fill="#5a9660"/>
<rect x="416.1" y="485.21" width="8.0" height="0.86" fill="#8cc870"/>
<rect x="416.1" y="486.02" width="8.0" height="0.76" fill="#3a6a5a"/>
<rect x="416.1" y="486.72" width="8.0" height="1.26" fill="#72b068"/>
<rect x="416.1" y="487.93" width="8.0" height="1.59" fill="#8cc870"/>
<rect x="416.1" y="489.47" width="8.0" height="1.61" fill="#467e5c"/>
<rect x="416.1" y="491.04" width="8.0" height="1.43" fill="#5a9660"/>
<rect x="416.1" y="492.42" width="8.0" height="0.70" fill="#467e5c"/>
<rect x="416.1" y="493.07" width="8.0" height="1.31" fill="#467e5c"/>
<rect x="416.1" y="494.33" width="8.0" height="1.07" fill="#467e5c"/>
<rect x="416.1" y="495.35" width="8.0" height="1.11" fill="#467e5c"/>
<rect x="416.1" y="496.41" width="8.0" height="0.75" fill="#5a9660"/>
<rect x="416.1" y="497.11" width="8.0" height="1.00" fill="#3a6a5a"/>
<rect x="416.1" y="498.06" width="8.0" height="1.28" fill="#5a9660"/>
<rect x="416.1" y="499.29" width="8.0" height="1.76" fill="#5a9660"/>
<rect x="416.1" y="501.00" width="8.0" height="1.55" fill="#3a6a5a"/>
<rect x="416.1" y="502.51" width="8.0" height="0.75" fill="#8cc870"/>
<rect x="416.1" y="503.21" width="8.0" height="1.68" fill="#5a9660"/>
<rect x="416.1" y="504.84" width="8.0" height="1.05" fill="#72b068"/>
<rect x="416.1" y="505.84" width="8.0" height="1.18" fill="#467e5c"/>
<rect x="416.1" y="506.97" width="8.0" height="1.31" fill="#72b068"/>
<rect x="416.1" y="508.23" width="8.0" height="1.62" fill="#8cc870"/>
<rect x="416.1" y="509.80" width="8.0" height="1.17" fill="#3a6a5a"/>
<rect x="416.1" y="510.92" width="8.0" height="0.97" fill="#467e5c"/>
<rect x="416.1" y="511.84" width="8.0" height="0.98" fill="#3a6a5a"/>
<rect x="416.1" y="512.78" width="8.0" height="1.74" fill="#3a6a5a"/>
<rect x="416.1" y="514.47" width="8.0" height="1.64" fill="#3a6a5a"/>
<rect x="416.1" y="516.06" width="8.0" height="1.51" fill="#5a9660"/>
<rect x="416.1" y="517.52" width="8.0" height="1.79" fill="#72b068"/>
<rect x="416.1" y="519.26" width="8.0" height="1.28" fill="#5a9660"/>
<rect x="416.1" y="520.49" width="8.0" height="1.13" fill="#72b068"/>
<rect x="416.1" y="521.57" width="8.0" height="1.35" fill="#8cc870"/>
<rect x="416.1" y="522.87" width="8.0" height="0.84" fill="#72b068"/>
<rect x="416.1" y="523.65" width="8.0" height="1.24" fill="#2c4e5a"/>
<rect x="416.1" y="524.85" width="8.0" height="1.45" fill="#3a6a5a"/>
<rect x="416.1" y="526.24" width="8.0" height="1.71" fill="#5a9660"/>
<rect x="416.1" y="527.90" width="8.0" height="1.23" fill="#5a9660"/>
<rect x="416.1" y="529.08" width="8.0" height="1.04" fill="#72b068"/>
<rect x="416.1" y="530.07" width="8.0" height="1.37" fill="#467e5c"/>
<rect x="416.1" y="531.39" width="8.0" height="1.64" fill="#3a6a5a"/>
<rect x="416.1" y="532.98" width="8.0" height="0.75" fill="#467e5c"/>
<rect x="416.1" y="533.67" width="8.0" height="0.77" fill="#72b068"/>
<rect x="416.1" y="534.39" width="8.0" height="1.76" fill="#72b068"/>
<rect x="416.1" y="536.10" width="8.0" height="1.37" fill="#5a9660"/>
<rect x="416.1" y="537.42" width="8.0" height="0.85" fill="#72b068"/>
<rect x="416.1" y="538.22" width="8.0" height="1.45" fill="#5a9660"/>
<rect x="416.1" y="539.63" width="8.0" height="1.72" fill="#5a9660"/>
<rect x="416.1" y="541.30" width="8.0" height="1.03" fill="#467e5c"/>
<rect x="416.1" y="542.28" width="8.0" height="0.82" fill="#467e5c"/>
<rect x="416.1" y="543.05" width="8.0" height="1.74" fill="#5a9660"/>
<rect x="416.1" y="544.74" width="8.0" height="1.34" fill="#8cc870"/>
<rect x="416.1" y="546.04" width="8.0" height="1.77" fill="#5a9660"/>
<rect x="416.1" y="547.76" width="8.0" height="1.19" fill="#72b068"/>
<rect x="416.1" y="548.90" width="8.0" height="0.85" fill="#5a9660"/>
<rect x="416.1" y="549.69" width="8.0" height="0.98" fill="#3a6a5a"/>
<rect x="416.1" y="550.62" width="8.0" height="1.27" fill="#467e5c"/>
<rect x="416.1" y="551.84" width="8.0" height="0.93" fill="#467e5c"/>
<rect x="416.1" y="552.73" width="8.0" height="1.73" fill="#3a6a5a"/>
<rect x="416.1" y="554.40" width="8.0" height="1.48" fill="#5a9660"/>
<rect x="416.1" y="555.83" width="8.0" height="1.40" fill="#8cc870"/>
<rect x="416.1" y="557.18" width="8.0" height="0.78" fill="#8cc870"/>
<rect x="416.1" y="557.92" width="8.0" height="1.03" fill="#8cc870"/>
<rect x="416.1" y="558.89" width="8.0" height="0.87" fill="#72b068"/>
<rect x="416.1" y="559.71" width="8.0" height="1.01" fill="#3a6a5a"/>
<rect x="416.1" y="560.67" width="8.0" height="1.06" fill="#72b068"/>
<rect x="416.1" y="561.68" width="8.0" height="1.52" fill="#467e5c"/>
<rect x="416.1" y="563.15" width="8.0" height="0.90" fill="#72b068"/>
<rect x="416.1" y="564.00" width="8.0" height="1.65" fill="#5a9660"/>
<rect x="424.1" y="431.40" width="8.1" height="0.89" fill="#6a6a6a"/>
<rect x="424.1" y="432.24" width="8.1" height="1.20" fill="#3a3a3a"/>
<rect x="424.1" y="433.38" width="8.1" height="0.66" fill="#6a6a6a"/>
<rect x="424.1" y="434.00" width="8.1" height="1.22" fill="#484848"/>
<rect x="424.1" y="435.17" width="8.1" height="1.10" fill="#484848"/>
<rect x="424.1" y="436.22" width="8.1" height="1.73" fill="#aaaaaa"/>
<rect x="424.1" y="437.90" width="8.1" height="1.50" fill="#2a2a2a"/>
<rect x="424.1" y="439.35" width="8.1" height="1.69" fill="#2a2a2a"/>
<rect x="424.1" y="440.99" width="8.1" height="1.73" fill="#2a2a2a"/>
<rect x="424.1" y="442.67" width="8.1" height="1.36" fill="#3a3a3a"/>
<rect x="424.1" y="443.98" width="8.1" height="0.96" fill="#484848"/>
<rect x="424.1" y="444.88" width="8.1" height="1.58" fill="#484848"/>
<rect x="424.1" y="446.41" width="8.1" height="1.64" fill="#1a1a1a"/>
<rect x="424.1" y="448.00" width="8.1" height="1.01" fill="#555555"/>
<rect x="424.1" y="448.96" width="8.1" height="1.61" fill="#3a3a3a"/>
<rect x="424.1" y="450.53" width="8.1" height="1.02" fill="#6a6a6a"/>
<rect x="424.1" y="451.50" width="8.1" height="1.07" fill="#3a3a3a"/>
<rect x="424.1" y="452.52" width="8.1" height="1.70" fill="#3a3a3a"/>
<rect x="424.1" y="454.17" width="8.1" height="1.05" fill="#2a2a2a"/>
<rect x="424.1" y="455.17" width="8.1" height="1.41" fill="#555555"/>
<rect x="424.1" y="456.53" width="8.1" height="1.59" fill="#1a1a1a"/>
<rect x="424.1" y="458.07" width="8.1" height="0.73" fill="#555555"/>
<rect x="424.1" y="458.76" width="8.1" height="0.88" fill="#1a1a1a"/>
<rect x="424.1" y="459.59" width="8.1" height="1.85" fill="#484848"/>
<rect x="424.1" y="461.39" width="8.1" height="1.45" fill="#2a2a2a"/>
<rect x="424.1" y="462.78" width="8.1" height="1.25" fill="#1a1a1a"/>
<rect x="424.1" y="463.98" width="8.1" height="1.78" fill="#2a2a2a"/>
<rect x="424.1" y="465.71" width="8.1" height="1.01" fill="#484848"/>
<rect x="424.1" y="466.67" width="8.1" height="0.91" fill="#484848"/>
<rect x="424.1" y="467.53" width="8.1" height="1.12" fill="#2a2a2a"/>
<rect x="424.1" y="468.59" width="8.1" height="1.62" fill="#484848"/>
<rect x="424.1" y="470.16" width="8.1" height="1.83" fill="#2a2a2a"/>
<rect x="424.1" y="471.94" width="8.1" height="0.81" fill="#2a2a2a"/>
<rect x="424.1" y="472.69" width="8.1" height="1.47" fill="#3a3a3a"/>
<rect x="424.1" y="474.12" width="8.1" height="1.39" fill="#aaaaaa"/>
<rect x="424.1" y="475.46" width="8.1" height="1.80" fill="#484848"/>
<rect x="424.1" y="477.21" width="8.1" height="1.40" fill="#2a2a2a"/>
<rect x="424.1" y="478.57" width="8.1" height="1.54" fill="#1a1a1a"/>
<rect x="424.1" y="480.06" width="8.1" height="0.90" fill="#555555"/>
<rect x="424.1" y="480.91" width="8.1" height="1.21" fill="#2a2a2a"/>
<rect x="424.1" y="482.06" width="8.1" height="1.07" fill="#484848"/>
<rect x="424.1" y="483.08" width="8.1" height="1.33" fill="#555555"/>
<rect x="424.1" y="484.36" width="8.1" height="0.72" fill="#6a6a6a"/>
<rect x="424.1" y="485.04" width="8.1" height="0.82" fill="#3a3a3a"/>
<rect x="424.1" y="485.81" width="8.1" height="0.80" fill="#2a2a2a"/>
<rect x="424.1" y="486.56" width="8.1" height="1.28" fill="#484848"/>
<rect x="424.1" y="487.78" width="8.1" height="1.83" fill="#1a1a1a"/>
<rect x="424.1" y="489.56" width="8.1" height="1.30" fill="#3a3a3a"/>
<rect x="424.1" y="490.81" width="8.1" height="1.70" fill="#3a3a3a"/>
<rect x="424.1" y="492.47" width="8.1" height="0.78" fill="#6a6a6a"/>
<rect x="424.1" y="493.20" width="8.1" height="1.46" fill="#3a3a3a"/>
<rect x="424.1" y="494.61" width="8.1" height="1.00" fill="#3a3a3a"/>
<rect x="424.1" y="495.56" width="8.1" height="1.45" fill="#2a2a2a"/>
<rect x="424.1" y="496.97" width="8.1" height="1.81" fill="#1a1a1a"/>
<rect x="424.1" y="498.73" width="8.1" height="1.18" fill="#888888"/>
<rect x="424.1" y="499.86" width="8.1" height="1.67" fill="#6a6a6a"/>
<rect x="424.1" y="501.48" width="8.1" height="1.40" fill="#2a2a2a"/>
<rect x="424.1" y="502.82" width="8.1" height="1.16" fill="#2a2a2a"/>
<rect x="424.1" y="503.93" width="8.1" height="1.64" fill="#1a1a1a"/>
<rect x="424.1" y="505.52" width="8.1" height="1.38" fill="#3a3a3a"/>
<rect x="424.1" y="506.85" width="8.1" height="1.32" fill="#555555"/>
<rect x="424.1" y="508.12" width="8.1" height="0.77" fill="#3a3a3a"/>
<rect x="424.1" y="508.84" width="8.1" height="1.74" fill="#2a2a2a"/>
<rect x="424.1" y="510.53" width="8.1" height="0.93" fill="#3a3a3a"/>
<rect x="424.1" y="511.40" width="8.1" height="1.59" fill="#555555"/>
<rect x="424.1" y="512.94" width="8.1" height="1.73" fill="#2a2a2a"/>
<rect x="424.1" y="514.63" width="8.1" height="0.93" fill="#6a6a6a"/>
<rect x="424.1" y="515.51" width="8.1" height="1.73" fill="#484848"/>
<rect x="424.1" y="517.19" width="8.1" height="1.19" fill="#555555"/>
<rect x="424.1" y="518.33" width="8.1" height="1.70" fill="#484848"/>
<rect x="424.1" y="519.98" width="8.1" height="1.20" fill="#555555"/>
<rect x="424.1" y="521.13" width="8.1" height="1.16" fill="#6a6a6a"/>
<rect x="424.1" y="522.24" width="8.1" height="0.90" fill="#6a6a6a"/>
<rect x="424.1" y="523.09" width="8.1" height="1.67" fill="#484848"/>
<rect x="424.1" y="524.71" width="8.1" height="0.67" fill="#3a3a3a"/>
<rect x="424.1" y="525.33" width="8.1" height="1.62" fill="#3a3a3a"/>
<rect x="424.1" y="526.90" width="8.1" height="0.96" fill="#2a2a2a"/>
<rect x="424.1" y="527.81" width="8.1" height="1.00" fill="#2a2a2a"/>
<rect x="424.1" y="528.76" width="8.1" height="0.67" fill="#3a3a3a"/>
<rect x="424.1" y="529.38" width="8.1" height="1.13" fill="#3a3a3a"/>
<rect x="424.1" y="530.46" width="8.1" height="0.82" fill="#2a2a2a"/>
<rect x="424.1" y="531.23" width="8.1" height="0.93" fill="#6a6a6a"/>
<rect x="424.1" y="532.11" width="8.1" height="1.35" fill="#3a3a3a"/>
<rect x="424.1" y="533.41" width="8.1" height="1.78" fill="#3a3a3a"/>
<rect x="424.1" y="535.14" width="8.1" height="1.04" fill="#3a3a3a"/>
<rect x="424.1" y="536.13" width="8.1" height="1.84" fill="#aaaaaa"/>
<rect x="424.1" y="537.92" width="8.1" height="1.15" fill="#2a2a2a"/>
<rect x="424.1" y="539.03" width="8.1" height="1.66" fill="#6a6a6a"/>
<rect x="424.1" y="540.63" width="8.1" height="1.83" fill="#2a2a2a"/>
<rect x="424.1" y="542.41" width="8.1" height="0.90" fill="#3a3a3a"/>
<rect x="424.1" y="543.26" width="8.1" height="0.65" fill="#2a2a2a"/>
<rect x="424.1" y="543.86" width="8.1" height="0.84" fill="#888888"/>
<rect x="424.1" y="544.65" width="8.1" height="1.54" fill="#2a2a2a"/>
<rect x="424.1" y="546.14" width="8.1" height="0.87" fill="#2a2a2a"/>
<rect x="424.1" y="546.97" width="8.1" height="1.66" fill="#888888"/>
<rect x="424.1" y="548.57" width="8.1" height="1.66" fill="#484848"/>
<rect x="424.1" y="550.19" width="8.1" height="1.47" fill="#3a3a3a"/>
<rect x="424.1" y="551.60" width="8.1" height="0.80" fill="#2a2a2a"/>
<rect x="424.1" y="552.35" width="8.1" height="0.92" fill="#aaaaaa"/>
<rect x="424.1" y="553.22" width="8.1" height="1.80" fill="#484848"/>
<rect x="424.1" y="554.97" width="8.1" height="1.44" fill="#888888"/>
<rect x="424.1" y="556.36" width="8.1" height="1.72" fill="#6a6a6a"/>
<rect x="424.1" y="558.03" width="8.1" height="1.52" fill="#2a2a2a"/>
<rect x="424.1" y="559.50" width="8.1" height="1.22" fill="#6a6a6a"/>
<rect x="424.1" y="560.68" width="8.1" height="1.42" fill="#555555"/>
<rect x="424.1" y="562.05" width="8.1" height="1.46" fill="#2a2a2a"/>
<rect x="424.1" y="563.46" width="8.1" height="1.72" fill="#2a2a2a"/>
<rect x="424.1" y="565.13" width="8.1" height="0.52" fill="#555555"/>
<rect x="399.90" y="431.40" width="32.30" height="134.20" fill="none" stroke="#444" stroke-width="0.4"/>
<text x="404.50" y="568.30" font-size="3.6" fill="#000" font-weight="bold" text-anchor="end" transform="rotate(-90 404.5 568.3)" stroke="#000" stroke-width="0.1">ISUP</text>
<text x="412.60" y="568.30" font-size="3.6" fill="#000" font-weight="bold" text-anchor="end" transform="rotate(-90 412.6 568.3)" stroke="#000" stroke-width="0.1">PSA</text>
<text x="420.60" y="568.30" font-size="3.6" fill="#000" font-weight="bold" text-anchor="end" transform="rotate(-90 420.6 568.3)" stroke="#000" stroke-width="0.1">T</text>
<text x="428.80" y="568.30" font-size="3.6" fill="#000" font-weight="bold" text-anchor="end" transform="rotate(-90 428.8 568.3)" stroke="#000" stroke-width="0.1">Age</text>
<text x="441.50" y="288.00" font-size="4.95" fill="#000" font-weight="bold" text-decoration="underline" stroke="#000" stroke-width="0.1">ISUP GG</text>
<rect x="441.50" y="290.50" width="5.50" height="3.95" fill="#fdf8dc" stroke="#bbb" stroke-width="0.25"/>
<text x="448.30" y="293.80" font-size="4.3" fill="#222" stroke="#222" stroke-width="0.14">1</text>
<rect x="441.50" y="294.45" width="5.50" height="3.95" fill="#fbf72a" stroke="#bbb" stroke-width="0.25"/>
<text x="448.30" y="297.75" font-size="4.3" fill="#222" stroke="#222" stroke-width="0.14">2</text>
<rect x="441.50" y="298.40" width="5.50" height="3.95" fill="#eea030" stroke="#bbb" stroke-width="0.25"/>
<text x="448.30" y="301.70" font-size="4.3" fill="#222" stroke="#222" stroke-width="0.14">3</text>
<rect x="441.50" y="302.35" width="5.50" height="3.95" fill="#a8209a" stroke="#bbb" stroke-width="0.25"/>
<text x="448.30" y="305.65" font-size="4.3" fill="#222" stroke="#222" stroke-width="0.14">4</text>
<rect x="441.50" y="306.30" width="5.50" height="3.95" fill="#e3061b" stroke="#bbb" stroke-width="0.25"/>
<text x="448.30" y="309.60" font-size="4.3" fill="#222" stroke="#222" stroke-width="0.14">5</text>
<text x="441.50" y="317.60" font-size="4.95" fill="#000" font-weight="bold" stroke="#000" stroke-width="0.1">PSA (ng/mL)</text>
<rect x="441.50" y="320.10" width="5.50" height="3.95" fill="#fde5cc" stroke="#bbb" stroke-width="0.25"/>
<text x="448.30" y="323.40" font-size="4.3" fill="#222" stroke="#222" stroke-width="0.14">&lt;10</text>
<rect x="441.50" y="324.05" width="5.50" height="3.95" fill="#f1b27a" stroke="#bbb" stroke-width="0.25"/>
<text x="448.30" y="327.35" font-size="4.3" fill="#222" stroke="#222" stroke-width="0.14">10–20</text>
<rect x="441.50" y="328.00" width="5.50" height="3.95" fill="#d65a16" stroke="#bbb" stroke-width="0.25"/>
<text x="448.30" y="331.30" font-size="4.3" fill="#222" stroke="#222" stroke-width="0.14">&gt;20</text>
<text x="441.50" y="339.50" font-size="4.95" fill="#000" font-weight="bold" stroke="#000" stroke-width="0.1"><tspan text-decoration="underline">T</tspan> category</text>
<rect x="441.50" y="342.00" width="5.50" height="3.95" fill="#e4f07c" stroke="#bbb" stroke-width="0.25"/>
<text x="448.30" y="345.30" font-size="4.3" fill="#222" stroke="#222" stroke-width="0.14">T1</text>
<rect x="441.50" y="345.95" width="5.50" height="3.95" fill="#80c050" stroke="#bbb" stroke-width="0.25"/>
<text x="448.30" y="349.25" font-size="4.3" fill="#222" stroke="#222" stroke-width="0.14">T2</text>
<rect x="441.50" y="349.90" width="5.50" height="3.95" fill="#3f7058" stroke="#bbb" stroke-width="0.25"/>
<text x="448.30" y="353.20" font-size="4.3" fill="#222" stroke="#222" stroke-width="0.14">T3</text>
<rect x="441.50" y="353.85" width="5.50" height="3.95" fill="#1e3a5a" stroke="#bbb" stroke-width="0.25"/>
<text x="448.30" y="357.15" font-size="4.3" fill="#222" stroke="#222" stroke-width="0.14">T4</text>
<text x="441.50" y="365.50" font-size="4.95" fill="#000" font-weight="bold" stroke="#000" stroke-width="0.1">Age</text>
<rect x="441.50" y="368.00" width="5.50" height="3.95" fill="#ffffff" stroke="#bbb" stroke-width="0.25"/>
<text x="448.30" y="371.30" font-size="4.3" fill="#222" stroke="#222" stroke-width="0.14">&lt;40</text>
<rect x="441.50" y="371.95" width="5.50" height="3.95" fill="#c8c8c8" stroke="#bbb" stroke-width="0.25"/>
<text x="448.30" y="375.25" font-size="4.3" fill="#222" stroke="#222" stroke-width="0.14">40–50</text>
<rect x="441.50" y="375.90" width="5.50" height="3.95" fill="#8a8a8a" stroke="#bbb" stroke-width="0.25"/>
<text x="448.30" y="379.20" font-size="4.3" fill="#222" stroke="#222" stroke-width="0.14">50–60</text>
<rect x="441.50" y="379.85" width="5.50" height="3.95" fill="#484848" stroke="#bbb" stroke-width="0.25"/>
<text x="448.30" y="383.15" font-size="4.3" fill="#222" stroke="#222" stroke-width="0.14">60–70</text>
<rect x="441.50" y="383.80" width="5.50" height="3.95" fill="#000000" stroke="#bbb" stroke-width="0.25"/>
<text x="448.30" y="387.10" font-size="4.3" fill="#222" stroke="#222" stroke-width="0.14">&gt;70</text>
<text x="441.50" y="394.20" font-size="4.95" fill="#000" font-weight="bold" stroke="#000" stroke-width="0.1">Missing data</text>
<rect x="441.50" y="396.70" width="5.50" height="3.95" fill="#7085a5" stroke="#bbb" stroke-width="0.25"/>
<text x="448.30" y="400.00" font-size="4.3" fill="#222" stroke="#222" stroke-width="0.14">N/A</text>
<text x="441.50" y="407.40" font-size="4.95" fill="#000" font-weight="bold" stroke="#000" stroke-width="0.1">CCS</text>
<rect x="441.50" y="409.90" width="5.50" height="3.95" fill="#3d5f8e" stroke="#bbb" stroke-width="0.25"/>
<text x="448.30" y="413.20" font-size="4.3" fill="#222" stroke="#222" stroke-width="0.14">CCS1</text>
<rect x="441.50" y="413.85" width="5.50" height="3.95" fill="#6fae9c" stroke="#bbb" stroke-width="0.25"/>
<text x="448.30" y="417.15" font-size="4.3" fill="#222" stroke="#222" stroke-width="0.14">CCS2</text>
<rect x="441.50" y="417.80" width="5.50" height="3.95" fill="#a6cc8c" stroke="#bbb" stroke-width="0.25"/>
<text x="448.30" y="421.10" font-size="4.3" fill="#222" stroke="#222" stroke-width="0.14">CCS3</text>
<rect x="441.50" y="421.75" width="5.50" height="3.95" fill="#f3df96" stroke="#bbb" stroke-width="0.25"/>
<text x="448.30" y="425.05" font-size="4.3" fill="#222" stroke="#222" stroke-width="0.14">CCS4</text>
<rect x="441.50" y="425.70" width="5.50" height="3.95" fill="#f8d6ee" stroke="#bbb" stroke-width="0.25"/>
<text x="448.30" y="429.00" font-size="4.3" fill="#222" stroke="#222" stroke-width="0.14">CCS5</text>
<text x="441.50" y="436.60" font-size="4.95" fill="#000" font-weight="bold" stroke="#000" stroke-width="0.1">SCS</text>
<rect x="441.50" y="439.10" width="5.50" height="3.95" fill="#c35cc0" stroke="#bbb" stroke-width="0.25"/>
<text x="448.30" y="442.40" font-size="4.3" fill="#222" stroke="#222" stroke-width="0.14">SCS1</text>
<rect x="441.50" y="443.05" width="5.50" height="3.95" fill="#7433b8" stroke="#bbb" stroke-width="0.25"/>
<text x="448.30" y="446.35" font-size="4.3" fill="#222" stroke="#222" stroke-width="0.14">SCS2</text>
<rect x="441.50" y="447.00" width="5.50" height="3.95" fill="#dcdcfa" stroke="#bbb" stroke-width="0.25"/>
<text x="448.30" y="450.30" font-size="4.3" fill="#222" stroke="#222" stroke-width="0.14">SCS3</text>
<rect x="441.50" y="450.95" width="5.50" height="3.95" fill="#a3d2da" stroke="#bbb" stroke-width="0.25"/>
<text x="448.30" y="454.25" font-size="4.3" fill="#222" stroke="#222" stroke-width="0.14">SCS4</text>
<rect x="441.50" y="454.90" width="5.50" height="3.95" fill="#78c485" stroke="#bbb" stroke-width="0.25"/>
<text x="448.30" y="458.20" font-size="4.3" fill="#222" stroke="#222" stroke-width="0.14">SCS5</text>
<rect x="441.50" y="458.85" width="5.50" height="3.95" fill="#a08c1e" stroke="#bbb" stroke-width="0.25"/>
<text x="448.30" y="462.15" font-size="4.3" fill="#222" stroke="#222" stroke-width="0.14">SCS6</text>
<rect x="441.50" y="462.80" width="5.50" height="3.95" fill="#823812" stroke="#bbb" stroke-width="0.25"/>
<text x="448.30" y="466.10" font-size="4.3" fill="#222" stroke="#222" stroke-width="0.14">SCS7</text>
<text x="65.35" y="280.20" font-size="3.2" fill="#000" font-weight="bold" transform="rotate(-90 65.35000000000001 280.2)" stroke="#000" stroke-width="0.1">CDC42</text>
<line x1="64.20" y1="280.50" x2="64.20" y2="282.20" stroke="#333" stroke-width="0.4"/>
<text x="85.55" y="280.20" font-size="3.2" fill="#000" font-weight="bold" transform="rotate(-90 85.55000000000001 280.2)" stroke="#000" stroke-width="0.1">ARID1A</text>
<line x1="84.40" y1="280.50" x2="84.40" y2="282.20" stroke="#333" stroke-width="0.4"/>
<text x="99.95" y="280.20" font-size="3.2" fill="#000" font-weight="bold" transform="rotate(-90 99.95 280.2)" stroke="#000" stroke-width="0.1">MCM6</text>
<line x1="98.80" y1="280.50" x2="98.80" y2="282.20" stroke="#333" stroke-width="0.4"/>
<text x="118.15" y="280.20" font-size="3.2" fill="#000" font-weight="bold" transform="rotate(-90 118.15 280.2)" stroke="#000" stroke-width="0.1">PPP4R2</text>
<line x1="117.00" y1="280.50" x2="117.00" y2="282.20" stroke="#333" stroke-width="0.4"/>
<text x="127.85" y="280.20" font-size="3.2" fill="#000" font-weight="bold" transform="rotate(-90 127.85000000000001 280.2)" stroke="#000" stroke-width="0.1">TP63</text>
<line x1="126.70" y1="280.50" x2="126.70" y2="282.20" stroke="#333" stroke-width="0.4"/>
<text x="149.15" y="280.20" font-size="3.2" fill="#000" font-weight="bold" transform="rotate(-90 149.15 280.2)" stroke="#000" stroke-width="0.1">PPP2R2</text>
<line x1="148.00" y1="280.50" x2="148.00" y2="282.20" stroke="#333" stroke-width="0.4"/>
<text x="171.15" y="280.20" font-size="3.2" fill="#000" font-weight="bold" transform="rotate(-90 171.15 280.2)" stroke="#000" stroke-width="0.1">ZNF292</text>
<line x1="170.00" y1="280.50" x2="170.00" y2="282.20" stroke="#333" stroke-width="0.4"/>
<text x="196.95" y="280.20" font-size="3.2" fill="#000" font-weight="bold" transform="rotate(-90 196.95000000000002 280.2)" stroke="#000" stroke-width="0.1">NKX3-1</text>
<line x1="195.80" y1="280.50" x2="195.80" y2="282.20" stroke="#333" stroke-width="0.4"/>
<text x="204.15" y="280.20" font-size="3.2" fill="#000" font-weight="bold" transform="rotate(-90 204.15 280.2)" stroke="#000" stroke-width="0.1">MYC</text>
<line x1="203.00" y1="280.50" x2="203.00" y2="282.20" stroke="#333" stroke-width="0.4"/>
<text x="229.95" y="280.20" font-size="3.2" fill="#000" font-weight="bold" transform="rotate(-90 229.95000000000002 280.2)" stroke="#000" stroke-width="0.1">PTEN</text>
<line x1="228.80" y1="280.50" x2="228.80" y2="282.20" stroke="#333" stroke-width="0.4"/>
<text x="255.45" y="280.20" font-size="3.2" fill="#000" font-weight="bold" transform="rotate(-90 255.45000000000002 280.2)" stroke="#000" stroke-width="0.1">ATM</text>
<line x1="254.30" y1="280.50" x2="254.30" y2="282.20" stroke="#333" stroke-width="0.4"/>
<text x="280.55" y="280.20" font-size="3.2" fill="#000" font-weight="bold" transform="rotate(-90 280.54999999999995 280.2)" stroke="#000" stroke-width="0.1">RB1</text>
<line x1="279.40" y1="280.50" x2="279.40" y2="282.20" stroke="#333" stroke-width="0.4"/>
<text x="322.35" y="280.20" font-size="3.2" fill="#000" font-weight="bold" transform="rotate(-90 322.34999999999997 280.2)" stroke="#000" stroke-width="0.1">FBXO31</text>
<line x1="321.20" y1="280.50" x2="321.20" y2="282.20" stroke="#333" stroke-width="0.4"/>
<text x="388.15" y="280.20" font-size="3.2" fill="#000" font-weight="bold" transform="rotate(-90 388.15 280.2)" stroke="#000" stroke-width="0.1">TMPRSS2</text>
<line x1="387.00" y1="280.50" x2="387.00" y2="282.20" stroke="#333" stroke-width="0.4"/>
<text x="101.15" y="429.40" font-size="3.2" fill="#000" font-weight="bold" transform="rotate(-90 101.15 429.4)" stroke="#000" stroke-width="0.1">MCM6</text>
<line x1="100.00" y1="429.70" x2="100.00" y2="431.40" stroke="#333" stroke-width="0.4"/>
<text x="170.35" y="429.40" font-size="3.2" fill="#000" font-weight="bold" transform="rotate(-90 170.35 429.4)" stroke="#000" stroke-width="0.1">ZNF292</text>
<line x1="169.20" y1="429.70" x2="169.20" y2="431.40" stroke="#333" stroke-width="0.4"/>
<text x="201.15" y="429.40" font-size="3.2" fill="#000" font-weight="bold" transform="rotate(-90 201.15 429.4)" stroke="#000" stroke-width="0.1">NCOA2</text>
<line x1="200.00" y1="429.70" x2="200.00" y2="431.40" stroke="#333" stroke-width="0.4"/>
<text x="229.75" y="429.40" font-size="3.2" fill="#000" font-weight="bold" transform="rotate(-90 229.75 429.4)" stroke="#000" stroke-width="0.1">PALS</text>
<line x1="228.60" y1="429.70" x2="228.60" y2="431.40" stroke="#333" stroke-width="0.4"/>
<text x="262.15" y="429.40" font-size="3.2" fill="#000" font-weight="bold" transform="rotate(-90 262.15 429.4)" stroke="#000" stroke-width="0.1">CDKN1B</text>
<line x1="261.00" y1="429.70" x2="261.00" y2="431.40" stroke="#333" stroke-width="0.4"/>
<text x="321.75" y="429.40" font-size="3.2" fill="#000" font-weight="bold" transform="rotate(-90 321.75 429.4)" stroke="#000" stroke-width="0.1">FBXO31</text>
<line x1="320.60" y1="429.70" x2="320.60" y2="431.40" stroke="#333" stroke-width="0.4"/>
<text x="348.85" y="429.40" font-size="3.2" fill="#000" font-weight="bold" transform="rotate(-90 348.84999999999997 429.4)" stroke="#000" stroke-width="0.1">HNSD3</text>
<line x1="347.70" y1="429.70" x2="347.70" y2="431.40" stroke="#333" stroke-width="0.4"/>
<text x="143.40" y="429.40" font-size="3.0" fill="#000" font-weight="bold" transform="rotate(-90 143.4 429.4)" stroke="#000" stroke-width="0.1">B3GAT</text>
<text x="146.60" y="429.40" font-size="3.0" fill="#000" font-weight="bold" transform="rotate(-90 146.6 429.4)" stroke="#000" stroke-width="0.1">CD2</text>
<line x1="144.60" y1="429.70" x2="144.60" y2="431.40" stroke="#333" stroke-width="0.4"/>
<text x="277.30" y="429.40" font-size="3.0" fill="#000" font-weight="bold" transform="rotate(-90 277.3 429.4)" stroke="#000" stroke-width="0.1">RB1</text>
<text x="280.50" y="429.40" font-size="3.0" fill="#000" font-weight="bold" transform="rotate(-90 280.5 429.4)" stroke="#000" stroke-width="0.1">CUL4A</text>
<line x1="278.50" y1="429.70" x2="278.50" y2="431.40" stroke="#333" stroke-width="0.4"/>
<line x1="67.50" y1="565.80" x2="67.50" y2="567.00" stroke="#333" stroke-width="0.4"/>
<text x="67.50" y="572.20" font-size="3.3" fill="#000" text-anchor="middle" stroke="#000" stroke-width="0.14">1</text>
<line x1="97.00" y1="565.80" x2="97.00" y2="567.00" stroke="#333" stroke-width="0.4"/>
<text x="97.00" y="572.20" font-size="3.3" fill="#000" text-anchor="middle" stroke="#000" stroke-width="0.14">2</text>
<line x1="118.50" y1="565.80" x2="118.50" y2="567.00" stroke="#333" stroke-width="0.4"/>
<text x="118.50" y="572.20" font-size="3.3" fill="#000" text-anchor="middle" stroke="#000" stroke-width="0.14">3</text>
<line x1="135.15" y1="565.80" x2="135.15" y2="567.00" stroke="#333" stroke-width="0.4"/>
<text x="135.15" y="572.20" font-size="3.3" fill="#000" text-anchor="middle" stroke="#000" stroke-width="0.14">4</text>
<line x1="149.75" y1="565.80" x2="149.75" y2="567.00" stroke="#333" stroke-width="0.4"/>
<text x="149.75" y="572.20" font-size="3.3" fill="#000" text-anchor="middle" stroke="#000" stroke-width="0.14">5</text>
<line x1="167.10" y1="565.80" x2="167.10" y2="567.00" stroke="#333" stroke-width="0.4"/>
<text x="167.10" y="572.20" font-size="3.3" fill="#000" text-anchor="middle" stroke="#000" stroke-width="0.14">6</text>
<line x1="184.95" y1="565.80" x2="184.95" y2="567.00" stroke="#333" stroke-width="0.4"/>
<text x="184.95" y="572.20" font-size="3.3" fill="#000" text-anchor="middle" stroke="#000" stroke-width="0.14">7</text>
<line x1="199.95" y1="565.80" x2="199.95" y2="567.00" stroke="#333" stroke-width="0.4"/>
<text x="199.95" y="572.20" font-size="3.3" fill="#000" text-anchor="middle" stroke="#000" stroke-width="0.14">8</text>
<line x1="214.00" y1="565.80" x2="214.00" y2="567.00" stroke="#333" stroke-width="0.4"/>
<text x="214.00" y="572.20" font-size="3.3" fill="#000" text-anchor="middle" stroke="#000" stroke-width="0.14">9</text>
<line x1="228.65" y1="565.80" x2="228.65" y2="567.00" stroke="#333" stroke-width="0.4"/>
<text x="228.65" y="572.20" font-size="3.3" fill="#000" text-anchor="middle" stroke="#000" stroke-width="0.14">10</text>
<line x1="246.75" y1="565.80" x2="246.75" y2="567.00" stroke="#333" stroke-width="0.4"/>
<text x="246.75" y="572.20" font-size="3.3" fill="#000" text-anchor="middle" stroke="#000" stroke-width="0.14">11</text>
<line x1="267.10" y1="565.80" x2="267.10" y2="567.00" stroke="#333" stroke-width="0.4"/>
<text x="267.10" y="572.20" font-size="3.3" fill="#000" text-anchor="middle" stroke="#000" stroke-width="0.14">12</text>
<line x1="279.55" y1="565.80" x2="279.55" y2="567.00" stroke="#333" stroke-width="0.4"/>
<text x="279.55" y="572.20" font-size="3.3" fill="#000" text-anchor="middle" stroke="#000" stroke-width="0.14">13</text>
<line x1="288.60" y1="565.80" x2="288.60" y2="567.00" stroke="#333" stroke-width="0.4"/>
<text x="288.60" y="572.20" font-size="3.3" fill="#000" text-anchor="middle" stroke="#000" stroke-width="0.14">14</text>
<line x1="301.15" y1="565.80" x2="301.15" y2="567.00" stroke="#333" stroke-width="0.4"/>
<text x="301.15" y="572.20" font-size="3.3" fill="#000" text-anchor="middle" stroke="#000" stroke-width="0.14">15</text>
<line x1="315.00" y1="565.80" x2="315.00" y2="567.00" stroke="#333" stroke-width="0.4"/>
<text x="315.00" y="572.20" font-size="3.3" fill="#000" text-anchor="middle" stroke="#000" stroke-width="0.14">16</text>
<line x1="332.85" y1="565.80" x2="332.85" y2="567.00" stroke="#333" stroke-width="0.4"/>
<text x="332.85" y="572.20" font-size="3.3" fill="#000" text-anchor="middle" stroke="#000" stroke-width="0.14">17</text>
<line x1="345.95" y1="565.80" x2="345.95" y2="567.00" stroke="#333" stroke-width="0.4"/>
<text x="345.95" y="572.20" font-size="3.3" fill="#000" text-anchor="middle" stroke="#000" stroke-width="0.14">18</text>
<line x1="361.00" y1="565.80" x2="361.00" y2="567.00" stroke="#333" stroke-width="0.4"/>
<text x="361.00" y="572.20" font-size="3.3" fill="#000" text-anchor="middle" stroke="#000" stroke-width="0.14">19</text>
<line x1="378.45" y1="565.80" x2="378.45" y2="567.00" stroke="#333" stroke-width="0.4"/>
<text x="378.45" y="572.20" font-size="3.3" fill="#000" text-anchor="middle" stroke="#000" stroke-width="0.14">20</text>
<line x1="385.55" y1="565.80" x2="385.55" y2="567.00" stroke="#333" stroke-width="0.4"/>
<text x="385.55" y="572.20" font-size="3.3" fill="#000" text-anchor="middle" stroke="#000" stroke-width="0.14">21</text>
<line x1="392.10" y1="565.80" x2="392.10" y2="567.00" stroke="#333" stroke-width="0.4"/>
<text x="392.10" y="572.20" font-size="3.3" fill="#000" text-anchor="middle" stroke="#000" stroke-width="0.14">22</text>
<rect x="49.30" y="588.60" width="347.00" height="3.30" fill="#fff" stroke="#999" stroke-width="0.5"/>
<rect x="49.30" y="588.60" width="115.70" height="3.30" fill="#1010d0"/>
<rect x="281.20" y="588.60" width="115.10" height="3.30" fill="#c8101a"/>
<text x="45.00" y="597.00" font-size="3.6" fill="#333" stroke="#333" stroke-width="0.14">Loss</text>
<text x="222.70" y="597.00" font-size="3.6" fill="#333" text-anchor="middle" stroke="#333" stroke-width="0.14">Neutral</text>
<text x="392.20" y="597.00" font-size="3.6" fill="#333" stroke="#333" stroke-width="0.14">Gain</text>
</svg></body></html>
